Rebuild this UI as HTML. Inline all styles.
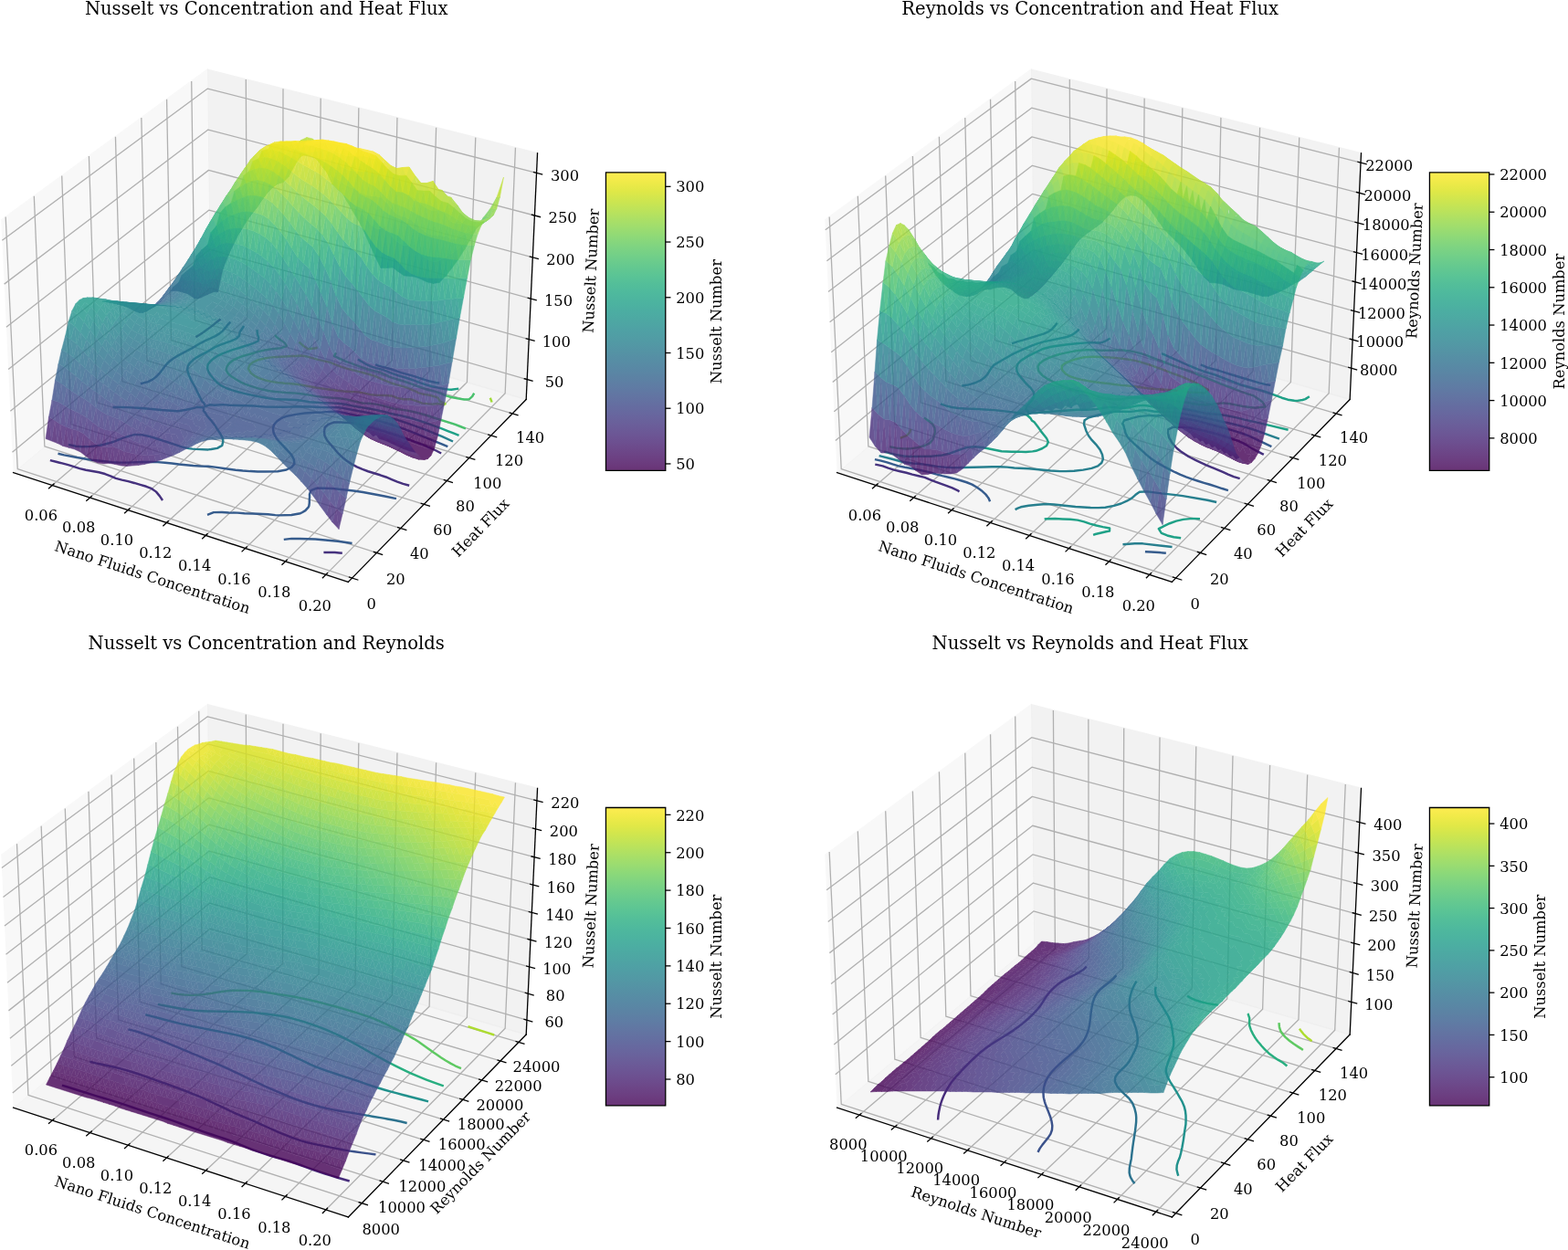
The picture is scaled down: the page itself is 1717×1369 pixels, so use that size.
<!DOCTYPE html><html><head><meta charset="utf-8"><title>Nusselt and Reynolds surfaces</title><style>html,body{margin:0;padding:0;background:#fff}svg{display:block}text{font-family:"DejaVu Serif","Liberation Serif",serif}.sf path{stroke-width:1;stroke-linejoin:round}.aa{fill:#440256;stroke:#440256}.ab{fill:#450559;stroke:#450559}.ac{fill:#46085c;stroke:#46085c}.ad{fill:#460b5e;stroke:#460b5e}.ae{fill:#470e61;stroke:#470e61}.af{fill:#471164;stroke:#471164}.ag{fill:#481467;stroke:#481467}.ah{fill:#481769;stroke:#481769}.ai{fill:#481a6c;stroke:#481a6c}.aj{fill:#481c6e;stroke:#481c6e}.ak{fill:#481f70;stroke:#481f70}.al{fill:#482173;stroke:#482173}.am{fill:#482475;stroke:#482475}.an{fill:#482677;stroke:#482677}.ao{fill:#482979;stroke:#482979}.ap{fill:#472c7a;stroke:#472c7a}.aq{fill:#472e7c;stroke:#472e7c}.ar{fill:#46307e;stroke:#46307e}.as{fill:#46337f;stroke:#46337f}.at{fill:#453581;stroke:#453581}.au{fill:#453882;stroke:#453882}.av{fill:#443a83;stroke:#443a83}.aw{fill:#433d84;stroke:#433d84}.ax{fill:#423f85;stroke:#423f85}.ay{fill:#424186;stroke:#424186}.az{fill:#414487;stroke:#414487}.aA{fill:#404688;stroke:#404688}.aB{fill:#3f4889;stroke:#3f4889}.aC{fill:#3e4a89;stroke:#3e4a89}.aD{fill:#3d4d8a;stroke:#3d4d8a}.aE{fill:#3c4f8a;stroke:#3c4f8a}.aF{fill:#3b518b;stroke:#3b518b}.aG{fill:#3a538b;stroke:#3a538b}.aH{fill:#39558c;stroke:#39558c}.aI{fill:#38588c;stroke:#38588c}.aJ{fill:#375a8c;stroke:#375a8c}.aK{fill:#365c8d;stroke:#365c8d}.aL{fill:#355e8d;stroke:#355e8d}.aM{fill:#34608d;stroke:#34608d}.aN{fill:#33628d;stroke:#33628d}.aO{fill:#32648e;stroke:#32648e}.aP{fill:#31668e;stroke:#31668e}.aQ{fill:#31688e;stroke:#31688e}.aR{fill:#306a8e;stroke:#306a8e}.aS{fill:#2f6c8e;stroke:#2f6c8e}.aT{fill:#2e6e8e;stroke:#2e6e8e}.aU{fill:#2d708e;stroke:#2d708e}.aV{fill:#2c718e;stroke:#2c718e}.aW{fill:#2c738e;stroke:#2c738e}.aX{fill:#2b758e;stroke:#2b758e}.aY{fill:#2a778e;stroke:#2a778e}.aZ{fill:#29798e;stroke:#29798e}.ba{fill:#297b8e;stroke:#297b8e}.bb{fill:#287d8e;stroke:#287d8e}.bc{fill:#277f8e;stroke:#277f8e}.bd{fill:#26818e;stroke:#26818e}.be{fill:#26828e;stroke:#26828e}.bf{fill:#25848e;stroke:#25848e}.bg{fill:#24868e;stroke:#24868e}.bh{fill:#23888e;stroke:#23888e}.bi{fill:#238a8d;stroke:#238a8d}.bj{fill:#228c8d;stroke:#228c8d}.bk{fill:#218e8d;stroke:#218e8d}.bl{fill:#21908d;stroke:#21908d}.bm{fill:#20928c;stroke:#20928c}.bn{fill:#20938c;stroke:#20938c}.bo{fill:#1f958b;stroke:#1f958b}.bp{fill:#1f978b;stroke:#1f978b}.bq{fill:#1f998a;stroke:#1f998a}.br{fill:#1e9b8a;stroke:#1e9b8a}.bs{fill:#1e9d89;stroke:#1e9d89}.bt{fill:#1f9f88;stroke:#1f9f88}.bu{fill:#1fa188;stroke:#1fa188}.bv{fill:#1fa287;stroke:#1fa287}.bw{fill:#20a486;stroke:#20a486}.bx{fill:#21a685;stroke:#21a685}.by{fill:#22a884;stroke:#22a884}.bz{fill:#24aa83;stroke:#24aa83}.bA{fill:#25ac82;stroke:#25ac82}.bB{fill:#27ad81;stroke:#27ad81}.bC{fill:#29af7f;stroke:#29af7f}.bD{fill:#2cb17e;stroke:#2cb17e}.bE{fill:#2eb37c;stroke:#2eb37c}.bF{fill:#31b57b;stroke:#31b57b}.bG{fill:#34b679;stroke:#34b679}.bH{fill:#37b878;stroke:#37b878}.bI{fill:#3aba76;stroke:#3aba76}.bJ{fill:#3dbc74;stroke:#3dbc74}.bK{fill:#40bd72;stroke:#40bd72}.bL{fill:#44bf70;stroke:#44bf70}.bM{fill:#48c16e;stroke:#48c16e}.bN{fill:#4cc26c;stroke:#4cc26c}.bO{fill:#50c46a;stroke:#50c46a}.bP{fill:#54c568;stroke:#54c568}.bQ{fill:#58c765;stroke:#58c765}.bR{fill:#5cc863;stroke:#5cc863}.bS{fill:#60ca60;stroke:#60ca60}.bT{fill:#65cb5e;stroke:#65cb5e}.bU{fill:#69cd5b;stroke:#69cd5b}.bV{fill:#6ece58;stroke:#6ece58}.bW{fill:#73d056;stroke:#73d056}.bX{fill:#77d153;stroke:#77d153}.bY{fill:#7cd250;stroke:#7cd250}.bZ{fill:#81d34d;stroke:#81d34d}.ca{fill:#86d549;stroke:#86d549}.cb{fill:#8bd646;stroke:#8bd646}.cc{fill:#90d743;stroke:#90d743}.cd{fill:#95d840;stroke:#95d840}.ce{fill:#9bd93c;stroke:#9bd93c}.cf{fill:#a0da39;stroke:#a0da39}.cg{fill:#a5db36;stroke:#a5db36}.ch{fill:#aadc32;stroke:#aadc32}.ci{fill:#b0dd2f;stroke:#b0dd2f}.cj{fill:#b5de2b;stroke:#b5de2b}.ck{fill:#bade28;stroke:#bade28}.cl{fill:#c0df25;stroke:#c0df25}.cm{fill:#c5e021;stroke:#c5e021}.cn{fill:#cae11f;stroke:#cae11f}.co{fill:#d0e11c;stroke:#d0e11c}.cp{fill:#d5e21a;stroke:#d5e21a}.cq{fill:#dae319;stroke:#dae319}.cr{fill:#dfe318;stroke:#dfe318}.cs{fill:#e5e419;stroke:#e5e419}.ct{fill:#eae51a;stroke:#eae51a}.cu{fill:#efe51c;stroke:#efe51c}.cv{fill:#f4e61e;stroke:#f4e61e}.cw{fill:#f8e621;stroke:#f8e621}.cx{fill:#fde725;stroke:#fde725}</style></head><body><svg xmlns="http://www.w3.org/2000/svg" width="1717" height="1369" viewBox="0 0 1717 1369" stroke-linejoin="round"><defs><linearGradient id="vg" x1="0" y1="0" x2="0" y2="1"><stop offset="0" stop-color="#fde725"/><stop offset=".0312" stop-color="#ece51b"/><stop offset=".0625" stop-color="#d8e219"/><stop offset=".0938" stop-color="#c2df23"/><stop offset=".125" stop-color="#addc30"/><stop offset=".1562" stop-color="#98d83e"/><stop offset=".1875" stop-color="#84d44b"/><stop offset=".2188" stop-color="#70cf57"/><stop offset=".25" stop-color="#5ec962"/><stop offset=".2812" stop-color="#4ec36b"/><stop offset=".3125" stop-color="#3fbc73"/><stop offset=".3438" stop-color="#32b67a"/><stop offset=".375" stop-color="#28ae80"/><stop offset=".4062" stop-color="#22a785"/><stop offset=".4375" stop-color="#1fa088"/><stop offset=".4688" stop-color="#1f988b"/><stop offset=".5" stop-color="#21918c"/><stop offset=".5312" stop-color="#23898e"/><stop offset=".5625" stop-color="#26828e"/><stop offset=".5938" stop-color="#297a8e"/><stop offset=".625" stop-color="#2c728e"/><stop offset=".6562" stop-color="#2f6b8e"/><stop offset=".6875" stop-color="#33638d"/><stop offset=".7188" stop-color="#375b8d"/><stop offset=".75" stop-color="#3b528b"/><stop offset=".7812" stop-color="#3e4989"/><stop offset=".8125" stop-color="#424086"/><stop offset=".8438" stop-color="#453781"/><stop offset=".875" stop-color="#472d7b"/><stop offset=".9062" stop-color="#482374"/><stop offset=".9375" stop-color="#48186a"/><stop offset=".9688" stop-color="#470d60"/><stop offset="1" stop-color="#440154"/></linearGradient></defs><g transform="translate(-123.5 -17) scale(1.63056)"><path d="M0 864L1152 864L1152 0L0 0z" style="fill:#ffffff"/><path d="M54.44 426.6L454.88 426.6L454.88 26.16L54.44 26.16z" style="fill:#ffffff"/><path d="M84.68 327.86L216.91 217.02L215.08 57.16L76.51 158.28" style="fill:#f2f2f2;opacity:0.5;stroke:#f2f2f2;stroke-linejoin:miter"/><path d="M216.91 217.02L429.11 278.7L436.68 113.33L215.08 57.16" style="fill:#e6e6e6;opacity:0.5;stroke:#e6e6e6;stroke-linejoin:miter"/><path d="M84.68 327.86L309.61 401.33L429.11 278.7L216.91 217.02" style="fill:#ececec;opacity:0.5;stroke:#ececec;stroke-linejoin:miter"/><path d="M110.83 336.41L241.69 224.22L240.9 63.71" style="fill:none;stroke:#b0b0b0;stroke-width:0.8"/><path d="M136.13 344.67L265.62 231.18L265.86 70.03" style="fill:none;stroke:#b0b0b0;stroke-width:0.8"/><path d="M161.73 353.03L289.82 238.21L291.11 76.43" style="fill:none;stroke:#b0b0b0;stroke-width:0.8"/><path d="M187.65 361.5L314.29 245.32L316.65 82.91" style="fill:none;stroke:#b0b0b0;stroke-width:0.8"/><path d="M213.89 370.06L339.04 252.52L342.5 89.46" style="fill:none;stroke:#b0b0b0;stroke-width:0.8"/><path d="M240.45 378.74L364.06 259.79L368.65 96.09" style="fill:none;stroke:#b0b0b0;stroke-width:0.8"/><path d="M267.34 387.52L389.38 267.15L395.12 102.8" style="fill:none;stroke:#b0b0b0;stroke-width:0.8"/><path d="M294.58 396.42L414.98 274.59L421.9 109.59" style="fill:none;stroke:#b0b0b0;stroke-width:0.8"/><path d="M79.53 156.07L87.55 325.45L312.22 398.65" style="fill:none;stroke:#b0b0b0;stroke-width:0.8"/><path d="M98.62 142.14L105.71 310.23L328.69 381.75" style="fill:none;stroke:#b0b0b0;stroke-width:0.8"/><path d="M117.27 128.54L123.47 295.35L344.78 365.24" style="fill:none;stroke:#b0b0b0;stroke-width:0.8"/><path d="M135.48 115.24L140.84 280.79L360.49 349.12" style="fill:none;stroke:#b0b0b0;stroke-width:0.8"/><path d="M153.29 102.25L157.82 266.55L375.84 333.36" style="fill:none;stroke:#b0b0b0;stroke-width:0.8"/><path d="M170.69 89.55L174.45 252.62L390.85 317.96" style="fill:none;stroke:#b0b0b0;stroke-width:0.8"/><path d="M187.71 77.13L190.72 238.98L405.52 302.91" style="fill:none;stroke:#b0b0b0;stroke-width:0.8"/><path d="M204.35 64.99L206.64 225.63L419.87 288.18" style="fill:none;stroke:#b0b0b0;stroke-width:0.8"/><path d="M429.72 265.29L216.77 204.03L84.01 314.14" style="fill:none;stroke:#b0b0b0;stroke-width:0.8"/><path d="M430.96 238.36L216.47 177.96L82.69 286.55" style="fill:none;stroke:#b0b0b0;stroke-width:0.8"/><path d="M432.21 211.03L216.16 151.52L81.34 258.54" style="fill:none;stroke:#b0b0b0;stroke-width:0.8"/><path d="M433.48 183.3L215.85 124.72L79.97 230.1" style="fill:none;stroke:#b0b0b0;stroke-width:0.8"/><path d="M434.77 155.16L215.54 97.53L78.58 201.23" style="fill:none;stroke:#b0b0b0;stroke-width:0.8"/><path d="M436.07 126.59L215.22 69.96L77.17 171.9" style="fill:none;stroke:#b0b0b0;stroke-width:0.8"/><path d="M84.68 327.86L309.61 401.33" style="fill:none;stroke:#000000;stroke-width:0.8;stroke-linecap:square"/><path d="M111.97 335.43L108.55 338.37" style="fill:none;stroke:#000000;stroke-width:0.8;stroke-linecap:square"/><text style="font-size:10px;text-anchor:middle" x="103.32" y="359.75">0.06</text><path d="M137.26 343.68L133.87 346.65" style="fill:none;stroke:#000000;stroke-width:0.8;stroke-linecap:square"/><text style="font-size:10px;text-anchor:middle" x="128.64" y="368.13">0.08</text><path d="M162.85 352.03L159.49 355.04" style="fill:none;stroke:#000000;stroke-width:0.8;stroke-linecap:square"/><text style="font-size:10px;text-anchor:middle" x="154.26" y="376.61">0.10</text><path d="M188.76 360.48L185.44 363.53" style="fill:none;stroke:#000000;stroke-width:0.8;stroke-linecap:square"/><text style="font-size:10px;text-anchor:middle" x="180.19" y="385.2">0.12</text><path d="M214.98 369.04L211.7 372.12" style="fill:none;stroke:#000000;stroke-width:0.8;stroke-linecap:square"/><text style="font-size:10px;text-anchor:middle" x="206.45" y="393.89">0.14</text><path d="M241.53 377.7L238.29 380.82" style="fill:none;stroke:#000000;stroke-width:0.8;stroke-linecap:square"/><text style="font-size:10px;text-anchor:middle" x="233.04" y="402.68">0.16</text><path d="M268.41 386.47L265.21 389.63" style="fill:none;stroke:#000000;stroke-width:0.8;stroke-linecap:square"/><text style="font-size:10px;text-anchor:middle" x="259.95" y="411.59">0.18</text><path d="M295.63 395.35L292.47 398.55" style="fill:none;stroke:#000000;stroke-width:0.8;stroke-linecap:square"/><text style="font-size:10px;text-anchor:middle" x="287.21" y="420.61">0.20</text><text style="font-size:10px;text-anchor:middle" x="177.08" y="401.43" transform="rotate(-341.91 177.08 401.43)">Nano Fluids Concentration</text><path d="M429.11 278.7L309.61 401.33" style="fill:none;stroke:#000000;stroke-width:0.8;stroke-linecap:square"/><path d="M310.33 398.03L316.01 399.89" style="fill:none;stroke:#000000;stroke-width:0.8;stroke-linecap:square"/><text style="font-size:10px;text-anchor:middle" x="325.15" y="419.73">0</text><path d="M326.81 381.15L332.45 382.96" style="fill:none;stroke:#000000;stroke-width:0.8;stroke-linecap:square"/><text style="font-size:10px;text-anchor:middle" x="341.47" y="402.66">20</text><path d="M342.91 364.65L348.51 366.42" style="fill:none;stroke:#000000;stroke-width:0.8;stroke-linecap:square"/><text style="font-size:10px;text-anchor:middle" x="357.42" y="385.99">40</text><path d="M358.64 348.54L364.19 350.27" style="fill:none;stroke:#000000;stroke-width:0.8;stroke-linecap:square"/><text style="font-size:10px;text-anchor:middle" x="372.99" y="369.71">60</text><path d="M374.01 332.8L379.51 334.49" style="fill:none;stroke:#000000;stroke-width:0.8;stroke-linecap:square"/><text style="font-size:10px;text-anchor:middle" x="388.2" y="353.8">80</text><path d="M389.03 317.41L394.49 319.06" style="fill:none;stroke:#000000;stroke-width:0.8;stroke-linecap:square"/><text style="font-size:10px;text-anchor:middle" x="403.08" y="338.24">100</text><path d="M403.72 302.37L409.13 303.98" style="fill:none;stroke:#000000;stroke-width:0.8;stroke-linecap:square"/><text style="font-size:10px;text-anchor:middle" x="417.62" y="323.04">120</text><path d="M418.08 287.66L423.45 289.23" style="fill:none;stroke:#000000;stroke-width:0.8;stroke-linecap:square"/><text style="font-size:10px;text-anchor:middle" x="431.83" y="308.17">140</text><text style="font-size:10px;text-anchor:middle" x="400.97" y="367.19" transform="rotate(-45.74 400.97 367.19)">Heat Flux</text><path d="M429.11 278.7L436.68 113.33" style="fill:none;stroke:#000000;stroke-width:0.8;stroke-linecap:square"/><path d="M427.94 264.77L433.3 266.32" style="fill:none;stroke:#000000;stroke-width:0.8;stroke-linecap:square"/><text style="font-size:10px;text-anchor:middle" x="448.06" y="270.3">50</text><path d="M429.16 237.85L434.56 239.37" style="fill:none;stroke:#000000;stroke-width:0.8;stroke-linecap:square"/><text style="font-size:10px;text-anchor:middle" x="449.42" y="243.4">100</text><path d="M430.39 210.53L435.84 212.03" style="fill:none;stroke:#000000;stroke-width:0.8;stroke-linecap:square"/><text style="font-size:10px;text-anchor:middle" x="450.8" y="216.11">150</text><path d="M431.65 182.81L437.14 184.29" style="fill:none;stroke:#000000;stroke-width:0.8;stroke-linecap:square"/><text style="font-size:10px;text-anchor:middle" x="452.21" y="188.42">200</text><path d="M432.92 154.67L438.46 156.13" style="fill:none;stroke:#000000;stroke-width:0.8;stroke-linecap:square"/><text style="font-size:10px;text-anchor:middle" x="453.63" y="160.32">250</text><path d="M434.22 126.12L439.79 127.55" style="fill:none;stroke:#000000;stroke-width:0.8;stroke-linecap:square"/><text style="font-size:10px;text-anchor:middle" x="455.08" y="131.79">300</text><text style="font-size:10px;text-anchor:middle" x="476.04" y="192.53" transform="rotate(-87.38 476.04 192.53)">Nusselt Number</text><path d="M109.39 319.56L113.43 320.6L115.74 321.19L117.5 321.62L121.52 322.7L125.42 323.88L129.25 325.13L133.37 326.13L137.82 326.86L142.17 327.68L146.24 328.75L149.94 330.15L153.52 331.68L157.6 332.76L161.81 333.73L165.91 334.82L169.92 335.99L173.94 337.17L177.65 338.62L180.61 340.76L182.13 342.6L182.91 343.52L184.92 346.5M293.1 381.47L295.15 381.41L300.57 381.49L303.48 381.75L305.6 381.97M350.59 336.57L346.43 335.38L342.52 333.97L338.75 332.42L335 330.86L331.05 329.51L326.99 328.28L322.97 327.03L319.11 325.62L315.47 324.01L313.76 323.11L312.05 322.2L308.87 320.17L306.06 317.93L305.99 317.87L303.33 315.37L301.94 313.86L300.93 312.65L298.78 310.11L298.6 309.88L296.22 307.17L295.5 306.34L294.27 304.08L293.74 303.04L293.48 300.22L293.57 299.84L293.9 297.61L296.12 295.56L299.44 294.3L300.14 294.07L304.9 294.02L309.69 294.38L310.23 294.41L314.24 294.97L318.65 295.7L322.77 296.71L326.74 297.87L330.68 299.08L334.62 300.29L338.52 301.54L342.4 302.83L346.24 304.17L350.02 305.57L353.78 307.01L357.58 308.42L361.38 309.84L361.59 309.93L365.04 311.41L368.61 313.08L372.05 314.9M223.89 224.77L221.5 226.55L219.3 228.4L216.95 230.21L214.51 231.99L212.04 233.78L209.41 235.53L207.21 236.8" style="fill:none;stroke:#46327e;stroke-width:1.5"/><path d="M266.33 372.82L271.53 372.18L276.98 372.21L287.54 372.58L297.53 373.54L302.56 373.98L312.19 375.32M114.68 315.09L118.78 316.06L127.38 317.69L137.34 319.33L151.24 320.86L155.09 321.04L161.23 321.13L171.28 320.71L178.08 320.68L181.69 320.83L186.57 321.17L191.23 321.72L195.86 322.3L205.47 323.15L210.4 323.47L215.51 323.63L220.18 324.18L230.46 325.68L233.94 326.11L238.71 326.59L243.64 326.94L248.71 327.14L253.94 327.2L262.23 327.02L268.09 325.98L271.58 324.21L273.46 321.95L273.1 319.01L271.28 315.62L263.76 307.69L261.75 305.27L260.99 304.05L259.93 302.15L259.41 300.8L259.07 297.94L259.91 295.45L261.76 293.28L264.57 291.41L268.5 289.89L274.43 288.77L280.42 287.99L287.3 287.49L291.32 287.42L294.86 287.08L296.91 287L302.15 286.9L306.48 287.67L310.64 288.59L314.94 289.4L319.35 290.1L323.51 291.05L339.28 295.76L346.85 298.48L354.33 301.32L372.81 308.86L376.44 310.47M341.89 345.34L334.12 343.71L328.48 342.66L319.43 341.02L313.1 340.04L299.17 338.58L288.81 338.23L284.56 339.8L283.61 342.42L283.69 344.54L283.54 345.33L283.5 348.25L283.25 350.18L282.91 351.02L280.82 353.32L278.65 354.64L277.44 355.22L271.48 356.35L262.86 356.55L260.62 356.39L255.75 355.87L245.44 355.39L239.87 355.19L235.18 354.87L229.38 354.82L224.73 354.53L219.23 354.57L214.96 356.21M230.43 226.68L228.63 228.64L227.1 230.68L225.3 232.66L223.07 234.51L220.3 236.21L217.05 237.78L213.56 239.29L210.38 240.89L204.65 244.3L195.33 249.25L192.46 250.98L189.93 252.83L187.85 254.81L186.1 256.91L182.81 261.19L180.88 263.25L178.43 265.17L175.16 266.84L170.11 268.19L170.11 268.19" style="fill:none;stroke:#365c8d;stroke-width:1.5"/><path d="M121.74 309.11L126.75 310.13L130.61 310.45L136.49 310.34L143.09 309.56L149.15 308.01L152.79 306.9L158.34 304.58L165.63 302.42L166.17 302.31L171.14 302.51L175.34 303.38L179.26 304.51L198.35 310.69L202.53 311.62L204.95 311.93L207.25 312.09L215.56 312.41L217.59 312.21L221.68 311.49L224.89 309.66L225.56 307.05L225.37 305.19L224.99 304.07L223.79 301.92L221.84 299.01L220 296.02L217.93 293.26L214.86 289.85L213.73 287.84L212.38 286.35L212.6 284.31L208.02 283.82L206.23 284.46L200.8 285.66L195.27 286.56L194.64 286.56L184.02 285.84L171.1 284.59L161.63 284.04L156.69 283.88L151.49 283.94M239.54 229.34L236.76 233.51L236.43 235.93L234.51 237.88L231.01 239.37L223.34 242.18L219.91 243.72L214.11 247.12L210.89 248.73L207.91 250.42L205.31 252.24L203.23 254.22L201.86 256.42L201.53 258.94L202.49 262.12L203.88 265.27L207.15 271.24L208.59 274.39L211.75 280.55L212.6 280.98L213.65 283.38L216.8 282.26L219.75 282.52L225.44 282.19L229.95 282.56L239.81 282.9L246.01 283.05L254.29 283.71L266.15 283.78L269.67 283.71L275.02 283.5L285.1 283.66L289.93 283.94L302.93 284.16L304.89 284.33L324.37 287.92L326.34 288.34L334.44 290.45L338.61 291.4L342.65 292.48L350.39 295.02L361.89 299.16L372.75 303.69L379.93 306.95M370.88 267.69L368.45 267.43L364.35 266.5L356.73 264.1L352.96 262.88L345.15 260.71L337.76 258.18L329.94 256.09L327.9 255.14L327.9 255.14" style="fill:none;stroke:#277f8e;stroke-width:1.5"/><path d="M248.37 231.92L248.57 234.47L248.7 235.11L249.47 237.24L249.13 239.04L248.97 239.61L248.01 240.01L245.48 241.11L241.41 242.44L239.63 242.99L237.29 243.77L233 245.04L231.89 245.4L229 246.41L225.29 247.87L222.71 249.02L221.88 249.43L219.21 251.21L216.97 253.14L215.4 255.26L215.38 255.35L215.02 257.76L215.53 259.57L216.03 260.68L217.24 262.45L218.58 264.08L219.33 265.03L221.62 267.44L222.06 267.77L224.36 269.48L227.63 271.06L231.24 272.36L235.03 273.51L238.96 274.54L243.04 275.44L247.19 276.29L251.34 277.14L255.33 277.83L255.62 277.88L260.1 278.44L264.87 278.75L267.38 278.79L269.85 278.87L274.76 279.04L279.13 279.67L279.18 279.68L283.5 280.41L288.26 280.74L292.31 280.97L293.09 281L298.07 281.13L302.5 281.37L302.9 281.39L307.41 281.96L311.63 282.81L315.86 283.66L320.27 284.34L322.48 284.69L324.7 285L328.96 285.84L333.02 286.87L337.05 287.94L341.27 288.83L345.54 289.68L349.68 290.67L353.67 291.8L357.57 293.04L361.39 294.37L365.17 295.73L368.97 297.1L372.74 298.5L376.48 299.95L380.21 301.42L383.95 302.89M383.76 271.45L378.82 272.16L377.1 272.08L374.25 271.66L369.99 270.87L365.82 269.98L361.88 268.89L358.14 267.61L354.48 266.26L350.81 264.94L347.04 263.71L343.12 262.64L339.44 261.35L337.09 260.37L335.93 259.91L332.31 258.58L328.31 257.62L324.59 256.4L321.25 254.84L318.17 253.05L316.1 251.7" style="fill:none;stroke:#1fa187;stroke-width:1.5"/><path d="M260.46 235.45L261.56 236.82L264.22 238.83L264.93 239.26L266.93 240.81L268.32 242.77L264.54 244.18L262.91 244.37L258.29 244.88L257.25 244.97L252.64 245.75L250.96 246.13L248 246.93L243.77 248.23L243.48 248.32L239.2 249.44L235.75 250.71L235.33 250.86L232.11 252.48L229.74 254.36L228.24 256.5L227.9 257.56L227.63 258.93L228.79 261.17L229.86 262.21L231.33 263.36L234.22 265.27L237.32 266.99L237.89 267.26L240.68 268.49L244.27 269.81L248.04 270.98L251.94 272.03L256.04 272.91L257.26 273.09L260.49 273.49L265.09 273.92L269.79 274.28L270.1 274.3L274.6 274.53L279.14 275.04L283.45 275.76L284.33 275.92L287.72 276.52L292.21 277.08L296.86 277.5L298.95 277.65L301.61 277.83L306.19 278.32L310.44 279.12L314.45 280.16L318.6 281.06L319.6 281.18L323.37 281.39L327.96 281.89L332.23 282.71L336.23 283.79L340.21 284.89L342.02 285.22L344.64 285.57L349.13 286.19L353.41 287.03L357.51 288.04L361.5 289.18L365.4 290.41L369.28 291.67L373.22 292.88L377.16 294.1L381.02 295.41L384.77 296.83L388.48 298.32M394.15 274.49L392.93 276.71L390.72 278.65L387.46 278.72L383.03 278.05L378.79 277.2L374.83 276.08L371.37 274.48L367.46 273.33L363.43 272.31L359.54 271.15L355.86 269.81L352.24 268.41L348.56 267.08L344.77 265.87L340.91 264.74L337.24 263.43L334.5 262.17L333.84 261.88L330.29 260.47L326.4 259.41L322.52 258.33L318.79 257.13L315.17 255.83L311.6 254.5L308.04 253.16L304.67 251.66L301.33 250.15L300.15 249.56L301.48 247.42" style="fill:none;stroke:#4ac16d;stroke-width:1.5"/><path d="M276.56 240.15L277.1 240.59L279.54 242.84L281.88 244.22L282.35 244.77L283.65 244.73L287.93 244.22L288.93 243.76M404.95 277.64L406.03 280.54L406.04 280.59M246.9 262.98L250.11 264.61L253.8 265.83L257.86 266.72L262.22 267.36L265.84 267.75L266.75 267.84L271.42 268.19L275.97 268.66L280.01 269.36L280.23 269.4L284.44 270.18L288.72 270.91L293.08 271.58L297.51 272.17L298.78 272.34L301.98 272.74L306.6 273.17L311.36 273.48L311.44 273.49L316.16 273.75L320.42 274.53L324.53 275.45L328.05 275.8L329.16 275.9L334.19 275.96L338.32 276.23L338.92 276.31L339.98 276.72L342.49 277.77L345.59 278.38L346.74 278.6L351.81 278.63L355.62 279.89L359.3 281.28L363.98 281.71L366.28 281.88L369.37 281.45L373.75 282.17L374.78 281.77L374.47 281.46L371.03 279.81L370.09 277.78L368.65 277.15L364.72 276L362.25 275.47L360.39 275.25L356.4 274.19L355.26 273.42L353.07 272.49L349.57 270.97L345.78 269.75L341.82 268.69L337.98 267.52L334.4 266.11L331 264.55L327.53 263.07L323.78 261.86L319.88 260.8L315.89 259.82L311.93 258.83L308.05 257.77L304.3 256.59L300.78 255.23L297.84 253.96L297.35 253.77L296.49 253.57L293.3 252.91L289.29 252.01L285.47 250.94L281.73 249.81L277.28 249.31L274.49 249.64L271.93 249.64L266.66 249.89L266.65 249.89L261.33 250.18L259.45 250.31L255.68 250.76L253.61 251.15L249.08 252.17L248.74 252.27L245.39 253.85L243.24 255.79L242.49 257.97L242.49 258.16L244.18 260.93L244.71 261.43L246.9 262.98z" style="fill:none;stroke:#a0da39;stroke-width:1.5"/>
   </g><g class=sf transform="scale(.5)"><g opacity=".8"><path class=ap d="M469 639l8 1 4-42zM462 642l7-3 5-32z"/><path class=aq d="M455 645l7-3 5-28zM448 648l7-3 4-26z"/><path class=ar d="M440 652l8-4 4-26z"/><path class=as d="M433 654l7-2 5-30z"/><path class=at d="M477 640l4-42 7-8zM469 639l5-32 7-9zM462 642l5-28 7-7zM455 645l4-26 8-5z"/><path class=au d="M448 648l4-26 7-3zM426 654l7 0 4-35z"/><path class=av d="M440 652l5-30 7 0z"/><path class=ax d="M433 654l4-35 8 3zM418 648l8 6 4-38z"/><path class=az d="M467 614l7-7 4-20zM459 619l8-5 4-21zM426 654l4-38 7 3zM411 644l7 4 4-33z"/><path class=aA d="M474 607l7-9 4-19zM452 622l7-3 5-24z"/><path class=aB d="M481 598l7-8 5-22zM403 641l8 3 4-29z"/><path class=aC d="M474 607l4-20 7-8zM467 614l4-21 7-6zM445 622l7 0 4-29zM418 648l4-33 8 1z"/><path class=aD d="M481 598l4-19 8-11zM459 619l5-24 7-2z"/><path class=aE d="M488 590l5-22 7-8zM452 622l4-29 8 2zM437 619l8 3 4-33zM411 644l4-29 7 0zM396 639l7 2 4-27z"/><path class=aG d="M445 622l4-33 7 4zM430 616l7 3 5-33zM403 641l4-27 8 1zM388 637l8 2 4-25z"/><path class=aH d="M478 587l7-8 5-15zM471 593l7-6 5-17zM381 637l7 0 4-23z"/><path class=aI d="M485 579l8-11 4-13zM464 595l7-2 5-22zM422 615l8 1 4-27zM396 639l4-25 7 0zM343 664l8-8 4-4zM335 671l8-7 4-3zM328 677l7-6 5-2zM320 682l8-5 4-3z"/><path class=aJ d="M493 568l7-8 4-16zM437 619l5-33 7 3zM388 637l4-23 8 0zM373 638l8-1 4-20zM358 648l8-6 4-11zM351 656l7-8 4-6zM343 664l4-3 8-9zM335 671l5-2 7-8zM328 677l4-3 8-5z"/><path class=aK d="M485 579l5-15 7-9zM478 587l5-17 7-6zM471 593l5-22 7-1zM456 593l8 2 4-26zM415 615l7 0 5-25zM366 642l7-4 4-15zM351 656l4-4 7-10z"/><path class=aL d="M493 568l4-13 7-11zM430 616l4-27 8-3zM407 614l8 1 4-25zM381 637l4-20 7-3zM358 648l4-6 8-11zM340 669l7-8 5-1z"/><path class=aM d="M500 560l4-16 8-10zM464 595l4-26 8 2zM449 589l7 4 5-28zM422 615l5-25 7-1zM373 638l4-15 8-6zM366 642l4-11 7-8zM347 661l8-9 4-1zM347 661l5-1 7-9z"/><path class=aN d="M415 615l4-25 8 0zM400 614l7 0 5-24zM355 652l7-10 5-2zM355 652l4-1 8-11z"/><path class=aO d="M483 570l7-6 5-15zM456 593l5-28 7 4zM362 642l8-11 4-3z"/><path class=aP d="M490 564l7-9 5-13zM476 571l7-1 5-20zM442 586l7 3 4-25zM407 614l5-24 7 0zM392 614l8 0 4-22zM370 631l7-8 5-8zM362 642l5-2 7-12zM359 651l8-11 4 2z"/><path class=aQ d="M497 555l7-11 5-13zM449 589l4-25 8 1zM434 589l8-3 4-20zM385 617l7-3 5-18zM377 623l8-6 4-13zM370 631l4-3 8-13z"/><path class=aR d="M504 544l8-10 4-14zM497 555l5-13 7-11zM490 564l5-15 7-7zM483 570l5-20 7-1zM468 569l8 2 4-23zM427 590l7-1 5-22zM400 614l4-22 8-2zM377 623l5-8 7-11zM367 640l7-12 5 1zM367 640l4 2 8-13z"/><path class=aS d="M442 586l4-20 7-2zM392 614l5-18 7-4zM385 617l4-13 8-8z"/><path class=aT d="M504 544l5-13 7-11zM476 571l4-23 8 2zM434 589l5-22 7-1zM419 590l8 0 4-23zM374 628l8-13 4-1zM374 628l5 1 7-15z"/><path class=aU d="M512 534l4-14 8-10zM461 565l7 4 5-25z"/><path class=aV d="M495 549l7-7 5-11zM468 569l5-25 7 4zM427 590l4-23 8 0zM412 590l7 0 5-24zM382 615l7-11 5-5zM382 615l4-1 8-15zM379 629l7-15 5 5z"/><path class=aW d="M502 542l7-11 5-8zM488 550l7-1 5-18zM453 564l8 1 4-24zM419 590l5-24 7 1zM404 592l8-2 4-21zM397 596l7-4 5-16zM389 604l8-8 4-10z"/><path class=aX d="M509 531l7-11 5-12zM502 542l5-11 7-8zM495 549l5-18 7 0zM446 566l7-2 5-22zM389 604l5-5 7-13zM386 614l8-15 4 4zM386 614l5 5 7-16z"/><path class=aY d="M516 520l8-10 4-13zM509 531l5-8 7-15zM480 548l8 2 4-23zM461 565l4-24 8 3zM412 590l4-21 8-3zM404 592l5-16 7-7zM397 596l4-10 8-10z"/><path class=aZ d="M488 550l4-23 8 4zM453 564l5-22 7-1zM439 567l7-1 4-23z"/><path class=ba d="M516 520l5-12 7-11zM473 544l7 4 5-27zM431 567l8 0 4-26zM394 599l7-13 5-1zM394 599l4 4 8-18z"/><path class=bb d="M524 510l4-13 8-11zM507 531l7-8 5-9zM446 566l4-23 8-1z"/><path class=bc d="M514 523l7-15 5-1zM514 523l5-9 7-7zM500 531l7 0 5-20zM480 548l5-27 7 6zM439 567l4-26 7 2zM424 566l7 1 4-26zM401 586l8-10 4-8zM401 586l5-1 7-17zM398 603l8-18 5 7z"/><path class=bd d="M507 531l5-20 7 3zM465 541l8 3 4-28zM416 569l8-3 4-20zM409 576l7-7 5-14z"/><path class=be d="M923 612l8-47 5 53 8-46 5 49 8-48 5 46-13 2-13-3zM521 508l7-11 5-7zM521 508l5-1 7-17zM492 527l8 4 4-27zM431 567l4-26 8 0zM409 576l4-8 8-13zM406 585l5 7 7-20z"/><path class=bf d="M911 607l7-53 5 58zM500 531l4-27 8 7zM473 544l4-28 8 5zM458 542l7-1 5-28zM424 566l4-20 7-5zM416 569l5-14 7-9zM406 585l7-17 5 4z"/><path class=bg d="M872 595l8-59 5 68 8-66 5 67 7-61 6 63-13-2-13-1zM528 497l8-11 4-12zM519 514l7-7 5-15zM411 592l7-20 5 10z"/><path class=bh d="M860 586l7-59 5 68zM962 619l8-53 6 39zM528 497l5-7 7-16zM526 507l7-17 5-3zM465 541l5-28 7 3zM450 543l8-1 4-31z"/><path class=bi d="M847 587l7-75 6 74zM512 511l7 3 5-26zM485 521l7 6 5-31zM443 541l7 2 5-32zM413 568l8-13 4-2zM413 568l5 4 7-19zM418 572l5 10 7-22z"/><path class=bj d="M536 486l4-12 8-15zM822 563l7-61 5 85 8-90 5 90-13 0zM931 565l5 53 8-46 5 49 8-48-13-1zM526 507l5-15 7-5zM519 514l5-26 7 4zM492 527l5-31 7 8zM458 542l4-31 8 2zM421 555l7-9 5-10zM418 572l7-19 5 7z"/><path class=bk d="M918 554l5 58 8-47zM957 573l5 46 8-53zM533 490l7-16 5-2zM533 490l5-3 7-15zM435 541l8 0 4-26zM428 546l7-5 5-18zM421 555l4-2 8-17z"/><path class=bl d="M905 544l6 63 7-53zM504 504l8 7 4-30zM477 516l8 5 4-31zM450 543l5-32 7 0z"/><path class=bm d="M976 605l8-47 5 30zM880 536l5 68 8-66 5 67 7-61-12-6zM512 511l4-30 8 7zM485 521l4-31 8 6zM443 541l4-26 8-4zM428 546l5-10 7-13zM425 553l5 7 7-23z"/><path class=bn d="M540 474l8-15 5-7zM867 527l5 68 8-59zM540 474l5-2 8-20zM538 487l7-15 6-3zM531 492l7-5 5-16zM470 513l7 3 5-32zM435 541l5-18 7-8zM425 553l8-17 4 1z"/><path class=bo d="M809 534l7-38 6 67zM970 566l6 39 8-47zM430 560l7-23 5 10z"/><path class=bp d="M854 512l6 74 7-59zM538 487l5-16 8-2zM524 488l7 4 5-26zM497 496l7 8 5-32zM477 516l5-32 7 6z"/><path class=bq d="M989 588l8-38 6 19zM829 502l5 85 8-90 5 90 7-75-12-15zM545 472l8-20 5 3zM545 472l6-3 7-14zM531 492l5-26 7 5zM504 504l5-32 7 9zM462 511l8 2 4-32zM433 536l7-13 5-6zM433 536l4 1 8-20z"/><path class=br d="M548 459l5-7 7-20zM455 511l7 0 5-28zM437 537l5 10 8-24z"/><path class=bs d="M816 496l6 67 7-61zM984 558l5 30 8-38zM516 481l8 7 5-29zM489 490l8 6 5-31zM470 513l4-32 8 3zM447 515l8-4 4-22zM440 523l7-8 5-14zM437 537l8-20 5 6zM442 547l8-24 5 13z"/><path class=bt d="M797 507l6-27 6 54zM553 452l5 3 7-22zM931 565l8-52 5 59 8-56 5 57-13-1zM551 469l7-14 5-1zM543 471l8-2 5-17zM524 488l5-29 7 7zM440 523l5-6 7-16z"/><path class=bu d="M553 452l7-20 5 1zM551 469l5-17 7 2zM497 496l5-31 7 7zM462 511l5-28 7-2zM447 515l5-14 7-12z"/><path class=bv d="M803 480l6 54 7-38zM918 554l8-50 5 61zM957 573l8-57 5 50zM558 455l5-1 7-14zM482 484l7 6 5-31zM455 511l4-22 8-6zM445 517l5 6 7-23zM450 523l5 13 7-27z"/><path class=bw d="M1003 569l8-32 6 10zM997 550l6 19 8-32zM558 455l7-22 5 7zM536 466l7 5 5-26zM509 472l7 9 5-31zM445 517l7-16 5-1z"/><path class=bx d="M905 544l8-52 5 62zM970 566l8-48 6 40zM543 471l5-26 8 7zM516 481l5-31 8 9zM489 490l5-31 8 6zM450 523l7-23 5 9z"/><path class=by d="M560 432l5 1 7-22zM785 483l6-19 6 43zM893 538l7-56 5 62zM563 454l7-14 5-4zM474 481l8 3 5-28zM452 501l7-12 5-8z"/><path class=bz d="M791 464l6 43 6-27zM565 433l5 7 7-24zM867 527l7-55 6 64 7-61 6 63-13-2zM984 558l7-34 6 26zM939 513l5 59 8-56 5 57 8-57-13 0zM556 452l7 2 5-20zM529 459l7 7 5-28zM452 501l5-1 7-19z"/><path class=bA d="M565 433l7-22 5 5zM926 504l5 61 8-52zM570 440l5-4 7-12zM563 454l5-20 7 2zM536 466l5-28 7 7zM502 465l7 7 5-30zM482 484l5-28 7 3zM467 483l7-2 5-22zM459 489l8-6 5-16z"/><path class=bB d="M854 512l8-49 5 64zM570 440l7-24 5 8zM913 492l5 62 8-50zM965 516l5 50 8-48zM509 472l5-30 7 8zM459 489l5-8 8-14zM457 500l5 9 7-26z"/><path class=bC d="M772 462l6-12 7 33zM1011 537l6 10 8-26zM997 550l8-29 6 16zM978 518l6 40 7-34zM556 452l5-26 7 8zM548 445l8 7 5-26zM521 450l8 9 4-30zM474 481l5-22 8-3zM467 483l5-16 7-8zM457 500l7-19 5 2zM462 509l7-26 5 12z"/><path class=bD d="M1017 547l8-26 6 2zM778 450l7 33 6-19zM900 482l5 62 8-52zM991 524l6 26 8-29zM575 436l7-12 6-5zM529 459l4-30 8 9zM494 459l8 6 4-29z"/><path class=bE d="M572 411l5 5 7-24zM577 416l5 8 8-24zM842 497l7-51 5 66zM568 434l7 2 5-21zM502 465l4-29 8 6z"/><path class=bF d="M816 496l7-66 6 72 7-69 6 64-13 5zM874 472l6 64 7-61 6 63 7-56-13-7zM582 424l6-5 7-9zM575 436l5-21 8 4zM541 438l7 7 5-28zM487 456l7 3 5-24zM464 481l8-14 5-5zM464 481l5 2 8-21z"/><path class=bG d="M760 441l6-2 6 23zM577 416l7-24 6 8zM766 439l6 23 6-12zM803 480l7-51 6 67zM1011 537l7-25 7 9zM582 424l8-24 5 10zM862 463l5 64 7-55zM1005 521l6 16 7-25zM548 445l5-28 8 9zM514 442l7 8 5-30zM479 459l8-3 4-18zM472 467l7-8 5-11zM469 483l5 12 8-29z"/><path class=bH d="M521 450l5-30 7 9zM494 459l5-24 7 1zM472 467l5-5 7-14zM469 483l8-21 5 4z"/><path class=bI d="M1025 521l6 2 7-19zM791 464l6-39 6 55zM849 446l5 66 8-49zM588 419l7-9 5-2zM568 434l5-30 7 11zM561 426l7 8 5-30zM487 456l4-18 8-3z"/><path class=bJ d="M584 392l6 8 7-26zM1031 523l7-19 7-7zM590 400l5 10 7-22zM595 410l5-2 7-5zM978 518l8-33 5 39zM533 429l8 9 5-30zM479 459l5-11 7-10z"/><path class=bK d="M747 417l6 9 7 15zM753 426l7 15 6-2zM778 450l7-32 6 46zM1025 521l7-16 6-1zM595 410l7-22 5 15zM1018 512l7 9 7-16zM926 504l8-48 5 57 8-52 5 55-13-3zM991 524l8-35 6 32zM588 419l5-20 7 9zM580 415l8 4 5-20zM541 438l5-30 7 9zM506 436l8 6 5-28zM477 462l5 4 7-23z"/><path class=bL d="M590 400l7-26 5 14zM810 429l6 67 7-66 6 72 7-69 6 64 7-51-13-13-13-3zM952 516l8-56 5 56 8-51 5 53-13-2zM600 408l7-5 6-5zM514 442l5-28 7 6zM477 462l7-14 5-5z"/><path class=bM d="M602 388l5 15 7-22zM766 439l6-27 6 38zM607 403l7-22 6 18zM797 425l6 55 7-51zM607 403l6-5 7 1zM913 492l8-46 5 58zM1005 521l7-31 6 22zM553 417l8 9 5-33zM499 435l7 1 5-23zM484 448l7-10 5-9zM482 466l7-23 5 10z"/><path class=bN d="M740 415l7 2 6 9zM1038 504l7-7 7-8zM986 485l5 39 8-35zM561 426l5-33 7 11zM526 420l7 9 5-33zM491 438l8-3 5-17zM484 448l5-5 7-14z"/><path class=bO d="M597 374l5 14 7-28zM735 395l5 20 7 2zM602 388l7-28 5 21zM614 381l6 18 7-24zM753 426l6-20 7 33zM785 418l6 46 6-39zM1032 505l6-1 8-7zM900 482l8-48 5 58zM1018 512l8-19 6 12zM999 489l6 32 7-31zM600 408l5-23 8 13zM593 399l7 9 5-23zM580 415l6-31 7 15zM573 404l7 11 6-31zM533 429l5-33 8 12zM506 436l5-23 8 1z"/><path class=bP d="M1045 497l7-8 7-13zM1038 504l8-7 6-8zM620 399l7-24 5 12zM772 412l6 38 7-32zM620 399l5-15 7 3zM613 398l7 1 5-15zM934 456l5 57 8-52zM973 465l5 53 8-33zM1012 490l6 22 8-19zM499 435l5-17 7-5zM491 438l5-9 8-11zM489 443l5 10 7-25z"/><path class=bQ d="M728 403l7-8 5 20zM740 415l6-18 7 29zM759 406l7 33 6-27zM862 463l7-45 5 54 8-50 5 53 8-49 5 56-13-7-13-3zM1032 505l7-11 7 3zM921 446l5 58 8-48zM947 461l5 55 8-56 5 56 8-51-13-5zM1026 493l6 12 7-11zM546 408l7 9 5-36zM489 443l7-14 5-1zM494 453l7-25 5 17z"/><path class=bR d="M614 381l8-31 5 25zM1046 497l6-8 7-1zM553 417l5-36 8 12zM519 414l7 6 5-30z"/><path class=bS d="M609 360l5 21 8-31zM1052 489l7-13 7 0zM627 375l5 12 8-26zM728 403l6-14 6 26zM746 397l7 29 6-20zM849 446l7-37 6 54zM1046 497l7-7 6-2zM908 434l5 58 8-46zM1039 494l7 3 7-7zM613 398l5-28 7 14zM526 420l5-30 7 6zM496 429l8-11 5-7z"/><path class=bT d="M722 369l6 34 7-8zM1052 489l7-1 7-12zM734 389l6 26 6-18zM625 384l7 3 6-22zM1026 493l7-9 6 10zM605 385l8 13 5-28zM593 399l5-32 7 18zM586 384l7 15 5-32zM573 404l5-35 8 15zM566 393l7 11 5-35zM511 413l8 1 5-24zM504 418l7-5 5-15zM496 429l5-1 8-17zM501 428l5 17 8-27z"/><path class=bU d="M632 387l8-26 5 1zM895 426l5 56 8-48zM999 489l8-26 5 27 8-14 6 17-14-3zM1039 494l7-7 7 3zM538 396l8 12 5-39zM519 414l5-24 7 0z"/><path class=bV d="M622 350l5 25 7-38zM1059 476l7 0 7-18zM627 375l7-38 6 24zM715 375l7-6 6 34zM715 375l6 8 7 20zM721 383l7 20 6-14zM1059 488l7-12 7-1zM632 387l6-22 7-3zM836 433l7-38 6 51zM869 418l5 54 8-50 5 53 8-49zM1053 490l6-2 8-5zM986 485l8-39 5 43zM1020 476l6 17 7-9 6 10 7-7-13-3zM546 408l5-39 7 12zM511 413l5-15 8-8zM504 418l5-7 7-13zM501 428l8-17 5 7z"/><path class=bW d="M797 425l7-49 6 53zM1059 488l8-5 6-8zM856 409l6 54 7-45zM1053 490l7-5 7-2zM1007 463l5 27 8-14zM1046 487l7 3 7-5z"/><path class=bX d="M1066 476l7-1 7-17zM759 406l6-33 7 39 6-37 7 43 6-42 6 49-12-7zM810 429l7-50 6 51 7-46 6 49-13-3zM618 370l7 14 6-30zM1033 484l7-1 6 4zM558 381l8 12 5-38zM509 411l5 7 7-22z"/><path class=bY d="M1066 476l7-18 7 0zM640 361l5 1 7-23zM708 368l7 7 6 8zM746 397l7-29 6 38zM1067 483l6-8 8-4zM625 384l6-30 7 11zM973 465l8-34 5 54zM994 446l5 43 8-26zM605 385l6-33 7 18zM1020 476l7 1 6 7zM1046 487l7-3 7 1zM598 367l7 18 6-33zM1027 477l6 7 7-1zM566 393l5-38 7 14zM531 390l7 6 5-31zM509 411l7-13 5-2z"/><path class=bZ d="M710 339l5 36 7-6zM734 389l6-30 6 38zM843 395l6 51 7-37zM934 456l7-38 6 43zM1060 485l7-2 7-6zM1040 483l6 4 7-3zM586 384l5-35 7 18zM578 369l8 15 5-35zM538 396l5-31 8 4zM524 390l7 0 5-21zM516 398l8-8 5-11zM514 418l7-22 5 13z"/><path class=ca d="M634 337l6 24 7-43zM703 348l5 20 7 7zM1073 475l7-17 8-2zM638 365l7-3 5-14zM921 446l7-31 6 41zM947 461l8-47 5 46 8-43 5 48-13-5zM1067 483l7-6 7-6zM981 431l5 54 8-39zM1007 463l6 3 7 10zM1060 485l7-6 7-2zM1013 466l7 10 7 1zM1053 484l7 1 7-6zM1027 477l6 8 7-2 7 4 6-3-13-1zM1020 478l7-1 6 8 7-2 7 4-14-2zM516 398l5-2 8-17z"/><path class=cb d="M1073 458l7 0 8-26zM640 361l7-43 5 21zM703 348l7-9 5 36zM645 362l7-23 6 4zM645 362l5-14 8-5zM721 383l6-33 7 39zM1073 475l8-4 7-15zM753 368l6 38 6-33 7 39 6-37 7 43 6-42 6 49 7-49-13 0-13-1-13-2zM830 384l6 49 7-38zM1013 466l7 12 7-1zM1053 484l7 1 7-6zM1047 487l6-3 7 1zM531 390l5-21 7-4zM521 396l5 13 8-25z"/><path class=cc d="M696 351l7-3 5 20zM708 368l6-18 7 33zM740 359l6 38 7-29zM804 376l6 53 7-50 6 51 7-46-13-5zM908 434l7-32 6 44zM631 354l7 11 5-24zM1001 449l6 14 6 3zM1007 467l6-1 7 12zM551 369l7 12 5-36zM524 390l5-11 7-10z"/><path class=cd d="M638 365l5-24 7 7zM895 426l7-37 6 45zM928 415l6 41 7-38zM618 370l5-31 8 15zM994 446l7 3 6 14zM611 352l7 18 5-31zM1001 449l6 18 6-1zM558 381l5-36 8 10zM521 396l8-17 5 5z"/><path class=ce d="M652 339l6 4 7-19zM1080 458l8-2 7-25zM696 351l5-2 7 19zM650 348l8-5 5-3zM714 350l7 33 6-33 7 39 6-30-13-9zM856 409l7-29 6 38 7-34 6 38 7-37 6 41-26-8zM915 402l6 44 7-31zM941 418l6 43 8-47zM968 417l5 48 8-34zM598 367l5-32 8 17zM591 349l7 18 5-32zM994 455l7-6 6 18zM571 355l7 14 5-33z"/><path class=cf d="M647 318l5 21 7-32zM697 318l6 30 7-9zM1080 458l8-26 7-1zM690 330l6 21 7-3zM658 343l7-19 5 11zM658 343l5-3 7-5zM701 349l7 19 6-18zM955 414l5 46 8-43zM578 369l5-33 8 13zM543 365l8 4 5-26zM529 379l7-10 5-5zM529 379l5 5 7-20z"/><path class=cg d="M652 339l7-32 6 17zM690 330l7-12 6 30zM683 339l7-9 6 21zM670 335l6 5 7-1 6 6 7 6-13-12zM689 345l7 6 5-2zM650 348l6-13 7 5zM843 395l7-25 6 39zM643 341l7 7 6-13zM981 431l7 2 6 13zM988 433l6 13 7 3zM988 433l6 22 7-6zM536 369l7-4 6-15zM534 384l7-20 5 11z"/><path class=ch d="M665 324l5 11 8-14 5 18 7-9-12-9zM670 335l8-14 5 18zM663 340l7-5 6 5 7-1 6 6-13-5zM902 389l6 45 7-32zM631 354l5-24 7 11zM623 339l8 15 5-24zM981 445l7-12 6 22zM551 369l5-26 7 2zM536 369l5-5 8-14z"/><path class=ci d="M663 340l6-7 7 7 6-7 7 12-13-5zM753 368l6-27 6 32 7-31 6 33-13-2zM863 380l6 38 7-34 6 38 7-37 6 41 7-37-13-4-13-1zM968 417l6 11 7 3zM974 428l7 3 7 2zM611 352l5-27 7 14zM974 428l7 17 7-12zM967 441l7-13 7 17zM543 365l6-15 7-7z"/><path class=cj d="M659 307l6 17 7-23zM685 304l5 26 7-12zM665 324l7-23 6 20 7-17 5 26-12-9zM689 345l5-14 7 18 6-22 7 23-13-1zM740 359l6-22 7 31zM778 375l7-33 6 34zM830 384l7-26 6 37zM656 335l7 5 6-7zM850 370l6 39 7-29zM928 415l7-14 6 17zM961 416l6 25 7-13zM603 335l8 17 5-27zM954 431l7-15 6 25zM591 349l5-26 7 12zM571 355l5-26 7 7zM563 345l8 10 5-26zM541 364l5 11 8-22z"/><path class=ck d="M672 301l6 20 7-17zM1088 432l7-1 8-43zM714 350l6-24 7 24 6-19 7 28-13-9zM791 376l7-34 6 34 7-31 6 34 7-30 6 35-13-5-13-3zM669 333l7 7 6-7 7 12 5-14-12 2zM643 341l6-16 7 10zM915 402l7-1 6 14zM941 418l7-21 7 17 6 2 7 1-13-3zM636 330l7 11 6-16zM961 416l7 1 6 11zM583 336l8 13 5-26zM541 364l8-14 5 3z"/><path class=cl d="M694 331l7 18 6-22zM837 358l6 37 7-25zM922 401l6 14 7-14zM948 397l6 34 7-15zM914 417l8-16 6 17 7-17 6 17-13 0zM556 343l7 2 6-16zM549 350l7-7 5-5z"/><path class=cm d="M733 331l7 28 6-22 7 31 6-27 6 32 7-31 6 33 7-33-13 0-13-1-13-4zM656 335l6-13 7 11zM902 389l7-4 6 17zM649 325l7 10 6-13zM909 385l6 17 7-1zM935 401l6 17 7-21 7 17 6 2-13-19zM623 339l6-20 7 11zM909 385l5 32 8-16 6 17 7-17-13 0zM616 325l7 14 6-20zM941 418l7-21 6 34zM563 345l6-16 7 0zM549 350l5 3 7-15z"/><path class=cn d="M707 327l7 23 6-24 7 24 6-19-13-5zM785 342l6 34 7-34 6 34 7-31-13-3zM824 349l6 35 7-26zM669 333l5-13 8 13zM863 380l6-11 7 15zM935 401l6 17 7-21zM901 399l8-14 5 32zM603 335l6-19 7 9zM596 323l7 12 6-19zM576 329l7 7 6-18zM556 343l5-5 8-9zM554 353l7-15 6 9z"/><path class=co d="M811 345l6 34 7-30zM682 333l5-16 7 14zM850 370l6-7 7 17zM876 384l6-17 7 18 7-19 6 23-13-4zM662 322l7 11 5-13zM636 330l6-15 7 10zM583 336l6-18 7 5z"/><path class=cp d="M674 320l8 13 5-16zM856 363l7 17 6-11 7 15 6-17-13 2zM896 366l6 23 7-4zM629 319l7 11 6-15zM569 329l7 0 5-8zM561 338l8-9 5 1zM561 338l6 9 7-17z"/><path class=cq d="M694 331l6-18 7 14zM837 358l6-7 7 19zM882 367l7 18 7-19zM649 325l5-12 8 9zM856 363l6 18 7-12zM896 366l5 33 8-14zM642 315l7 10 5-12zM849 370l7-7 6 18 7-12 6 16 7-18 7 17 7-18 5 33-12-15-14 1-13-4zM616 325l6-14 7 8zM609 316l7 9 6-14zM576 329l5-8 8-3zM569 329l5 1 7-9z"/><path class=cr d="M707 327l6-15 7 14zM733 331l6-14 7 20 6-17 7 21 6-19 7 20-13-1-13-4zM687 317l7 14 6-18zM843 351l7 19 6-7zM662 322l5-11 7 9zM869 369l6 16 7-18zM596 323l5-11 8 4zM589 318l7 5 5-11z"/><path class=cs d="M720 326l6-12 7 17zM772 342l6-18 7 18 6-16 7 16zM824 349l6-10 7 19zM700 313l7 14 6-15zM843 351l6 19 7-7zM882 367l7 17 7-18zM654 313l8 9 5-11zM629 319l5-9 8 5zM622 311l7 8 5-9zM581 321l8-3 5-2zM574 330l7-9 6 6z"/><path class=ct d="M798 342l6-13 7 16 6-13 7 17-13-4zM713 312l7 14 6-12 7 17 6-14 7 20 6-17 7 21 6-19-13-2-26-6zM830 339l7 19 6-7zM674 320l6-11 7 8zM667 311l7 9 6-11zM836 355l7-4 6 19zM642 315l5-6 7 4zM634 310l8 5 5-6zM609 316l5-6 8 1zM601 312l8 4 5-6zM589 318l5-2 7-4zM581 321l6 6 7-11z"/><path class=cu d="M765 322l7 20 6-18 7 18 6-16zM817 332l7 17 6-10zM687 317l6-10 7 6zM830 339l6 16 7-4zM622 311l5-1 7 0zM614 310l8 1 5-1zM601 312l6 3 7-5zM594 316l7-4 6 3z"/><path class=cv d="M791 326l7 16 6-13 7 16 6-13zM700 313l6-7 7 6zM680 309l7 8 6-10zM823 341l7-2 6 16z"/><path class=cw d="M713 312l6-4 7 6 6-4 7 7 6-4 7 7-26-6zM817 332l6 9 7-2zM693 307l7 6 6-7z"/><path class=cx d="M752 320l6-5 7 7 6-2 7 4 6 2 7 0 6 6 7-3 6 7 7-4-26-6zM706 306l7 6 6-4 7 6 6-4 7 7 6-4 7 7 6-5 7 7 6-2 7 4 6 2 7 0 6 6 7-3 6 7 7-4 6 9-13-5-13-4-26-12-13-5-13-2-13-3z"/></g><g opacity=".8"><path class=aa d="M833 945l6 16 7-11 6 16 7-11 6 15 7-11 6 16 7-11 6 18 7-13 6 17 7-12 6 16 7-11 7 15 7-11 6 15 7-15-13 0-14-4-52-20-13-4zM826 955l7-10 6 16 7-11 6 16 7-11 6 15 7-11 6 16 7-11 6 18 7-13 6 17 7-12 6 16 7-11 7 15 7-11 6 15-53-16-13-7-13-5-13-4-13-5zM813 948l6 13 7-6 6 11 7-5 6 10 7-5 6 10 7-6 6 11 7-6 6 13 7-6 6 11 7-7 6 11 7-7 7 11 7-7 6 11 7-7-53-16-13-7-13-5-13-4-13-5-13-6zM819 961l7-6 6 11 7-5 6 10 7-5 6 10 7-6 6 11 7-6 6 13 7-6 6 11 7-7 6 11 7-7 7 11 7-7 6 11-40-12-13-5-13-7zM832 966l6 6 7-1 6 6 7-1 6 7 7-2 6 8 7-1 6 8 7-3 7 9 6-5 7 9 7-5 6 6 7-2-40-12-13-5-13-7zM851 977l7-1 6 7 7-2 6 8 7-1 6 8 7-3 7 9 6-5 7 9 7-5 6 6-13-1-13-4-14-6-13-7zM877 989l7 4 6 3 7 3 7 3 6 1 7 3 6-2 7 3-13-1-13-4-14-6zM897 999l7 3 6 1z"/><path class=ab d="M846 950l7-16 6 21 7-17 6 21 7-17 6 22 7-19 6 24 7-20 6 25 8-21 5 26 8-23 6 27 7-26 6 26-13 0-14-4-52-20-13-4zM820 938l6 17 7-10zM813 948l7-10 6 17zM800 939l6 14 7-5zM806 953l7-5 6 13zM806 953l6 8 7 0 6 6 7-1-13-5zM812 961l7 0 6 6 7-1 6 6 7-1 6 6-26-10zM864 983l6 3 7 3zM870 986l7 3 7 4 6 3 7 3zM910 1003l7 3 6-2z"/><path class=ac d="M840 929l6 21 7-16 6 21 7-17 6 21 7-17 6 22 7-19 6 24 7-20 6 25 8-21 5 26 8-23 6 27 7-26-13-1-13-3-27-8-13-3-26-8zM820 938l7-15 6 22 7-16 6 21-13-5zM807 930l6 18 7-10zM800 939l7-9 6 18zM793 943l7-4 6 14zM799 952l7 1 6 8zM825 967l6 2 7 3 6 2 7 3 6 3 7 3-13-6zM857 980l7 3 6 3z"/><path class=ad d="M814 916l6 22 7-15 6 22 7-16-13-6zM807 930l7-14 6 22zM794 921l6 18 7-9zM787 928l7-7 6 18zM787 928l6 15 7-4zM793 943l6 9 7 1zM812 961l6 2 7 4zM818 963l7 4 6 2 7 3 6 2 7 3 6 3-13-6-13-5zM870 986l7 0 7 7 6-1 7 7 6-3 7 7 7-5 6 6-13-1-13-4z"/><path class=ae d="M853 934l7-22 6 26zM801 909l6 21 7-14zM945 957l6 26 8-29zM794 921l7-12 6 21zM780 931l7-3 6 15zM780 931l6 11 7 1zM786 942l7 1 6 9zM799 952l6 5 7 4zM805 957l7 4 6 2zM844 974l7 0 6 6 7 0 6 6zM877 986l7 7 6-1 7 7 6-3 7 7 7-5-14-2-13-4z"/><path class=af d="M827 923l7-21 6 27 7-22 6 27-13-5zM866 938l8-23 5 27 8-24 5 27 8-25 5 29 8-26 6 30 7-28 6 31-13-3-27-8-13-3zM781 911l6 17 7-7zM774 917l7-6 6 17zM774 917l6 14 7-3zM786 942l6 6 7 4zM792 948l7 4 6 5zM818 963l6 0 7 6 6 0 7 5-13-5zM851 974l6 6 7 0 6 6 7 0z"/><path class=ag d="M834 902l6 27 7-22 6 27 7-22 6 26 8-23 5 27 8-24 5 27 8-25-13-2-27-6zM801 909l8-18 5 25 8-19 5 26zM932 956l7-31 6 32zM788 900l6 21 7-12zM781 911l7-11 6 21zM767 919l7-2 6 14zM773 930l7 1 6 11zM779 938l7 4 6 6zM805 957l6 1 7 5zM811 958l7 5 6 0 7 6 6 0 7 5 7 0-14-5-13-6zM890 992l7-4 6 8z"/><path class=ah d="M809 891l5 25 8-19 5 26 7-21zM900 920l5 29 8-26 6 30 7-28-13-2zM788 900l8-16 5 25zM945 957l8-34 6 31zM776 890l5 21 7-11zM768 900l8-10 5 21zM768 900l6 17 7-6zM761 905l7-5 6 17zM761 905l6 14 7-2zM767 919l6 11 7 1zM773 930l6 8 7 4zM792 948l6 3 7 6zM798 951l7 6 6 1zM864 980l6-3 7 9 6-3 7 9zM903 996l7-5 7 7z"/><path class=ai d="M796 884l5 25 8-18zM926 925l6 31 7-31zM754 906l7-1 6 14zM760 918l7 1 6 11zM766 926l7 4 6 8zM779 938l6 4 7 6zM785 942l7 6 6 3zM824 963l6-2 7 8 7-4 7 9 6-3 7 9-13-6-14-5zM870 977l7 9 6-3 7 9 7-4 6 8 7-5-13-3-14-5z"/><path class=aj d="M834 902l8-26 5 31 8-27 5 32 8-29 6 32-14-3zM783 876l5 24 8-16zM939 925l6 32 8-34zM776 890l7-14 5 24zM763 880l5 20 8-10zM756 889l7-9 5 20zM756 889l5 16 7-5zM749 893l7-4 5 16zM749 893l5 13 7-1zM754 906l6 12 7 1zM760 918l6 8 7 4zM798 951l6-1 7 8 6-2 7 7-13-5zM844 965l7 9 6-3 7 9 6-3z"/><path class=ak d="M809 891l7-24 6 30 7-25 5 30zM874 915l7-29 6 32 7-31 6 33-13-2zM770 867l6 23 7-14zM953 923l6 31 7-36zM763 880l7-13 6 23zM747 905l7 1 6 12zM766 926l6 6 7 6zM772 932l7 6 6 4zM785 942l6 1 7 8zM804 950l7 8 6-2 7 7 6-2 7 8 7-4-14-4-13-5z"/><path class=al d="M816 867l6 30 7-25 5 30 8-26 5 31 8-27 5 32 8-29 6 32 7-29-26-6-26-8zM783 876l7-20 6 28 7-22 6 29-13-7zM900 920l7-32 6 35 8-34 5 36-13-2zM750 869l6 20 7-9zM743 877l7-8 6 20zM743 877l6 16 7-4zM741 894l8-1 5 13zM741 894l6 11 7 1zM747 905l6 9 7 4zM753 914l7 4 6 8zM791 943l7 8 6-1z"/><path class=am d="M790 856l6 28 7-22 6 29 7-24-13-5zM881 886l6 32 7-31 6 33 7-32zM926 925l8-36 5 36zM757 857l6 23 7-13zM750 869l7-12 6 23zM736 881l7-4 6 16zM736 881l5 13 8-1zM753 914l6 7 7 5zM759 921l7 5 6 6zM772 932l6 3 7 7zM778 935l7 7 6 1zM817 956l7-4 6 9z"/><path class=an d="M777 847l6 29 7-20zM907 888l6 35 8-34zM770 867l7-20 6 29zM939 925l8-37 6 35zM737 859l6 18 7-8zM730 865l7-6 6 18zM730 865l6 16 7-4zM729 882l7-1 5 13zM729 882l5 10 7 2zM734 892l7 2 6 11zM740 901l7 4 6 9zM759 921l6 4 7 7zM765 925l7 7 6 3zM791 943l6-1 7 8 6-2 7 8-13-6z"/><path class=ao d="M921 889l5 36 8-36zM757 857l7-19 6 29zM744 848l6 21 7-12zM737 859l7-11 6 21zM723 869l7-4 6 16zM723 869l6 13 7-1zM734 892l6 9 7 4zM740 901l6 8 7 5zM746 909l7 5 6 7zM778 935l6 1 7 7zM797 942l7 8 6-2z"/><path class=ap d="M803 862l7-28 6 33 7-30 6 35 7-31 6 35 7-32 6 36 7-34 6 37-13-3-26-8zM764 838l6 29 7-20zM934 889l5 36 8-37zM953 923l8-38 5 33zM732 837l5 22 7-11zM724 847l6 18 7-6zM717 854l7-7 6 18zM717 854l6 15 7-4zM716 871l7-2 6 13zM716 871l5 10 8 1zM721 881l8 1 5 10zM727 889l7 3 6 9zM746 909l6 6 7 6zM752 915l7 6 6 4zM765 925l6 3 7 7zM784 936l7 7 6-1z"/><path class=aq d="M790 856l7-27 6 33zM868 883l8-35 5 38 8-36 5 37-13-1zM752 830l5 27 7-19zM947 888l6 35 8-38zM744 848l8-18 5 27zM724 847l8-10 5 22zM710 857l7-3 6 15zM710 857l6 14 7-2zM721 881l6 8 7 3zM727 889l6 8 7 4zM733 897l7 4 6 8zM771 928l7 7 6 1z"/><path class=ar d="M797 829l6 33 7-28 6 33 7-30 6 35 7-31 6 35 7-32-13-3-13-4-13-3zM777 847l8-25 5 34zM894 887l8-37 5 38zM732 837l7-16 5 27zM719 825l5 22 8-10zM712 836l5 18 7-7zM704 843l8-7 5 18zM704 843l6 14 7-3zM703 859l7-2 6 14zM703 859l6 11 7 1zM709 870l7 1 5 10zM714 878l7 3 6 8zM733 897l6 7 7 5zM739 904l7 5 6 6zM752 915l6 4 7 6zM758 919l7 6 6 3z"/><path class=as d="M785 822l5 34 7-27zM849 844l6 36 7-34 6 37 8-35 5 38 8-36zM764 838l8-26 5 35zM907 888l8-39 6 40zM739 821l5 27 8-18zM712 836l7-11 5 22zM697 847l7-4 6 14zM697 847l6 12 7-2zM709 870l5 8 7 3zM714 878l6 7 7 4zM720 885l7 4 6 8zM739 904l6 5 7 6zM745 909l7 6 6 4zM771 928l6 0 7 8z"/><path class=at d="M772 812l5 35 8-25zM889 850l5 37 8-37zM752 830l7-27 5 35zM921 889l7-40 6 40zM726 808l6 29 7-16zM961 885l5 33 8-38zM719 825l7-17 6 29zM699 823l5 20 8-7zM692 832l7-9 5 20zM692 832l5 15 7-4zM684 837l8-5 5 15zM684 837l6 12 7-2zM690 849l7-2 6 12zM690 849l6 10 7 0zM696 859l7 0 6 11zM696 859l5 9 8 2zM701 868l8 2 5 8zM720 885l6 7 7 5zM726 892l7 5 6 7zM758 919l6 2 7 7z"/><path class=au d="M902 850l5 38 8-39zM934 889l8-41 5 40zM706 810l6 26 7-11zM699 823l7-13 6 26zM677 839l7-2 6 12zM683 849l7 0 6 10zM701 868l6 6 7 4zM707 874l7 4 6 7zM726 892l6 7 7 5zM732 899l7 5 6 5zM745 909l6 4 7 6z"/><path class=av d="M759 803l5 35 8-26zM915 849l6 40 7-40zM739 821l7-26 6 35zM686 809l6 23 7-9zM679 819l5 18 8-5zM672 826l5 13 7-2zM677 839l6 10 7 0zM683 849l5 8 8 2zM688 857l8 2 5 9zM707 874l6 7 7 4zM713 881l7 4 6 7z"/><path class=aw d="M797 829l8-36 5 41 8-37 5 40 8-37 5 41 8-38 5 41-13-3-13-4-13-3zM746 795l6 35 7-27zM928 849l6 40 8-41zM947 888l8-42 6 39zM713 788l6 37 7-17zM706 810l7-22 6 37zM679 819l7-10 6 23zM672 826l7-7 5 18zM664 828l8-2 5 13zM670 839l7 0 6 10zM676 847l7 2 5 8zM688 857l6 7 7 4zM694 864l7 4 6 6zM713 881l6 7 7 4zM719 888l7 4 6 7zM732 899l6 5 7 5z"/><path class=ax d="M785 822l7-36 5 43zM849 844l8-39 5 41 8-39 6 41zM726 808l7-26 6 39zM693 791l6 32 7-13zM686 809l7-18 6 32zM666 805l6 21 7-7zM659 813l5 15 8-2zM664 828l6 11 7 0zM670 839l6 8 7 2zM681 854l7 3 6 7zM694 864l6 7 7 3zM700 871l7 3 6 7zM719 888l6 7 7 4z"/><path class=ay d="M876 848l7-41 6 43zM733 782l6 39 7-26zM942 848l5 40 8-42zM961 885l8-41 5 36zM673 791l6 28 7-10zM659 813l7-8 6 21zM652 817l7-4 5 15zM657 829l7-1 6 11zM657 829l6 9 7 1zM663 838l7 1 6 8zM676 847l5 7 7 3zM687 861l7 3 6 7zM700 871l6 7 7 3zM706 878l7 3 6 7z"/><path class=az d="M792 786l5 43 8-36 5 41 8-37 5 40 8-37 5 41 8-38 5 41 8-39-13-2-26-6-13-4zM772 812l7-39 6 49zM889 850l7-43 6 43zM955 846l6 39 8-41zM666 805l7-14 6 28zM652 817l5 12 7-1zM663 838l5 7 8 2zM668 845l8 2 5 7zM681 854l6 7 7 3zM693 867l7 4 6 7zM706 878l5 7 8 3z"/><path class=aA d="M857 805l5 41 8-39 6 41 7-41-13 0zM759 803l8-42 5 51zM902 850l8-43 5 42zM653 789l6 24 7-8zM646 798l6 19 7-4zM644 818l8-1 5 12zM644 818l6 10 7 1zM650 828l7 1 6 9zM655 835l8 3 5 7zM668 845l6 6 7 3zM674 851l7 3 6 7zM687 861l6 6 7 4z"/><path class=aB d="M779 773l6 49 7-36zM883 807l6 43 7-43zM915 849l8-44 5 44zM721 757l5 51 7-26zM969 844l5 36 8-40zM713 788l8-31 5 51zM701 764l5 46 7-22zM693 791l8-27 5 46zM681 771l5 38 7-18zM673 791l8-20 5 38zM646 798l7-9 6 24zM639 803l7-5 6 19zM639 803l5 15 8-1zM650 828l5 7 8 3zM674 851l6 6 7 4zM680 857l7 4 6 6zM693 867l5 8 8 3z"/><path class=aC d="M896 807l6 43 8-43zM746 795l8-43 5 51zM928 849l8-45 6 44zM661 773l5 32 7-14zM653 789l8-16 5 32zM631 805l8-2 5 15zM631 805l6 12 7 1zM637 817l7 1 6 10zM637 817l5 8 8 3zM642 825l8 3 5 7zM655 835l6 6 7 4zM661 841l7 4 6 6zM680 857l5 8 8 2z"/><path class=aD d="M767 761l5 51 7-39zM641 771l5 27 7-9zM633 783l6 20 7-5zM626 789l5 16 8-2zM642 825l6 7 7 3zM648 832l7 3 6 6zM661 841l6 7 7 3zM667 848l7 3 6 6z"/><path class=aE d="M754 752l5 51 8-42zM910 807l5 42 8-44zM733 782l8-43 5 56zM942 848l8-46 5 44zM633 783l8-12 5 27zM626 789l7-6 6 20zM624 805l7 0 6 12zM624 805l6 10 7 2zM630 815l7 2 5 8zM648 832l6 6 7 3zM654 838l7 3 6 7zM667 848l5 7 8 2z"/><path class=aF d="M805 793l8-49 5 53 8-49 5 52 8-47 5 50 8-45 5 47-13-2-26-6zM923 805l5 44 8-45zM955 846l8-46 6 44zM681 771l7-31 5 51zM668 749l5 42 8-20zM661 773l7-24 5 42zM648 752l5 37 8-16zM619 792l7-3 5 16zM619 792l5 13 7 0zM630 815l5 8 7 2zM635 823l7 2 6 7zM654 838l5 7 8 3z"/><path class=aG d="M792 786l8-51 5 58zM857 805l8-44 5 46zM741 739l5 56 8-43zM936 804l6 44 8-46zM688 740l5 51 8-27zM641 771l7-19 5 37zM621 765l5 24 7-6zM613 773l6 19 7-3zM611 793l8-1 5 13zM611 793l6 11 7 1zM617 804l7 1 6 10zM617 804l5 9 8 2zM622 813l8 2 5 8zM635 823l6 6 7 3zM641 829l7 3 6 6z"/><path class=aH d="M870 807l8-45 5 45 8-45 5 45zM969 844l8-48 5 44zM708 725l5 63 8-31zM701 764l7-39 5 63zM628 752l5 31 8-12zM613 773l8-8 5 24zM606 777l7-4 6 19zM606 777l5 16 8-1zM622 813l6 7 7 3zM628 820l7 3 6 6zM641 829l5 7 8 2z"/><path class=aI d="M779 773l8-54 5 67zM950 802l5 44 8-46zM621 765l7-13 5 31zM312 685l8-3 4-4zM598 780l8-3 5 16zM604 793l7 0 6 11zM604 793l5 10 8 1zM609 803l8 1 5 9zM615 811l7 2 6 7zM628 820l5 8 8 1z"/><path class=aJ d="M800 735l5 58 8-49 5 53 8-49 5 52 8-47 5 50 8-45 5 47 8-44 5 46 8-45-13-1-13-3-26-10-13-4zM896 807l8-46 6 46zM721 757l7-48 5 73zM320 682l4-4 8-4zM600 756l6 21 7-4zM598 780l6 13 7 0zM609 803l6 8 7 2zM615 811l5 8 8 1z"/><path class=aK d="M878 762l5 45 8-45zM910 807l8-47 5 45zM728 709l5 73 8-43zM963 800l6 44 8-48zM668 749l7-33 6 55zM655 725l6 48 7-24zM648 752l7-27 6 48zM635 730l6 41 7-19zM628 752l7-22 6 41zM608 746l5 27 8-8zM312 685l5-6 7-1zM305 685l7 0 5-6zM593 763l7-7 6 21zM593 763l5 17 8-3zM591 781l7-1 6 13zM591 781l5 11 8 1zM596 792l8 1 5 10zM596 792l6 10 7 1zM602 802l7 1 6 8z"/><path class=aL d="M787 719l5 67 8-51zM891 762l5 45 8-46zM767 761l7-58 5 70zM923 805l8-46 5 45zM977 796l5 44 8-47zM675 716l6 55 7-31zM615 731l6 34 7-13zM332 674l8-5 4-2zM324 678l8-4 5-2zM600 756l8-10 5 27zM586 767l7-4 5 17zM586 767l5 14 7-1zM602 802l5 9 8 0z"/><path class=aM d="M688 740l8-43 5 67zM340 669l4-2 8-7zM608 746l7-15 6 34zM332 674l5-2 7-5zM588 741l5 22 7-7zM317 679l7-1 5-4zM305 685l4-7 8 1zM297 682l8 3 4-7zM578 769l8-2 5 14zM578 769l6 12 7 0zM584 781l7 0 5 11zM584 781l5 10 7 1zM589 791l7 1 6 10zM589 791l5 10 8 1z"/><path class=aN d="M904 761l6 46 8-47zM754 752l8-61 5 70zM936 804l8-47 6 45zM595 729l5 27 8-10zM324 678l5-4 8-2zM580 749l8-8 5 22zM580 749l6 18 7-4zM573 754l5 15 8-2zM576 781l8 0 5 10z"/><path class=aO d="M774 703l5 70 8-54zM918 760l5 45 8-46zM950 802l8-48 5 46zM696 697l5 67 7-39zM352 660l7-9 5 1zM344 667l8-7 4 0zM337 672l7-5 5-1zM588 741l7-12 5 27zM317 679l4-5 8 0zM309 678l8 1 4-5zM573 754l7-5 6 18zM297 682l4-7 8 3zM289 678l8 4 4-7zM565 756l8-2 5 15zM571 769l7 0 6 12zM571 769l5 12 8 0zM576 781l5 10 8 0z"/><path class=aP d="M931 759l5 45 8-47zM741 739l8-64 5 77zM655 725l8-35 5 59zM643 701l5 51 7-27zM635 730l8-29 5 51zM623 707l5 45 7-22zM615 731l8-24 5 45zM352 660l4 0 8-8zM602 711l6 35 7-15zM344 667l5-1 7-6zM337 672l4-3 8-3zM575 727l5 22 8-8zM329 674l8-2 4-3zM567 736l6 18 7-5zM565 756l6 13 7 0zM563 770l8-1 5 12z"/><path class=aQ d="M852 758l8-53 5 56 8-51 5 52-13-1zM963 800l8-49 6 45zM708 725l8-53 5 85zM663 690l5 59 7-33zM359 651l5 1 7-10zM595 729l7-18 6 35zM582 713l6 28 7-12zM349 666l7-6 5 1zM567 736l8-9 5 22zM329 674l4-4 8-1zM321 674l8 0 4-4zM560 741l7-5 6 18zM309 678l4-6 8 2zM560 741l5 15 8-2zM301 675l8 3 4-6zM558 758l7-2 6 13zM558 758l5 12 8-1zM563 770l5 11 8 0z"/><path class=aR d="M826 748l8-60 5 65 8-58 5 63zM878 762l8-51 5 51zM762 691l5 70 7-58zM944 757l6 45 8-48zM716 672l5 85 7-48zM364 652l7-10 5 3zM356 660l8-8 5 2zM356 660l5 1 8-7zM575 727l7-14 6 28zM341 669l8-3 4-1zM555 724l5 17 7-5zM552 745l8-4 5 15zM289 678l4-7 8 4zM552 745l6 13 7-2zM281 674l8 4 4-7zM550 758l8 0 5 12z"/><path class=aS d="M813 744l8-63 5 67zM891 762l8-51 5 50zM977 796l8-50 5 47zM675 716l8-44 5 68zM364 652l5 2 7-9zM349 666l4-1 8-4zM562 714l5 22 8-9zM555 724l7-10 5 22zM341 669l4-2 8-2zM333 670l8-1 4-2zM547 730l8-6 5 17zM321 674l4-4 8 0zM547 730l5 15 8-4zM313 672l8 2 4-4zM301 675l4-5 8 2zM545 746l7-1 6 13zM545 746l5 12 8 0zM550 758l6 12 7 0z"/><path class=aT d="M800 735l8-66 5 75zM904 761l8-50 6 49zM749 675l5 77 8-61zM958 754l5 46 8-49zM683 672l5 68 8-43zM371 642l8-13 5 4zM371 642l5 3 8-12zM610 686l5 45 8-24zM602 711l8-25 5 45zM590 694l5 35 7-18zM369 654l7-9 5 4zM582 713l8-19 5 35zM569 700l6 27 7-14zM361 661l8-7 4 3zM562 714l7-14 6 27zM353 665l8-4 4 1zM542 712l5 18 8-6zM540 734l7-4 5 15zM540 734l5 12 7-1zM293 671l8 4 4-5zM281 674l4-6 8 3zM537 747l8-1 5 12z"/><path class=aU d="M860 705l5 56 8-51zM728 709l8-61 5 91zM630 676l5 54 8-29zM623 707l7-31 5 54zM376 645l8-12 4 6zM376 645l5 4 7-10zM369 654l4 3 8-8zM361 661l4 1 8-5zM549 702l6 22 7-10zM542 712l7-10 6 22zM353 665l5 0 7-3zM345 667l8-2 5 0zM534 719l8-7 5 18zM333 670l5-2 7-1zM534 719l6 15 7-4zM325 670l8 0 5-2zM313 672l4-3 8 1zM305 670l8 2 4-3zM532 736l8-2 5 12zM532 736l5 11 8-1zM273 671l8 3 4-6zM537 747l6 12 7-1z"/><path class=aV d="M847 695l5 63 8-53zM873 710l5 52 8-51 5 51 8-51-13 0zM918 760l8-49 5 48zM971 751l6 45 8-50zM643 701l7-36 5 60zM379 629l5 4 7-14zM373 657l8-8 4 4zM365 662l8-5 5 2zM529 702l5 17 8-7zM345 667l5 0 8-2zM338 668l7-1 5 0zM527 723l7-4 6 15zM325 670l5-2 8 0zM527 723l5 13 8-2zM293 671l4-4 8 3zM285 668l8 3 4-4zM524 736l8 0 5 11z"/><path class=aW d="M821 681l5 67 8-60 5 65 8-58zM899 711l5 50 8-50zM787 719l8-67 5 83zM931 759l8-48 5 46zM650 665l5 60 8-35zM384 633l7-14 5 7zM384 633l4 6 8-13zM577 680l5 33 8-19zM381 649l7-10 5 6zM569 700l8-20 5 33zM381 649l4 4 8-8zM557 688l5 26 7-14zM549 702l8-14 5 26zM373 657l5 2 7-6zM536 691l6 21 7-10zM529 702l7-11 6 21zM365 662l5 1 8-4zM358 665l7-3 5 1zM521 709l8-7 5 17zM521 709l6 14 7-4zM514 713l7-4 6 14zM514 713l5 12 8-2zM317 669l8 1 5-2zM519 725l8-2 5 13zM305 670l4-3 8 2zM519 725l5 11 8 0zM297 667l8 3 4-3zM273 671l4-5 8 2zM524 736l6 12 7-1zM264 668l9 3 4-5z"/><path class=aX d="M736 648l5 91 8-64zM985 746l5 47 9-52zM696 697l7-55 5 83zM597 668l5 43 8-25zM388 639l8-13 5 7zM590 694l7-26 5 43zM388 639l5 6 8-12zM385 653l8-8 5 5zM385 653l5 3 8-6zM378 659l7-6 5 3zM378 659l4 2 8-5zM516 692l5 17 8-7zM370 663l8-4 4 2zM358 665l4 1 8-3zM509 699l5 14 7-4zM350 667l8-2 4 1zM338 668l4-1 8 0zM330 668l8 0 4-1zM506 715l8-2 5 12zM317 669l5-2 8 1zM506 715l6 11 7-1zM512 726l7-1 5 11zM285 668l4-2 8 1zM512 726l5 11 7-1zM277 666l8 2 4-2z"/><path class=aY d="M808 669l5 75 8-63zM912 711l6 49 8-49zM944 757l9-49 5 46zM663 690l7-45 5 71zM391 619l5 7 7-16zM610 686l7-31 6 52zM393 645l8-12 4 7zM557 688l7-20 5 32zM393 645l5 5 7-10zM544 677l5 25 8-14zM536 691l8-14 5 25zM524 681l5 21 7-11zM390 656l8-6 5 4zM516 692l8-11 5 21zM509 699l7-7 5 17zM370 663l5 2 7-4zM362 666l8-3 5 2zM501 703l8-4 5 14zM350 667l5 0 7-1zM501 703l5 12 8-2zM342 667l8 0 5 0zM330 668l4-1 8 0zM309 667l8 2 5-2zM499 717l7-2 6 11zM297 667l4-1 8 1zM264 668l5-3 8 1zM256 666l8 2 5-3z"/><path class=aZ d="M926 711l5 48 8-48zM774 703l8-68 5 84zM958 754l8-49 5 46zM703 642l5 83 8-53zM670 645l5 71 8-44zM391 619l7-16 5 7zM617 655l6 52 7-31zM396 626l7-16 5 9zM396 626l5 7 7-14zM401 633l4 7 8-12zM564 668l5 32 8-20zM398 650l7-10 5 7zM524 681l7-14 5 24zM398 650l5 4 7-7zM511 672l5 20 8-11zM503 683l8-11 5 20zM390 656l5 4 8-6zM503 683l6 16 7-7zM382 661l8-5 5 4zM496 690l7-7 6 16zM382 661l5 3 8-4zM496 690l5 13 8-4zM375 665l7-4 5 3zM488 695l8-5 5 13zM362 666l5 1 8-2zM488 695l6 11 7-3zM355 667l7-1 5 1zM494 706l7-3 5 12zM342 667l5 1 8-1zM494 706l5 11 7-2zM322 667l8 1 4-1 8 0 5 1-13-1zM309 667l5-1 8 1zM499 717l5 10 8-1zM289 666l8 1 4-1zM277 666l4-2 8 2z"/><path class=ba d="M795 652l5 83 8-66zM939 711l5 46 9-49zM630 676l7-34 6 59zM401 633l7-14 5 9zM577 680l7-26 6 40zM405 640l8-12 5 8zM544 677l7-20 6 31zM405 640l5 7 8-11zM531 667l5 24 8-14zM403 654l7-7 5 6zM403 654l4 5 8-6zM491 675l5 15 7-7zM395 660l8-6 4 5zM483 682l8-7 5 15zM483 682l5 13 8-5zM387 664l8-4 5 3zM476 687l7-5 5 13zM375 665l4 2 8-3zM367 667l8-2 4 2zM481 697l7-2 6 11zM355 667l4 2 8-2zM481 697l5 11 8-2zM347 668l8-1 4 2zM486 708l8-2 5 11zM322 667l4 0 8 0zM486 708l5 10 8-1zM301 666l8 1 5-1 8 1 4 0-12-1zM289 666l4-2 8 2zM269 665l8 1 4-2zM256 666l5-3 8 2zM248 664l8 2 5-3z"/><path class=bb d="M971 751l9-49 5 44zM398 603l5 7 8-18zM637 642l6 59 7-36zM403 610l5 9 7-17zM408 619l5 9 7-16zM584 654l6 40 7-26zM413 628l5 8 7-13zM551 657l6 31 7-20zM518 657l6 24 7-14zM410 647l8-11 5 8zM511 672l7-15 6 24zM410 647l5 6 8-9zM498 664l5 19 8-11zM415 653l8-9 5 8zM491 675l7-11 5 19zM478 667l5 15 8-7zM407 659l8-6 5 5zM470 675l8-8 5 15zM395 660l5 3 7-4zM470 675l6 12 7-5zM400 663l7-4 5 4zM463 680l7-5 6 12zM387 664l5 4 8-5zM476 687l5 10 7-2zM379 667l8-3 5 4zM468 690l8-3 5 10zM367 667l5 3 7-3zM359 669l8-2 5 3zM473 699l8-2 5 11zM334 667l5 1 8 0zM326 667l8 0 5 1zM301 666l5-1 8 1zM281 664l8 2 4-2zM269 665l4-2 8 1z"/><path class=bc d="M953 708l5 46 8-49zM762 691l8-71 4 83zM716 672l8-58 4 95zM403 610l8-18 4 10zM408 619l7-17 5 10zM597 668l7-31 6 49zM413 628l7-16 5 11zM564 668l7-26 6 38zM418 636l7-13 5 9zM531 667l8-20 5 30zM418 636l5 8 7-12zM423 644l7-12 5 11zM498 664l8-15 5 23zM423 644l5 8 7-9zM486 657l5 18 7-11zM428 652l7-9 5 10zM478 667l8-10 5 18zM415 653l5 5 8-6 4 7 8-6-12-1zM465 661l5 14 8-8zM420 658l8-6 4 7zM458 668l7-7 5 14zM407 659l5 4 8-5 5 7 7-6-12-1zM458 668l5 12 7-5zM412 663l8-5 5 7zM450 673l8-5 5 12zM400 663l5 5 7-5zM450 673l5 10 8-3 5 10 8-3zM392 668l8-5 5 5zM455 683l8-3 5 10zM379 667l5 4 8-3zM455 683l5 9 8-2 5 9 8-2zM372 670l7-3 5 4zM460 692l8-2 5 9zM347 668l4 1 8 0 5 1 8 0zM473 699l5 10 8-1zM314 666l4 0 8 1zM293 664l8 2 5-1 8 1 4 0zM281 664l4-1 8 1zM261 663l8 2 4-2zM248 664l4-3 9 2z"/><path class=bd d="M860 705l8-65 5 70 8-60 5 61 8-55 5 55-13 0-13-1zM782 635l5 84 8-67zM683 672l8-58 5 83zM650 665l7-41 6 66zM604 637l6 49 7-31zM571 642l6 38 7-26zM539 647l5 30 7-20zM430 632l5 11 8-13zM506 649l5 23 7-15zM486 657l7-16 5 23zM435 643l5 10 8-10 5 12 7-10 5 16 8-11 5 17 8-10-13-7-13-5-12-2zM440 653l8-10 5 12 7-10 5 16 8-11 5 17-25-12zM440 653l5 10 8-8 5 13 7-7-12-6zM432 659l8-6 5 10 8-8 5 13-13-5zM432 659l5 9 8-5 5 10 8-5-13-5zM425 665l7-6 5 9 8-5 5 10-13-5zM412 663l5 6 8-4 5 8 7-5 5 9 8-4-13-5-12-3zM405 668l7-5 5 6 8-4 5 8 7-5 5 9 8-4 5 10-13-6-25-8zM392 668l5 4 8-4 4 5 8-4-12-1zM430 673l5 8 7-4 5 9 8-3-13-6zM384 671l8-3 5 4 8-4 4 5zM447 686l8-3 5 9zM372 670l4 2 8-1zM447 686l6 9 7-3 5 9 8-2-13-7zM293 664l5 0 8 1zM273 663l8 1 4-1zM261 663l4-2 8 2zM240 663l8 1 4-3z"/><path class=be d="M899 711l8-53 5 53zM966 705l5 46 9-49zM985 746l8-48 6 43zM724 614l4 95 8-61zM411 592l4 10 8-20zM415 602l5 10 8-19zM420 612l5 11 8-18zM551 657l8-26 5 37zM425 623l5 9 8-15zM526 637l5 30 8-20zM430 632l8-15 5 13zM518 657l8-20 5 30zM493 641l5 23 8-15zM435 643l8-13 5 13 7-14 5 16-12-2zM473 650l7-15 6 22zM417 669l5 8 8-4zM409 673l8-4 5 8 8-4 5 8 7-4 5 9-12-5zM384 671l5 3 8-2 5 5 7-4 5 7 8-3 5 7 8-3 5 8 7-3-12-5-26-8zM285 663l8 1 5 0zM273 663l4-1 8 1zM252 661l9 2 4-2zM240 663l4-3 8 1z"/><path class=bf d="M847 695l8-66 5 76zM912 711l9-52 5 52zM749 675l8-70 5 86zM691 614l5 83 7-55zM657 624l6 66 7-45zM415 602l8-20 5 11zM617 655l8-34 5 55zM420 612l8-19 5 12zM559 631l5 37 7-26zM425 623l8-18 5 12zM506 649l7-21 5 29zM443 630l5 13 7-14 5 16 8-14 5 19 7-15 6 22 7-16-13-6-12-4-13-2zM460 645l8-14 5 19zM265 661l8 2 4-1zM252 661l5-1 8 1zM232 661l8 2 4-3z"/><path class=bg d="M834 688l8-66 5 73zM926 711l8-52 5 52zM770 620l4 83 8-68zM980 702l5 44 8-48zM625 621l5 55 7-34zM584 654l8-32 5 46zM539 647l7-26 5 36zM438 617l5 13 7-17zM513 628l5 29 8-20zM443 630l7-17 5 16zM493 641l7-20 6 28zM244 660l8 1 5-1zM232 661l4-2 8 1z"/><path class=bh d="M881 650l5 61 8-55zM821 681l8-67 5 74zM939 711l8-52 6 49zM428 593l5 12 7-21zM592 622l5 46 7-31zM433 605l5 12 7-19zM546 621l5 36 8-26zM438 617l7-19 5 15zM450 613l5 16 8-18zM500 621l6 28 7-21zM455 629l8-18 5 20 7-19 5 23 8-19 5 25-13-6-12-4zM224 660l8 1 4-2z"/><path class=bi d="M868 640l5 70 8-60zM894 656l5 55 8-53 5 53 9-52-14-1zM993 698l6 43 8-46zM637 642l8-37 5 60zM423 582l5 11 7-22zM433 605l7-21 5 14zM571 642l8-33 5 45zM526 637l7-25 6 35zM463 611l5 20 7-19 5 23 8-19 5 25 7-20-12-5-13-4z"/><path class=bj d="M855 629l5 76 8-65zM921 659l5 52 8-52zM808 669l8-68 5 80zM953 708l8-50 5 47zM757 605l5 86 8-71zM736 648l8-64 5 91zM670 645l8-56 5 83zM645 605l5 60 7-41zM428 593l7-22 5 13zM604 637l8-35 5 53zM445 598l5 15 7-21zM533 612l6 35 7-26zM450 613l7-21 6 19zM513 628l7-25 6 34z"/><path class=bk d="M934 659l5 52 8-52zM966 705l8-49 6 46zM703 642l8-57 5 87zM423 582l7-22 5 11zM440 584l5 14 7-23zM579 609l5 45 8-32zM559 631l7-32 5 43zM520 603l6 34 7-25zM463 611l7-22 5 23zM500 621l8-24 5 31z"/><path class=bl d="M842 622l5 73 8-66zM678 589l5 83 8-58zM612 602l5 53 8-34zM445 598l7-23 5 17zM457 592l6 19 7-22zM475 612l7-23 6 27 7-24 5 29-12-5z"/><path class=bm d="M829 614l5 74 8-66zM947 659l6 49 8-50zM795 652l8-69 5 86zM980 702l8-47 5 43zM711 585l5 87 8-58zM430 560l5 11 7-24zM435 571l5 13 7-23zM440 584l7-23 5 14zM566 599l5 43 8-33zM546 621l7-31 6 41zM470 589l5 23 7-23 6 27 7-24 5 29 8-24 5 31 7-25-12-6-13-5-13-3z"/><path class=bn d="M816 601l5 80 8-67zM961 658l5 47 8-49zM744 584l5 91 8-70zM657 624l8-47 5 68zM435 571l7-24 5 14zM625 621l7-37 5 58zM592 622l7-37 5 52zM452 575l5 17 8-25zM553 590l6 41 7-32zM457 592l8-25 5 22zM533 612l8-31 5 40z"/><path class=bo d="M993 698l8-45 6 42zM632 584l5 58 8-37zM599 585l5 52 8-35z"/><path class=bp d="M974 656l6 46 8-47zM782 635l9-71 4 88zM447 561l5 14 8-25zM579 609l7-37 6 50zM541 581l5 40 7-31zM470 589l7-27 5 27zM508 597l7-29 5 35 8-29 5 38-13-9z"/><path class=bq d="M881 650l8-59 5 65 8-56 5 58 8-53 6 54-14-1-13-2zM803 583l5 86 8-68zM988 655l5 43 8-45zM724 614l7-56 5 90zM691 614l7-54 5 82zM665 577l5 68 8-56zM442 547l5 14 8-25zM452 575l8-25 5 17zM465 567l5 22 7-27zM528 574l5 38 8-31zM482 589l8-27 5 30 7-28 6 33-13-5z"/><path class=br d="M921 659l8-51 5 51zM645 605l7-41 5 60zM447 561l8-25 5 14zM612 602l7-38 6 57zM586 572l6 50 7-37zM566 599l7-38 6 48zM477 562l5 27 8-27zM515 568l5 35 8-29z"/><path class=bs d="M868 640l8-63 5 73zM934 659l8-50 5 50zM1001 653l6 42 8-43zM770 620l8-70 4 85zM731 558l5 90 8-64zM698 560l5 82 8-57zM619 564l6 57 7-37zM460 550l5 17 7-26zM490 562l5 30 7-28 6 33 7-29-13-4z"/><path class=bt d="M947 659l8-50 6 49zM652 564l5 60 8-47zM465 567l7-26 5 21zM553 590l8-37 5 46z"/><path class=bu d="M902 600l5 58 8-53 6 54 8-51-14-3zM855 629l8-64 5 75zM961 658l8-49 5 47zM791 564l4 88 8-69zM455 536l5 14 7-26zM573 561l6 48 7-37zM541 581l7-35 5 44z"/><path class=bv d="M889 591l5 65 8-56zM929 608l5 51 8-50zM842 622l8-62 5 69zM974 656l8-46 6 45zM757 605l8-65 5 80zM678 589l7-48 6 73zM632 584l7-40 6 61zM460 550l7-26 5 17zM599 585l7-39 6 56zM472 541l5 21 8-28zM561 553l5 46 7-38zM477 562l8-28 5 28zM528 574l7-35 6 42z"/><path class=bw d="M876 577l5 73 8-59zM942 609l5 50 8-50zM829 614l8-61 5 69zM988 655l8-45 5 43zM455 536l7-27 5 15zM548 546l5 44 8-37zM490 562l7-30 5 32 8-31 5 35 7-33 6 39-13-6-13-4z"/><path class=bx d="M955 609l6 49 8-49zM778 550l4 85 9-71zM711 585l8-52 5 81zM639 544l6 61 7-41zM606 546l6 56 7-38zM485 534l5 28 7-30zM535 539l6 42 7-35z"/><path class=by d="M863 565l5 75 8-63zM969 609l5 47 8-46zM816 601l8-60 5 73zM1001 653l8-44 6 43zM744 584l8-58 5 79zM685 541l6 73 7-54zM665 577l8-46 5 58zM467 524l5 17 7-28zM472 541l7-28 6 21zM586 572l8-41 5 54zM497 532l5 32 8-31 5 35 7-33 6 39 7-35-13-4-12-2z"/><path class=bz d="M982 610l6 45 8-45zM765 540l5 80 8-70zM719 533l5 81 7-56zM619 564l8-40 5 60z"/><path class=bA d="M837 553l5 69 8-62 5 69 8-64-13-5zM996 610l5 43 8-44zM462 509l5 15 7-29zM594 531l5 54 7-39zM573 561l8-41 5 52z"/><path class=bB d="M1009 609l6 43 8-43zM803 583l8-60 5 78zM673 531l5 58 7-48zM652 564l8-44 5 57zM627 524l5 60 7-40zM467 524l7-29 5 18zM479 513l6 21 7-29zM485 534l7-29 5 27zM561 553l7-41 5 49z"/><path class=bC d="M902 600l8-50 5 55 9-48 5 51 8-47 5 48-13-1-14-3zM824 541l5 73 8-61zM752 526l5 79 8-65zM698 560l8-46 5 71zM581 520l5 52 8-41zM497 532l7-31 6 32zM548 546l7-40 6 47z"/><path class=bD d="M889 591l8-51 5 60zM942 609l8-46 5 46 9-45 5 45zM731 558l8-50 5 76zM660 520l5 57 8-46zM606 546l8-39 5 57zM492 505l5 27 7-31zM510 533l7-34 5 36 8-35 5 39 7-37 6 44-13-7-13-4z"/><path class=bE d="M969 609l8-43 5 44zM811 523l5 78 8-60zM706 514l5 71 8-52zM639 544l8-40 5 60zM474 495l5 18 8-30zM479 513l8-30 5 22zM568 512l5 49 8-41z"/><path class=bF d="M910 550l5 55 9-48 5 51 8-47-13-4zM876 577l8-50 5 64zM982 610l8-42 6 42zM791 564l7-61 5 80zM614 507l5 57 8-40zM504 501l6 32 7-34 5 36 8-35-13-1zM555 506l6 47 7-41z"/><path class=bG d="M897 540l5 60 8-50zM937 561l5 48 8-46 5 46 9-45-14-1zM996 610l8-41 5 40zM739 508l5 76 8-58zM685 541l8-41 5 60zM647 504l5 60 8-44zM594 531l7-39 5 54zM530 500l5 39 7-37 6 44 7-40-13-4z"/><path class=bH d="M964 564l5 45 8-43 5 44 8-42zM1009 609l8-40 6 40zM474 495l8-29 5 17zM487 483l5 22 7-30zM492 505l7-30 5 26z"/><path class=bI d="M884 527l5 64 8-51zM990 568l6 42 8-41zM863 565l8-50 5 62zM798 503l5 80 8-60zM778 550l8-56 5 70zM719 533l7-44 5 69zM693 500l5 60 8-46zM627 524l7-38 5 58zM601 492l5 54 8-39z"/><path class=bJ d="M1004 569l5 40 8-40zM837 553l8-48 5 55 8-50 5 55-13-5zM765 540l7-52 6 62zM673 531l7-41 5 51zM504 501l8-31 5 29zM581 520l7-41 6 52z"/><path class=bK d="M1017 569l6 40 8-40zM726 489l5 69 8-50zM482 466l5 17 7-30zM634 486l5 58 8-40zM487 483l7-30 5 22zM499 475l5 26 8-31zM517 499l7-34 6 35zM568 512l7-41 6 49z"/><path class=bL d="M871 515l5 62 8-50zM824 541l8-46 5 58zM752 526l8-48 5 62zM680 490l5 51 8-41zM660 520l7-42 6 53zM588 479l6 52 7-39zM530 500l7-37 5 39 8-38 5 42 8-39 5 45-13-6-13-4z"/><path class=bM d="M910 550l8-41 6 48 7-42 6 46 8-41 5 43 8-40 6 41-14-1-13-2-13-4zM858 510l5 55 8-50zM786 494l5 70 7-61zM706 514l7-41 6 60zM614 507l7-37 6 54zM512 470l5 29 7-34z"/><path class=bN d="M897 540l8-39 5 49zM964 564l7-38 6 40 8-36 5 38 8-35 6 36-14-1zM845 505l5 55 8-50zM772 488l6 62 8-56zM667 478l6 53 7-41zM647 504l7-39 6 55zM494 453l5 22 7-30zM621 470l6 54 7-38zM499 475l7-30 6 25zM524 465l6 35 7-37zM575 471l6 49 7-41z"/><path class=bO d="M1004 569l8-33 5 33zM832 495l5 58 8-48zM811 523l8-43 5 61zM760 478l5 62 7-52zM713 473l6 60 7-44zM537 463l5 39 8-38 5 42 8-39 5 45 7-41-12-4-13-3z"/><path class=bP d="M918 509l6 48 7-42 6 46 8-41 5 43 8-40 6 41 7-38 6 40 8-36 5 38 8-35-13-3-14-4-26-6-14-5zM884 527l8-37 5 50zM1017 569l8-32 6 32zM739 508l8-44 5 62zM693 500l7-39 6 53zM654 465l6 55 7-42zM601 492l7-36 6 51z"/><path class=bQ d="M905 501l5 49 8-41zM998 533l6 36 8-33 5 33 8-32-13-1zM819 480l5 61 8-46zM634 486l7-35 6 53zM506 445l6 25 7-32zM512 470l7-32 5 27z"/><path class=bR d="M892 490l5 50 8-39zM1025 537l6 32 8-32zM871 515l8-34 5 46zM798 503l8-37 5 57zM747 464l5 62 8-48zM700 461l6 53 7-41zM680 490l8-39 5 49zM608 456l6 51 7-37zM524 465l8-33 5 31zM588 479l8-35 5 48z"/><path class=bS d="M858 510l8-34 5 39zM726 489l8-39 5 58zM641 451l6 53 7-39z"/><path class=bT d="M879 481l5 46 8-37zM845 505l8-35 5 40zM806 466l5 57 8-43zM786 494l7-37 5 46zM667 478l8-37 5 49zM506 445l8-27 5 20zM519 438l5 27 8-33zM596 444l5 48 7-36zM537 463l7-35 6 36zM575 471l8-36 5 44z"/><path class=bU d="M931 515l8-34 6 39 7-34 6 37 8-33 5 36 8-31 6 35 7-29 6 32 8-27 6 30 7-26 6 27-13-1-27-6-14-4-26-6zM832 495l8-34 5 44zM772 488l8-37 6 43zM734 450l5 58 8-44zM688 451l5 49 7-39zM621 470l8-33 5 49zM532 432l5 31 7-35zM550 464l7-36 6 39 7-37 5 41-12-4z"/><path class=bV d="M1006 506l6 30 7-26zM905 501l8-32 5 40 8-34 5 40-13-6zM1025 537l8-24 6 24zM853 470l5 40 8-34 5 39 8-34-13-5zM713 473l8-36 5 52zM675 441l5 49 8-39zM654 465l8-34 5 47zM629 437l5 49 7-35zM583 435l5 44 8-35z"/><path class=bW d="M939 481l6 39 7-34 6 37 8-33 5 36 8-31 6 35 7-29 6 32 8-27-14-5-13-6-13-5-14-4zM1019 510l6 27 8-24 6 24 7-24-13 0zM840 461l5 44 8-35zM819 480l8-32 5 47zM793 457l5 46 8-37zM760 478l7-37 5 47zM514 418l5 20 7-29zM519 438l7-29 6 23zM608 456l8-32 5 46zM544 428l6 36 7-36 6 39 7-37 5 41 8-36-13-5-13-2z"/><path class=bX d="M913 469l5 40 8-34 5 40 8-34zM892 490l8-28 5 39zM780 451l6 43 7-37zM721 437l5 52 8-39zM662 431l5 47 8-37z"/><path class=bY d="M1006 506l7-18 6 22 7-17 7 20 7-17 6 17-13 0-14-3zM900 462l5 39 8-32zM879 481l7-27 6 36zM827 448l5 47 8-34zM767 441l5 47 8-37zM747 464l7-36 6 50zM700 461l8-36 5 48zM641 451l8-32 5 46zM616 424l5 46 8-33zM532 432l7-31 5 27z"/><path class=bZ d="M1013 488l6 22 7-17 7 20 7-17-14-3zM992 501l8-21 6 26zM853 470l7-25 6 31 7-27 6 32-13-5zM806 466l8-29 5 43zM649 419l5 46 8-34zM526 409l6 23 7-31zM596 444l7-32 5 44z"/><path class=ca d="M1020 478l6 15 7-8 7 11 7-9-14-2zM1013 488l7-10 6 15 7-8 7 11-14-3zM1000 480l6 26 7-18zM1040 496l6 17 7-17zM952 486l8-27 6 31 7-26 6 31 8-24 5 30-13-6-13-5zM886 454l6 36 8-28zM814 437l5 43 8-32zM793 457l8-26 5 35zM754 428l6 50 7-37zM708 425l5 48 8-36zM688 451l7-36 5 46zM629 437l7-30 5 44zM603 412l5 44 8-32zM544 428l8-32 5 32zM583 435l7-32 6 41z"/><path class=cb d="M1007 467l6 21 7-10zM1047 487l6 9 7-11zM1040 496l7-9 6 9zM973 464l6 31 8-24 5 30 8-21-13-9zM926 475l7-29 6 35 8-29 5 34-13-5zM860 445l6 31 7-27 6 32 7-27-13-5zM840 461l7-27 6 36zM780 451l8-27 5 33zM734 450l7-35 6 49zM675 441l7-35 6 45zM539 401l5 27 8-32zM557 428l7-34 6 36 7-33 6 38-13-5z"/><path class=cc d="M1000 480l7-13 6 21zM947 452l5 34 8-27 6 31 7-26-13-5zM900 462l7-23 6 30 7-26 6 32-13-6zM847 434l6 36 7-25zM801 431l5 35 8-29zM741 415l6 49 7-36zM695 415l5 46 8-36zM636 407l5 44 8-32zM526 409l8-25 5 17zM590 403l6 41 7-32z"/><path class=cd d="M994 455l6 25 7-13zM987 471l7-16 6 25zM920 443l6 32 7-29 6 35 8-29-14-6zM827 448l7-28 6 41zM788 424l5 33 8-26zM767 441l8-31 5 41zM721 437l7-34 6 47zM682 406l6 45 7-36zM662 431l7-33 6 43zM616 424l7-29 6 42zM552 396l5 32 7-34zM577 397l6 38 7-32z"/><path class=ce d="M973 464l8-19 6 26zM907 439l6 30 7-26zM860 445l8-25 5 29zM886 454l8-27 6 35zM834 420l6 41 7-27zM775 410l5 41 8-27zM649 419l7-29 6 41zM623 395l6 42 7-30zM564 394l6 36 7-33z"/><path class=cf d="M981 445l6 26 7-16zM960 459l7-18 6 23zM894 427l6 35 7-23zM873 449l8-29 5 34zM814 437l7-29 6 40zM728 403l6 47 7-35zM708 425l7-32 6 44zM669 398l6 43 7-35zM534 384l5 17 7-26zM539 401l7-26 6 21zM603 412l7-28 6 40z"/><path class=cg d="M967 441l6 23 8-19zM947 452l7-21 6 28zM868 420l5 29 8-29 5 34 8-27-13-7zM847 434l8-26 5 37zM821 408l6 40 7-28zM801 431l7-29 6 35zM754 428l8-33 5 46zM656 390l6 41 7-33zM636 407l7-28 6 40zM610 384l6 40 7-29z"/><path class=ch d="M954 431l6 28 7-18zM907 439l7-22 6 26 8-25 5 28 8-28 6 34-14-6-13-3zM855 408l5 37 8-25zM788 424l7-30 6 37zM762 395l5 46 8-31zM715 393l6 44 7-34zM695 415l8-32 5 42zM546 375l6 21 7-27zM552 396l7-27 5 25zM590 403l7-28 6 37z"/><path class=ci d="M914 417l6 26 8-25zM941 418l6 34 7-21zM834 420l8-28 5 42zM808 402l6 35 7-29zM741 415l8-33 5 46zM682 406l8-31 5 40zM643 379l6 40 7-29zM597 375l6 37 7-28zM564 394l8-27 5 30 8-28 5 34-13-6z"/><path class=cj d="M901 399l6 40 7-22zM928 418l5 28 8-28zM894 427l7-28 6 40zM842 392l5 42 8-26zM795 394l6 37 7-29zM775 410l7-30 6 44zM749 382l5 46 8-33zM703 383l5 42 7-32zM623 395l8-26 5 38zM559 369l5 25 8-27zM585 369l5 34 7-28z"/><path class=ck d="M868 420l7-35 6 35zM782 380l6 44 7-30zM728 403l8-32 5 44zM690 375l5 40 8-32zM669 398l8-30 5 38zM631 369l5 38 7-28zM546 375l8-22 5 16zM610 384l8-25 5 36zM572 367l5 30 8-28z"/><path class=cl d="M855 408l7-27 6 39zM881 420l8-36 5 43zM821 408l8-30 5 42zM677 368l5 38 8-31zM656 390l8-29 5 37z"/><path class=cm d="M889 384l5 43 7-28zM829 378l5 42 8-28zM808 402l8-34 5 40zM762 395l7-29 6 44zM736 371l5 44 8-33zM715 393l8-31 5 41zM664 361l5 37 8-30zM643 379l8-26 5 37zM554 353l5 16 8-22zM618 359l5 36 8-26zM559 369l8-22 5 20zM597 375l8-24 5 33z"/><path class=cn d="M862 381l6 39 7-35 6 35 8-36-14 1zM842 392l7-22 6 38zM795 394l8-34 5 42zM769 366l6 44 7-30zM723 362l5 41 8-32zM703 383l7-29 5 39zM651 353l5 37 8-29zM605 351l5 33 8-25zM572 367l7-23 6 25 7-23 5 29-12-6z"/><path class=co d="M849 370l6 38 7-27zM816 368l5 40 8-30zM749 382l7-28 6 41zM631 369l7-24 5 34zM567 347l5 20 7-23 6 25 7-23 5 29 8-24-13-5-13-2z"/><path class=cp d="M803 360l5 42 8-34zM782 380l8-29 5 43zM710 354l5 39 8-31zM690 375l7-28 6 36zM638 345l5 34 8-26zM567 347l7-17 5 14zM618 359l7-21 6 31z"/><path class=cq d="M829 378l7-23 6 37zM790 351l5 43 8-34zM756 354l6 41 7-29zM736 371l7-27 6 38zM697 347l6 36 7-29zM664 361l7-24 6 31 7-26 6 33zM625 338l6 31 7-24zM605 351l7-20 6 28z"/><path class=cr d="M836 355l6 37 7-22zM769 366l8-25 5 39zM684 342l6 33 7-28zM651 353l7-21 6 29zM574 330l5 14 8-17zM612 331l6 28 7-21zM579 344l8-17 5 19 7-18 6 23-13-5z"/><path class=cs d="M743 344l6 38 7-28zM723 362l7-26 6 35zM658 332l6 29 7-24 6 31 7-26zM638 345l7-18 6 26zM587 327l5 19 7-18 6 23 7-20-13-3z"/><path class=ct d="M823 341l6 37 7-23zM816 368l7-27 6 37zM777 341l5 39 8-29zM730 336l6 35 7-27zM710 354l7-24 6 32zM645 327l6 26 7-21zM587 327l7-11 5 12zM612 331l8-14 5 21 8-16 5 23z"/><path class=cu d="M654 313l6-4 7 2zM803 360l7-24 6 32zM756 354l8-23 5 35zM717 330l6 32 7-26zM684 342l7-21 6 26 7-22 6 29-13-7zM594 316l5 12 8-13 5 16 8-14 5 21 8-16 5 23 7-18-25-10-13-2zM599 328l8-13 5 16z"/><path class=cv d="M667 311l6-3 7 1zM810 336l6 32 7-27zM647 309l7 4 6-4zM790 351l7-19 6 28zM634 310l6 2 7-3zM764 331l5 35 8-25zM627 310l7 0 6 2zM743 344l8-21 5 31zM614 310l6 7 7-7 6 12 7-10-13-2zM691 321l6 26 7-22 6 29 7-24-13-5zM607 315l7-5 6 7 7-7 6 12 7-10 5 15 8-13 5 18 8-16 5 21 8-19 5 24-64-25z"/><path class=cw d="M784 326l6 25 7-19 6 28 7-24-13-4zM660 309l7 2 6-3zM777 341l7-15 6 25zM647 309l6 5 7-5 6 7 7-8-13 1zM751 323l5 31 8-23zM640 312l7-3 6 5 7-5 6 7zM730 336l8-17 5 25zM640 312l5 15 8-13 5 18 8-16 5 21 8-19 5 24 7-21-12-3z"/><path class=cx d="M680 309l6-1 7-1 6 2 7-3 6 6 7-4 6 7 7-5 6 9 7-6 6 10 7-8 6 16 7-11 6 21 7-15-13-6-13-5-13-2-13-3-26-4-13 1zM673 308l7 1 6-1 7-1 6 2 7-3 6 6 7-4 6 7 7-5 6 9 7-6 6 10 7-8 6 16 7-11 6 21-13-10-13-8-26-8-26-6-13-1zM673 308l6 10 7-10 5 13 8-12 5 16 8-13 5 18 8-15 5 21 8-17 5 25 8-21-26-8-26-6-13-1zM666 316l7-8 6 10 7-10 5 13 8-12 5 16 8-13 5 18 8-15 5 21-13-6-13-5-25-7z"/></g><g opacity=".8"><path class=ag d="M202 1009l7-37 5 42 8-36 5 38-13-2z"/><path class=ah d="M189 1000l7-38 6 47zM227 1016l7-36 6 35z"/><path class=ai d="M209 972l5 42 8-36zM176 990l7-40 6 50zM240 1015l7-37 5 39 8-34 5 37 7-31 6 32-13-1-13-3z"/><path class=aj d="M196 962l6 47 7-37zM222 978l5 38 7-36zM138 977l7-42 6 46 7-41 5 44 7-41 6 47-13-6zM278 1021l7-29 5 28z"/><path class=ak d="M234 980l6 35 7-37 5 39 8-34 5 37 7-31 6 32 7-29-13-3-12-6-13-5zM113 966l7-45 6 50 6-42 6 48-12-6zM290 1020l8-25 5 24z"/><path class=al d="M857 971l6-4 7 10 7-3 6 9 7-4 7 9 6-6 7 9-13-3-14-5zM183 950l6 50 7-38zM285 992l5 28 8-25zM100 961l7-48 6 53zM303 1019l8-22 5 20z"/><path class=am d="M830 961l7-5 7 9 6-4 7 10-13-6zM877 974l6 9 7-4 7 9 6-6-13-3zM145 935l6 46 7-41zM170 943l6 47 7-40zM298 995l5 24 8-22z"/><path class=an d="M850 961l7 10 6-4 7 10 7-3zM222 978l7-37 5 39zM120 921l6 50 6-42 6 48 7-42-13-6zM158 940l5 44 7-41zM311 997l5 20 8-19zM316 1017l8-19 5 16z"/><path class=ao d="M810 948l7 8 7-4 6 9 7-5 7 9 6-4-13-5zM209 972l7-37 6 43zM234 980l8-37 5 35zM272 989l8-30 5 33 8-26 5 29 8-24 5 26-13-2zM107 913l6 53 7-45zM324 998l5 16 8-18zM329 1014l8-18 5 15z"/><path class=ap d="M863 967l7-3 7 10 6-5 7 10 7-6 6 9-13-3-13-5zM196 962l7-37 6 47zM247 978l7-33 6 38 7-31 5 37-12-6zM311 997l8-21 5 22z"/><path class=aq d="M810 948l7-5 7 9zM837 956l6-5 7 10 7-4 6 10-13-6zM870 964l7 10 6-5 7 10 7-6-14-4zM216 935l6 43 7-37 5 39 8-37-13-2zM267 952l5 37 8-30 5 33 8-26 5 29 8-24 5 26 8-21 5 22 7-19-12-3-26-10zM324 998l7-19 6 17zM337 996l5 15 7-17zM342 1011l7-17 5 13z"/><path class=ar d="M784 936l6-2 7 8 6-3 7 9zM824 952l6-5 7 9zM857 957l6 10 7-3zM203 925l6 47 7-37zM242 943l5 35 7-33 6 38 7-31-13-7zM331 979l6 17 7-17zM183 950l7-35 6 47zM337 996l7-17 5 15z"/><path class=as d="M790 934l7 8 6-3 7 9 7-5 7 9 6-5 7 9 6-5 7 10 7-4-14-6-40-12zM306 971l7-21 6 26 7-20 5 23 8-18 5 18-13 0-12-3zM344 979l5 15 8-15zM158 940l7-39 5 42 7-36 6 43-13-7zM349 994l5 13 8-16zM354 1007l8-16 5 11z"/><path class=at d="M764 921l7 7 6 0 7 8 6-2-13-6zM870 964l7-5 6 10 7-6 7 10-14-4zM313 950l6 26 7-20 5 23 8-18-13-5zM280 959l8-24 5 31 8-23 5 28-13-5zM344 979l8-16 5 16zM190 915l6 47 7-37zM132 929l7-42 6 48 7-40 6 45-13-5zM349 994l8-15 5 12z"/><path class=au d="M751 913l7 6 6 2zM843 951l7-3 7 9 6-3 7 10-13-7zM301 943l5 28 7-21zM339 961l5 18 8-16 5 16 8-15-13-1zM267 952l8-25 5 32zM357 979l8-15 5 13zM177 907l6 43 7-35zM357 979l5 12 8-14zM120 921l7-41 5 49zM362 991l8-14 5 11zM362 991l5 11 8-14zM367 1002l8-14 5 9z"/><path class=av d="M764 921l6 1 7 6 6-1 7 7 6-3 7 8 7-4 7 8 6-4 7 8 6-4 7 8-40-12-13-5-13-6zM850 948l7 9 6-3 7 10 7-5 6 10 7-6-27-9zM326 956l8-18 5 23 8-17 5 19 8-15 5 16-13-1-13-2zM275 927l5 32 8-24 5 31 8-23zM365 964l5 13 8-13zM216 935l7-33 6 39 7-32 6 34 7-29 5 31 8-26 5 33-13-7-25-4zM152 895l6 45 7-39 5 42 7-36zM370 977l5 11 8-13zM107 913l7-37 6 45z"/><path class=aw d="M738 904l7 5 6 4zM751 913l6 2 7 6zM770 922l7 6 6-1 7 7 6-3 7 8 7-4 7 8 6-4 7 8 6-4 7 8 7-3-27-9-40-12zM321 931l5 25 8-18 5 23 8-17 5 19 8-15 5 16 8-14-13-2-13-4-13-6zM301 943l7-20 5 27 8-19 5 25-13-6zM365 964l8-14 5 14zM262 919l5 33 8-25zM203 925l7-32 6 42zM370 977l8-13 5 11zM139 887l6 48 7-40zM375 988l8-13 5 9zM375 988l5 9 8-13z"/><path class=ax d="M725 895l7 4 6 5zM738 904l6 4 7 5zM757 915l7 6 6 1zM347 944l8-15 5 19 8-14 5 16-13-2zM308 923l5 27 8-19zM373 950l5 14 8-12zM288 935l7-20 6 28zM378 964l8-12 5 11zM223 902l6 39 7-32 6 34 7-29 5 31 8-26-26-10zM378 964l5 11 8-12zM383 975l8-12 5 10zM114 876l6 45 7-41 5 49 7-42-12-7zM383 975l5 9 8-11zM380 997l8-13 5 7z"/><path class=ay d="M744 908l7 5 6 2zM770 922l6-1 7 6 6-2 7 6 7-3 7 7 6-4 7 8 7-4 6 8 7-4 7 9 6-4 7 10 7-6 7 11 6-7 7 11-27-9-13-6-27-9-40-12zM342 922l5 22 8-15 5 19 8-14 5 16 8-13 5 15 8-12-26-6-13-5zM321 931l8-16 5 23 8-16 5 22-13-6zM373 950l8-13 5 15 8-12 5 12-13 0zM295 915l6 28 7-20zM386 952l5 11 8-11zM391 963l8-11 5 10zM210 893l6 42 7-33zM391 963l5 10 8-11zM190 915l8-32 5 42zM388 984l8-11 5 6zM388 984l5 7 8-12z"/><path class=az d="M711 885l8 3 6 7zM725 895l5 5 8 4zM730 900l8 4 6 4zM744 908l6 3 7 4 6 1 7 6zM776 921l7 6 6-2zM856 944l7 10 7-6 7 11 6-7zM355 929l8-15 5 20 8-15 5 18 8-13 5 16-26-6zM329 915l5 23 8-16zM394 940l5 12 8-10zM308 923l8-17 5 25zM399 952l8-10 5 10zM282 906l6 29 7-20zM399 952l5 10 8-10zM275 927l7-21 6 29zM177 907l8-33 5 41zM396 973l8-11 5 7zM396 973l5 6 8-10zM393 991l8-12 5 5z"/><path class=aA d="M698 875l8 3 5 7zM711 885l6 7 8 3zM717 892l8 3 5 5zM730 900l6 4 8 4zM750 911l7 4 6 1 7 6 6-1zM789 925l7 6 7-3 7 7 6-4 7 8 7-4 6 8 7-4 7 9 6-4-13-5-27-8zM350 907l5 22 8-15 5 20 8-15 5 18 8-13 5 16 8-12 5 14 7-11-25-7-26-10zM342 922l8-15 5 22zM394 940l8-12 5 14 7-11 6 12-13-1zM316 906l5 25 8-16zM407 942l5 10 8-9zM412 952l8-9 5 9zM412 952l5 8 8-8zM249 914l8-25 5 30 7-22 6 30-13-8zM404 962l8-10 5 8zM198 883l5 42 7-32zM404 962l5 7 8-9zM165 901l7-35 5 41zM401 979l8-10 5 5z"/><path class=aB d="M698 875l6 8 7 2zM704 883l7 2 6 7zM717 892l6 6 7 2zM723 898l7 2 6 4 8 4 6 3zM396 911l6 17 7-12 5 15 8-11-13-4zM363 914l7-15 6 20 7-14 6 19 7-13 6 17 7-12 5 15 8-11 5 13-13-2-25-7zM337 899l5 23 8-15zM414 931l6 12 7-10 6 10 7-8zM329 915l8-16 5 23zM420 943l7-10 6 10zM303 897l5 26 8-17zM420 943l5 9 8-9zM295 915l8-18 5 26zM269 897l6 30 7-21zM236 909l8-27 5 32zM417 960l8-8 5 6zM185 874l5 41 8-32zM152 895l7-37 6 43zM409 969l8-9 5 6zM409 969l5 5 8-8zM401 979l5 5 8-10z"/><path class=aC d="M685 865l8 2 5 8zM704 883l6 7 7 2zM710 890l7 2 6 6zM736 904l6 3 8 4 6 1 7 4 6 0 7 5 6-2 7 6 7-3 7 6 6-3 7 6 7-3 7 7 6-4 7 8 6-5 7 10 7-8 7 12-14-4-13-5-27-8-27-6-13-4-26-10zM409 916l8-14 5 18 8-12 5 15 8-11 5 13-13-2-13-3zM370 899l6 20 7-14 6 19 7-13zM422 920l5 13 8-10 5 12 8-10-13-2zM350 907l8-16 5 23zM427 933l8-10 5 12 8-10 5 11-13-1zM324 890l5 25 8-16zM440 935l6 8 7-7zM316 906l8-16 5 25zM433 943l7-8 6 8zM290 888l5 27 8-18zM433 943l5 8 8-8zM282 906l8-18 5 27zM425 952l8-9 5 8zM244 882l5 32 8-25 5 30 7-22-12-8zM425 952l5 6 8-7zM223 902l8-28 5 35zM172 866l5 41 8-33zM417 960l5 6 8-8zM139 887l7-38 6 46zM406 984l8-10 5 4z"/><path class=aD d="M685 865l6 8 7 2zM691 873l7 2 6 8zM723 898l6 4 7 2zM870 948l7-9 6 13zM729 902l7 2 6 3 8 4 6 1 7 4 6 0 7 5 6-2 7 6 7-3 7 6 6-3 7 6 7-3-54-12-27-9zM404 896l5 20 8-14 5 18 8-12 5 15 8-11 5 13 8-10 5 12 8-9-26-6-13-4zM383 905l8-15 5 21 8-15 5 20-13-5zM448 925l8-10 5 12 8-9 5 11zM358 891l5 23 7-15zM448 925l5 11 8-9 6 10 7-8zM337 899l8-16 5 24zM453 936l8-9 6 10zM453 936l6 8 8-7zM303 897l8-16 5 25zM446 943l7-7 6 8zM446 943l5 7 8-6zM269 897l8-19 5 28zM438 951l8-8 5 7zM231 874l5 35 8-27zM438 951l5 5 8-6zM210 893l8-29 5 38zM430 958l8-7 5 5zM159 858l6 43 7-35zM430 958l5 4 8-6zM127 880l7-40 5 47zM422 966l8-8 5 4zM422 966l5 3 8-7zM414 974l8-8 5 3zM414 974l5 4 8-9z"/><path class=aE d="M672 855l8 2 5 8zM678 864l7 1 6 8zM691 873l6 9 7 1zM697 882l7 1 6 7zM697 882l6 7 7 1 6 6 7 2zM716 896l7 2 6 4zM823 928l7 7 6-4 7 8 6-5 7 10 7-8 7 12 7-9-14-3-14-2zM425 888l5 20 8-14 5 18 8-12 5 15 8-11 5 14 8-11 5 14 8-11-26-6-13-4zM417 902l8-14 5 20 8-14 5 18 8-12 5 15 8-11 5 14 8-11 5 14 8-11 5 13-13-2-39-9-13-4zM378 882l5 23 8-15 5 21 8-15-13-6zM469 918l5 11 8-8 5 10 8-8 6 11 7-8-13-3-13-2zM358 891l7-16 5 24 8-17 5 23-13-6zM474 929l8-8 5 10 8-8 6 11-14-3zM345 883l5 24 8-16zM474 929l6 10 7-8 6 10 8-7-14-3zM324 890l8-15 5 24zM467 937l7-8 6 10 7-8 6 10zM311 881l5 25 8-16zM467 937l5 8 8-6 5 7 8-5zM459 944l8-7 5 8 8-6 5 7zM277 878l5 28 8-18zM459 944l5 6 8-5zM257 889l7-20 5 28zM451 950l8-6 5 6zM218 864l5 38 8-28zM451 950l5 5 8-5zM198 883l7-28 5 38zM443 956l8-6 5 5zM146 849l6 46 7-37zM114 876l7-44 6 48z"/><path class=aF d="M659 845l8 3 5 7zM672 855l6 9 7 1zM678 864l6 9 7 0zM684 873l7 0 6 9zM690 882l7 0 6 7 7 1 6 6zM716 896l6 5 7 1 6 4 7 1 6 2 8 3 6 0 7 4 6-1 7 4 7-2 7 5-27-6-27-9-13-5zM735 906l7 1 6 2 8 3 6 0zM459 886l5 18 8-13 5 16 8-12 5 15 8-11-26-8zM438 894l8-15 5 21 8-14 5 18 8-13 5 16 8-12 5 15 8-11 5 15 8-11 5 14 8-10 5 13-26-6-13-4-26-6-13-4zM412 880l5 22 8-14zM490 910l5 13 8-9 5 12 8-9 5 12 8-9 6 12 7-8 6 11 7-8-13-3-13-4-26-6zM391 890l8-17 5 23 8-16 5 22zM495 923l8-9 5 12 8-9 5 12 8-9 6 12 7-8 6 11 7-8 6 12-13-4zM365 875l5 24 8-17zM508 926l6 11 7-8 6 10 8-7 5 11 8-8 5 11 8-7-13-4zM345 883l7-16 6 24zM501 934l7-8 6 11 7-8 6 10 8-7 5 11 8-8 5 11-13-3-13-4-13-2zM332 875l5 24 8-16zM501 934l5 9 8-6 5 9 8-7 5 10 8-6-13-4-13-2zM493 941l8-7 5 9 8-6 5 9 8-7 5 10-26-6zM298 871l5 26 8-16zM493 941l5 7 8-5 5 8 8-5-13-3zM290 888l8-17 5 26zM485 946l8-5 5 7 8-5 5 8-13-3zM264 869l5 28 8-19zM472 945l5 6 8-5 5 6 8-4-13-2zM464 950l8-5 5 6 8-5 5 6zM464 950l5 4 8-3zM456 955l8-5 5 4zM134 840l5 47 7-38zM443 956l5 3 8-4zM435 962l8-6 5 3zM435 962l5 2 8-5zM427 969l8-7 5 2zM419 978l8-9 5 2z"/><path class=aG d="M659 845l6 9 7 1zM665 854l7 1 6 9zM671 864l7 0 6 9zM684 873l6 9 7 0zM676 875l8-2 6 9zM690 882l5 9 8-2 6 7 7 0zM796 922l6-3 7 6 6-4 8 7 6-5 7 8zM695 891l8-2 6 7 7 0 6 5 7 1 6 4zM762 912l7 4 6-1 7 4 7-2 7 5 6-3-27-4zM485 895l7-14 6 18 7-13 6 17 7-12 6 16 7-11 6 15 8-11 5 15 8-10 5 13 8-9 5 13 8-9 6 12-14-3-13-4-13-3zM433 871l5 23 8-15 5 21 8-14-13-7zM498 899l5 15 8-11 5 14 8-10 5 13 8-9 5 13 8-9 5 12 8-9 6 13 7-9 6 12 8-9 5 12 8-8-13-4-14-3-13-4-13-3zM425 888l8-17 5 23zM529 920l8-9 5 13 8-9 5 12 8-9 6 13 7-9 6 12 8-9 5 12 8-8 5 11-39-9-14-4-13-3zM399 873l5 23 8-16zM555 927l6 12 8-8 5 11 8-8 5 11 8-8 6 11 7-8-39-9zM378 882l8-17 5 25zM561 939l8-8 5 11 8-8 5 11 8-8 6 11zM352 867l6 24 7-16zM561 939l5 10 8-7 6 9 7-6 6 9 8-6zM553 946l8-7 5 10 8-7 6 9 7-6 6 9-13-3-14-2zM319 865l5 25 8-15zM540 943l5 8 8-5 6 8 7-5 6 8 8-6-14-2zM311 881l8-16 5 25zM532 949l8-6 5 8 8-5 6 8 7-5 6 8-27-6zM519 946l5 7 8-4 6 7 7-5 6 7 8-4-14-3-13-2zM277 878l8-17 5 27zM511 951l8-5 5 7 8-4 6 7 7-5 6 7-13-2-14-3zM251 859l6 30 7-20zM498 948l5 6 8-3 6 6 7-4-13-2zM244 882l7-23 6 30zM490 952l8-4 5 6 8-3 6 6-14-3zM205 855l5 38 8-29zM477 951l5 4 8-3zM185 874l7-29 6 38zM469 954l8-3 5 4zM121 832l6 48 7-40zM456 955l5 2 8-3zM448 959l8-4 5 2zM427 969l5 2 8-7z"/><path class=aH d="M646 836l8 2 5 7zM652 845l7 0 6 9zM665 854l6 10 7 0zM671 864l5 11 8-2zM676 875l6 10 8-3zM836 931l7-6 6 9 7-8 7 10-14-2zM682 885l8-3 5 9zM802 919l7 6 6-4 8 7 6-5zM682 885l6 8 7-2 6 7 8-2 5 6 8-1 6 4 7 1 6 2 7 1 6 2 8 1-27-6-40-15zM701 898l8-2 5 6 8-1 6 4 7 1 6 2-27-6zM552 889l6 16 7-11 6 15 8-10 5 14 8-10 5 13 8-9 5 13 8-10-13-3-26-8zM531 896l8-12 6 16 7-11 6 16 7-11 6 15 8-10 5 14 8-10 5 13 8-9 5 13 8-10 6 13-14-3-13-4-13-3-26-8-13-5zM466 870l6 21 7-15 6 19 7-14 6 18 7-13 6 17 7-12 6 16 7-11 6 15 8-11 5 15 8-10 5 13 8-9 5 13 8-9 6 12 7-9 6 13 7-9 6 12 8-9 5 11 8-9-13-2-14-3-13-4-13-3-26-8-13-5-14-4-52-20zM446 879l7-16 6 23 7-16 6 21 7-15 6 19-13-4-13-5zM590 925l7-9 6 13 7-9 6 12 8-9 5 11-13-2-13-3zM603 929l5 11 8-8 6 11 7-9 6 11 8-9-27-4zM412 880l8-18 5 26zM608 940l8-8 6 11 7-9 6 11-13-2zM386 865l5 25 8-17zM608 940l6 10 8-7zM365 875l8-18 5 25zM601 948l7-8 6 10zM339 858l6 25 7-16zM332 875l7-17 6 25zM306 856l5 25 8-16zM298 871l8-15 5 25zM285 861l5 27 8-17zM524 953l6 6 8-3zM231 874l7-24 6 32zM517 957l7-4 6 6zM192 845l6 38 7-28zM490 952l5 5 8-3 6 5 8-2-14-3zM172 866l7-31 6 39zM482 955l8-3 5 5zM469 954l5 3 8-2zM461 957l8-3 5 3zM448 959l5 2 8-4zM440 964l8-5 5 2zM432 971l8-7 5 2z"/><path class=aI d="M633 828l8 1 5 7zM646 836l6 9 7 0zM652 845l6 10 7-1zM658 855l7-1 6 10zM658 855l5 12 8-3zM663 867l8-3 5 11zM663 867l6 11 7-3zM863 936l7-9 7 12zM656 871l7-4 6 11 7-3 6 10zM829 923l7 8 7-6 6 9 7-8-13-1zM656 871l5 12 8-5 6 10 7-3zM762 912l6 0 7 3 6-1 8 3-14-2zM661 883l8-5 6 10 7-3 6 8 7-2 6 7zM741 908l7 1 6 2 8 1 6 0-14-1zM661 883l6 11 8-6 5 9 8-4 6 8 7-3 6 6 7-2 6 5 8-2-14-3-13-4zM620 889l6 12 7-8zM599 893l8-9 5 14 8-9 6 12 7-8 6 12-13-4-14-3zM573 883l6 16 7-10 6 14 7-10 6 14 7-9 6 12 8-9 5 12 8-8 6 11 7-8-13-3-13-4-14-3-13-5-13-4zM552 889l8-11 5 16 8-11 6 16 7-10 6 14 7-10 6 14 7-9 6 12 8-9 5 12 8-8 6 11-40-9-26-8zM513 872l5 19 8-13 5 18 8-12 6 16 7-11-13-5zM618 910l6 13 7-10 6 12 8-9 5 11 8-9-13-2zM492 881l8-15 5 20 8-14 5 19 8-13 5 18zM624 923l7-10 6 12 8-9 5 11zM453 863l6 23 7-16zM637 925l6 11 7-9 6 11 8-9zM629 934l8-9 6 11 7-9 6 11zM420 862l5 26 8-17zM399 873l8-20 5 27zM373 857l5 25 8-17zM352 867l8-18 5 26zM326 849l6 26 7-17zM319 865l7-16 6 26zM272 851l5 27 8-17zM264 869l8-18 5 27zM238 850l6 32 7-23zM218 864l8-24 5 34zM159 858l7-34 6 42zM495 957l8-3 6 5zM482 955l5 4 8-2zM474 957l8-2 5 4zM440 964l5 2 8-5z"/><path class=aJ d="M620 819l8 1 5 8zM633 828l6 8 7 0zM639 836l7 0 6 9zM639 836l6 10 7-1zM645 846l7-1 6 10zM645 846l5 12 8-3zM650 858l8-3 5 12zM650 858l6 13 7-4zM643 865l7-7 6 13zM856 926l7 10 7-9zM643 865l5 13 8-7zM789 917l6-2 7 4 6-3 7 5zM635 872l8-7 5 13 8-7 5 12-13-5zM768 912l7 3 6-1 8 3 6-2-14-1zM635 872l6 13 7-7 6 11 7-6-13-5zM728 905l6 4 7-1 6 3 7 0zM628 880l7-8 6 13 7-7 6 11 7-6 6 11 8-6 5 9 8-4 6 8 7-3 6 6 7-2 6 5 8-2 6 4-14-2-26-6-14-4-13-3-13-5-13-4zM601 869l6 15 7-9 6 14 8-9 5 13 8-8 5 12 8-8 6 11 7-6 6 9 7-6 6 9 8-5 6 7 7-4-13-3-14-4-13-3-13-5-13-4-27-10zM594 878l7-9 6 15 7-9 6 14 8-9 5 13 8-8 5 12 8-8 6 11 7-6 6 9 7-6 6 9 8-5 6 7-14-2-40-9-26-8-13-5zM581 873l5 16 8-11 5 15 8-9 5 14 8-9-13-5-13-6zM633 893l6 12 7-8 6 11 8-8 5 10 8-7 6 9 7-6-40-9zM560 878l8-12 5 17 8-10 5 16 8-11 5 15-13-4-13-6zM639 905l7-8 6 11 8-8 5 10 8-7 6 9-27-4zM534 865l5 19 8-13 5 18 8-11 5 16 8-11-13-5-13-7zM652 908l6 10 7-8 6 10 8-8zM526 878l8-13 5 19 8-13 5 18-13-5zM645 916l7-8 6 10 7-8 6 10zM487 859l5 22 8-15 5 20 8-14-13-6zM658 918l6 11 7-9zM466 870l8-19 5 25 8-17 5 22-13-5zM650 927l8-9 6 11 7-9 6 10-13-1zM440 852l6 27 7-16zM433 871l7-19 6 27zM407 853l5 27 8-18zM386 865l8-21 5 29zM360 849l5 26 8-18zM339 858l8-18 5 27zM306 856l8-17 5 26zM293 846l5 25 8-15zM285 861l8-15 5 25zM251 859l8-18 5 28zM226 840l5 34 7-24zM179 835l6 39 7-29zM461 957l5 2 8-2zM453 961l8-4 5 2z"/><path class=aK d="M607 811l8 0 5 8zM620 819l6 9 7 0zM626 828l7 0 6 8zM626 828l5 10 8-2zM631 838l8-2 6 10zM631 838l6 13 8-5zM637 851l8-5 5 12zM637 851l6 14 7-7zM630 858l7-7 6 14zM616 851l6 15 8-8 5 14 8-7zM815 921l7-4 7 6zM622 866l8-8 5 14zM795 915l7 4 6-3zM609 859l5 16 8-9 6 14 7-8-13-6zM754 911l7 1 7 0 6 1 7 1-13-2zM601 869l8-10 5 16 8-9 6 14-14-5zM734 909l7-1 6 3 7 0 7 1-14-1zM588 862l6 16 7-9zM707 904l6 6 7-3 6 5 8-3-14-2zM581 873l7-11 6 16zM700 908l7-4 6 6 7-3 6 5zM554 859l6 19 8-12 5 17 8-10zM686 906l6 8 8-6 5 8 8-6zM547 871l7-12 6 19zM679 912l7-6 6 8 8-6 5 8zM521 858l5 20 8-13zM679 912l6 9 7-7zM500 866l8-16 5 22 8-14 5 20zM671 920l8-8 6 9 7-7 6 8zM474 851l5 25 8-17zM671 920l6 10 8-9zM453 863l8-21 5 28zM420 862l7-20 6 29zM394 844l5 29 8-20zM373 857l8-21 5 29zM347 840l5 27 8-18zM314 839l5 26 7-16zM272 851l8-16 5 26zM259 841l5 28 8-18zM205 855l8-25 5 34zM166 824l6 42 7-31zM146 849l8-35 5 44z"/><path class=aL d="M607 811l6 9 7-1zM613 820l7-1 6 9zM613 820l5 11 8-3zM618 831l8-3 5 10zM618 831l6 12 7-5zM624 843l7-5 6 13zM624 843l6 15 7-7zM616 851l8-8 6 15zM603 843l6 16 7-8zM829 923l7-6 7 8 6-7 7 8-13-1zM596 852l7-9 6 16 7-8 6 15zM808 916l7 5 7-4 7 6 7-6-14 0zM596 852l5 17 8-10zM781 914l7-1 7 2zM588 862l8-10 5 17zM761 912l7 0 6 1zM562 847l6 19 7-11 6 18 7-11-13-7zM734 909l6 4 7-2 6 2 8-1-14-1zM554 859l8-12 6 19 7-11 6 18zM726 912l8-3 6 4zM541 852l6 19 7-12zM713 910l6 6 7-4zM534 865l7-13 6 19zM705 916l8-6 6 6zM508 850l5 22 8-14zM692 914l6 8 7-6zM487 859l8-18 5 25zM461 842l5 28 8-19zM427 842l6 29 7-19zM407 853l7-22 6 31zM381 836l5 29 8-21zM360 849l8-21 5 29zM334 831l5 27 8-18zM326 849l8-18 5 27zM301 830l5 26 8-17zM293 846l8-16 5 26zM280 835l5 26 8-15zM246 830l5 29 8-18zM238 850l8-20 5 29zM213 830l5 34 8-24zM192 845l8-26 5 36zM134 840l7-36 5 45z"/><path class=aM d="M594 801l8 1 5 9zM594 801l6 11 7-1zM600 812l7-1 6 9zM605 823l8-3 5 11zM605 823l6 13 7-5zM611 836l7-5 6 12zM598 828l5 15 8-7 5 15 8-8-13-7zM603 843l8-7 5 15zM590 836l6 16 7-9zM856 926l7-7 7 8zM583 845l7-9 6 16zM836 917l7 8 6-7zM570 837l5 18 8-10 5 17 8-10-13-7zM795 915l6-2 7 3zM562 847l8-10 5 18 8-10 5 17-13-7zM774 913l7 1 7-1zM549 839l5 20 8-12zM761 912l6 1 7 0zM541 852l8-13 5 20zM528 843l6 22 7-13zM521 858l7-15 6 22zM495 841l5 25 8-16zM474 851l8-20 5 28zM448 831l5 32 8-21zM440 852l8-21 5 32zM414 831l6 31 7-20zM368 828l5 29 8-21zM347 840l8-20 5 29zM314 839l7-17 5 27zM267 824l5 27 8-16zM259 841l8-17 5 27zM226 840l7-20 5 30zM200 819l5 36 8-25zM154 814l5 44 7-34zM121 832l7-35 6 43z"/><path class=aN d="M581 791l8 0 5 10zM587 803l7-2 6 11zM600 812l5 11 8-3zM592 815l8-3 5 11zM592 815l6 13 7-5zM598 828l7-5 6 13zM590 836l8-8 5 15zM577 827l6 18 7-9zM570 837l7-10 6 18zM849 918l7 8 7-7zM808 916l7-3 7 4zM788 913l7 2 6-2zM774 913l6 0 8 0zM528 843l8-13 5 22zM515 834l6 24 7-15zM508 850l7-16 6 24zM482 831l5 28 8-18zM394 844l7-22 6 31zM355 820l5 29 8-21zM321 822l5 27 8-18zM301 830l7-17 6 26zM288 820l5 26 8-16zM280 835l8-15 5 26zM233 820l5 30 8-20zM179 835l8-28 5 38zM141 804l5 45 8-35z"/><path class=aO d="M581 791l6 12 7-2zM587 803l5 12 8-3zM585 820l7-5 6 13zM585 820l5 16 8-8zM577 827l8-7 5 16zM564 818l6 19 7-10zM557 828l5 19 8-10zM822 917l6-4 8 4zM549 839l8-11 5 19zM801 913l7 3 7-3zM536 830l5 22 8-13zM788 913l6-1 7 1zM502 823l6 27 7-16zM495 841l7-18 6 27zM461 842l7-22 6 31zM435 819l5 33 8-21zM427 842l8-23 5 33zM401 822l6 31 7-22zM381 836l7-23 6 31zM342 812l5 28 8-20zM334 831l8-19 5 28zM308 813l6 26 7-17zM267 824l8-15 5 26zM254 814l5 27 8-17zM246 830l8-16 5 27zM213 830l7-22 6 32zM187 807l5 38 8-26zM128 797l6 43 7-36z"/><path class=aP d="M568 781l8 0 5 10zM574 793l7-2 6 12zM574 793l5 13 8-3zM579 806l8-3 5 12zM579 806l6 14 7-5zM572 811l7-5 6 14zM572 811l5 16 8-7zM564 818l8-7 5 16zM557 828l7-10 6 19zM544 818l5 21 8-11zM836 917l6-5 7 6zM536 830l8-12 5 21zM815 913l7 4 6-4zM523 819l5 24 8-13zM515 834l8-15 5 24zM468 820l6 31 8-20zM414 831l8-23 5 34zM388 813l6 31 7-22zM368 828l7-23 6 31zM321 822l8-18 5 27zM295 804l6 26 7-17zM288 820l7-16 6 26zM275 809l5 26 8-15zM220 808l6 32 7-20zM166 824l8-29 5 40z"/><path class=aQ d="M568 781l6 12 7-2zM566 796l8-3 5 13zM566 796l6 15 7-5zM559 801l5 17 8-7zM551 808l6 20 7-10zM544 818l7-10 6 20zM849 918l7-4 7 5zM828 913l8 4 6-5zM801 913l7-2 7 2zM489 812l6 29 7-18zM482 831l7-19 6 29zM455 808l6 34 7-22zM448 831l7-23 6 34zM422 808l5 34 8-23zM375 805l6 31 7-23zM355 820l7-22 6 30zM329 804l5 27 8-19zM308 813l8-17 5 26zM275 809l8-14 5 25zM262 799l5 25 8-15zM254 814l8-15 5 25zM241 802l5 28 8-16zM233 820l8-18 5 28zM200 819l7-23 6 34zM174 795l5 40 8-28z"/><path class=aR d="M556 770l7 0 5 11zM556 770l5 12 7-1zM561 782l7-1 6 12zM561 782l5 14 8-3zM559 801l7-5 6 15zM551 808l8-7 5 17zM530 807l6 23 8-12zM523 819l7-12 6 23zM842 912l7 6 7-4zM510 808l5 26 8-15zM815 913l6-3 7 3zM502 823l8-15 5 26zM401 822l8-24 5 33zM362 798l6 30 7-23zM342 812l8-21 5 29zM316 796l5 26 8-18zM295 804l8-15 5 24zM283 795l5 25 7-16zM207 796l6 34 7-22zM154 814l7-31 5 41z"/><path class=aS d="M553 785l8-3 5 14zM553 785l6 16 7-5zM546 790l7-5 6 16zM546 790l5 18 8-7zM538 797l8-7 5 18zM538 797l6 21 7-10zM530 807l8-10 6 21zM517 794l6 25 7-12zM828 913l7-4 7 3zM476 799l6 32 7-19zM468 820l8-21 6 32zM442 796l6 35 7-23zM435 819l7-23 6 35zM409 798l5 33 8-23zM388 813l8-24 5 33zM350 791l5 29 7-22zM329 804l8-19 5 27zM303 789l5 24 8-17zM270 785l5 24 8-14zM262 799l8-14 5 24zM249 787l5 27 8-15zM241 802l8-15 5 27zM228 789l5 31 8-18zM220 808l8-19 5 31zM187 807l7-25 6 37zM161 783l5 41 8-29zM141 804l7-31 6 41z"/><path class=aT d="M543 759l7-1 6 12zM543 759l5 12 8-1zM548 771l8-1 5 12zM548 771l5 14 8-3zM510 808l7-14 6 25zM497 795l5 28 8-15zM842 912l7-2 7 4zM489 812l8-17 5 28zM396 789l5 33 8-24zM375 805l8-23 5 31zM337 785l5 27 8-21zM316 796l8-17 5 25zM290 781l5 23 8-15zM283 795l7-14 5 23zM194 782l6 37 7-23zM128 797l7-31 6 38z"/><path class=aU d="M535 759l8 0 5 12zM540 773l8-2 5 14zM540 773l6 17 7-5zM533 778l7-5 6 17zM533 778l5 19 8-7zM525 784l5 23 8-10zM517 794l8-10 5 23zM463 786l5 34 8-21zM455 808l8-22 5 34zM429 785l6 34 7-23zM422 808l7-23 6 34zM362 798l8-22 5 29zM311 773l5 23 8-17 5 25 8-19zM303 789l8-16 5 23zM278 771l5 24 7-14zM270 785l8-14 5 24zM257 773l5 26 8-14zM249 787l8-14 5 26zM236 773l5 29 8-15zM228 789l8-16 5 29zM215 775l5 33 8-19zM207 796l8-21 5 33zM174 795l7-27 6 39zM148 773l6 41 7-31z"/><path class=aV d="M530 748l7-1 6 12zM530 748l5 11 8 0zM535 759l5 14 8-2zM525 784l8-6 5 19zM504 781l6 27 7-14zM497 795l7-14 6 27zM484 781l5 31 8-17zM476 799l8-18 5 31zM409 798l7-23 6 33zM370 776l5 29 8-23 5 31 8-24-13-7zM337 785l7-19 6 25 7-20 5 27-12-7zM298 766l5 23 8-16zM290 781l8-15 5 23zM181 768l6 39 7-25zM135 766l6 38 7-31z"/><path class=aW d="M522 748l8 0 5 11zM527 761l8-2 5 14zM527 761l6 17 7-5zM520 765l5 19 8-6zM512 771l5 23 8-10zM504 781l8-10 5 23zM450 774l5 34 8-22zM442 796l8-22 5 34zM416 775l6 33 7-23zM344 766l6 25 7-20 5 27 8-22zM311 773l8-17 5 23 8-18 5 24zM285 758l5 23 8-15zM278 771l7-13 5 23zM265 760l5 25 8-14zM257 773l8-13 5 25zM244 759l5 28 8-14zM194 782l8-22 5 36z"/><path class=aX d="M517 737l7-1 6 12zM517 737l5 11 8 0zM522 748l5 13 8-2zM520 765l7-4 6 17zM512 771l8-6 5 19zM491 767l6 28 7-14zM484 781l7-14 6 28zM471 768l5 31 8-18zM463 786l8-18 5 31zM396 789l7-23 6 32zM319 756l5 23 8-18 5 24 7-19zM298 766l8-15 5 22zM236 773l8-14 5 28zM223 757l5 32 8-16zM215 775l8-18 5 32zM202 760l5 36 8-21zM161 783l7-29 6 41z"/><path class=aY d="M504 727l8-1 5 11zM509 738l8-1 5 11zM514 750l8-2 5 13zM514 750l6 15 7-4zM507 753l5 18 8-6zM499 758l5 23 8-10zM437 764l5 32 8-22zM429 785l8-21 5 32zM403 766l6 32 7-23zM357 771l8-20 5 25 8-21 5 27 7-22 6 29-13-7-13-6zM293 744l5 22 8-15 5 22 8-17-13-5zM285 758l8-14 5 22zM273 748l5 23 7-13zM265 760l8-12 5 23zM252 745l5 28 8-13zM168 754l6 41 7-27z"/><path class=aZ d="M504 727l5 11 8-1zM509 738l5 12 8-2zM507 753l7-3 6 15zM499 758l8-5 5 18zM491 767l8-9 5 23zM450 774l8-19 5 31zM416 775l8-21 5 31zM378 755l5 27 7-22 6 29 7-23zM306 751l8-16 5 21 7-16 6 21 7-17 5 22 8-19 5 24zM280 735l5 23 8-14zM273 748l7-13 5 23zM244 759l8-14 5 28zM231 742l5 31 8-14zM181 768l8-24 5 38zM148 773l7-30 6 40z"/><path class=ba d="M491 718l8-1 5 10zM491 718l5 10 8-1zM496 728l8-1 5 11zM496 728l5 11 8-1zM501 739l8-1 5 12zM501 739l6 14 7-3zM478 753l6 28 7-14zM471 768l7-15 6 28zM458 755l5 31 8-18zM424 754l5 31 8-21zM301 730l5 21 8-16 5 21 7-16 6 21 7-17 5 22 8-19 5 24 8-20 5 25 8-21-26-8-13-3-13-4zM293 744l8-14 5 21zM260 733l5 27 8-12zM252 745l8-12 5 27zM223 757l8-15 5 31zM210 740l5 35 8-18zM202 760l8-20 5 35zM189 744l5 38 8-22zM155 743l6 40 7-29zM135 766l8-30 5 37z"/><path class=bb d="M478 709l8-1 5 10zM483 719l8-1 5 10zM489 729l7-1 5 11zM494 741l7-2 6 14zM494 741l5 17 8-5zM486 745l5 22 8-9zM478 753l8-8 5 22zM437 764l8-18 5 28zM411 747l5 28 8-21zM390 760l8-19 5 25 8-19 5 28-13-9zM288 722l5 22 8-14zM280 735l8-13 5 22zM267 720l6 28 7-13zM239 726l5 33 8-14zM143 736l5 37 7-30z"/><path class=bc d="M339 668l8 0 4 1zM465 701l8-2 5 10zM478 709l5 10 8-1zM483 719l6 10 7-1zM489 729l5 12 7-2zM486 745l8-4 5 17zM465 742l6 26 7-15zM458 755l7-13 6 26zM445 746l5 28 8-19zM398 741l5 25 8-19zM301 730l8-15 5 20 7-15 5 20 8-16 5 20 8-17 5 20 8-16 5 20 8-17 5 21 7-17 5 22-12-5-26-8-13-3-13-4zM260 733l7-13 6 28zM231 742l8-16 5 33zM168 754l8-26 5 40z"/><path class=bd d="M351 669l8 0 5 1 8 0 4 2-12-2zM453 695l7-3 5 9zM326 667l5 0 8 1 4 0 8 1zM465 701l5 10 8-2zM318 666l8 1 5 0zM470 711l8-2 5 10zM470 711l6 9 7-1zM476 720l7-1 6 10zM476 720l5 11 8-2zM481 731l8-2 5 12zM481 731l5 14 8-4zM473 735l8-4 5 14zM473 735l5 18 8-8zM465 742l8-7 5 18zM432 738l5 26 8-18zM424 754l8-16 5 26zM296 707l5 23 8-15 5 20 7-15 5 20 8-16 5 20 8-17 5 20 8-16 5 20 8-17 5 21 7-17 5 22 8-19-13-3-12-4-13-3-13-4-13-3-13-4-12-5zM288 722l8-15 5 23zM275 708l5 27 8-13zM267 720l8-12 5 27zM246 713l6 32 8-12zM218 722l5 35 8-15zM210 740l8-18 5 35zM189 744l8-22 5 38zM176 728l5 40 8-24z"/><path class=be d="M376 672l8-1 5 3 8-2 5 5-13-3zM427 684l8-3 5 8 7-3 6 9-13-6zM351 669l5 1 8 0 4 3 8-1-12-2zM440 689l5 8 8-2 5 8 7-2zM331 667l8 1 4 0 8 1 5 1-13-2zM445 697l8-2 5 8 7-2 5 10-12-8zM306 665l4 0 8 1zM458 703l5 9 7-1zM298 664l8 1 4 0zM463 712l7-1 6 9zM463 712l5 10 8-2zM468 722l8-2 5 11zM468 722l5 13 8-4zM452 734l6 21 7-13zM445 746l7-12 6 21zM419 732l5 22 8-16zM309 715l7-15 5 20 8-15 5 19 8-15 5 18 8-14 5 18 7-14 6 17 7-14 5 18 8-15 5 18 8-14 5 20 8-15 5 22-13-7-13-6-13-3-12-4-13-3-13-4-13-3-13-4zM239 726l7-13 6 32zM197 722l5 38 8-20zM155 743l8-29 5 40z"/><path class=bf d="M402 677l7-4 5 7 8-3 5 7zM376 672l5 4 8-2 5 5 8-2 4 6 8-3 5 7 8-3 5 8 8-3-13-5-25-7-13-3zM356 670l8 0 4 3 8-1 5 4 8-2 5 5 8-2 4 6 8-3 5 7 8-3 5 8 8-3 5 8-26-10-25-8zM318 666l5 1 8 0 4 1 8 0zM432 692l5 8 8-3 5 9 8-3-13-6zM310 665l8 1 5 1zM437 700l8-3 5 9 8-3 5 9zM285 663l5 1 8 0zM450 706l5 9 8-3zM277 662l8 1 5 1zM455 715l8-3 5 10zM455 715l5 11 8-4zM460 726l8-4 5 13zM460 726l5 16 8-7zM452 734l8-8 5 16zM439 727l6 19 7-12zM432 738l7-11 6 19zM304 694l5 21 7-15 5 20 8-15 5 19 8-15 5 18 8-14 5 18 7-14 6 17 7-14 5 18 8-15 5 18 8-14 5 20 8-15-13-5-13-4-26-6-38-12-13-5zM296 707l8-13 5 21zM283 696l5 26 8-15zM275 708l8-12 5 26zM254 701l6 32 7-13zM246 713l8-12 6 32zM225 706l6 36 8-16zM163 714l5 40 8-26z"/><path class=bg d="M343 668l5 3 8-1 5 4 7-1 5 5 8-2 5 6 8-3 5 8 7-4 5 8 8-4 5 9 8-4-13-5-25-8-38-9zM323 667l8 0 4 1 8 0 5 3 8-1 5 4 7-1 5 5 8-2 5 6 8-3 5 8 7-4 5 8 8-4 5 9 8-4 5 8-13-4-38-14-25-8-26-6zM298 664l4 2 8-1 5 3 8-1-13-2zM411 691l5 9 8-4 5 8 8-4 5 9 8-3-13-6-13-4zM290 664l8 0 4 2zM416 700l8-4 5 8 8-4 5 9 8-3 5 9-13-6-13-5zM265 661l4 1 8 0zM442 709l5 10 8-4zM434 714l8-5 5 10 8-4 5 11-13-7zM434 714l5 13 8-8 5 15 8-8-13-7zM426 721l8-7 5 13 8-8 5 15-13-7zM350 697l5 16 7-12 5 16 8-11 5 14 8-11 5 14 8-10 5 14 8-10 5 15 7-11 6 17 7-11-13-6-38-12-13-3zM316 700l8-13 5 18 8-13 5 17 8-12 5 16 7-12 5 16 8-11 5 14 8-11 5 14 8-10 5 14 8-10 5 15 7-11 6 17-13-6-13-5-13-4-26-6-38-12zM291 686l5 21 8-13zM283 696l8-10 5 21zM262 691l5 29 8-12zM218 722l7-16 6 36zM143 736l7-31 5 38z"/><path class=bh d="M323 667l4 3 8-2 5 4 8-1 5 5 8-2 4 7 8-3 5 8 8-4 5 9 8-4 5 9 7-5-25-9-25-8-26-6zM302 666l8-1 5 3 8-1 4 3 8-2 5 4zM365 681l8-3 5 8 8-4 5 9 8-4 5 9 7-5 5 9-25-9zM277 662l5 2 8 0 4 3 8-1 5 5 8-3zM365 681l5 12 8-7 5 11 8-6 5 10 8-5 5 9 7-5 5 9 8-5 5 10 8-5-13-5-25-8zM257 660l8 1 4 1 8 0 5 2zM370 693l8-7 5 11 8-6 5 10 8-5 5 9 7-5 5 9 8-5 5 10-25-9zM244 660l4-1 9 1zM358 687l4 14 8-8 5 13 8-9 5 12 8-8 5 12 8-8 5 12 7-8 5 12 8-7-25-9-39-12zM337 692l8-10 5 15 8-10 4 14 8-8 5 13 8-9 5 12 8-8 5 12 8-8 5 12 7-8 5 12-38-12-13-3zM299 677l5 17 8-12 4 18 8-13 5 18 8-13 5 17 8-12zM291 686l8-9 5 17 8-12 4 18-12-6zM270 683l5 25 8-12zM254 701l8-10 5 29zM233 691l6 35 7-13zM204 703l6 37 8-18zM197 722l7-19 6 37zM184 705l5 39 8-22zM176 728l8-23 5 39zM150 705l5 38 8-29z"/><path class=bi d="M340 672l8-1 5 5 8-2 4 7-12-5zM315 668l4 6 8-4 5 7 8-5 5 10 8-6 5 11 7-6-12-5-13-4zM282 664l8 0 4 3 8-1 5 5 8-3 4 6 8-4 5 7 8-5 5 10 8-6 5 11 7-6 5 12-12-6-26-10-25-6zM257 660l4 1 8 1 5 4 8-2 4 7 8-4 5 10 8-6 5 11 7-8 5 13 8-10 5 15 8-10 5 15 8-10-26-10-25-6-25-7zM236 659l8 1 4-1zM286 671l8-4 5 10 8-6 5 11 7-8 5 13 8-10 5 15-38-15zM224 660l4-2 8 1zM286 671l5 15 8-9zM278 677l8-6 5 15zM278 677l5 19 8-10zM270 683l8-6 5 19zM262 691l8-8 5 25zM225 706l8-15 6 35z"/><path class=bj d="M248 659l9 1 4 1 8 1 5 4 8-2 4 7-25-10zM236 659l4-1 8 1zM274 666l4 11 8-6zM215 659l9 1 4-2zM265 668l5 15 8-6zM241 680l5 33 8-12zM212 686l6 36 7-16z"/><path class=bk d="M248 659l5 2 8 0 4 7 9-2-13-5zM228 658l8 1 4-1 8 1 5 2 8 0 4 7 9-2 4 11-13-9-12-7-13-3zM215 659l4-4 9 3zM257 670l8-2 5 15zM257 670l5 21 8-8zM249 674l5 27 8-10zM233 691l8-11 5 33zM204 703l8-17 6 36zM191 686l6 36 7-19zM170 690l6 38 8-23zM163 714l7-24 6 38z"/><path class=bl d="M228 658l4-2 8 2zM253 661l4 9 8-2zM207 657l8 2 4-4zM249 674l8-4 5 21zM241 680l8-6 5 27zM184 705l7-19 6 36zM150 705l8-25 5 34z"/><path class=bm d="M240 658l5 3 8 0zM219 655l9 3 4-2 8 2 5 3 8 0 4 9-12-9-13-5zM245 661l4 13 8-4zM220 673l5 33 8-15zM212 686l8-13 5 33z"/><path class=bn d="M207 657l4-4 8 2zM199 654l8 3 4-4zM236 661l9 0 4 13zM236 661l5 19 8-6zM228 663l5 28 8-11zM199 672l5 31 8-17zM191 686l8-14 5 31zM158 680l5 34 7-24z"/><path class=bo d="M219 655l5 0 8 1 4 5 9 0-13-5zM211 653l8 2 5 0 8 1 4 5-12-6zM228 663l8-2 5 19zM220 673l8-10 5 28zM178 673l6 32 7-19zM170 690l8-17 6 32z"/><path class=bp d="M199 654l4-2 8 1zM224 655l4 8 8-2zM190 652l9 2 4-2zM207 661l5 25 8-13zM199 672l8-11 5 25zM158 680l8-15 4 25z"/><path class=bq d="M211 653l4 2 9 0zM203 652l8 1 4 2 9 0 4 8-13-8zM190 652l5 3 8-3zM215 655l5 18 8-10zM207 661l8-6 5 18zM186 662l5 24 8-14zM178 673l8-11 5 24zM166 665l4 25 8-17z"/><path class=br d="M203 652l4 9 8-6zM182 653l8-1 5 3 8-3 4 9-12-6zM182 653l4 9 9-7 4 17 8-11-12-6zM174 657l8-4 4 9 9-7 4 17-13-10zM174 657l4 16 8-11zM166 665l8-8 4 16z"/></g><g opacity=".8"><path class=an d="M728 1144l8-31 6 46z"/><path class=ao d="M736 1113l6 46 8-33z"/><path class=aq d="M715 1127l7-30 6 47z"/><path class=ar d="M722 1097l6 47 8-31z"/><path class=at d="M736 1113l8-34 6 47z"/><path class=au d="M709 1079l6 48 7-30zM701 1108l8-29 6 48z"/><path class=av d="M744 1079l6 47 8-34z"/><path class=aw d="M722 1097l8-32 6 48z"/><path class=ax d="M730 1065l6 48 8-34zM687 1088l8-26 6 46z"/><path class=ay d="M695 1062l6 46 8-29z"/><path class=az d="M709 1079l8-29 5 47z"/><path class=aA d="M744 1079l8-32 6 45zM717 1050l5 47 8-32z"/><path class=aB d="M682 1047l5 41 8-26zM674 1071l8-24 5 41z"/><path class=aC d="M752 1047l6 45 7-33zM695 1062l8-26 6 43z"/><path class=aD d="M730 1065l8-31 6 45zM703 1036l6 43 8-29z"/><path class=aE d="M738 1034l6 45 8-32zM668 1033l6 38 8-24zM660 1055l8-22 6 38z"/><path class=aF d="M717 1050l8-29 5 44zM682 1047l8-24 5 39z"/><path class=aG d="M725 1021l5 44 8-31zM690 1023l5 39 8-26zM655 1021l5 34 8-22zM647 1041l8-20 5 34z"/><path class=aH d="M622 943l5 9 8-7zM614 950l8-7 5 9 8-7 6 9zM601 948l5 8 8-6 6 9 7-7zM593 954l8-6 5 8 8-6 6 9-14-3zM580 951l5 8 8-5 6 7 7-5-13-2zM572 957l8-6 5 8 8-5 6 7zM559 954l5 6 8-3 6 5 7-3-13-2zM551 958l8-4 5 6 8-3 6 5zM538 956l5 5 8-3zM530 959l8-3 5 5zM752 1047l8-32 5 44zM703 1036l8-25 6 39zM668 1033l8-20 6 34z"/><path class=aI d="M643 936l5 11 8-9zM635 945l8-9 5 11 8-9 6 10-14-1zM635 945l6 9 7-7 6 9 8-8-14-1zM641 954l7-7 6 9zM627 952l6 8 8-6 6 7 7-5zM620 959l7-7 6 8 8-6 6 7zM606 956l6 7 8-4 5 5 8-4-13-1zM599 961l7-5 6 7 8-4 5 5-13-1zM585 959l6 5 8-3 5 4 8-2zM578 962l7-3 6 5zM551 958l5 4 8-2 6 3 8-1zM543 961l8-3 5 4zM517 957l5 3 8-1 5 3 8-1zM760 1015l5 44 8-33zM509 959l8-2 5 3zM738 1034l8-28 6 41zM711 1011l6 39 8-29zM676 1013l6 34 8-24zM641 1012l6 29 8-20zM633 1028l8-16 6 29z"/><path class=aJ d="M664 929l5 10 8-9zM656 938l8-9 5 10zM656 938l6 10 7-9zM662 948l7-9 6 9zM662 948l6 8 7-8zM654 956l8-8 6 8zM654 956l6 6 8-6zM647 961l7-5 6 6zM633 960l6 5 8-4zM625 964l8-4 6 5zM612 963l6 3 7-2zM591 964l8-3 5 4 8-2 6 3zM578 962l5 2 8 0zM556 962l8-2 6 3 8-1 5 2zM543 961l6 1 7 0zM522 960l8-1 5 3zM495 957l6 3 8-1 5 1 8 0-13-1zM487 959l8-2 6 3zM690 1023l7-20 6 33zM474 957l5 3 8-1zM655 1021l7-17 6 29zM445 966l8-5 5 2z"/><path class=aK d="M685 921l5 10 8-9zM677 930l8-9 5 10zM677 930l6 9 7-8zM669 939l8-9 6 9zM669 939l6 9 8-9zM675 948l8-9 6 8zM668 956l7-8 6 6zM660 962l8-6 6 4zM647 961l5 4 8-3zM639 965l8-4 5 4zM625 964l6 3 8-2zM618 966l7-2 6 3zM591 964l6 1 7 0 6 2 8-1zM583 964l8 0 6 1zM556 962l6 0 8 1zM746 1006l6 41 8-32zM535 962l8-1 6 1 7 0 6 0zM725 1021l7-24 6 37zM522 960l5 1 8 1zM697 1003l6 33 8-25zM501 960l8-1 5 1zM487 959l6 1 8 0zM662 1004l6 29 8-20zM466 959l8-2 5 3 8-1 6 1-14 0zM641 1012l8-15 6 24zM453 961l5 2 8-4zM627 1001l6 27 8-16zM620 1015l7-14 6 27z"/><path class=aL d="M705 916l6 7 8-7zM698 922l7-6 6 7zM698 922l6 8 7-7zM690 931l8-9 6 8zM690 931l6 7 8-8zM683 939l7-8 6 7zM683 939l6 8 7-9zM675 948l6 6 8-7zM668 956l6 4 7-6zM660 962l6 2 8-4zM652 965l8-3 6 2zM639 965l6 3 7-3zM631 967l8-2 6 3zM618 966l6 3 7-2zM597 965l7 0 6 2zM570 963l5-1 8 2zM732 997l6 37 8-28zM562 962l8 1 5-1zM535 962l6-1 8 1zM684 996l6 27 7-20zM514 960l8 0 5 1zM676 1013l8-17 6 27zM501 960l5 0 8 0zM649 997l6 24 7-17zM493 960l8 0 5 0zM466 959l5 4 8-3zM458 963l8-4 5 4z"/><path class=aM d="M740 913l7-2 6 2zM726 912l6 5 8-4zM719 916l7-4 6 5zM719 916l6 6 7-5zM711 923l8-7 6 6zM704 930l7-7 6 6zM696 938l8-8 6 6zM689 947l7-9 6 5zM689 947l6 3 7-7zM681 954l8-7 6 3zM681 954l6 3 8-7zM674 960l7-6 6 3zM666 964l8-4 6 3zM652 965l6 4 8-5zM645 968l7-3 6 4zM631 967l6 4 8-3zM610 967l8-1 6 3 7-2 6 4zM583 964l6 0 8 1 5 1 8 1-13-2zM575 962l8 2 6 0zM711 1011l8-21 6 31zM549 962l5-2 8 2zM670 990l6 23 8-17zM527 961l8 1 6-1zM649 997l7-12 6 19 8-14 6 23-14-9zM514 960l5 0 8 1zM635 989l6 23 8-15zM627 1001l8-12 6 23zM479 960l6 2 8-2zM614 989l6 26 7-14zM471 963l8-3 6 2zM606 1000l8-11 6 26z"/><path class=aN d="M753 913l8-1 6 1zM740 913l6 3 7-3zM732 917l8-4 6 3zM725 922l7-5 6 4zM711 923l6 6 8-7zM704 930l6 6 7-7zM696 938l6 5 8-7zM674 960l6 3 7-6zM666 964l6 5 8-6zM658 969l8-5 6 5zM645 968l6 6 7-5 6 7 8-7-14 0zM637 971l8-3 6 6 7-5 6 7-13-2zM760 1015l8-28 5 39zM610 967l6 3 8-1 5 6 8-4 6 9 8-6 5 11 8-9-13-2-14-3zM705 985l6 26 8-21 6 31 7-24-13-7zM589 964l8 1 5 1 8 1 6 3 8-1 5 6 8-4 6 9 8-6 5 11 8-9 6 14 8-12 6 18 7-15 6 22 8-18 6 26-27-15-14-6-54-20-14-4zM562 962l6-1 7 1zM629 975l6 14 8-9 6 17 7-12 6 19 8-14zM541 961l8 1 5-2zM635 989l8-9 6 17zM527 961l6-1 8 1zM622 981l5 20 8-12zM506 960l8 0 5 0zM614 989l8-8 5 20zM493 960l5 1 8-1zM485 962l8-2 5 1z"/><path class=aO d="M767 913l7 0 6 0zM753 913l6 2 8-2zM746 916l7-3 6 2zM732 917l6 4 8-5zM725 922l6 4 7-5zM717 929l8-7 6 4zM717 929l6 4 8-7zM710 936l7-7 6 4zM710 936l6 4 7-7zM702 943l8-7 6 4zM702 943l6 4 8-7zM695 950l7-7 6 4zM695 950l6 3 7-6zM687 957l8-7 6 3zM687 957l6 4 8-8zM680 963l7-6 6 4zM680 963l5 6 8-8zM672 969l8-6 5 6zM672 969l6 9 7-9zM768 987l5 39 8-31zM664 976l8-7 6 9zM746 1006l8-26 6 35zM664 976l6 14 8-12 6 18 7-15 6 22 8-18-14-4-13-3zM575 962l6 0 8 2 5 3 8-1 6 7 8-3 6 11 7-6-13-5-14-4zM554 960l8 2 6-1zM608 973l8-3 6 11 7-6 6 14zM541 961l5-1 8 0zM608 973l6 16 8-8zM519 960l8 1 6-1zM506 960l5 2 8-2zM600 978l6 22 8-11zM498 961l8-1 5 2z"/><path class=aP d="M780 913l8 0 6-1zM767 913l6 1 7-1zM759 915l8-2 6 1zM746 916l6 3 7-4zM738 921l8-5 6 3zM731 926l7-5 7 3zM685 969l8-8 6 8zM685 969l6 12 8-12zM754 980l6 35 8-28zM678 978l7-9 6 12 8-12 6 16 8-15 6 20 7-18 6 25 8-21 6 30-14-9-13-7-14-5-14-4zM568 961l7 1 6 0 8 2 5 3 8-1 6 7-27-11zM554 960l6 1 8 0zM594 967l6 11 8-5zM533 960l8 1 5-1zM600 978l8-5 6 16zM519 960l6 3 8-3zM511 962l8-2 6 3zM592 986l8-8 6 22z"/><path class=aQ d="M794 912l7 1 7-2zM780 913l7 0 7-1zM773 914l7-1 7 0zM759 915l7 2 7-3zM752 919l7-4 7 2zM738 921l7 3 7-5zM731 926l6 3 8-5zM723 933l8-7 6 3zM723 933l7 3 7-7zM716 940l7-7 7 3zM716 940l6 3 8-7zM708 947l8-7 6 3zM708 947l6 3 8-7zM701 953l7-6 6 3zM701 953l6 6 7-9zM693 961l8-8 6 6zM693 961l6 8 8-10zM699 969l8-10 6 11zM699 969l6 16 8-15 6 20 7-18 6 25 8-21 6 30 8-26-28-8-13-2zM568 961l5 3 8-2 6 7 7-2-13-5zM546 960l8 0 6 1 8 0 5 3-13-3zM587 969l7-2 6 11zM533 960l5 4 8-4zM587 969l5 17 8-8zM525 963l8-3 5 4zM579 976l8-7 5 17z"/><path class=aR d="M808 911l7 2 6-3zM752 919l6 2 8-4zM745 924l7-5 6 2zM737 929l8-5 6 2zM707 959l7-9 6 8zM707 959l6 11 7-12zM713 970l7-12 6 14zM573 964l8-2 6 7zM546 960l6 6 8-5 5 8 8-5 6 12 8-7-14-5-13-3zM538 964l8-4 6 6 8-5 5 8 8-5 6 12-14-7-13-3z"/><path class=aS d="M821 910l7 3 7-4zM794 912l6-1 8 0zM787 913l7-1 6-1zM773 914l6 1 8-2zM766 917l7-3 6 1zM745 924l6 2 7-5zM737 929l6 3 8-6zM730 936l7-7 6 3zM730 936l6 3 7-7zM722 943l8-7 6 3zM722 943l6 5 8-9zM714 950l8-7 6 5zM714 950l6 8 8-10zM720 958l6 14 8-15zM726 972l8-15 6 19 8-18 6 22 8-21 6 28 7-25 6 33-13-8-14-7z"/><path class=aT d="M835 909l7 3 7-2zM808 911l6-1 7 0zM800 911l8 0 6-1zM787 913l6 0 7-2zM779 915l8-2 6 0zM766 917l6 1 7-3zM758 921l8-4 6 1zM751 926l7-5 6 2zM728 948l8-9 6 6zM728 948l6 9 8-12zM720 958l8-10 6 9zM734 957l6 19 8-18 6 22 8-21zM775 962l6 33 8-28z"/><path class=aU d="M821 910l7-1 7 0zM814 910l7 0 7-1zM779 915l7 1 7-3zM772 918l7-3 7 1zM758 921l6 2 8-5zM751 926l6 3 7-6zM743 932l8-6 6 3zM743 932l6 4 8-7zM736 939l7-7 6 4zM736 939l6 6 7-9zM734 957l8-12 6 13zM762 959l6 28 7-25z"/><path class=aV d="M835 909l6 1 8 0zM800 911l7 0 7-1zM793 913l7-2 7 0zM772 918l6 2 8-4zM764 923l8-5 6 2zM757 929l7-6 7 3zM742 945l7-9 7 8zM742 945l6 13 8-14zM748 958l8-14 6 15z"/><path class=aW d="M828 909l7 0 6 1zM814 910l6 1 8-2zM807 911l7-1 6 1zM793 913l6 1 8-3zM786 916l7-3 6 1zM764 923l7 3 7-6zM757 929l6 4 8-7zM749 936l8-7 6 4zM749 936l7 8 7-11zM756 944l7-11 6 10zM756 944l6 15 7-16zM762 959l7-16 6 19 8-17 6 22-14-5z"/><path class=aX d="M828 909l6 3 7-2zM820 911l8-2 6 3zM807 911l6 3 7-3zM799 914l8-3 6 3zM786 916l6 2 7-4zM778 920l8-4 6 2zM778 920l6 4 8-6zM771 926l7-6 6 4zM763 933l8-7 6 6zM763 933l6 10 8-11zM769 943l6 19 8-17 6 22 8-18-14-4z"/><path class=aY d="M820 911l7 5 7-4zM813 914l7-3 7 5zM799 914l7 5 7-5zM792 918l7-4 7 5zM784 924l8-6 6 7zM771 926l6 6 7-8zM777 932l7-8 7 9zM777 932l6 13 8-12zM769 943l8-11 6 13 8-12 6 16-14-4z"/><path class=aZ d="M813 914l6 7 8-5zM806 919l7-5 6 7zM792 918l6 7 8-6 6 9 7-7-13-2zM798 925l8-6 6 9zM784 924l7 9 7-8 6 11 8-8-14-3zM791 933l7-8 6 11zM791 933l6 16 7-13z"/></g></g><g transform="translate(-123.5 -17) scale(1.63056)">
   <text style="font-size:12px;text-anchor:middle" x="254.66" y="20.16">Nusselt vs Concentration and Heat Flux</text><path d="M482.63 326.49L522.68 326.49L522.68 126.27L482.63 126.27z" style="fill:#ffffff"/><rect x="482.63" y="126.27" width="40.04" height="200.22" fill="url(#vg)" fill-opacity=".8"/><path d="M0 0L3.5 0" transform="translate(522.68 321.95)" style="stroke:#000000;stroke-width:0.8"/><text style="font-size:10px;text-anchor:start" x="529.68" y="325.75">50</text><path d="M0 0L3.5 0" transform="translate(522.68 284.7)" style="stroke:#000000;stroke-width:0.8"/><text style="font-size:10px;text-anchor:start" x="529.68" y="288.5">100</text><path d="M0 0L3.5 0" transform="translate(522.68 247.46)" style="stroke:#000000;stroke-width:0.8"/><text style="font-size:10px;text-anchor:start" x="529.68" y="251.26">150</text><path d="M0 0L3.5 0" transform="translate(522.68 210.22)" style="stroke:#000000;stroke-width:0.8"/><text style="font-size:10px;text-anchor:start" x="529.68" y="214.02">200</text><path d="M0 0L3.5 0" transform="translate(522.68 172.97)" style="stroke:#000000;stroke-width:0.8"/><text style="font-size:10px;text-anchor:start" x="529.68" y="176.77">250</text><path d="M0 0L3.5 0" transform="translate(522.68 135.73)" style="stroke:#000000;stroke-width:0.8"/><text style="font-size:10px;text-anchor:start" x="529.68" y="139.53">300</text><text style="font-size:10px;text-anchor:middle" x="560.36" y="226.38" transform="rotate(-90 560.36 226.38)">Nusselt Number</text><path d="M482.63 326.49L502.66 326.49L522.68 326.49L522.68 126.27L502.66 126.27L482.63 126.27L482.63 326.49z" style="fill:none;stroke:#000000;stroke-width:0.8;stroke-linejoin:miter;stroke-linecap:square"/><path d="M607.61 426.6L1008.05 426.6L1008.05 26.16L607.61 26.16z" style="fill:#ffffff"/><path d="M637.85 327.86L770.09 217.02L768.25 57.16L629.68 158.28" style="fill:#f2f2f2;opacity:0.5;stroke:#f2f2f2;stroke-linejoin:miter"/><path d="M770.09 217.02L982.28 278.7L989.85 113.33L768.25 57.16" style="fill:#e6e6e6;opacity:0.5;stroke:#e6e6e6;stroke-linejoin:miter"/><path d="M637.85 327.86L862.79 401.33L982.28 278.7L770.09 217.02" style="fill:#ececec;opacity:0.5;stroke:#ececec;stroke-linejoin:miter"/><path d="M664.01 336.41L794.86 224.22L794.07 63.71" style="fill:none;stroke:#b0b0b0;stroke-width:0.8"/><path d="M689.3 344.67L818.79 231.18L819.03 70.03" style="fill:none;stroke:#b0b0b0;stroke-width:0.8"/><path d="M714.91 353.03L842.99 238.21L844.28 76.43" style="fill:none;stroke:#b0b0b0;stroke-width:0.8"/><path d="M740.82 361.5L867.46 245.32L869.83 82.91" style="fill:none;stroke:#b0b0b0;stroke-width:0.8"/><path d="M767.06 370.06L892.21 252.52L895.67 89.46" style="fill:none;stroke:#b0b0b0;stroke-width:0.8"/><path d="M793.62 378.74L917.24 259.79L921.82 96.09" style="fill:none;stroke:#b0b0b0;stroke-width:0.8"/><path d="M820.52 387.52L942.55 267.15L948.29 102.8" style="fill:none;stroke:#b0b0b0;stroke-width:0.8"/><path d="M847.75 396.42L968.16 274.59L975.07 109.59" style="fill:none;stroke:#b0b0b0;stroke-width:0.8"/><path d="M632.71 156.07L640.72 325.45L865.4 398.65" style="fill:none;stroke:#b0b0b0;stroke-width:0.8"/><path d="M651.8 142.14L658.88 310.23L881.87 381.75" style="fill:none;stroke:#b0b0b0;stroke-width:0.8"/><path d="M670.44 128.54L676.64 295.35L897.95 365.24" style="fill:none;stroke:#b0b0b0;stroke-width:0.8"/><path d="M688.66 115.24L694.01 280.79L913.66 349.12" style="fill:none;stroke:#b0b0b0;stroke-width:0.8"/><path d="M706.46 102.25L711 266.55L929.02 333.36" style="fill:none;stroke:#b0b0b0;stroke-width:0.8"/><path d="M723.86 89.55L727.62 252.62L944.02 317.96" style="fill:none;stroke:#b0b0b0;stroke-width:0.8"/><path d="M740.88 77.13L743.89 238.98L958.69 302.91" style="fill:none;stroke:#b0b0b0;stroke-width:0.8"/><path d="M757.52 64.99L759.82 225.63L973.04 288.18" style="fill:none;stroke:#b0b0b0;stroke-width:0.8"/><path d="M983.24 257.74L769.85 196.72L636.82 306.4" style="fill:none;stroke:#b0b0b0;stroke-width:0.8"/><path d="M984.12 238.62L769.64 178.21L635.87 286.82" style="fill:none;stroke:#b0b0b0;stroke-width:0.8"/><path d="M985 219.3L769.43 159.53L634.92 267.02" style="fill:none;stroke:#b0b0b0;stroke-width:0.8"/><path d="M985.9 199.79L769.21 140.65L633.96 247.01" style="fill:none;stroke:#b0b0b0;stroke-width:0.8"/><path d="M986.8 180.07L768.99 121.59L632.98 226.79" style="fill:none;stroke:#b0b0b0;stroke-width:0.8"/><path d="M987.71 160.14L768.77 102.34L632 206.34" style="fill:none;stroke:#b0b0b0;stroke-width:0.8"/><path d="M988.63 140L768.54 82.9L631 185.67" style="fill:none;stroke:#b0b0b0;stroke-width:0.8"/><path d="M989.57 119.65L768.32 63.26L629.99 164.77" style="fill:none;stroke:#b0b0b0;stroke-width:0.8"/><path d="M637.85 327.86L862.79 401.33" style="fill:none;stroke:#000000;stroke-width:0.8;stroke-linecap:square"/><path d="M665.15 335.43L661.72 338.37" style="fill:none;stroke:#000000;stroke-width:0.8;stroke-linecap:square"/><text style="font-size:10px;text-anchor:middle" x="656.49" y="359.75">0.06</text><path d="M690.43 343.68L687.04 346.65" style="fill:none;stroke:#000000;stroke-width:0.8;stroke-linecap:square"/><text style="font-size:10px;text-anchor:middle" x="681.81" y="368.13">0.08</text><path d="M716.02 352.03L712.67 355.04" style="fill:none;stroke:#000000;stroke-width:0.8;stroke-linecap:square"/><text style="font-size:10px;text-anchor:middle" x="707.43" y="376.61">0.10</text><path d="M741.93 360.48L738.61 363.53" style="fill:none;stroke:#000000;stroke-width:0.8;stroke-linecap:square"/><text style="font-size:10px;text-anchor:middle" x="733.37" y="385.2">0.12</text><path d="M768.15 369.04L764.87 372.12" style="fill:none;stroke:#000000;stroke-width:0.8;stroke-linecap:square"/><text style="font-size:10px;text-anchor:middle" x="759.62" y="393.89">0.14</text><path d="M794.7 377.7L791.46 380.82" style="fill:none;stroke:#000000;stroke-width:0.8;stroke-linecap:square"/><text style="font-size:10px;text-anchor:middle" x="786.21" y="402.68">0.16</text><path d="M821.58 386.47L818.38 389.63" style="fill:none;stroke:#000000;stroke-width:0.8;stroke-linecap:square"/><text style="font-size:10px;text-anchor:middle" x="813.13" y="411.59">0.18</text><path d="M848.8 395.35L845.64 398.55" style="fill:none;stroke:#000000;stroke-width:0.8;stroke-linecap:square"/><text style="font-size:10px;text-anchor:middle" x="840.38" y="420.61">0.20</text><text style="font-size:10px;text-anchor:middle" x="730.25" y="401.43" transform="rotate(-341.91 730.25 401.43)">Nano Fluids Concentration</text><path d="M982.28 278.7L862.79 401.33" style="fill:none;stroke:#000000;stroke-width:0.8;stroke-linecap:square"/><path d="M863.5 398.03L869.19 399.89" style="fill:none;stroke:#000000;stroke-width:0.8;stroke-linecap:square"/><text style="font-size:10px;text-anchor:middle" x="878.32" y="419.73">0</text><path d="M879.99 381.15L885.63 382.96" style="fill:none;stroke:#000000;stroke-width:0.8;stroke-linecap:square"/><text style="font-size:10px;text-anchor:middle" x="894.65" y="402.66">20</text><path d="M896.09 364.65L901.68 366.42" style="fill:none;stroke:#000000;stroke-width:0.8;stroke-linecap:square"/><text style="font-size:10px;text-anchor:middle" x="910.59" y="385.99">40</text><path d="M911.81 348.54L917.36 350.27" style="fill:none;stroke:#000000;stroke-width:0.8;stroke-linecap:square"/><text style="font-size:10px;text-anchor:middle" x="926.16" y="369.71">60</text><path d="M927.18 332.8L932.69 334.49" style="fill:none;stroke:#000000;stroke-width:0.8;stroke-linecap:square"/><text style="font-size:10px;text-anchor:middle" x="941.38" y="353.8">80</text><path d="M942.2 317.41L947.66 319.06" style="fill:none;stroke:#000000;stroke-width:0.8;stroke-linecap:square"/><text style="font-size:10px;text-anchor:middle" x="956.25" y="338.24">100</text><path d="M956.89 302.37L962.31 303.98" style="fill:none;stroke:#000000;stroke-width:0.8;stroke-linecap:square"/><text style="font-size:10px;text-anchor:middle" x="970.79" y="323.04">120</text><path d="M971.25 287.66L976.62 289.23" style="fill:none;stroke:#000000;stroke-width:0.8;stroke-linecap:square"/><text style="font-size:10px;text-anchor:middle" x="985.01" y="308.17">140</text><text style="font-size:10px;text-anchor:middle" x="954.15" y="367.19" transform="rotate(-45.74 954.15 367.19)">Heat Flux</text><path d="M982.28 278.7L989.85 113.33" style="fill:none;stroke:#000000;stroke-width:0.8;stroke-linecap:square"/><path d="M981.45 257.22L986.83 258.76" style="fill:none;stroke:#000000;stroke-width:0.8;stroke-linecap:square"/><text style="font-size:10px;text-anchor:middle" x="1001.61" y="262.75">8000</text><path d="M982.32 238.11L987.72 239.63" style="fill:none;stroke:#000000;stroke-width:0.8;stroke-linecap:square"/><text style="font-size:10px;text-anchor:middle" x="1002.58" y="243.66">10000</text><path d="M983.19 218.8L988.63 220.31" style="fill:none;stroke:#000000;stroke-width:0.8;stroke-linecap:square"/><text style="font-size:10px;text-anchor:middle" x="1003.56" y="224.37">12000</text><path d="M984.08 199.29L989.54 200.78" style="fill:none;stroke:#000000;stroke-width:0.8;stroke-linecap:square"/><text style="font-size:10px;text-anchor:middle" x="1004.55" y="204.88">14000</text><path d="M984.97 179.58L990.46 181.05" style="fill:none;stroke:#000000;stroke-width:0.8;stroke-linecap:square"/><text style="font-size:10px;text-anchor:middle" x="1005.54" y="185.19">16000</text><path d="M985.87 159.66L991.4 161.11" style="fill:none;stroke:#000000;stroke-width:0.8;stroke-linecap:square"/><text style="font-size:10px;text-anchor:middle" x="1006.55" y="165.29">18000</text><path d="M986.78 139.52L992.34 140.96" style="fill:none;stroke:#000000;stroke-width:0.8;stroke-linecap:square"/><text style="font-size:10px;text-anchor:middle" x="1007.57" y="145.18">20000</text><path d="M987.71 119.18L993.29 120.6" style="fill:none;stroke:#000000;stroke-width:0.8;stroke-linecap:square"/><text style="font-size:10px;text-anchor:middle" x="1008.6" y="124.86">22000</text><text style="font-size:10px;text-anchor:middle" x="1029.14" y="192.53" transform="rotate(-87.38 1029.14 192.53)">Reynolds Number</text><path d="M663.42 322.36L664.35 322.51L668.54 323.43L672.25 324.78L676.09 326.02L680.21 327.02L684.4 327.98L688.39 329.11L692.59 330.08L696.72 331.1L700.35 332.57L703.99 334.04L707.77 335.4L711.58 336.74L715.28 338.2L718.79 339.82L719.98 340.64M908.37 331.91L904.29 330.67L900.55 329.1L896.92 327.43L893.23 325.84L890.32 324.67L889.47 324.32L885.76 322.77L882.14 321.13L878.59 319.45L875.13 317.69L873.3 316.65L871.86 315.76L868.79 313.65L866.32 311.73L865.92 311.36L863.51 308.65L862.89 307.92L861.55 305.53L860.91 304.56L860.23 301.81L860.1 301.57L860.25 298.89L863.75 297.23L864.91 297.35L869.95 297.49L873.82 297.56L874.9 297.72L879.23 298.53L883.42 299.49L887.58 300.49L891.68 301.55L895.64 302.76L899.57 304.01L903.5 305.27L907.35 306.61L910.91 308.26L912.94 309.38L914.18 310.21L917.45 312.17L920.91 313.96L923.84 315.42L924.38 315.75" style="fill:none;stroke:#46327e;stroke-width:1.5"/><path d="M844.75 380.98L848.59 381.14L853.77 381.46L856.63 381.74L858.79 381.97M663.23 319L667.4 319.92L671.44 320.97L675.25 322.22L679.14 323.4L683.38 324.3L687.78 325.06L692.11 325.89L693.77 326.25L696.38 326.78L700.5 327.8L704.46 328.97L708.57 330.03L712.77 331L716.93 332.02L720.96 333.16L724.9 334.39L728.56 335.87L731.81 337.73L733.81 339.13L734.81 339.84L737.48 342.25L738.61 343.67L739.68 345.11L740.59 347.31M900.55 339.8L896.45 338.56L892.43 337.23L888.37 335.95L884.27 334.73L880.19 333.5L876.18 332.21L872.28 330.82L868.54 329.29L868.45 329.25L864.92 327.64L861.42 325.9L857.99 324.09L854.65 322.22L854.38 322.06L851.43 320.25L848.4 318.1L847.01 316.97L845.56 315.79L842.87 313.36L842.14 312.66L840.22 310.92L837.51 308.53L837.39 308.42L834.9 306.08L833.37 304.41L832.63 303.32L831.55 301.1L831.31 299.71L830.78 298.12L830.19 295.93L829.58 295.02L830.82 292.67L834.79 291.66L835.43 291.36L840.46 290.18L841.72 290L847.23 289.53L847.37 289.53L852.27 289.77L856.12 289.52L857.7 289.51L862.41 289.92L866.64 290.79L870.97 291.58L872.67 291.81L875.4 292.28L879.72 293.08L883.76 294.17L887.76 295.29L891.82 296.37L895.91 297.44L899.97 298.53L903.99 299.67L907.95 300.88L911.82 302.2L915.5 303.7L919.05 305.36L921.5 306.51L922.59 307.03L926.1 308.74L929.67 310.41M785.71 227.29L784.58 228.8L784.16 229.33L782.4 231.31L780.01 233.11L779.02 233.54L776.57 234.61L772.46 235.92L770.63 236.5L768.26 237.2L763.96 238.47L763.01 238.77L759.59 239.71L755.5 241.05L755.24 241.15" style="fill:none;stroke:#365c8d;stroke-width:1.5"/><path d="M829.75 376.13L837.82 375.45L843.21 375.54L862.91 377.8M666.11 316.56L674.22 318.6L682.21 320.77L688.72 321.68L691.51 321.84L696.21 322.34L705.14 323.76L709.93 324.19L715.91 324.53L736.39 324.15L741.92 323.94L747.22 323.92L752.18 324.21L756.95 324.68L766.93 325.21L776.52 326.12L781.3 326.59L787.66 326.95L791.48 326.96L797.06 326.7L803.13 326.05L808.84 324.96L813.03 323.41L815.51 321.33L816.51 318.81L816.02 315.82L814.49 312.53L811.67 308.86L808.95 305.98L806.79 303.16L805.19 299.87L803.69 295.32L804.08 292.69L807.03 290.87L816.38 288.28L821.56 287.15L824.51 286.88L829.71 286.83L834.74 286.93L837.6 286.62L840.71 286.16L844.32 285.96L846 286.02L850.35 286.74L855.11 287.1L860.38 286.98L865.07 287.4L878.11 289.69L903.46 295.11L911.63 297.25L915.67 298.38L919.58 299.65L934.89 305.15M892.73 347.7L886.53 346.37L870.06 343.53L865.35 342.89L855.7 341.85L846.29 340.59L841.04 340.84L839.91 341.58L838.21 342.87L835.78 345.03L832.48 346.93L828.6 348.65L823.88 350.11L818.04 351.22L813.51 351.48L808.18 351.43L798 350.85L783.52 349.28L778.42 349.01L772.66 349.37L766.52 350.07L761.28 350.98L759.23 351.82L757.46 352.76M800.5 231.61L798.35 233.48L795.91 235.27L792.33 236.73L776.36 240.05L772.75 241.07L768.16 242.83L761.85 245.5L758.03 247.22L755.14 248.65L749.23 252.06L743.33 255.51L741.5 257.58L738.7 262.01L736.81 264.09L734.17 265.95L730.65 267.55L726.14 268.85L721.71 269.52M929.01 269.14L925.5 268.58L921.45 267.6L909.81 264.19L902.12 261.89L894.62 259.45L886.79 257.35L882.04 255.42L882.04 255.42" style="fill:none;stroke:#277f8e;stroke-width:1.5"/><path d="M809.89 369.71L811.37 369.2L818.57 367.51L820.86 367.15L820.96 365.19L816.39 364.34L811.98 363.35L807.73 362.21L803.71 360.86L799.44 359.76L794.52 359.27L789.36 359.03L784.25 358.73L778.66 358.9L777.14 359.13M669.51 313.68L673.41 314.82L677.48 315.82L682.56 316.78L686.52 317.08L701.09 316.88L708.62 316.15L713.5 315.04L721.88 311.94L725.05 310.96L727.06 310.71L730.77 310.53L735.49 310.98L748.32 313.54L755.07 313.82L758.55 313.77L764.64 313.97L769.19 313.63L771.45 313.26L775.54 311.7L778.53 309.81L779.71 307.36L778.72 305.03L777.99 304.02L774.95 300.29L774.47 299.5L772.44 296.68L770.3 293.97L768.64 292.79L767.94 291.48L765.41 289.16L761.48 288.09L757.12 287.4L747.69 286.33L743.44 285.88L729 285.05L724.1 284.86L719.32 284.56L714.92 283.94L710.98 282.93L707.29 281.72M881.58 358.96L876.41 358.7L870.4 359.3L865.65 360.39L861.25 361.98L857.43 363.76L853.89 365.64L855.71 368.54L859.62 370.09L864.02 371.16L868.82 371.84M821.2 237.66L818.44 239.36L815.53 240.47L814.47 240.71L810.46 240.58L805.44 240.63L798.7 241.12L792.41 241.8L782.63 243.2L780.96 243.5L776.35 244.68L775.55 245.01L769.74 247.85L766.52 249.46L762.84 251.65L760.94 252.98L759.11 255.03L758.43 257.44L758.66 259.55L758.88 260.2L760.21 262.55L764.48 267.6L766.79 270.01L767.8 270.84L769 272.51L770.1 274.21L770.01 276.09L770.09 276.89L768.92 279.23L766.9 281.32L765.25 283.53L764.62 285.32L766.2 286.55L766.11 288.54L768.92 287.39L772.22 287.69L777.02 287.14L777.92 287.19L798.77 285.63L805.4 285.58L810.74 285.39L816.93 284.42L820.16 284.03L822.55 283.98L830.7 284.53L832.4 284.35L838.92 283.06L842.6 282.76L844.39 282.74L848.86 283.35L852.97 284.29L857.8 284.58L863.24 284.28L867.96 284.67L872.42 285.31L876.7 286.12L885.01 288L888.07 288.41L889.66 288.48L894.45 288.82L898.95 289.45L903.61 290.38L907.4 291.26L911.47 292.32L919.91 294.18L928.28 296.14L940.84 299.13M955.1 276.75L952.31 278.52L950.52 279.05L947.07 279.58L944.97 279.49L940.5 278.86L936.61 277.65L929.25 274.86L925.51 273.53L921.65 272.34L909.75 269.11L891.74 262.17L884.12 259.86L880.52 258.52L872.45 255.16L859.98 249.7L855.93 247.8L855.93 247.8" style="fill:none;stroke:#1fa187;stroke-width:1.5"/><path d="M673.25 310.52L677.52 311.33L682.23 311.78L685.26 311.83L687.66 311.61L691.89 311.05L694.31 310.4L696.8 309.73L700.23 307.95L702.16 305.7L703 303.12L703.04 302.92L703.65 300.48L703.43 298.13L703.3 297.55L701.8 295.12L700.24 293.77L699.19 292.94L696.28 291.03M787.99 269.2L791.44 270.64L795.16 271.84L799.16 272.81L803.04 273.51L803.38 273.58L807.33 274.61L809.61 275.49L810.86 276.02L814.55 277.28L817.77 277.95L818.7 278.15L823.29 278.63L828.27 278.74L828.98 278.67L834.27 277.6L834.65 277.57L839.85 277.48L843.63 277.76L844.54 277.86L849.05 278.41L853.57 278.95L856.91 279.08L858.49 279.13L863.29 279.42L867.75 280.03L870.45 280.49L872.1 280.75L876.48 281.46L880.93 282.09L885.69 282.44L885.86 282.44L891.58 281.7L892.04 281.64L897.32 281.1L900.39 281.49L901.83 281.68L906.11 282.49L910.41 283.3L914.82 284L919 284.37L919.63 284.31L925.42 283.66L925.45 283.65L925.43 283.64L923.73 280.53L923.57 280.43L920.64 278.3L917.65 276.23L913.77 275.06L912.82 274.71L909.99 273.78L906.41 272.33L902.8 270.92L899.13 269.57L895.51 268.19L891.94 266.77L888.47 265.27L885.75 264.17L884.92 263.85L881.31 262.5L877.77 261.09L874.2 259.73L870.52 258.47L866.89 257.18L863.32 255.84L859.78 254.48L856.25 253.12L854.21 252.36L852.69 251.8L849.17 250.45L845.69 249.08L842.07 247.84L838.13 246.9L834.07 246.07L832.18 245.9L829.69 245.54L824.55 245.68L823.31 245.83L819.41 245.83L814.53 245.74L814.38 245.74L809.8 245.52L804.93 245.49L804.85 245.5L799.33 245.97L798.33 246.09L793.09 247.08L793.06 247.08L788.04 248.15L786.24 248.69L783.7 249.43L779.89 250.87L777.27 252.14L776.59 252.47L774.11 254.32L773.27 255.61L772.76 256.52L773.06 259.22L773.41 259.84L775.57 262.35L776.04 262.74L778.3 264.37L781.39 266.1L784.68 267.65L786.84 268.63L787.99 269.2z" style="fill:none;stroke:#4ac16d;stroke-width:1.5"/><path d="M680.3 304.55L680.44 304.54L684.56 302.98L686.73 300.82L687.33 298.61M794.65 263.32L798.33 264.52L802.29 265.5L803.51 265.73L806.48 266.27L810.82 266.92L815.23 267.5L819.73 268.01L820 268.05L824.12 268.62L828.58 269.17L833.24 269.54L834.01 269.61L837.8 270.01L842.21 270.62L846.63 271.22L849.14 271.5L851.21 271.69L855.99 271.96L860.38 272.23L860.78 272.24L865.4 272.66L869.89 273.23L874.35 273.81L874.63 273.84L879.2 274.04L883.95 274.36L885 274.31L887.17 272.34L886.55 271.89L883.32 270.14L880.08 268.41L877.38 266.86L876.89 266.65L873.45 265.14L869.95 263.68L866.36 262.33L862.75 261L859.17 259.66L855.6 258.32L852.03 256.99L849.32 256.02L848.41 255.71L844.71 254.5L840.93 253.39L837.72 252.61L836.98 252.43L832.71 251.78L828.33 251.22L823.88 250.73L822.28 250.61L819.23 250.42L814.51 250.18L811.63 250.02L809.7 250.01L804.4 250.28L804.01 250.32L799.05 251.42L797.61 251.85L794.83 252.74L791.22 254.25L788.79 256.11L788.96 258.76L789.24 259.21L791.51 261.63L793.33 262.68L794.65 263.32z" style="fill:none;stroke:#a0da39;stroke-width:1.5"/>
   </g><g class=sf transform="scale(.5)"><g opacity=".8"><path class=as d="M2266 641l7-9 5-1zM2259 648l7-7 5-3zM2252 653l7-5 5-7z"/><path class=at d="M2273 632l7-9 5-1zM2266 641l5-3 7-7zM2259 648l5-7 7-3zM2244 654l8-1 4-13z"/><path class=au d="M2280 623l5-1 7-10zM2273 632l5-1 7-9zM2252 653l4-13 8 1z"/><path class=av d="M2271 638l7-7 5-5zM2237 651l7 3 5-18z"/><path class=aw d="M2278 631l7-9 5-3zM2264 641l7-3 4-11zM2244 654l5-18 7 4z"/><path class=ax d="M2285 622l7-10 5-2zM2285 622l5-3 7-9zM2278 631l5-5 7-7zM2271 638l4-11 8-1z"/><path class=ay d="M2292 612l5-2 7-9zM2256 640l8 1 4-18zM2230 647l7 4 4-23z"/><path class=az d="M2264 641l4-18 7 4zM2237 651l4-23 8 8z"/><path class=aA d="M2290 619l7-9 5-5zM2283 626l7-7 5-9zM2249 636l7 4 5-25z"/><path class=aB d="M2297 610l7-9 5-4zM2290 619l5-9 7-5zM2275 627l8-1 4-17zM2256 640l5-25 7 8zM2222 640l8 7 4-27z"/><path class=aC d="M2304 601l5-4 7-9zM2297 610l5-5 7-8zM2283 626l4-17 8 1zM2230 647l4-27 7 8z"/><path class=aD d="M2268 623l7 4 5-27z"/><path class=aE d="M2275 627l5-27 7 9zM2241 628l8 8 4-31z"/><path class=aF d="M2309 597l7-9 5-6zM2302 605l7-8 5-8zM2295 610l7-5 4-14zM2249 636l4-31 8 10zM2215 634l7 6 4-27z"/><path class=aG d="M2222 640l4-27 8 7z"/><path class=aH d="M2316 588l5-6 7-8zM2309 597l5-8 7-7zM2302 605l4-14 8-2zM2287 609l8 1 4-24zM2261 615l7 8 4-36zM2207 631l8 3 4-26z"/><path class=aI d="M2295 610l4-24 7 5zM2268 623l4-36 8 13zM2234 620l7 8 5-33z"/><path class=aJ d="M2241 628l5-33 7 10zM2215 634l4-26 7 5z"/><path class=aK d="M2321 582l7-8 5-9zM2314 589l7-7 5-11zM2280 600l7 9 5-36zM2200 629l7 2 4-26z"/><path class=aL d="M2306 591l8-2 4-18zM2287 609l5-36 7 13zM2253 605l8 10 4-41zM2226 613l8 7 4-32zM2207 631l4-26 8 3z"/><path class=aM d="M2328 574l5-9 7-7zM2321 582l5-11 7-6zM2314 589l4-18 8 0zM2192 629l8 0 4-26z"/><path class=aN d="M2299 586l7 5 5-29zM2261 615l4-41 7 13zM2234 620l4-32 8 7zM2184 630l8-1 4-27z"/><path class=aO d="M2306 591l5-29 7 9zM2219 608l7 5 5-31zM2200 629l4-26 7 2z"/><path class=aP d="M2326 571l7-6 5-12zM2272 587l8 13 4-44zM2192 629l4-27 8 1zM2177 631l7-1 5-28z"/><path class=aQ d="M2333 565l7-7 5-10zM2280 600l4-44 8 17zM2246 595l7 10 4-41zM2226 613l5-31 7 6zM2169 634l8-3 4-29z"/><path class=aR d="M2340 558l5-10 7-7zM2333 565l5-12 7-5zM2318 571l8 0 4-19zM2253 605l4-41 8 10zM2211 605l8 3 4-32zM2184 630l5-28 7 0zM2162 634l7 0 4-32z"/><path class=aS d="M2326 571l4-19 8 1zM2292 573l7 13 5-40zM2177 631l4-29 8 0zM2154 635l8-1 4-23zM2146 639l8-4 4-14zM2139 644l7-5 5-9z"/><path class=aT d="M2299 586l5-40 7 16zM2238 588l8 7 4-38zM2219 608l4-32 8 6zM2131 647l8-3 4-7zM2123 649l8-2 4-7z"/><path class=aU d="M2311 562l7 9 5-32zM2265 574l7 13 5-48zM2204 603l7 2 4-32zM2169 634l4-32 8 0zM2162 634l4-23 7-9zM2154 635l4-14 8-10zM2146 639l5-9 7-9zM2139 644l4-7 8-7zM2131 647l4-7 8-3z"/><path class=aV d="M2345 548l7-7 5-10zM2338 553l7-5 5-13zM2318 571l5-32 7 13zM2246 595l4-38 7 7zM2196 602l8 1 4-31zM2123 649l5-7 7-2zM2116 649l7 0 5-7z"/><path class=aW d="M2330 552l8 1 4-22zM2272 587l5-48 7 17zM2211 605l4-32 8 3zM2143 637l8-7 4-4z"/><path class=aX d="M2352 541l5-10 7-6zM2345 548l5-13 7-4zM2231 582l7 6 4-38zM2189 602l7 0 4-29zM2151 630l7-9 5-3zM2135 640l8-3 4-5z"/><path class=aY d="M2727 638l7-28 5 31 8-28 5 32zM2338 553l4-22 8 4zM2292 573l4-48 8 21zM2284 556l8 17 4-48zM2238 588l4-38 8 7zM2204 603l4-31 7 1zM2181 602l8 0 4-27zM2158 621l8-10 4-5zM2151 630l4-4 8-8zM2143 637l4-5 8-6z"/><path class=aZ d="M2688 627l7-38 6 44 7-36 6 39 7-32 6 34-13-2-13-3zM2752 645l8-29 5 33 8-31 5 31-13 0zM2257 564l8 10 4-47zM2196 602l4-29 8-1zM2173 602l8 0 4-21zM2166 611l7-9 5-10zM2158 621l5-3 7-12z"/><path class=ba d="M2638 608l6-42 6 53 7-51 6 52 7-49 6 51 7-43 5 48-12-5-13-2-13-1zM2778 649l8-32 5 27zM2357 531l7-6 5-8zM2350 535l7-4 5-14zM2311 562l5-43 7 20zM2304 546l7 16 5-43zM2223 576l8 6 4-38zM2166 611l4-5 8-14zM2155 626l8-8 4-1z"/><path class=bb d="M2364 525l5-8 7-2zM2330 552l5-36 7 15zM2323 539l7 13 5-36zM2265 574l4-47 8 12zM2189 602l4-27 7-2zM2181 602l4-21 8-6zM2163 618l7-12 5 1z"/><path class=bc d="M2791 644l8-28 6 22zM2708 597l6 39 7-32 6 34 7-28 5 31 8-28 5 32 8-29 5 33 8-31-13-2-26-6-13-6zM2357 531l5-14 7 0zM2231 582l4-38 7 6zM2215 573l8 3 4-35zM2173 602l5-10 7-11zM2163 618l4-1 8-10z"/><path class=bd d="M2625 591l7-36 6 53zM2695 589l6 44 7-36zM2773 618l5 31 8-32zM2342 531l8 4 5-26zM2250 557l7 7 5-44zM2170 606l8-14 4 1zM2170 606l5 1 7-14z"/><path class=be d="M2369 517l7-2 5-9zM2683 579l5 48 7-38zM2786 617l5 27 8-28zM2350 535l5-26 7 8zM2277 539l7 17 5-51zM2223 576l4-35 8 3zM2208 572l7 1 5-31z"/><path class=bf d="M2376 515l5-9 7 0zM2805 638l7-23 6 16zM2644 566l6 53 7-51 6 52 7-49 6 51 7-43-13-8-13-3zM2362 517l7 0 5-15zM2284 556l5-51 7 20zM2257 564l5-44 7 7zM2200 573l8-1 4-26zM2178 592l7-11 5-2zM2178 592l4 1 8-14zM2175 607l7-14 5 5z"/><path class=bg d="M2613 573l6-32 6 50zM2632 555l6 53 6-42zM2799 616l6 22 7-23zM2369 517l5-15 7 4zM2304 546l4-48 8 21zM2296 525l8 21 4-48zM2242 550l8 7 4-42zM2215 573l5-31 7-1zM2193 575l7-2 5-19zM2185 581l8-6 4-10z"/><path class=bh d="M2818 631l7-17 6 9zM2381 506l7 0 6-9zM2335 516l7 15 5-38zM2323 539l5-44 7 21zM2316 519l7 20 5-44zM2185 581l5-2 7-14zM2182 593l8-14 4 5zM2182 593l5 5 7-14z"/><path class=bi d="M2388 506l6-9 7 0zM2812 615l6 16 7-17zM2342 531l5-38 8 16zM2250 557l4-42 8 5zM2208 572l4-26 8-4zM2200 573l5-19 7-8zM2193 575l4-10 8-11z"/><path class=bj d="M2600 556l7-30 6 47zM2831 623l8-12 6 5zM2619 541l6 50 7-36zM2721 604l7-30 6 36 7-34 6 37 7-36 6 39 7-37 6 39-13-2-26-6zM2374 502l7 4 5-14zM2362 517l5-26 7 11zM2355 509l7 8 5-26zM2269 527l8 12 4-47zM2235 544l7 6 5-39zM2190 579l7-14 5 3zM2190 579l4 5 8-16z"/><path class=bk d="M2394 497l7 0 5-8zM2825 614l6 9 8-12zM2381 506l5-14 8 5zM2708 597l7-33 6 40zM2773 618l7-35 6 34 7-28 6 27zM2194 584l8-16 5 9z"/><path class=bl d="M2401 497l5-8 7-1zM2695 589l8-36 5 44zM2799 616l7-21 6 20zM2277 539l4-47 8 13zM2242 550l5-39 7 4zM2227 541l8 3 4-34zM2197 565l8-11 4-2zM2197 565l5 3 7-16z"/><path class=bm d="M2588 541l6-28 6 43zM2845 616l7-10 6 1zM2607 526l6 47 6-32zM2839 611l6 5 7-10zM2683 579l7-36 5 46zM2812 615l7-14 6 13zM2728 574l6 36 7-34zM2205 554l7-8 5-9zM2202 568l5 9 7-18z"/><path class=bn d="M2394 497l5-13 7 5zM2825 614l7-11 7 8zM2386 492l8 5 5-13zM2715 564l6 40 7-30zM2741 576l6 37 7-36 6 39 7-37 6 39 7-35 6 34 7-28 6 27 7-21 6 20 7-14-39-18-13-4-13-2zM2374 502l5-25 7 15zM2367 491l7 11 5-25zM2296 525l5-46 7 19zM2289 505l7 20 5-46zM2262 520l7 7 5-41zM2220 542l7-1 4-28zM2212 546l8-4 4-20zM2205 554l4-2 8-15zM2202 568l7-16 5 7z"/><path class=bo d="M2406 489l7-1 5-10zM2670 571l7-39 6 47zM2839 611l7-10 6 5zM2703 553l5 44 7-33zM2819 601l6 13 7-11zM2355 509l5-36 7 18zM2347 493l8 16 5-36zM2335 516l5-44 7 21zM2328 495l7 21 5-44zM2316 519l4-44 8 20zM2308 498l8 21 4-44zM2235 544l4-34 8 1z"/><path class=bp d="M2413 488l5-10 7-3zM2575 528l7-28 6 41zM2858 607l8-9 6-3zM2594 513l6 43 7-30zM2852 606l6 1 8-9zM2644 566l7-52 6 54 7-48 6 51-13-3zM2832 603l7 8 7-10zM2269 527l5-41 7 6zM2227 541l4-28 8-3zM2212 546l5-9 7-15zM2209 552l8-15 4 3zM2209 552l5 7 7-19z"/><path class=bq d="M2406 489l5-13 7 2zM2632 555l7-47 5 58zM2399 484l7 5 5-13zM2690 543l5 46 8-36zM2254 515l8 5 4-37zM2220 542l4-20 7-9zM2214 559l7-19 5 11z"/><path class=br d="M2563 516l6-27 6 39zM2582 500l6 41 6-28zM2852 606l7-11 7 3zM2846 601l6 5 7-11zM2386 492l6-26 7 18zM2819 601l8-14 5 16zM2379 477l7 15 6-26z"/><path class=bs d="M2418 478l7-3 6-14zM2866 598l6-3 8-9zM2619 541l7-45 6 59zM2677 532l6 47 7-36zM2793 589l7-18 6 24 7-14 6 20zM2832 603l8-16 6 14zM2281 492l8 13 4-40zM2262 520l4-37 8 3zM2247 511l7 4 4-34zM2217 537l7-15 5-1zM2217 537l4 3 8-19zM2221 540l5 11 8-23z"/><path class=bt d="M2425 475l6-14 7-1zM2550 503l6-25 7 38zM2872 595l8-9 6-3zM2664 520l6 51 7-39zM2813 581l6 20 8-14zM2367 491l5-35 7 21zM2360 473l7 18 5-35zM2289 505l4-40 8 14z"/><path class=bu d="M2569 489l6 39 7-28zM2866 598l7-13 7 1zM2411 476l7 2 6-20zM2639 508l5 58 7-52 6 54 7-48zM2859 595l7 3 7-13zM2399 484l5-29 7 21zM2728 574l8-41 5 43 8-40 5 41-13-1zM2767 579l8-32 5 36 8-24 5 30-13-6zM2846 601l7-17 6 11zM2800 571l6 24 7-14zM2827 587l5 16 8-16zM2347 493l5-41 8 21zM2340 472l7 21 5-41zM2328 495l5-41 7 18zM2320 475l8 20 5-41zM2308 498l5-40 7 17zM2301 479l7 19 5-40zM2254 515l4-34 8 2zM2239 510l8 1 4-28zM2224 522l7-9 5-11zM2221 540l8-19 5 7z"/><path class=bv d="M2418 478l6-20 7 3zM2607 526l6-41 6 56zM2715 564l8-37 5 47zM2754 577l8-38 5 40zM2392 466l7 18 5-29zM2840 587l6 14 7-17zM2231 513l8-3 4-21zM2224 522l5-1 7-19z"/><path class=bw d="M2538 486l6-18 6 35zM2556 478l7 38 6-27zM2880 586l6-3 7-8zM2626 496l6 59 7-47zM2703 553l7-36 5 47zM2788 559l5 30 7-18zM2274 486l7 6 5-32zM2247 511l4-28 7-2zM2229 521l5 7 7-23z"/><path class=bx d="M2886 583l7-8 7-3zM2431 461l7-1 5-17zM2594 513l7-37 6 50zM2873 585l7 1 7-10zM2859 595l8-16 6 6zM2775 547l5 36 8-24zM2853 584l6 11 8-16zM2379 477l5-36 8 25zM2281 492l5-32 7 5zM2239 510l4-21 8-6zM2231 513l5-11 7-13zM2229 521l7-19 5 3z"/><path class=by d="M2438 460l5-17 7 1zM2544 468l6 35 6-25zM2880 586l7-10 6-1zM2613 485l6 56 7-45zM2411 476l5-35 8 17zM2690 543l7-35 6 45zM2404 455l7 21 5-35zM2723 527l5 47 8-41 5 43 8-40-13-3zM2762 539l5 40 8-32zM2813 581l8-17 6 23 7-19 6 19-13 0zM2372 456l7 21 5-36zM2266 483l8 3 4-30zM2234 528l7-23 5 12z"/><path class=bz d="M2525 467l6-12 7 31zM2582 500l6-33 6 46zM2424 458l7 3 5-21zM2873 585l7-10 7 1zM2749 536l5 41 8-38zM2867 579l6 6 7-10zM2800 571l8-13 5 23zM2840 587l7-16 6 13zM2293 465l8 14 4-33z"/><path class=bA d="M2531 455l7 31 6-18zM2431 461l5-21 7 3zM2601 476l6 50 6-41zM2677 532l7-33 6 44zM2710 517l5 47 8-37zM2853 584l8-12 6 7zM2808 558l5 23 8-17 6 23 7-19 6 19 7-16-13-3-13-4zM2360 473l5-41 7 24zM2352 452l8 21 5-41zM2320 475l5-37 8 16zM2313 458l7 17 5-37zM2301 479l4-33 8 12zM2274 486l4-30 8 4zM2258 481l8 2 5-28zM2236 502l7-13 5-5zM2236 502l5 3 7-21z"/><path class=bB d="M2569 489l6-32 7 43zM2664 520l7-31 6 43zM2697 508l6 45 7-36zM2392 466l5-39 7 28zM2788 559l7-12 5 24zM2847 571l6 13 8-12zM2340 472l5-39 7 19zM2333 454l7 18 5-39zM2241 505l5 12 7-27z"/><path class=bC d="M2513 451l6-8 6 24zM2443 443l7 1 6-15zM2588 467l6 46 7-37zM2867 579l7-6 6 2zM2384 441l8 25 5-39zM2795 547l5 24 8-13zM2861 572l6 7 7-6zM2266 483l5-28 7 1zM2251 483l7-2 5-22zM2243 489l8-6 5-15zM2241 505l7-21 5 6zM2246 517l7-27 5 16z"/><path class=bD d="M2450 444l6-15 7 3zM2519 443l6 24 6-12zM2556 478l7-31 6 42zM2424 458l5-33 7 15zM2651 514l7-37 6 43zM2416 441l8 17 5-33zM2684 499l6 44 7-35zM2775 547l7-14 6 26zM2286 460l7 5 5-26zM2243 489l5-5 8-16z"/><path class=bE d="M2544 468l6-30 6 40zM2436 440l7 3 6-19zM2575 457l7 43 6-33zM2639 508l7-41 5 47zM2671 489l6 43 7-33zM2782 533l6 26 7-12zM2808 558l7-10 6 16 7-11 6 15 7-7 6 10 7-3 7 4 7 1 6 0-27-2-13-3-13-4zM2293 465l5-26 7 7zM2258 481l5-22 8-4zM2251 483l5-15 7-9z"/><path class=bF d="M2500 437l6-4 7 18zM2506 433l7 18 6-8zM2443 443l6-19 7 5zM2404 455l5-42 7 28zM2762 539l7-20 6 28zM2372 456l5-43 7 28zM2828 553l6 15 7-7 6 10 7-3 7 4 7 1-14-5-13-7zM2854 568l7 11 7-6zM2848 571l6 20 7-12zM2841 581l7-10 6 20zM2828 571l6 27 7-17zM2305 446l8 12 5-32zM2820 589l8-18 6 27zM2248 484l5 6 7-24zM2253 490l5 16 7-29z"/><path class=bG d="M2463 432l5-9 7 5zM2488 429l6-2 6 10zM2456 429l7 3 5-9zM2531 455l6-25 7 38zM2563 447l6 42 6-32zM2626 496l7-39 6 51zM2658 477l6 43 7-31zM2723 527l7-29 6 35 7-30 6 33 7-29 6 32-26-6zM2769 519l6 28 7-14zM2795 547l7-6 6 17zM2365 432l7 24 5-43zM2815 548l6 16 7-11zM2841 561l7 10 6-3zM2848 571l6-3 7 11zM2325 438l8 16 4-37zM2313 458l5-32 7 12zM2807 580l7-18 6 27zM2278 456l8 4 4-26zM2248 484l8-16 4-2z"/><path class=bH d="M2475 428l6-6 7 7zM2468 423l7 5 6-6zM2494 427l6 10 6-4zM2550 438l6 40 7-31zM2710 517l7-30 6 40zM2397 427l7 28 5-42zM2802 541l6 17 7-10zM2352 452l5-42 8 22zM2828 553l7 9 6-1zM2345 433l7 19 5-42zM2835 562l6-1 7 10zM2333 454l4-37 8 16zM2835 562l6 19 7-10zM2828 571l7-9 6 19zM2814 562l6 27 8-18zM2794 571l7-17 6 26zM2286 460l4-26 8 5zM2253 490l7-24 5 11z"/><path class=bI d="M2481 422l7 7 6-2zM2456 429l5-14 7 8zM2519 443l6-21 6 33zM2449 424l7 5 5-14zM2436 440l6-30 7 14zM2613 485l7-39 6 50zM2429 425l7 15 6-30zM2646 467l5 47 7-37zM2756 507l6 32 7-20zM2782 533l7-2 6 16zM2789 531l6 16 7-6zM2815 548l6 4 7 1zM2821 552l7 1 7 9zM2821 552l7 19 7-9zM2814 562l7-10 7 19zM2801 554l6 26 7-18zM2781 564l7-17 6 24zM2271 455l7 1 5-24zM2256 468l7-9 5-11z"/><path class=bJ d="M2537 430l7 38 6-30zM2601 476l6-40 6 49zM2633 457l6 51 7-41zM2697 508l7-31 6 40zM2730 498l6 35 7-30 6 33 7-29-13-4zM2802 541l6 4 7 3zM2808 545l7 3 6 4zM2808 545l6 17 7-10zM2801 554l7-9 6 17zM2788 547l6 24 7-17zM2768 557l7-17 6 24zM2298 439l7 7 5-29zM2278 456l5-24 7 2zM2263 459l8-4 4-18zM2256 468l4-2 8-18z"/><path class=bK d="M2468 423l6-10 7 9 6-10 7 15-13-5zM2506 433l6-18 7 28zM2525 422l6 33 6-25zM2588 467l6-37 7 46zM2416 441l6-42 7 26zM2684 499l7-29 6 38zM2717 487l6 40 7-29zM2384 441l5-46 8 32zM2769 519l7 0 6 14zM2776 519l6 14 7-2zM2789 531l6 7 7 3zM2795 538l7 3 6 4zM2795 538l6 16 7-9zM2788 547l7-9 6 16zM2775 540l6 24 7-17zM2755 550l7-17 6 24zM2305 446l5-29 8 9zM2260 466l5 11 8-26z"/><path class=bL d="M2494 427l5-16 7 22zM2461 415l7 8 6-10zM2620 446l6 50 7-39zM2409 413l7 28 6-42zM2377 413l7 28 5-46zM2782 529l7 2 6 7zM2782 529l6 18 7-9zM2775 540l7-11 6 18zM2762 533l6 24 7-17zM2318 426l7 12 5-35zM2741 544l8-20 6 26zM2271 455l4-18 8-5zM2263 459l5-11 7-11zM2260 466l8-18 5 3zM2265 477l8-26 5 16z"/><path class=bM d="M2474 413l7 9 6-10 7 15 5-16zM2512 415l7 28 6-21zM2449 424l5-26 7 17zM2575 457l7-33 6 43zM2671 489l7-28 6 38zM2704 477l6 40 7-30zM2756 507l7 0 6 12zM2763 507l6 12 7 0zM2776 519l6 10 7 2zM2769 521l6 19 7-11zM2762 533l7-12 6 19zM2325 438l5-35 7 14zM2749 524l6 26 7-17zM2715 532l7-23 6 29 8-21 5 27zM2290 434l8 5 5-28z"/><path class=bN d="M2499 411l7 22 6-18zM2563 447l6-31 6 41zM2442 410l7 14 5-26zM2607 436l6 49 7-39zM2658 477l7-26 6 38zM2691 470l6 38 7-31zM2365 432l5-45 7 26zM2763 507l6 14 7-2zM2357 410l8 22 5-45zM2769 521l7-2 6 10zM2345 433l5-41 7 18zM2337 417l8 16 5-41zM2722 509l6 29 8-21 5 27 8-20zM2702 526l7-24 6 30zM2298 439l5-28 7 6z"/><path class=bO d="M2550 438l6-30 7 39zM2594 430l7 46 6-40zM2429 425l5-41 8 26zM2678 461l6 38 7-29zM2397 427l5-47 7 33zM2730 498l7-8 6 13 7-7 6 11-13-4zM2750 496l6 11 7 0zM2756 511l7-4 6 14zM2756 511l6 22 7-12zM2749 524l7-13 6 22zM2709 502l6 30 7-23zM2689 517l7-26 6 35zM2283 432l7 2 5-24zM2268 448l7-11 5-7zM2268 448l5 3 7-21zM2273 451l5 16 7-28z"/><path class=bP d="M2461 415l6-24 7 22zM2582 424l6 43 6-37zM2646 467l6-27 6 37zM2717 487l6-5 7 16zM2737 490l6 13 7-7zM2750 496l6 15 7-4zM2743 501l6 23 7-13zM2736 517l7-16 6 23zM2696 491l6 35 7-24zM2275 437l8-5 5-16zM2278 467l7-28 5 20z"/><path class=bQ d="M2474 413l6-26 7 25zM2537 430l6-29 7 37zM2454 398l7 17 6-24zM2569 416l6 41 7-33zM2422 399l7 26 5-41zM2665 451l6 38 7-28zM2389 395l8 32 5-47zM2723 482l7 16 7-8zM2743 501l7-5 6 15zM2730 493l6 24 7-16zM2722 509l8-16 6 24zM2310 417l8 9 4-34zM2290 434l5-24 8 1zM2275 437l5-7 8-14zM2273 451l7-21 5 9z"/><path class=bR d="M2487 412l5-29 7 28zM2525 422l6-28 6 36zM2556 408l7 39 6-31zM2633 457l6-27 7 37zM2704 477l7-7 6 17zM2737 490l6 11 7-5zM2730 493l7-3 6 11zM2717 485l5 24 8-16zM2709 502l8-17 5 24zM2676 499l8-26 5 44zM2318 426l4-34 8 11zM2283 432l5-16 7-6zM2285 439l5 20 8-30z"/><path class=bS d="M2499 411l6-27 7 31 6-27 7 34-13-7zM2467 391l7 22 6-26zM2543 401l7 37 6-30zM2652 440l6 37 7-26zM2409 413l6-46 7 32zM2691 470l7-12 6 19zM2711 470l6 17 6-5zM2723 482l7 11 7-3zM2717 485l6-3 7 11zM2696 491l8-18 5 29zM2684 473l5 44 7-26zM2330 403l7 14 5-39z"/><path class=bT d="M2442 410l5-38 7 26zM2620 446l7-27 6 38zM2639 430l7 37 6-27zM2377 413l5-47 7 29zM2711 470l6 15 6-3zM2704 473l5 29 8-17zM2337 417l5-39 8 14zM2303 411l7 6 5-31zM2280 430l8-14 5-1zM2280 430l5 9 8-24z"/><path class=bU d="M2480 387l7 25 5-29zM2518 388l7 34 6-28 6 36 6-29-12-7zM2607 436l7-27 6 37zM2434 384l8 26 5-38zM2678 461l7-15 6 24zM2402 380l7 33 6-46zM2698 458l6 19 7-7zM2370 387l7 26 5-47zM2704 473l7-3 6 15zM2357 410l5-43 8 20zM2350 392l7 18 5-43zM2310 417l5-31 7 6zM2285 439l8-24 5 14z"/><path class=bV d="M2492 383l7 28 6-27 7 31 6-27-13-4zM2627 419l6 38 6-27zM2685 446l6 24 7-12zM2698 458l6 15 7-3zM2691 457l5 34 8-18zM2684 473l7-16 5 34zM2295 410l8 1 4-24zM2288 416l7-6 5-12z"/><path class=bW d="M2454 398l6-34 7 27zM2582 424l6-29 6 35 7-29 6 35zM2665 451l7-17 6 27zM2671 451l5 48 8-26zM2663 474l8-23 5 48zM2322 392l8 11 5-35zM2303 411l4-24 8-1zM2288 416l5-1 7-17z"/><path class=bX d="M2569 416l6-27 7 35zM2447 372l7 26 6-34zM2614 409l6 37 7-27zM2422 399l5-45 7 30zM2652 440l7-17 6 28zM2672 434l6 27 7-15zM2691 457l7 1 6 15zM2330 403l5-35 7 10zM2295 410l5-12 7-11zM2293 415l5 14 7-26zM2298 429l7-26 5 19z"/><path class=bY d="M2467 391l6-34 7 30zM2556 408l6-26 7 34zM2601 401l6 35 7-27zM2415 367l7 32 5-45zM2389 395l6-45 7 30zM2685 446l6 11 7 1zM2678 440l6 33 7-16zM2293 415l7-17 5 5z"/><path class=bZ d="M2543 401l6-26 7 33zM2588 395l6 35 7-29zM2639 430l7-17 6 27zM2659 423l6 28 7-17zM2382 366l7 29 6-45zM2678 440l7 6 6 11zM2671 451l7-11 6 33zM2342 378l8 14 5-39z"/><path class=ca d="M2480 387l5-34 7 30zM2531 394l6-26 6 33zM2460 364l7 27 6-34zM2575 389l7 35 6-29zM2672 434l6 6 7 6zM2370 387l5-42 7 21zM2350 392l5-39 7 14zM2658 430l5 44 8-23zM2651 452l7-22 5 44zM2638 437l5 42 8-27zM2315 386l7 6 5-29zM2300 398l7-11 5-5zM2300 398l5 5 7-21zM2305 403l5 19 8-29zM2310 422l8-29 5 24z"/><path class=cb d="M2492 383l6-29 7 30 6-27 7 31 6-26 7 32-13-6-13-4zM2562 382l7 34 6-27zM2434 384l6-40 7 28zM2627 419l6-15 6 26zM2646 413l6 27 7-17zM2362 367l8 20 5-42zM2322 392l5-29 8 5zM2307 387l8-1 5-19z"/><path class=cc d="M2473 357l7 30 5-34zM2549 375l7 33 6-26zM2614 409l6-14 7 24zM2427 354l7 30 6-40zM2633 404l6 26 7-17zM2402 380l5-42 8 29zM2665 423l7 11 6 6zM2665 423l6 28 7-11zM2625 426l5 38 8-27zM2305 403l7-21 6 11z"/><path class=cd d="M2524 362l7 32 6-26 6 33 6-26-12-7zM2659 423l6 0 7 11zM2395 350l7 30 5-42zM2658 430l7-7 6 28zM2335 368l7 10 5-32zM2315 386l5-19 7-4zM2307 387l5-5 8-15zM2318 393l5 24 7-32z"/><path class=ce d="M2485 353l7 30 6-29 7 30 6-27 7 31 6-26-13-5-13-3zM2447 372l6-36 7 28zM2601 401l6-15 7 23zM2620 395l7 24 6-15zM2646 413l6-3 7 13zM2645 416l6 36 7-22zM2638 437l7-21 6 36zM2342 378l5-32 8 7zM2612 417l5 36 8-27zM2312 382l6 11 7-23z"/><path class=cf d="M2575 389l6-18 7 24 6-17 7 23zM2607 386l7 23 6-14zM2652 410l7 13 6 0zM2652 410l6 20 7-7zM2599 407l5 37 8-27zM2312 382l8-15 5 3zM2318 393l7-23 5 15z"/><path class=cg d="M2460 364l6-33 7 26zM2562 382l6-18 7 25zM2440 344l7 28 6-36zM2594 378l7 23 6-15zM2415 367l5-39 7 26zM2633 404l6-2 7 11zM2639 402l7 11 6-3zM2382 366l5-37 8 21zM2375 345l7 21 5-37zM2645 416l7-6 6 20zM2362 367l5-34 8 12zM2632 408l6 29 7-21zM2355 353l7 14 5-34zM2625 426l7-18 6 29zM2327 363l8 5 5-23z"/><path class=ch d="M2549 375l6-19 7 26zM2581 371l7 24 6-17zM2620 395l6-1 7 10zM2407 338l8 29 5-39zM2639 402l6 14 7-6zM2612 417l7-18 6 27zM2586 398l5 36 8-27zM2565 414l8-26 5 37zM2335 368l5-23 7 1zM2320 367l7-4 5-10z"/><path class=ci d="M2473 357l5-29 7 25zM2537 368l6-19 6 26zM2453 336l7 28 6-33zM2568 364l7 25 6-18zM2607 386l6-1 7 10zM2626 394l7 10 6-2zM2632 408l7-6 6 14zM2619 399l6 27 7-18zM2573 388l5 37 8-27zM2327 363l5-10 8-8zM2320 367l5 3 7-17zM2325 370l5 15 8-24zM2330 385l8-24 5 22z"/><path class=cj d="M2485 353l6-25 7 26zM2511 357l6-20 7 25 6-19 7 25-13-6zM2555 356l7 26 6-18zM2427 354l6-34 7 24zM2613 385l7 10 6-1zM2626 394l6 14 7-6zM2619 399l7-5 6 14zM2606 390l6 27 7-18zM2599 407l7-17 6 27zM2347 346l8 7 5-25zM2553 400l7-25 5 39zM2325 370l7-17 6 8zM2343 383l7-27 6 29z"/><path class=ck d="M2498 354l6-22 7 25zM2466 331l7 26 5-29zM2543 349l6 26 6-19zM2594 378l6-2 7 10zM2420 328l7 26 6-34zM2600 376l7 10 6-1zM2395 350l5-32 7 20zM2613 385l6 14 7-5zM2606 390l7-5 6 14zM2593 380l6 27 7-17zM2586 398l7-18 6 27zM2355 353l5-25 7 5zM2560 375l5 39 8-26zM2338 361l5 22 7-27z"/><path class=cl d="M2530 343l7 25 6-19zM2581 371l6-3 7 10zM2587 368l7 10 6-2zM2600 376l6 14 7-5zM2387 329l8 21 5-32zM2367 333l8 12 5-27zM2340 345l7 1 5-15zM2332 353l8-8 5-3zM2332 353l6 8 7-19zM2350 356l6 29 7-28z"/><path class=cm d="M2478 328l7 25 6-25 7 26 6-22 7 25 6-20 7 25 6-19-13-6-13-5-13-4zM2440 344l6-29 7 21zM2568 364l6-5 7 12zM2593 380l7-4 6 14zM2375 345l5-27 7 11zM2580 371l6 27 7-18zM2573 388l7-17 6 27zM2540 386l7-24 6 38zM2347 346l5-15 8-3zM2338 361l7-19 5 14z"/><path class=cn d="M2555 356l6-6 7 14zM2433 320l7 24 6-29zM2574 359l7 12 6-3zM2407 338l6-28 7 18zM2587 368l6 12 7-4zM2580 371l7-3 6 12zM2560 375l7-15 6 28zM2547 362l6 38 7-25zM2340 345l5-3 7-11z"/><path class=co d="M2453 336l5-25 8 20zM2543 349l6-8 6 15zM2561 350l7 14 6-5zM2574 359l6 12 7-3zM2400 318l7 20 6-28zM2567 360l6 28 7-17zM2360 328l7 5 6-17zM2527 374l7-23 6 35zM2345 342l5 14 8-20zM2350 356l8-20 5 21 7-23 6 27 7-26 6 33-13-7-13-4z"/><path class=cp d="M2466 331l5-21 7 18zM2530 343l6-9 7 15zM2446 315l7 21 5-25zM2549 341l6 15 6-6zM2561 350l6 10 7-1zM2567 360l7-1 6 12zM2387 329l6-21 7 10zM2367 333l6-17 7 2zM2534 351l6 35 7-24zM2352 331l8-3 5-6zM2345 342l7-11 6 5zM2358 336l5 21 7-23zM2383 335l6 33 7-27z"/><path class=cq d="M2478 328l6-17 7 17zM2504 332l6-12 7 17 6-10 7 16-13-6zM2536 334l7 15 6-8zM2420 328l6-23 7 15zM2554 349l7 1 6 10zM2554 349l6 26 7-15zM2380 318l7 11 6-21zM2547 362l7-13 6 26zM2514 363l7-22 6 33zM2360 328l5-6 8-6zM2352 331l6 5 7-14zM2370 334l6 27 7-26z"/><path class=cr d="M2491 328l6-14 7 18zM2458 311l8 20 5-21zM2523 327l7 16 6-9zM2549 341l5 8 7 1zM2413 310l7 18 6-23zM2521 341l6 33 7-23zM2358 336l7-14 5 12zM2409 348l7-25 6 35z"/><path class=cs d="M2471 310l7 18 6-17zM2497 314l7 18 6-12 7 17 6-10-13-7zM2433 320l5-19 8 14zM2536 334l5 5 8 2zM2541 339l8 2 5 8zM2400 318l5-16 8 8zM2541 339l6 23 7-13zM2534 351l7-12 6 23zM2380 318l5-10 8 0zM2508 331l6 32 7-22zM2373 316l7 2 5-10zM2501 353l7-22 6 32zM2365 322l8-6 5 1zM2455 348l7-26 6 37zM2365 322l5 12 8-17zM2416 323l6 35 7-28zM2370 334l8-17 5 18 8-19 5 25 7-23 6 30-13-7-13-6z"/><path class=ct d="M2484 311l7 17 6-14zM2523 327l6 4 7 3zM2426 305l7 15 5-19zM2529 331l7 3 5 5zM2529 331l5 20 7-12zM2393 308l7 10 5-16zM2521 341l8-10 5 20zM2373 316l5 1 7-9zM2462 322l6 37 7-28zM2442 339l7-24 6 33zM2378 317l5 18 8-19zM2403 318l6 30 7-25z"/><path class=cu d="M2446 315l5-15 7 11zM2510 320l6 3 7 4zM2516 323l7 4 6 4zM2413 310l5-11 8 6zM2516 323l5 18 8-10zM2495 321l6 32 7-22zM2488 341l7-20 6 32zM2378 317l7-9 6 8zM2391 316l5 25 7-23z"/><path class=cv d="M2458 311l6-11 7 10zM2497 314l6 0 7 6zM2438 301l8 14 5-15zM2503 314l7 6 6 3zM2405 302l8 8 5-11zM2508 331l8-8 5 18zM2393 308l5-4 7-2zM2385 308l8 0 5-4zM2475 331l8-19 5 29zM2385 308l6 8 7-12zM2449 315l6 33 7-26zM2391 316l7-12 5 14zM2416 323l8-17 5 24 8-21 5 30-13-9z"/><path class=cw d="M2471 310l6-8 7 9 6-4 7 7-13-3zM2451 300l7 11 6-11zM2490 307l7 7 6 0zM2426 305l5-7 7 3zM2503 314l5 17 8-8zM2418 299l8 6 5-7zM2495 321l8-7 5 17zM2405 302l6 2 7-5zM2483 312l5 29 7-20zM2398 304l7-2 6 2zM2462 322l8-16 5 25zM2398 304l5 14 8-14 5 19 8-17 5 24 8-21 5 30 7-24-12-6-13-3-13-2zM2403 318l8-14 5 19z"/><path class=cx d="M2464 300l7 10 6-8 7 9 6-4-13-5zM2438 301l6-3 7 2 6 2 7-2 6 6 7-4 6 10 7-5 5 14 8-7-13-7-13-5-13-2-13 0zM2431 298l7 3 6-3 7 2 6 2 7-2 6 6 7-4 6 10 7-5 5 14-12-9-13-6-26-8zM2418 299l6 7 7-8 6 11 7-11 5 17 8-13 5 20 8-16 5 25 8-19-13-6-26-8-13 0zM2411 304l7-5 6 7 7-8 6 11 7-11 5 17 8-13 5 20-25-13-13-3z"/></g><g opacity=".8"><path class=aa d="M2643 961l8-14 5 19 8-14 5 18 8-14 5 17 8-14 6 17-27-6-13-4zM2631 954l5 14 7-7 6 13 7-8 6 12 7-8 7 11 6-8 7 11 7-8 6 11 7-9-13-2-27-6-13-4-13-5zM2624 961l7-7 5 14 7-7 6 13 7-8 6 12 7-8 7 11 6-8 7 11 7-8 6 11 7-9 6 13 7-13 6 16-13-3-13-4-40-9-13-4-13-6zM2624 961l6 9 6-2 6 8 7-2 7 7 6-3 7 6 7-3 6 6 7-3 6 9 7-6 6 11 7-7 6 12 7-9 6 11 7-10-13-1-13-3-13-4-40-9-13-4-13-6zM2630 970l6-2 6 8 7-2 7 7 6-3 7 6 7-3 6 6 7-3 6 9 7-6 6 11 7-7 6 12 7-9 6 11-13-2-26-10-13-6-26-6-14-5zM2695 993l6 9 7-4 6 10 7-5 6 9 7-7-13-2zM2701 1002l7-4 6 10 7-5 6 9 7-7 7 8-14-1-13-4z"/><path class=ab d="M2638 941l5 20 8-14 5 19 8-14 5 18 8-14 5 17 8-14 6 17 7-15-13-2-13-3-13-4-13-5zM2631 954l7-13 5 20zM2696 976l7-15 6 17zM2618 946l6 15 7-7zM2709 978l6 13 7-13 6 16 7-15-13-1zM2611 952l7-6 6 15zM2728 994l7-15 6 16zM2611 952l6 10 7-1zM2741 995l7 10 7-12zM2617 962l7-1 6 9zM2734 1005l7-10 7 10zM2630 970l6 6 6 0 7 5 7 0 6 4 7-1 6 5 7-2 6 8 7-2-13-6-26-6-14-5zM2734 1005l7 8 7-8zM2636 976l6 0 7 5 7 0 6 4 7-1 6 5 7-2 6 8 7-2 6 9-13-7-13-6-26-8zM2688 995l6 7 7 0 6 7 7-1 7 6 6-2 7 5 7-4-14-1-13-4-13-6zM2694 1002l7 0 6 7 7-1 7 6 6-2 7 5-13-3-14-5z"/><path class=ac d="M2625 933l6 21 7-13zM2703 961l6 17 7-17zM2618 946l7-13 6 21zM2709 978l7-17 6 17zM2605 936l6 16 7-6zM2735 979l6 16 7-17zM2741 995l7-17 7 15zM2604 953l7-1 6 10zM2617 962l6 7 7 1zM2623 969l7 1 6 6zM2662 985l6 4 7 0 6 6 7 0-13-6zM2681 995l7 0 6 7zM2707 1009l7 3 7 2 6 1 7 2-13-3z"/><path class=ad d="M2638 941l7-23 6 29 7-23 6 28 7-24 6 28 7-25 6 28 7-24 6 26-13-2-13-3-13-4-13-5zM2612 924l6 22 7-13zM2716 961l6 17 7-20zM2605 936l7-12 6 22zM2722 978l7-20 6 21zM2598 942l7-6 6 16zM2598 942l6 11 7-1zM2604 953l6 8 7 1zM2610 961l7 1 6 7zM2623 969l6 4 7 3 6 3 7 2 6 3 7 1-13-4-13-5zM2642 979l7 2 6 3 7 1 6 4 7 0 6 6-13-6zM2681 995l6 4 7 3 7 4 6 3zM2701 1006l6 3 7 3 7 2 6 1-13-3z"/><path class=ae d="M2645 918l6 29 7-23 6 28 7-24 6 28 7-25 6 28 7-24-13-4-13-3-13-4zM2625 933l7-21 6 29zM2703 961l7-24 6 24zM2599 915l6 21 7-12zM2729 958l6 21 8-23zM2735 979l8-23 5 22zM2592 925l6 17 7-6zM2748 978l7 15 7-17zM2585 930l6 13 7-1zM2591 943l7-1 6 11zM2591 943l6 9 7 1zM2597 952l7 1 6 8zM2610 961l6 5 7 3zM2616 966l7 3 6 4 7 3 6 3-13-6zM2668 989l6 3 7 3zM2674 992l7 3 6 4 7 3 7 4z"/><path class=af d="M2632 912l6 29 7-23zM2697 935l6 26 7-24zM2612 924l7-20 6 29zM2716 961l7-26 6 23zM2592 925l7-10 6 21zM2748 978l8-24 6 22zM2585 930l7-5 6 17zM2597 952l6 6 7 3zM2603 958l7 3 6 5zM2629 973l6 1 7 5 6 1 7 4 6 2 7 3-26-10zM2661 986l7 3 6 3zM2701 1006l6 0 7 6 6-3 7 6-13-3z"/><path class=ag d="M2619 904l6 29 7-21zM2710 937l6 24 7-26zM2599 915l7-19 6 28zM2586 904l6 21 7-10zM2743 956l5 22 8-24zM2579 914l7-10 6 21zM2579 914l6 16 7-5zM2572 918l6 14 7-2zM2578 932l7-2 6 13zM2578 932l6 10 7 1zM2584 942l7 1 6 9zM2616 966l6 1 7 6zM2635 974l7 5 6 1 7 4 6 2zM2674 992l7 1 6 6 7 1 7 6zM2694 1000l7 6 6 0 7 6 6-3-13-3z"/><path class=ah d="M2606 896l6 28 7-20zM2729 958l8-28 6 26zM2756 954l6 22 7-25zM2572 918l7-4 6 16zM2571 930l7 2 6 10zM2584 942l6 6 7 4zM2590 948l7 4 6 6zM2603 958l6 2 7 6zM2609 960l7 6 6 1 7 6 6 1zM2648 980l6 0 7 6 7 0 6 6zM2681 993l6 6 7 1z"/><path class=ai d="M2645 918l8-34 5 40 7-35 6 39 7-35 6 38 8-35 5 39-13-4-13-3-13-4zM2594 886l5 29 7-19zM2723 935l6 23 8-28zM2586 904l8-18 5 29zM2574 894l5 20 7-10zM2566 902l8-8 5 20zM2566 902l6 16 7-4zM2559 907l7-5 6 16zM2559 907l6 13 7-2zM2565 920l7-2 6 14zM2565 920l6 10 7 2zM2571 930l6 8 7 4zM2577 938l7 4 6 6zM2590 948l6 3 7 7zM2596 951l7 7 6 2zM2635 974l6 0 7 6zM2654 980l7 6 7 0 6 6 7 1-13-7zM2694 1000l6-3 7 9 7-4 6 7-13-3z"/><path class=aj d="M2632 912l8-34 5 40zM2697 935l8-36 5 38 8-36 5 34-13 2zM2743 956l7-32 6 30zM2561 887l5 15 8-8zM2554 894l5 13 7-5zM2558 918l7 2 6 10zM2609 960l6 0 7 7 6 0 7 7zM2628 967l7 7 6 0 7 6 6 0-13-6zM2681 993l6-2 7 9z"/><path class=ak d="M2665 889l6 39 7-35zM2619 904l8-31 5 39zM2581 876l5 28 8-18zM2737 930l6 26 7-32zM2574 894l7-18 5 28zM2548 878l6 16 7-7zM2554 894l7-7 5 15zM2541 886l6 12 7-4zM2547 898l7-4 5 13zM2547 898l5 10 7-1zM2552 908l7-1 6 13zM2552 908l6 10 7 2zM2558 918l6 8 7 4zM2564 926l7 4 6 8zM2577 938l6 4 7 6zM2583 942l7 6 6 3zM2596 951l6 1 7 8zM2615 960l7 7 6 0zM2668 986l6-3 7 10z"/><path class=al d="M2640 878l5 40 8-34 5 40 7-35zM2678 893l6 38 8-35 5 39 8-36 5 38 8-36-13-2zM2606 896l8-30 5 38zM2723 935l8-37 6 32zM2568 868l6 26 7-18zM2561 887l7-19 6 26zM2756 954l8-34 5 31zM2541 886l7-8 6 16zM2534 889l7-3 6 12zM2539 898l8 0 5 10zM2545 906l7 2 6 10zM2564 926l6 5 7 7zM2570 931l7 7 6 4zM2602 952l7 8 6 0zM2641 974l7-3 6 9 7-3 7 9z"/><path class=am d="M2614 866l5 38 8-31 5 39 8-34-13-5zM2594 886l7-32 5 42zM2750 924l6 30 8-34zM2548 878l7-19 6 28zM2535 864l6 22 7-8zM2528 875l6 14 7-3zM2534 889l5 9 8 0zM2539 898l6 8 7 2zM2551 914l7 4 6 8zM2583 942l6 1 7 8zM2589 943l7 8 6 1zM2615 960l6-2 7 9 6-3 7 10z"/><path class=an d="M2718 901l5 34 8-37zM2555 859l6 28 7-19zM2528 875l7-11 6 22zM2521 878l7-3 6 14zM2521 878l6 10 7 1zM2527 888l7 1 5 9zM2532 895l7 3 6 8zM2545 906l6 8 7 4zM2551 914l6 6 7 6zM2557 920l7 6 6 5zM2570 931l6 2 7 9zM2576 933l7 9 6 1zM2602 952l6-2 7 10z"/><path class=ao d="M2601 854l5 42 8-30zM2581 876l7-34 6 44zM2737 930l7-39 6 33zM2764 920l5 31 8-36zM2535 864l8-23 5 37zM2515 859l6 19 7-3zM2527 888l5 7 7 3zM2538 902l7 4 6 8zM2589 943l6-1 7 10z"/><path class=ap d="M2731 898l6 32 7-39zM2568 868l7-35 6 43zM2543 841l5 37 7-19zM2523 845l5 30 7-11zM2514 875l7 3 6 10zM2520 884l7 4 5 7zM2532 895l6 7 7 4zM2544 907l7 7 6 6zM2557 920l6 3 7 8zM2563 923l7 8 6 2zM2595 942l7 10 6-2z"/><path class=aq d="M2665 889l8-47 5 51 8-46 6 49 7-45 6 48-27-6zM2588 842l6 44 7-32zM2555 859l8-35 5 44zM2750 924l8-39 6 35zM2515 859l8-14 5 30zM2508 863l7-4 6 19zM2508 863l6 12 7 3zM2514 875l6 9 7 4zM2520 884l5 6 7 5zM2525 890l7 5 6 7zM2538 902l6 5 7 7zM2576 933l6 0 7 10zM2582 933l7 10 6-1z"/><path class=ar d="M2627 873l7-46 6 51 7-47 6 53 7-48 5 53-25-11zM2705 899l7-45 6 47zM2575 833l6 43 7-34zM2744 891l6 33 8-39zM2501 861l7 2 6 12zM2507 871l7 4 6 9zM2531 895l7 7 6 5zM2544 907l6 4 7 9zM2550 911l7 9 6 3zM2563 923l6 0 7 10z"/><path class=as d="M2614 866l7-45 6 52zM2718 901l8-46 5 43zM2563 824l5 44 7-35zM2764 920l7-40 6 35zM2503 840l5 23 7-4zM2501 861l6 10 7 4zM2512 878l8 6 5 6zM2525 890l6 5 7 7zM2569 923l7 10 6 0z"/><path class=at d="M2530 815l5 49 8-23zM2523 845l7-30 5 49zM2510 824l5 35 8-14zM2503 840l7-16 5 35zM2496 844l7-4 5 23zM2496 844l5 17 7 2zM2507 871l5 7 8 6zM2531 895l6 4 7 8zM2537 899l7 8 6 4zM2550 911l6 2 7 10zM2556 913l7 10 6 0z"/><path class=au d="M2647 831l6 53 7-48 5 53 8-47 5 51 8-46 6 49 7-45 6 48 7-45 6 47 8-46-14-1-13-3-13-4-13-5-13-6zM2601 854l8-47 5 59zM2731 898l8-46 5 39zM2758 885l6 35 7-40zM2543 841l7-40 5 58zM2494 856l7 5 6 10zM2500 865l7 6 5 7zM2512 878l6 5 7 7zM2518 883l7 7 6 5z"/><path class=av d="M2621 821l6 52 7-46 6 51 7-47-13-4zM2550 801l5 58 8-35zM2488 843l8 1 5 17zM2488 843l6 13 7 5zM2494 856l6 9 7 6zM2518 883l6 4 7 8zM2524 887l7 8 6 4zM2537 899l6 3 7 9zM2543 902l7 9 6 2z"/><path class=aw d="M2609 807l5 59 7-45zM2726 855l5 43 8-46zM2588 842l8-52 5 64zM2744 891l8-44 6 38zM2771 880l6 35 8-40zM2490 817l6 27 7-4zM2500 865l5 5 7 8zM2505 870l7 8 6 5z"/><path class=ax d="M2510 824l7-34 6 55zM2497 798l6 42 7-16zM2483 825l7-8 6 27zM2483 825l5 18 8 1zM2481 840l7 3 6 13zM2487 851l7 5 6 9zM2505 870l6 5 7 8zM2511 875l7 8 6 4zM2524 887l6 4 7 8zM2530 891l7 8 6 3z"/><path class=ay d="M2739 852l5 39 8-44zM2575 833l8-57 5 66zM2517 790l6 55 7-30zM2490 817l7-19 6 42zM2476 825l7 0 5 18zM2481 840l6 11 7 5zM2487 851l5 7 8 7zM2492 858l8 7 5 5z"/><path class=az d="M2596 790l5 64 8-47zM2758 885l8-43 5 38zM2476 825l5 15 7 3zM2498 862l7 8 6 5zM2511 875l6 4 7 8zM2517 879l7 8 6 4z"/><path class=aA d="M2752 847l6 38 8-43zM2563 824l8-61 4 70zM2530 815l8-53 5 79zM2477 793l6 32 7-8zM2470 807l6 18 7 0zM2474 836l7 4 6 11zM2480 845l7 6 5 7zM2492 858l6 4 7 8z"/><path class=aB d="M2673 842l8-55 5 60 8-53 5 57 8-51 5 54 9-50 5 51-14-1-13-3-13-4zM2771 880l8-43 6 38zM2538 762l5 79 7-40zM2468 822l8 3 5 15zM2468 822l6 14 7 4zM2474 836l6 9 7 6zM2498 862l6 5 7 8zM2504 867l7 8 6 4z"/><path class=aC d="M2660 836l8-57 5 63zM2726 855l8-49 5 46zM2583 776l5 66 8-52zM2470 807l7-14 6 32zM2463 810l7-3 6 18zM2463 810l5 12 8 3zM2480 845l5 5 7 8zM2485 850l7 8 6 4z"/><path class=aD d="M2634 827l9-63 4 67 8-59 5 64-13-5zM2766 842l5 38 8-43zM2505 763l5 61 7-34zM2497 798l8-35 5 61zM2485 766l5 51 7-19zM2457 793l6 17 7-3zM2461 821l7 1 6 14zM2467 832l7 4 6 9zM2485 850l6 4 7 8zM2491 854l7 8 6 5z"/><path class=aE d="M2621 821l9-66 4 72zM2739 852l8-48 5 43zM2571 763l4 70 8-57zM2550 801l8-67 5 90zM2477 793l8-27 5 51zM2450 799l7-6 6 17zM2450 799l6 10 7 1zM2456 809l7 1 5 12zM2456 809l5 12 7 1zM2461 821l6 11 7 4zM2467 832l5 6 8 7zM2472 838l8 7 5 5z"/><path class=aF d="M2681 787l5 60 8-53 5 57 8-51 5 54 9-50 5 51 8-49-13-2-14-4-13-6zM2779 837l6 38 8-41zM2465 774l5 33 7-14zM2457 793l8-19 5 33zM2443 800l7-1 6 10zM2448 808l8 1 5 12zM2454 818l7 3 6 11zM2472 838l6 4 7 8zM2478 842l7 8 6 4z"/><path class=aG d="M2668 779l5 63 8-55zM2734 806l5 46 8-48zM2609 807l8-67 4 81zM2752 847l8-46 6 41zM2517 790l8-59 5 84zM2445 778l5 21 7-6zM2437 787l8-9 5 21zM2437 787l6 13 7-1zM2443 800l5 8 8 1zM2448 808l6 10 7 3zM2454 818l5 7 8 7zM2459 825l8 7 5 6z"/><path class=aH d="M2655 772l5 64 8-57zM2558 734l5 90 8-61zM2430 789l7-2 6 13zM2435 798l8 2 5 8zM2465 830l7 8 6 4z"/><path class=aI d="M2630 755l4 72 9-63 4 67 8-59zM2747 804l5 43 8-46zM2766 842l8-44 5 39zM2525 731l5 84 8-53zM2452 756l5 37 8-19zM2445 778l7-22 5 37zM2430 789l5 9 8 2zM2435 798l6 7 7 3zM2441 805l7 3 6 10zM2446 812l8 6 5 7zM2459 825l6 5 7 8z"/><path class=aJ d="M2596 790l8-67 5 84zM2432 754l5 33 8-9zM2425 769l5 20 7-2zM2423 787l7 2 5 9zM2441 805l5 7 8 6zM2452 818l7 7 6 5z"/><path class=aK d="M2617 740l4 81 9-66zM2760 801l6 41 8-44zM2779 837l8-41 6 38zM2492 725l5 73 8-35zM2485 766l7-41 5 73zM2472 733l5 60 8-27zM2465 774l7-41 5 60zM2425 769l7-15 5 33zM2417 774l8-5 5 20zM2417 774l6 13 7 2zM2423 787l5 7 7 4zM2428 794l7 4 6 7zM2446 812l6 6 7 7z"/><path class=aL d="M2505 763l7-53 5 80zM2410 773l7 1 6 13zM2428 794l6 6 7 5zM2434 800l7 5 5 7z"/><path class=aM d="M2707 800l9-55 5 59 8-53 5 55-13-2zM2774 798l5 39 8-41zM2583 776l8-70 5 84zM2439 726l6 52 7-22zM2410 773l5 9 8 5zM2415 782l8 5 5 7zM2434 800l5 6 7 6zM2439 806l7 6 6 6z"/><path class=aN d="M2694 794l8-55 5 61zM2734 806l8-51 5 49zM2604 723l5 84 8-67zM2787 796l6 38 8-41zM2538 762l8-76 4 115zM2432 754l7-28 6 52zM2412 742l5 32 8-5zM2404 754l6 19 7 1zM2415 782l6 6 7 6zM2421 788l7 6 6 6z"/><path class=aO d="M2681 787l8-57 5 64zM2747 804l8-47 5 44zM2512 710l5 80 8-59zM2452 756l7-52 6 70zM2404 754l8-12 5 32zM2402 768l8 5 5 9zM2421 788l5 5 8 7zM2426 793l8 7 5 6z"/><path class=aP d="M2668 779l9-59 4 67zM2571 763l8-76 4 89zM2546 686l4 115 8-67zM2419 718l6 51 7-15zM2397 756l7-2 6 19zM2397 756l5 12 8 5zM2402 768l6 7 7 7zM2408 775l7 7 6 6z"/><path class=aQ d="M2716 745l5 59 8-53 5 55 8-51-13-4zM2655 772l9-64 4 71zM2760 801l8-45 6 42zM2591 706l5 84 8-67zM2459 704l6 70 7-41zM2412 742l7-24 6 51zM2408 775l5 7 8 6zM2413 782l8 6 5 5z"/><path class=aR d="M2702 739l5 61 9-55zM2742 755l5 49 8-47zM2774 798l8-42 5 40zM2392 729l5 27 7-2zM2390 751l7 5 5 12zM2395 761l7 7 6 7z"/><path class=aS d="M2689 730l5 64 8-55zM2755 757l5 44 8-45zM2643 764l8-71 4 79zM2472 733l8-56 5 89zM2390 751l5 10 7 7zM2400 769l8 6 5 7z"/><path class=aT d="M2677 720l4 67 8-57zM2768 756l6 42 8-42zM2787 796l8-40 6 37zM2492 725l8-50 5 88zM2480 677l5 89 7-41zM2399 708l5 46 8-12zM2384 736l8-7 5 27zM2384 736l6 15 7 5zM2395 761l5 8 8 6z"/><path class=aU d="M2664 708l4 71 9-59zM2782 756l5 40 8-40zM2630 755l8-78 5 87zM2579 687l4 89 8-70zM2558 734l8-76 5 105zM2500 675l5 88 7-53zM2439 726l8-57 5 87zM2427 680l5 74 7-28zM2392 729l7-21 5 46zM2382 745l8 6 5 10zM2387 755l8 6 5 8z"/><path class=aV d="M2795 756l6 37 8-35zM2525 731l8-79 5 110zM2419 718l8-38 5 74zM2377 733l7 3 6 15zM2382 745l5 10 8 6z"/><path class=aW d="M2651 693l4 79 9-64zM2617 740l8-75 5 90zM2447 669l5 87 7-52zM2379 701l5 35 8-7zM2108 648l8 1 4-6zM2377 733l5 12 8 6z"/><path class=aX d="M2406 673l6 69 7-24zM2116 649l4-6 8-1zM2371 714l6 19 7 3zM2375 740l7 5 5 10z"/><path class=aY d="M2716 745l8-53 5 59 8-52 5 56 8-49 5 51 8-47 5 46-13 1-13-2-13-4zM2604 723l8-69 5 86zM2566 658l5 105 8-76zM2533 652l5 110 8-76zM2399 708l7-35 6 69zM2135 640l5-5 7-3zM2128 642l7-2 5-5zM2371 714l8-13 5 35zM2108 648l4-7 8 2zM2100 646l8 2 4-7zM2369 727l8 6 5 12z"/><path class=aZ d="M2702 739l9-54 5 60zM2768 756l8-43 6 43zM2638 677l5 87 8-71zM2512 710l8-70 5 91zM2128 642l4-5 8-2zM2120 643l8-1 4-5zM2364 714l7 0 6 19zM2364 714l5 13 8 6zM2369 727l6 13 7 5z"/><path class=ba d="M2689 730l9-53 4 62zM2782 756l8-41 5 41 8-39 6 41-14-2zM2147 632l8-6 5-2zM2386 672l6 57 7-21zM2140 635l7-3 5-3zM2379 701l7-29 6 57zM2362 724l7 3 6 13z"/><path class=bb d="M2737 699l5 56 8-49 5 51 8-47-13-4zM2625 665l5 90 8-78zM2459 704l8-80 5 109zM2155 626l5-2 7-7zM2147 632l5-3 8-5zM2132 637l8-2 4-4zM2120 643l4-7 8 1zM2112 641l8 2 4-7zM2100 646l4-8 8 3zM2092 641l8 5 4-8zM2356 711l8 3 5 13z"/><path class=bc d="M2724 692l5 59 8-52zM2763 710l5 46 8-43 6 43 8-41-14-2zM2677 720l8-54 4 64zM2591 706l8-67 5 84zM2140 635l4-4 8-2zM2366 671l5 43 8-13zM2358 687l6 27 7 0zM2356 711l6 13 7 3z"/><path class=bd d="M2711 685l5 60 8-53zM2790 715l5 41 8-39 6 41 7-38-13-3zM2612 654l5 86 8-75zM2546 686l8-71 4 119zM2487 629l5 96 8-50zM2480 677l7-48 5 96zM2467 624l5 109 8-56zM2427 680l7-52 5 98zM2167 617l8-10 4 2zM2160 624l7-7 5 1zM2152 629l8-5 4-1zM2132 637l4-5 8-1zM2124 636l8 1 4-5zM2351 693l7-6 6 27zM2112 641l4-7 8 2zM2351 693l5 18 8 3zM2104 638l8 3 4-7zM2092 641l4-8 8 5zM2349 709l7 2 6 13z"/><path class=be d="M2698 677l4 62 9-54zM2664 708l8-57 5 69zM2520 640l5 91 8-79zM2434 628l5 98 8-57zM2414 633l5 85 8-38zM2167 617l5 1 7-9zM2160 624l4-1 8-5zM2152 629l4-3 8-3zM2144 631l8-2 4-3zM2358 687l8-16 5 43zM2084 635l8 6 4-8z"/><path class=bf d="M2685 666l4 64 9-53zM2579 687l8-65 4 84zM2554 615l4 119 8-76zM2500 675l7-56 5 91zM2175 607l4 2 8-11zM2406 673l8-40 5 85zM2172 618l7-9 5 3zM2164 623l8-5 4 0zM2144 631l5-4 7-1zM2136 632l8-1 5-4zM2124 636l4-6 8 2zM2116 634l8 2 4-6zM2343 694l8-1 5 18zM2104 638l4-7 8 3zM2343 694l6 15 7 2zM2096 633l8 5 4-7z"/><path class=bg d="M2599 639l5 84 8-69zM2179 609l8-11 5 5zM2179 609l5 3 8-9zM2393 632l6 76 7-35zM2386 672l7-40 6 76zM2172 618l4 0 8-6zM2164 623l5-1 7-4zM2156 626l8-3 5-1zM2336 694l7 0 6 15zM2084 635l4-7 8 5z"/><path class=bh d="M2672 651l5 69 8-54zM2651 693l8-61 5 76zM2507 619l5 91 8-70zM2373 643l6 58 7-29zM2176 618l8-6 5 2zM2366 671l7-28 6 58zM2156 626l5-3 8-1zM2345 663l6 30 7-6zM2149 627l7-1 5-3zM2136 632l5-6 8 1zM2338 673l5 21 8-1zM2128 630l8 2 5-6zM2116 634l4-6 8 2zM2108 631l8 3 4-6zM2075 629l9 6 4-7z"/><path class=bi d="M2750 706l8-47 5 51 8-44 5 47 8-41 6 43 8-39 5 41 8-36 5 39-13-3-27-4-13-3zM2187 598l7-14 5 7zM2187 598l5 5 7-12zM2184 612l8-9 4 5zM2184 612l5 2 7-6zM2176 618l5 0 8-4zM2353 645l5 42 8-16zM2169 622l7-4 5 0zM2338 673l7-10 6 30zM2330 678l8-5 5 21zM2330 678l6 16 7 0zM2096 633l4-6 8 4zM2088 628l8 5 4-6z"/><path class=bj d="M2737 699l8-48 5 55zM2587 622l4 84 8-67zM2447 669l7-80 5 115zM2194 584l5 7 8-14zM2192 603l7-12 5 7zM2192 603l4 5 8-10zM2189 614l7-6 5 2zM2345 663l8-18 5 42zM2169 622l4-2 8-2zM2161 623l8-1 4-2zM2149 627l4-4 8 0zM2141 626l8 1 4-4zM2128 630l5-5 8 1zM2120 628l8 2 5-5zM2323 679l7-1 6 16zM2108 631l4-7 8 4zM2100 627l8 4 4-7zM2075 629l5-6 8 5z"/><path class=bk d="M2711 685l8-47 5 54 8-48 5 55zM2659 632l5 76 8-57zM2638 677l8-65 5 81zM2566 658l8-60 5 89zM2199 591l8-14 4 9zM2199 591l5 7 7-12zM2196 608l8-10 5 6zM2196 608l5 2 8-6zM2189 614l4 0 8-4zM2181 618l8-4 4 0zM2161 623l4-3 8 0zM2325 655l5 23 8-5zM2153 623l8 0 4-3zM2141 626l4-4 8 1zM2133 625l8 1 4-4zM2088 628l4-6 8 5zM2067 622l8 7 5-6z"/><path class=bl d="M2758 659l5 51 8-44 5 47 8-41 6 43 8-39 5 41 8-36 5 39 8-34-26-10-14-4-13-6zM2698 677l7-46 6 54zM2204 598l7-12 5 8zM2204 598l5 6 7-10zM2201 610l8-6 5 3zM2181 618l5-1 7-3zM2333 643l5 30 7-10zM2173 620l8-2 5-1zM2318 662l5 17 7-1zM2120 628l5-6 8 3zM2112 624l8 4 5-6zM2080 623l8 5 4-6z"/><path class=bm d="M2745 651l5 55 8-47zM2625 665l8-63 5 75zM2533 652l8-66 5 100zM2454 589l5 115 8-80zM2207 577l4 9 8-16zM2211 586l5 8 8-13zM2216 594l5 6 8-9zM2209 604l7-10 5 6zM2209 604l5 3 7-7zM2360 621l6 50 7-28zM2353 645l7-24 6 50zM2201 610l5 2 8-5zM2193 614l8-4 5 2zM2186 617l7-3 5 1zM2325 655l8-12 5 30zM2173 620l5-2 8-1zM2165 620l8 0 5-2zM2318 662l7-7 5 23zM2153 623l5-3 7 0zM2145 622l8 1 5-3zM2310 666l8-4 5 17zM2133 625l4-5 8 2zM2100 627l4-7 8 4zM2092 622l8 5 4-7zM2067 622l4-6 9 7z"/><path class=bn d="M2719 638l5 54 8-48 5 55 8-48-13-7zM2685 666l7-45 6 56zM2574 598l5 89 8-65zM2487 629l8-42 5 88zM2207 577l7-18 5 11zM2421 593l6 87 7-52zM2211 586l8-16 5 11zM2414 633l7-40 6 87zM2216 594l8-13 5 10zM2221 600l8-9 5 6zM2373 643l8-34 5 63zM2214 607l7-7 5 4zM2340 626l5 37 8-18zM2206 612l8-5 4 2zM2193 614l5 1 8-3zM2186 617l4 0 8-2zM2312 641l6 21 7-7zM2178 618l8-1 4 0zM2165 620l5-2 8 0zM2305 649l5 17 8-4zM2125 622l8 3 4-5zM2112 624l5-6 8 4zM2080 623l4-6 8 5zM2059 614l8 8 4-6z"/><path class=bo d="M2705 631l6 54 8-47zM2646 612l5 81 8-61zM2612 654l8-61 5 72zM2541 586l5 100 8-71zM2495 587l5 88 7-56zM2475 582l5 95 7-48zM2219 570l5 11 7-17zM2224 581l5 10 7-14zM2401 595l5 78 8-40zM2393 632l8-37 5 78zM2229 591l5 6 7-10zM2381 609l5 63 7-40zM2221 600l5 4 8-7zM2214 607l4 2 8-5zM2333 643l7-17 5 37zM2206 612l5 1 7-4zM2320 629l5 26 8-12zM2198 615l8-3 5 1zM2305 649l7-8 6 21zM2158 620l7 0 5-2zM2297 655l8-6 5 17zM2145 622l5-4 8 2zM2137 620l8 2 5-4zM2104 620l8 4 5-6zM2092 622l4-6 8 4zM2071 616l9 7 4-6z"/><path class=bp d="M2811 681l8-32 5 37zM2692 621l6 56 7-46zM2672 651l8-43 5 58zM2520 640l8-62 5 74zM2467 624l8-42 5 95zM2214 559l5 11 7-19zM2434 628l7-56 6 97zM2224 581l7-17 5 13zM2229 591l7-14 5 10zM2234 597l7-10 5 7zM2234 597l4 4 8-7zM2226 604l8-7 4 4zM2226 604l5 2 7-5zM2218 609l8-5 5 2zM2211 613l7-4 5 2zM2312 641l8-12 5 26zM2198 615l5 1 8-3zM2190 617l8-2 5 1zM2178 618l5 0 7-1zM2292 639l5 16 8-6zM2170 618l8 0 5 0zM2125 622l4-5 8 3zM2117 618l8 4 4-5zM2084 617l8 5 4-6z"/><path class=bq d="M2771 666l8-38 5 44 8-37 6 41 7-34 6 39-13-5-14-4zM2599 639l8-57 5 72zM2219 570l7-19 5 13zM2236 577l5 10 8-15zM2241 587l8-15 5 12zM2241 587l5 7 8-10zM2238 601l8-7 5 4zM2231 606l7-5 5 3zM2218 609l5 2 8-5zM2211 613l4 3 8-5zM2299 630l6 19 7-8zM2203 616l8-3 4 3zM2292 639l7-9 6 19zM2190 617l5 1 8-2zM2183 618l7-1 5 1zM2284 645l8-6 5 16zM2104 620l5-5 8 3zM2096 616l8 4 5-5zM2059 614l4-6 8 8 4-6 9 7-13-1z"/><path class=br d="M2819 649l5 37 8-30zM2758 659l8-39 5 46zM2680 608l5 58 7-45zM2633 602l5 75 8-65zM2231 564l5 13 8-19zM2236 577l8-19 5 14zM2246 594l8-10 5 6zM2360 621l8-27 5 49zM2246 594l5 4 8-8zM2348 606l5 39 7-24zM2340 626l8-20 5 39zM2238 601l5 3 8-6zM2327 614l6 29 7-17zM2320 629l7-15 6 29zM2231 606l5 4 7-6zM2307 619l5 22 8-12zM2223 611l8-5 5 4zM2299 630l8-11 5 22zM2223 611l5 5 8-6zM2287 623l5 16 7-9zM2215 616l8-5 5 5zM2279 631l8-8 5 16zM2203 616l5 3 7-3 5 5 8-5zM2279 631l5 14 8-6zM2195 618l8-2 5 3 7-3 5 5-12-2zM2271 638l8-7 5 14zM2084 617l4-6 8 5zM2050 603l9 11 4-6 8 8 4-6-12-2z"/><path class=bs d="M2792 635l6 41 7-34 6 39 8-32zM2745 651l8-39 5 47zM2659 632l8-42 5 61zM2620 593l5 72 8-63zM2554 615l7-45 5 88zM2507 619l8-52 5 73zM2226 551l5 13 8-21zM2231 564l8-21 5 15zM2249 572l5 12 7-16zM2254 584l7-16 5 12zM2254 584l5 6 7-10zM2368 594l5 49 8-34zM2251 598l8-8 5 6zM2251 598l5 5 8-7zM2243 604l8-6 5 5zM2307 619l7-14 6 24zM2243 604l5 7 8-8zM2294 612l5 18 8-11zM2236 610l7-6 5 7 8-8 5 10-13-2zM2287 623l7-11 5 18zM2236 610l5 8 7-7 5 10 8-8 5 13 8-9 5 14 8-8-13-6-13-4-13-2zM2228 616l8-6 5 8 7-7 5 10 8-8 5 13 8-9 5 14-26-10-12-3zM2228 616l5 8 8-6 5 10 7-7 6 11 7-6 5 12 8-7-26-10-12-3zM2220 621l8-5 5 8 8-6 5 10 7-7 6 11 7-6 5 12-12-6-26-8zM2075 610l9 7 4-6z"/><path class=bt d="M2779 628l5 44 8-37zM2732 644l8-39 5 46zM2587 622l7-54 5 71zM2561 570l5 88 8-60zM2528 578l5 74 8-66zM2226 551l8-23 5 15zM2441 572l6 97 7-80zM2244 558l5 14 7-20zM2249 572l7-20 5 16zM2259 590l7-10 5 7zM2259 590l5 6 7-9zM2264 596l7-9 5 9zM2327 614l8-18 5 30zM2264 596l5 9 7-9zM2314 605l6 24 7-15zM2256 603l8-7 5 9 7-9 5 12 8-11 5 15 8-12 5 19-13-7-25-7zM2256 603l5 10 8-8 5 12 7-9 6 15 7-11-25-7zM2261 613l8-8 5 12 7-9 6 15-13-6z"/><path class=bu d="M2766 620l5 46 8-38zM2705 631l8-37 6 44 7-38 6 44zM2667 590l5 61 8-43zM2607 582l5 72 8-61zM2261 568l5 12 8-16zM2266 580l8-16 5 11zM2381 609l7-32 5 55zM2266 580l5 7 8-12zM2271 587l8-12 5 10zM2348 606l7-22 5 37zM2271 587l5 9 8-11zM2335 596l5 30 8-20zM2276 596l8-11 5 12zM2314 605l8-15 5 24zM2276 596l5 12 8-11 5 15 8-12 5 19 7-14-12-5-13-3zM2050 603l4-6 9 11 4-6 8 8-12-2z"/><path class=bv d="M2819 649l7-28 6 35zM2753 612l5 47 8-39zM2515 567l5 73 8-62zM2239 543l5 15 7-24zM2244 558l7-24 5 18zM2256 552l5 16 7-21zM2408 566l6 67 7-40zM2261 568l7-21 6 17zM2401 595l7-29 6 67zM2388 577l5 55 8-37zM2279 575l5 10 7-13zM2355 584l5 37 8-27zM2284 585l5 12 7-12 6 15 7-13-13-2zM2322 590l5 24 8-18zM2289 597l7-12 6 15 7-13 5 18-12-5zM2054 597l9 11 4-6z"/><path class=bw d="M2826 621l6 35 7-27zM2805 642l8-29 6 36zM2726 600l6 44 8-39 5 46 8-39-13-7zM2692 621l8-35 5 45zM2646 612l8-41 5 61zM2594 568l5 71 8-57zM2482 555l5 74 8-42zM2234 528l5 15 7-26zM2421 593l8-39 5 74zM2274 564l5 11 7-16zM2279 575l7-16 5 13zM2284 585l7-13 5 13zM2335 596l7-18 6 28zM2309 587l5 18 8-15zM2042 590l8 13 4-6z"/><path class=bx d="M2813 613l6 36 7-28zM2792 635l8-31 5 38zM2713 594l6 44 7-38zM2680 608l7-33 5 46zM2574 598l8-45 5 69zM2495 587l7-38 5 70zM2475 582l7-27 5 74zM2239 543l7-26 5 17zM2251 534l5 18 7-26zM2256 552l7-26 5 21zM2268 547l6 17 7-22zM2274 564l7-22 5 17zM2368 594l7-26 6 41zM2291 572l5 13 8-14 5 16 8-16-13 0zM2342 578l6 28 7-22zM2296 585l8-14 5 16 8-16 5 19 7-16 6 22-13-6-13-3z"/><path class=by d="M2800 604l5 38 8-29zM2779 628l8-32 5 39zM2700 586l5 45 8-37zM2654 571l5 61 8-42zM2502 549l5 70 8-52zM2462 550l5 74 8-42zM2454 589l8-39 5 74zM2429 554l5 74 7-56zM2286 559l5 13 8-16zM2375 568l6 41 7-32zM2291 572l8-16 5 15zM2317 571l5 19 7-16 6 22 7-18zM2042 590l4-4 8 11z"/><path class=bz d="M2787 596l5 39 8-31zM2766 620l7-32 6 40zM2687 575l5 46 8-35zM2633 602l8-45 5 55zM2582 553l5 69 7-54zM2541 586l7-37 6 66zM2246 517l5 17 7-28zM2268 547l8-27 5 22zM2281 542l5 17 8-21zM2286 559l8-21 5 18zM2299 556l5 15 7-17zM2304 571l7-17 6 17zM2355 584l7-21 6 31z"/><path class=bA d="M2826 621l8-23 5 31zM2773 588l6 40 8-32zM2753 612l7-31 6 39zM2667 590l7-29 6 47zM2548 549l6 66 7-45zM2251 534l7-28 5 20zM2263 526l5 21 8-27zM2388 577l7-25 6 43zM2311 554l6 17 7-17zM2362 563l6 31 7-26zM2317 571l7-17 5 20 8-18 5 22 8-19 5 25-13-6zM2033 577l9 13 4-4z"/><path class=bB d="M2834 598l5 31 8-21zM2813 613l7-24 6 32zM2760 581l6 39 7-32zM2726 600l8-31 6 36 7-31 6 38-13-7zM2674 561l6 47 7-33zM2641 557l5 55 8-41zM2620 593l8-47 5 56zM2281 542l7-26 6 22zM2294 538l5 18 7-20zM2395 552l6 43 7-29zM2299 556l7-20 5 18zM2324 554l5 20 8-18 5 22 8-19 5 25 7-21-12-4-13-3z"/><path class=bC d="M2820 589l6 32 8-23zM2800 604l7-24 6 33zM2747 574l6 38 7-31zM2700 586l8-29 5 37 8-31 5 37-13-6zM2607 582l8-47 5 58zM2561 570l8-33 5 61zM2528 578l7-42 6 50zM2441 572l8-38 5 55zM2276 520l5 22 7-26zM2408 566l8-27 5 54zM2306 536l5 18 8-20zM2311 554l8-20 5 20 8-19 5 21-13-2zM2375 568l8-22 5 31z"/><path class=bD d="M2834 598l7-17 6 27zM2807 580l6 33 7-24zM2787 596l7-25 6 33zM2734 569l6 36 7-31zM2569 537l5 61 8-45zM2515 567l8-41 5 52zM2489 530l6 57 7-38zM2482 555l7-25 6 57zM2258 506l5 20 8-29zM2263 526l8-29 5 23zM2416 539l5 54 8-39zM2294 538l7-25 5 23zM2319 534l5 20 8-19zM2383 546l5 31 7-25zM2337 556l7-19 6 22 7-19 5 23 8-20 5 25-25-9z"/><path class=bE d="M2841 581l6 27 7-17zM2773 588l8-24 6 32zM2708 557l5 37 8-31 5 37 8-31zM2687 575l8-25 5 36zM2654 571l7-27 6 46zM2628 546l5 56 8-45zM2594 568l8-44 5 58zM2535 536l6 50 7-37zM2469 530l6 52 7-27zM2462 550l7-20 6 52zM2449 534l5 55 8-39zM2288 516l6 22 7-25zM2306 536l8-25 5 23zM2332 535l5 21 7-19 6 22 7-19 5 23 8-20 5 25 8-22-39-9z"/><path class=bF d="M2794 571l6 33 7-24zM2760 581l8-24 5 31zM2695 550l5 36 8-29zM2661 544l6 46 7-29zM2615 535l5 58 8-47zM2258 506l7-29 6 20zM2271 497l5 23 7-30zM2276 520l7-30 5 26zM2429 554l7-31 5 49zM2301 513l5 23 8-25zM2319 534l7-23 6 24zM2395 552l8-23 5 37z"/><path class=bG d="M2781 564l6 32 7-25zM2747 574l8-24 5 31zM2682 540l5 35 8-25zM2674 561l8-21 5 35zM2548 549l8-29 5 50zM2523 526l5 52 7-42zM2502 549l8-35 5 53zM2314 511l5 23 7-23zM2403 529l5 37 8-27zM2332 535l7-22 5 24 8-21 5 24 7-19 6 22 7-19 6 22 7-20 5 26-12-6-39-9z"/><path class=bH d="M2755 550l5 31 8-24 5 31 8-24zM2721 563l7-25 6 31 7-25 6 30-13-5zM2641 557l8-32 5 46zM2602 524l5 58 8-47zM2582 553l7-40 5 55zM2556 520l5 50 8-33zM2283 490l5 26 8-30zM2436 523l5 49 8-38zM2288 516l8-30 5 27zM2326 511l6 24 7-22 5 24 8-21 5 24 7-19 6 22 7-19-13-3-12-5-13-3zM2390 526l5 26 8-23z"/><path class=bI d="M2741 544l6 30 8-24zM2708 557l7-25 6 31zM2649 525l5 46 7-27zM2510 514l5 53 8-41zM2477 512l5 43 7-25zM2469 530l8-18 5 43zM2301 513l7-28 6 26zM2416 539l7-26 6 41zM2377 524l6 22 7-20z"/><path class=bJ d="M2715 532l6 31 7-25 6 31 7-25zM2695 550l7-24 6 31zM2669 522l5 39 8-21zM2661 544l8-22 5 39zM2589 513l5 55 8-44zM2569 537l7-34 6 50zM2535 536l8-31 5 44zM2489 530l8-29 5 48zM2265 477l6 20 7-30zM2456 512l6 38 7-20zM2271 497l7-30 5 23zM2449 534l7-22 6 38zM2296 486l5 27 7-28zM2423 513l6 41 7-31zM2314 511l7-28 5 28z"/><path class=bK d="M2702 526l6 31 7-25zM2682 540l7-23 6 33zM2628 546l8-37 5 48zM2497 501l5 48 8-35zM2308 485l6 26 7-28zM2326 511l8-28 5 30 7-27 6 30 7-24 5 29 8-22 5 25 8-20 5 22 7-21 6 24 7-22 6 32-13-10-13-3-13-2-13-3-12-5-13-3z"/><path class=bL d="M2689 517l6 33 7-24zM2636 509l5 48 8-32zM2576 503l6 50 7-40zM2543 505l5 44 8-29zM2523 526l7-34 5 44zM2283 490l7-31 6 27zM2436 523l7-23 6 34zM2321 483l5 28 8-28zM2359 492l5 29 8-22 5 25 8-20 5 22 7-21 6 24 7-22 6 32 7-26-13-6-13-2-12-1-13-5z"/><path class=bM d="M2615 535l8-39 5 50zM2556 520l7-30 6 47zM2477 512l7-24 5 42zM2464 494l5 36 8-18zM2278 467l5 23 7-31zM2443 500l6 34 7-22zM2334 483l5 30 7-27 6 30 7-24-13-6z"/><path class=bN d="M2676 499l6 41 7-23zM2669 522l7-23 6 41zM2656 499l5 45 8-22zM2649 525l7-26 5 45zM2530 492l5 44 8-31zM2510 514l7-34 6 46zM2484 488l5 42 8-29zM2456 512l8-18 5 36zM2296 486l7-32 5 31zM2423 513l8-22 5 32z"/><path class=bO d="M2623 496l5 50 8-37zM2602 524l8-38 5 49zM2563 490l6 47 7-34zM2290 459l6 27 7-32zM2431 491l5 32 7-23zM2308 485l8-34 5 32zM2372 499l7-28 6 33 7-26 5 27 8-24 5 26 8-22 5 28-13-6-13-2-12-1z"/><path class=bP d="M2589 513l8-37 5 48zM2543 505l7-30 6 45zM2517 480l6 46 7-34zM2497 501l7-32 6 45zM2443 500l8-20 5 32zM2303 454l5 31 8-34zM2379 471l6 33 7-26 5 27 8-24 5 26 8-22 5 28 8-22-13-6-13-4-13-3zM2321 483l7-33 6 33zM2346 486l8-30 5 36 7-29 6 36-13-7z"/><path class=bQ d="M2636 509l7-30 6 46zM2610 486l5 49 8-39zM2550 475l6 45 7-30zM2471 472l6 40 7-24zM2464 494l7-22 6 40zM2451 480l5 32 8-18zM2366 463l6 36 7-28zM2334 483l7-32 5 35z"/><path class=bR d="M2663 474l6 48 7-23zM2656 499l7-25 6 48zM2643 479l6 46 7-26zM2597 476l5 48 8-38zM2576 503l8-36 5 46zM2504 469l6 45 7-34zM2290 459l8-30 5 25zM2431 491l7-22 5 31zM2316 451l5 32 7-33zM2354 456l5 36 7-29z"/><path class=bS d="M2530 492l8-32 5 45zM2484 488l7-30 6 43zM2438 469l5 31 8-20zM2405 481l7-26 6 30 7-23 6 29-13-6zM2328 450l6 33 7-32 5 35 8-30-13-5z"/><path class=bT d="M2623 496l7-32 6 45zM2584 467l5 46 8-37zM2563 490l8-34 5 47zM2538 460l5 45 7-30zM2491 458l6 43 7-32zM2458 458l6 36 7-22zM2451 480l7-22 6 36zM2425 462l6 29 7-22zM2303 454l7-32 6 29zM2379 471l8-31 5 38 7-29 6 32-13-3z"/><path class=bU d="M2630 464l6 45 7-30zM2517 480l8-32 5 44zM2471 472l8-27 5 43zM2298 429l5 25 7-32zM2399 449l6 32 7-26 6 30 7-23-13-7zM2366 463l8-32 5 40z"/><path class=bV d="M2610 486l7-33 6 43zM2571 456l5 47 8-36zM2550 475l8-32 5 47zM2479 445l5 43 7-30zM2438 469l7-23 6 34zM2387 440l5 38 7-29zM2316 451l7-34 5 33z"/><path class=bW d="M2651 452l5 47 7-25zM2643 479l8-27 5 47zM2525 448l5 44 8-32zM2504 469l8-33 5 44zM2445 446l6 34 7-22zM2425 462l8-25 5 32zM2310 422l6 29 7-34zM2374 431l5 40 8-31zM2328 450l8-35 5 36 7-33 6 38 7-33 5 40-12-7-13-5z"/><path class=bX d="M2617 453l6 43 7-32zM2597 476l7-32 6 42zM2558 443l5 47 8-34zM2458 458l8-26 5 40zM2433 437l5 32 7-23zM2412 455l8-27 5 34zM2361 423l5 40 8-32z"/><path class=bY d="M2604 444l6 42 7-33zM2584 467l7-33 6 42zM2538 460l7-31 5 46zM2512 436l5 44 8-32zM2491 458l8-33 5 44zM2466 432l5 40 8-27zM2399 449l8-31 5 37zM2323 417l5 33 8-35 5 36 7-33 6 38 7-33-13-5-12-3z"/><path class=bZ d="M2630 464l8-27 5 42zM2545 429l5 46 8-32zM2445 446l8-26 5 38zM2420 428l5 34 8-25zM2387 440l7-32 5 41z"/><path class=ca d="M2591 434l6 42 7-32zM2571 456l7-31 6 42zM2499 425l5 44 8-33zM2479 445l7-30 5 43zM2453 420l5 38 8-26zM2407 418l5 37 8-27z"/><path class=cb d="M2617 453l8-27 5 38zM2578 425l6 42 7-33zM2525 448l7-32 6 44zM2486 415l5 43 8-33zM2433 437l7-28 5 37zM2394 408l5 41 8-31zM2374 431l7-32 6 41z"/><path class=cc d="M2558 443l7-29 6 42zM2532 416l6 44 7-31zM2466 432l7-29 6 42zM2440 409l5 37 8-26zM2420 428l7-29 6 38zM2323 417l7-32 6 30zM2361 423l7-32 6 40z"/><path class=cd d="M2604 444l8-27 5 36zM2565 414l6 42 7-31zM2512 436l7-32 6 44zM2473 403l6 42 7-30zM2381 399l6 41 7-32zM2336 415l7-32 5 35 8-33 5 38-13-5z"/><path class=ce d="M2591 434l8-27 5 37zM2545 429l8-29 5 43zM2519 404l6 44 7-32zM2427 399l6 38 7-28zM2407 418l7-30 6 40zM2330 385l6 30 7-32zM2368 391l6 40 7-32z"/><path class=cf d="M2553 400l5 43 7-29zM2499 425l7-32 6 43zM2453 420l7-30 6 42zM2414 388l6 40 7-29zM2343 383l5 35 8-33 5 38 7-32-12-6z"/><path class=cg d="M2578 425l8-27 5 36zM2506 393l6 43 7-32zM2486 415l7-33 6 43zM2460 390l6 42 7-29zM2440 409l7-30 6 41zM2394 408l7-31 6 41z"/><path class=ch d="M2532 416l8-30 5 43zM2401 377l6 41 7-30zM2381 399l8-31 5 40z"/><path class=ci d="M2540 386l5 43 8-29zM2493 382l6 43 7-32zM2473 403l8-32 5 44zM2447 379l6 41 7-30zM2427 399l8-31 5 41zM2368 391l8-30 5 38z"/><path class=cj d="M2519 404l8-30 5 42zM2389 368l5 40 7-31zM2356 385l7-28 5 34z"/><path class=ck d="M2527 374l5 42 8-30zM2481 371l5 44 7-33zM2460 390l8-31 5 44zM2435 368l5 41 7-30zM2414 388l8-30 5 41zM2376 361l5 38 8-31z"/><path class=cl d="M2506 393l8-30 5 41zM2422 358l5 41 8-31zM2363 357l5 34 8-30z"/><path class=cm d="M2514 363l5 41 8-30zM2468 359l5 44 8-32zM2447 379l8-31 5 42zM2401 377l8-29 5 40z"/><path class=cn d="M2493 382l8-29 5 40zM2409 348l5 40 8-30zM2389 368l7-27 5 36z"/><path class=co d="M2501 353l5 40 8-30zM2481 371l7-30 5 41zM2455 348l5 42 8-31zM2435 368l7-29 5 40zM2396 341l5 36 8-29z"/><path class=cq d="M2488 341l5 41 8-29zM2468 359l7-28 6 40zM2442 339l5 40 8-31zM2422 358l7-28 6 38z"/><path class=cr d="M2429 330l6 38 7-29z"/><path class=cs d="M2475 331l6 40 7-30z"/></g><g opacity=".8"><path class=ag d="M2006 1031l7-56 6 65 7-56 6 55-13 1z"/><path class=ah d="M1994 1021l6-57 6 67zM2032 1039l6-55 6 52z"/><path class=ai d="M2044 1036l7-51 6 52z"/><path class=aj d="M1981 1017l6-64 7 68zM2057 1037l7-48 6 49 7-45 5 45-12 0z"/><path class=ak d="M2687 991l7 9 6-3 7 9 7-4-14-5zM2013 975l6 65 7-56 6 55 6-55-12 0zM1968 1006l6-67 7 78zM2082 1038l7-42 6 40z"/><path class=al d="M2674 983l7 10 6-2zM2000 964l6 67 7-56zM2038 984l6 52 7-51z"/><path class=am d="M2648 971l6 9 7-3 7 9 6-3zM2700 997l7-4 7 9zM2051 985l6 52 7-48 6 49 7-45 5 45 7-42-25-7zM1930 992l6-74 7 74 6-72 6 76 6-71 7 81-13-10-12-4zM2095 1036l7-40 5 32z"/><path class=an d="M2621 958l7 9 6-3 7 10 7-3zM2674 983l7-4 6 12 7-4 6 10-13-6zM1987 953l7 68 6-57zM2089 996l6 40 7-40zM1917 978l6-71 7 85z"/><path class=ao d="M2608 950l7 10 6-2zM2661 977l6-6 7 12zM2681 979l6 12 7-4 6 10 7-4-13-6zM1974 939l7 78 6-64z"/><path class=ap d="M2634 964l7-5 7 12 6-6 7 12zM2667 971l7 12 7-4zM2107 1028l8-37 5 24z"/><path class=aq d="M2621 958l7-5 6 11zM2654 965l7 12 6-6zM1961 925l7 81 6-67zM2102 996l5 32 8-37zM1904 958l6-65 7 85z"/><path class=ar d="M2608 950l6-4 7 12zM2628 953l6 11 7-5 7 12 6-6zM2694 987l7-11 6 17z"/><path class=as d="M2595 942l6-3 7 11zM2614 946l7 12 7-5zM2681 979l6-9 7 17zM2026 984l6-61 6 61zM1923 907l7 85 6-74 7 74 6-72 6 76 6-71-12-5-13-2z"/><path class=at d="M2582 933l6-2 7 11zM2601 939l7 11 6-4zM2654 965l7-9 6 15 7-8 7 16-14-8zM2687 970l7 17 7-11zM2013 975l6-61 7 70zM2038 984l7-57 6 58 7-51 6 55 7-47 6 51 7-45 5 48 7-44 6 44-13 0-25-7-13-4zM2115 991l5 24 7-33zM2120 1015l7-33 5 21z"/><path class=au d="M2569 923l6-1 7 11zM2588 931l7 11 6-3zM2628 953l6-7 7 13 6-8 7 14zM2674 963l7 16 6-9zM2102 996l7-41 6 36zM1910 893l7 85 6-71z"/><path class=av d="M2575 922l7 11 6-2zM2601 939l6-4 7 11 7-5 7 12zM2647 951l7 14 7-9 6 15 7-8-13-7zM2000 964l6-62 7 73z"/><path class=aw d="M2556 913l6 0 7 10zM2562 913l7 10 6-1zM2588 931l6-3 7 11zM2607 935l7 11 7-5 7 12 6-7 7 13 6-8-26-10zM2058 934l6 55 7-47 6 51 7-45 5 48 7-44 6 44 7-41-13-3-12-4-13-6zM2115 991l7-37 5 28zM2127 982l5 21 8-29z"/><path class=ax d="M2543 902l6 1 7 10zM2549 903l7 10 6 0zM2575 922l6-2 7 11zM2594 928l7 11 6-4zM2019 914l7 70 6-61 6 61 7-57 6 58 7-51-13-7-13-4zM2109 955l6 36 7-37zM1987 953l6-67 7 78zM2132 1003l8-29 5 17z"/><path class=ay d="M2581 920l7 11 6-3zM2674 963l7-13 6 20 7-16 7 22-14-6zM2006 902l7 73 6-61z"/><path class=az d="M2530 891l6 2 7 9zM2536 893l7 9 6 1zM2562 913l6-2 7 11zM2568 911l7 11 6-2zM2621 941l6-8 7 13 7-9 6 14 7-11 7 16 6-11 7 18-13-7zM1974 939l6-73 7 87zM2127 982l8-32 5 24z"/><path class=aA d="M2549 903l6 0 7 10zM2555 903l7 10 6-2zM2594 928l7-5 6 12 7-7 7 13-14-6zM2667 945l7 18 7-13 6 20 7-16zM2122 954l5 28 8-32zM2140 974l5 17 8-25zM2145 991l8-25 5 15z"/><path class=aB d="M2517 879l6 3 7 9zM2523 882l7 9 6 2zM2536 893l6 1 7 9zM2581 920l6-4 7 12zM2601 923l6 12 7-7 7 13 6-8 7 13 7-9 6 14 7-11 7 16 6-11-13-5-13-3-14-4zM2096 952l8-38 5 41zM1993 886l7 78 6-62z"/><path class=aC d="M2542 894l7 9 6 0zM2568 911l6-2 7 11zM2587 916l7 12 7-5zM2071 942l7-43 6 49 7-41 5 45-12-4zM2109 955l8-35 5 34zM2135 950l5 24 8-27zM1961 925l6-76 7 90zM2140 974l8-27 5 19z"/><path class=aD d="M2504 867l6 4 7 8zM2510 871l7 8 6 3zM2523 882l6 3 7 8zM2529 885l7 8 6 1zM2555 903l6-2 7 10zM2574 909l7 11 6-4zM2058 934l7-46 6 54zM2122 954l8-31 5 27zM1936 918l5-81 8 83 5-78 7 83-12-5zM2153 966l5 15 7-22z"/><path class=aE d="M2542 894l6-1 7 10zM2561 901l7 10 6-2zM2601 923l6-7 7 12 6-8 7 13 7-10 7 14 6-11 7 14 7-11 6 16 7-12 7 17 7-13 6 17-27-9-13-5-13-3-14-4zM2091 907l5 45 8-38 5 41 8-35 5 34 8-31-13-3-13-6zM2045 927l7-50 6 57zM1980 866l7 87 6-67zM2148 947l5 19 7-23zM1923 907l6-80 7 91zM2153 966l7-23 5 16z"/><path class=aF d="M2491 854l6 5 7 8zM2497 859l7 8 6 4zM2510 871l6 4 7 7zM2516 875l7 7 6 3zM2529 885l6 1 7 8zM2548 893l7 10 6-2zM2574 909l6-3 7 10 7-5 7 12zM2078 899l6 49 7-41zM2130 923l5 27 7-27zM2032 923l7-55 6 59zM2135 950l7-27 6 24z"/><path class=aG d="M2497 859l5 5 8 7zM2502 864l8 7 6 4zM2535 886l7 8 6-1zM2561 901l6-1 7 9zM2580 906l7 10 7-5 7 12 6-7 7 12 6-8 7 13 7-10 7 14 6-11 7 14 7-11 6 16 7-12 7 17 7-13-27-8-41-9-13-4zM2065 888l6 54 7-43zM2019 914l7-57 6 66zM2148 947l7-23 5 19zM2160 943l5 16 8-19z"/><path class=aH d="M2478 842l6 5 7 7zM2484 847l7 7 6 5zM2516 875l5 2 8 8zM2521 877l8 8 6 1zM2548 893l6 0 7 8zM2567 900l7 9 6-3zM2052 877l6 57 7-46zM2142 923l6 24 7-23zM1967 849l7 90 6-73zM1910 893l6-79 7 93zM2165 959l8-19 5 12z"/><path class=aI d="M2484 847l5 6 8 6zM2489 853l8 6 5 5zM2502 864l6 4 8 7zM2508 868l8 7 5 2zM2535 886l6 0 7 7zM2554 893l7 8 6-1zM2104 914l7-31 6 37 7-29 6 32 7-26 5 26-12 0-13-3zM2155 924l5 19 8-19zM2006 902l7-59 6 71zM2160 943l8-19 5 16z"/><path class=aJ d="M2465 830l6 5 7 7zM2471 835l7 7 6 5zM2521 877l6 2 8 7zM2527 879l8 7 6 0 7 7 6 0zM2580 906l7-5 7 10 6-7 7 12 6-9 7 13 7-10 7 13-14-3-13-4zM2091 907l7-33 6 40zM2142 923l8-22 5 23zM2039 868l6 59 7-50zM2168 924l5 16 8-17zM2173 940l8-17 5 12zM1954 842l7 83 6-76zM2173 940l5 12 8-17z"/><path class=aK d="M2471 835l5 6 8 6zM2476 841l8 6 5 6zM2489 853l6 5 7 6zM2495 858l7 6 6 4zM2508 868l6 3 7 6zM2514 871l7 6 6 2zM2554 893l6-2 7 9 6-4 7 10-13-6zM2634 923l6-11 7 14 7-11 7 14 6-11 7 15 7-10 7 14-27-8zM2111 883l6 37 7-29 6 32 7-26 5 26 8-22 5 23 8-20-13-3-13-4-13-6zM2155 924l8-20 5 20 8-17 5 16-13 1zM2026 857l6 66 7-55zM1929 827l7 91 5-81 8 83 5-78-13-5z"/><path class=aL d="M2452 818l6 5 7 7zM2458 823l7 7 6 5zM2476 841l6 7 7 5zM2482 848l7 5 6 5zM2495 858l6 5 7 5zM2501 863l7 5 6 3zM2527 879l6 0 8 7 6-1 7 8zM2547 885l7 8 6-2 7 9 6-4 7 10 7-5 7 10 6-7 7 12 6-9 7 13 7-10 7 13 6-11-13-2-40-9-27-10zM2098 874l6 40 7-31zM2163 904l5 20 8-17 5 16 8-14-13-2zM2078 899l7-37 6 45zM2181 923l8-14 5 13zM2181 923l5 12 8-13zM1993 886l7-62 6 78zM2186 935l8-13 5 8z"/><path class=aM d="M2458 823l5 7 8 5zM2463 830l8 5 5 6zM2514 871l6 2 7 6zM2533 879l8 7 6-1zM2640 912l7 14 7-11 7 14 6-11 7 15 7-10-14-5zM2137 897l8-22 5 26 8-19 5 22 8-16 5 19 8-15 5 17-13-2-26-6zM2085 862l6 45 7-33zM2189 909l5 13 8-12zM2065 888l7-39 6 50zM2013 843l6 71 7-57zM1916 814l7 93 6-80z"/><path class=aN d="M2439 806l6 5 7 7zM2445 811l7 7 6 5zM2463 830l6 7 7 4zM2469 837l7 4 6 7zM2482 848l6 6 7 4zM2488 854l7 4 6 5zM2501 863l6 4 7 4zM2507 867l7 4 6 2 7 6 6 0zM2560 891l6-3 7 8 6-4 8 9 6-7 7 10-13-3zM2145 875l5 26 8-19 5 22 8-16 5 19 8-15 5 17 8-13-26-8-13-6zM2124 891l8-24 5 30zM2189 909l8-13 5 14zM2202 910l5 9 8-9zM2194 922l8-12 5 9zM2194 922l5 8 8-11z"/><path class=aO d="M2445 811l5 7 8 5zM2450 818l8 5 5 7zM2469 837l6 8 7 3zM2475 845l7 3 6 6zM2488 854l6 6 7 3zM2494 860l7 3 6 4zM2520 873l6 2 7 4 6 0 8 6 6-1 7 7zM2600 904l6-8 7 11 7-9 7 12zM2171 888l8-16 5 20 8-14 5 18 8-13 5 16-13-3zM2132 867l5 30 8-22zM2197 896l5 14 8-11 5 11 8-9-13-2zM2111 883l8-25 5 33zM2202 910l8-11 5 11zM2072 849l6 50 7-37zM2052 877l7-42 6 53zM2207 919l8-9 5 6zM2000 824l6 78 7-59z"/><path class=aP d="M2426 793l6 6 7 7zM2432 799l7 7 6 5zM2450 818l6 7 7 5zM2456 825l7 5 6 7zM2475 845l5 7 8 2zM2480 852l8 2 6 6zM2494 860l5 4 8 3 6 3 7 3-13-6zM2627 910l6-10 7 12 7-10 7 13 7-12 6 15-27-6zM2526 875l7 4 6 0 8 6 6-1 7 7 6-3 7 8 6-4 8 9 6-7 7 10 6-8 7 11 7-9-41-6-26-8zM2218 888l8-12 5 15zM2166 865l5 23 8-16 5 20 8-14 5 18 8-13 5 16 8-11 5 13 8-10 5 11 8-8-26-6-26-10-13-6zM2158 882l8-17 5 23zM2210 899l8-11 5 13 8-10 5 11 8-8 5 9-26-2zM2119 858l5 33 8-24zM2223 901l5 8 8-7zM2098 874l8-28 5 37zM2215 910l8-9 5 8zM2215 910l5 6 8-7zM1980 866l6-65 7 85z"/><path class=aQ d="M2437 805l8 6 5 7zM2456 825l6 9 7 3zM2462 834l7 3 6 8zM2467 844l8 1 5 7zM2480 852l6 7 8 1zM2667 918l7-12 7 17zM2486 859l8 1 5 4 8 3 6 3 7 3 6 2zM2620 898l7 12 6-10 7 12 7-10zM2286 883l5 13 8-8 5 12 8-7zM2239 880l7-12 6 17 8-12 5 16 8-11 5 14 8-9 5 13 8-8 5 12-26-8-13-3-13-4zM2200 864l5 19 8-13 5 18 8-12 5 15 8-11 5 14 8-9 5 12 8-8 5 11 8-8 5 10 8-6-13-4-13-3-13-4-13-5-13-4zM2179 872l8-15 5 21 8-14 5 19 8-13 5 18-26-10zM2231 891l8-11 5 14 8-9 5 12 8-8 5 11 8-8 5 10-13-2zM2153 856l5 26 8-17zM2244 894l5 9 8-6 5 7 8-4zM2145 875l8-19 5 26zM2249 903l8-6 5 7zM2106 846l5 37 8-25zM2236 902l5 6 8-5zM2228 909l8-7 5 6zM2059 835l6 53 7-39zM2039 868l7-47 6 56z"/><path class=aR d="M2413 782l6 5 7 6zM2419 787l7 6 6 6zM2432 799l5 6 8 6zM2437 805l6 9 7 4zM2443 814l7 4 6 7zM2449 823l7 2 6 9zM2462 834l5 10 8 1zM2467 844l6 8 7 0zM2473 852l7 0 6 7zM2647 902l7 13 7-12 6 15 7-12-13-3zM2354 883l8-12 5 18zM2341 877l5 17 8-11zM2320 883l7-12 6 17 8-11 5 17-13-6zM2293 871l6 17 8-11 5 16 8-10 5 14 8-9-13-5zM2273 878l7-12 6 17 7-12 6 17 8-11 5 16 8-10 5 14-13-4zM2233 862l6 18 7-12 6 17 8-12 5 16 8-11 5 14 8-9-40-15zM2213 870l7-14 6 20 7-14 6 18-13-4zM2187 857l5 21 8-14zM2166 865l7-16 6 23zM2140 846l5 29 8-19zM2132 867l8-21 5 29zM2085 862l8-30 5 42z"/><path class=aS d="M2424 793l8 6 5 6zM2443 814l6 9 7 2zM2449 823l5 11 8 0zM2454 834l8 0 5 10zM2454 834l6 11 7-1zM2460 845l7-1 6 8zM2473 852l6 8 7-1 6 5 7 0-13-5zM2479 860l7-1 6 5zM2382 866l6 17 8-11zM2375 878l7-12 6 17zM2348 864l6 19 8-12 5 18 8-11zM2341 877l7-13 6 19zM2314 864l6 19 7-12 6 17 8-11-14-6zM2293 871l8-14 6 20 7-13 6 19zM2254 854l6 19 7-13 6 18 7-12 6 17 7-12-13-5zM2233 862l8-15 5 21 8-14 6 19 7-13 6 18-27-10zM2207 849l6 21 7-14 6 20 7-14-13-6zM2187 857l7-16 6 23 7-15 6 21-13-6zM2173 849l6 23 8-15zM2153 856l7-18 6 27zM2119 858l8-23 5 32zM2093 832l5 42 8-28zM2026 857l7-49 6 60zM1986 801l7 85 7-62z"/><path class=aT d="M2400 769l6 6 7 7zM2406 775l7 7 6 5zM2419 787l5 6 8 6zM2424 793l6 8 7 4zM2430 801l7 4 6 9zM2435 812l8 2 6 9zM2441 824l8-1 5 11zM2447 836l7-2 6 11zM2447 836l5 12 8-3 6 9 7-2-13-7zM2452 848l8-3 6 9 7-2 6 8zM2452 848l6 11 8-5 5 8 8-2zM2458 859l8-5 5 8zM2403 860l6 17 7-11zM2382 866l8-12 6 18 7-12 6 17zM2369 859l6 19 7-12zM2348 864l8-13 6 20 7-12 6 19zM2335 857l6 20 7-13zM2314 864l8-15 5 22 8-14 6 20-14-6zM2288 851l5 20 8-14 6 20 7-13-13-7zM2267 860l8-15 5 21 8-15 5 20-13-5zM2241 847l5 21 8-14zM2220 856l8-17 5 23zM2194 841l6 23 7-15zM2160 838l6 27 7-16zM2127 835l5 32 8-21zM2072 849l8-32 5 45zM2046 821l6 56 7-42zM1967 849l6-68 7 85z"/><path class=aU d="M2411 781l8 6 5 6zM2430 801l5 11 8 2zM2435 812l6 12 8-1zM2441 824l6 12 7-2zM2434 827l7-3 6 12zM2439 841l8-5 5 12zM2439 841l6 13 7-6zM2432 848l7-7 6 13 7-6 6 11-13-5zM2432 848l5 13 8-7 6 11 7-6-13-5zM2424 856l8-8 5 13 8-7 6 11-14-4zM2411 850l5 16 8-10 6 14 7-9-13-5zM2403 860l8-10 5 16 8-10 6 14-14-4zM2377 846l5 20 8-12 6 18 7-12-13-6zM2369 859l8-13 5 20zM2356 851l6 20 7-12zM2335 857l8-14 5 21zM2322 849l5 22 8-14zM2301 857l8-15 5 22zM2262 838l5 22 8-15 5 21 8-15-13-6zM2254 854l8-16 5 22zM2228 839l5 23 8-15zM2207 849l8-19 5 26zM2181 831l6 26 7-16zM2173 849l8-18 6 26zM2147 827l6 29 7-18zM2140 846l7-19 6 29zM2106 846l7-24 6 36zM2013 843l7-50 6 64z"/><path class=aV d="M2393 763l7 6 6 6zM2406 775l5 6 8 6zM2417 789l7 4 6 8zM2422 800l8 1 5 11zM2428 813l7-1 6 12zM2428 813l6 14 7-3zM2434 827l5 14 8-5zM2426 832l8-5 5 14zM2426 832l6 16 7-7zM2418 840l8-8 6 16zM2405 832l6 18 7-10 6 16 8-8zM2411 850l7-10 6 16zM2385 834l5 20 8-12 5 18 8-10zM2377 846l8-12 5 20 8-12 5 18-13-6zM2364 838l5 21 8-13zM2356 851l8-13 5 21zM2343 843l5 21 8-13zM2322 849l8-15 5 23zM2296 834l5 23 8-15 5 22 8-15-13-7zM2288 851l8-17 5 23zM2249 829l5 25 8-16zM2241 847l8-18 5 25zM2215 830l5 26 8-17zM2194 841l8-20 5 28zM2168 819l5 30 8-18zM2160 838l8-19 5 30zM2113 822l6 36 8-23zM2080 817l5 45 8-30zM2033 808l6 60 7-47zM1941 837l6-76 7 81 6-72 7 79-13-7z"/><path class=aW d="M2387 755l6 8 7 6zM2398 769l8 6 5 6zM2411 781l6 8 7 4zM2417 789l5 11 8 1zM2422 800l6 13 7-1zM2420 816l8-3 6 14zM2420 816l6 16 8-5zM2413 823l7-7 6 16zM2413 823l5 17 8-8zM2405 832l8-9 5 17zM2398 842l7-10 6 18zM2364 838l7-13 6 21zM2351 829l5 22 8-13zM2343 843l8-14 5 22zM2330 834l5 23 8-14zM2309 842l8-16 5 23zM2283 827l5 24 8-17zM2262 838l8-20 5 27 8-18 5 24-13-6zM2236 819l5 28 8-18zM2228 839l8-20 5 28zM2202 821l5 28 8-19zM2181 831l8-20 5 30zM2134 814l6 32 7-19zM2127 835l7-21 6 32zM2093 832l7-25 6 39zM2059 835l7-34 6 48zM1973 781l7 85 6-65z"/><path class=aX d="M2393 763l5 6 8 6zM2404 777l7 4 6 8zM2409 788l8 1 5 11zM2415 801l7-1 6 13zM2415 801l5 15 8-3zM2407 806l6 17 7-7zM2400 813l5 19 8-9zM2392 823l8-10 5 19zM2392 823l6 19 7-10zM2385 834l7-11 6 19zM2371 825l6 21 8-12zM2337 819l6 24 8-14zM2330 834l7-15 6 24zM2317 826l5 23 8-15zM2296 834l7-17 6 25zM2270 818l5 27 8-18zM2249 829l8-20 5 29zM2215 830l8-22 5 31zM2189 811l5 30 8-20zM2155 806l5 32 8-19zM2147 827l8-21 5 32zM2100 807l6 39 7-24zM2066 801l6 48 8-32zM2020 793l6 64 7-49zM2000 824l6-50 7 69zM1929 827l5-75 7 85z"/><path class=aY d="M2375 740l5 10 7 5zM2380 750l7 5 6 8zM2385 758l8 5 5 6zM2398 769l6 8 7 4zM2404 777l5 11 8 1zM2409 788l6 13 7-1zM2407 806l8-5 5 15zM2400 813l7-7 6 17zM2379 813l6 21 7-11zM2371 825l8-12 6 21zM2358 815l6 23 7-13zM2351 829l7-14 6 23zM2303 817l6 25 8-16zM2283 827l7-20 6 27zM2257 809l5 29 8-20zM2223 808l5 31 8-20zM2202 821l8-24 5 33zM2168 819l8-21 5 33zM2121 800l6 35 7-21zM2113 822l8-22 6 35zM1916 814l5-70 8 83z"/><path class=aZ d="M2380 750l5 8 8 5zM2391 766l7 3 6 8zM2396 777l8 0 5 11zM2402 790l7-2 6 13zM2402 790l5 16 8-5zM2394 795l8-5 5 16zM2394 795l6 18 7-7zM2387 803l7-8 6 18zM2387 803l5 20 8-10zM2379 813l8-10 5 20zM2366 803l5 22 8-12zM2358 815l8-12 5 22zM2345 805l6 24 7-14zM2337 819l8-14 6 24zM2324 809l6 25 7-15zM2317 826l7-17 6 25zM2290 807l6 27 7-17zM2236 819l7-22 6 32zM2210 797l5 33 8-22zM2176 798l5 33 8-20zM2134 814l8-21 5 34zM2080 817l7-26 6 41zM2046 821l7-36 6 50zM1960 770l7 79 6-68z"/><path class=ba d="M2367 735l8 5 5 10zM2385 758l6 8 7 3zM2391 766l5 11 8 0zM2396 777l6 13 7-2zM2389 779l5 16 8-5zM2373 792l6 21 8-10zM2366 803l7-11 6 21zM2311 799l6 27 7-17zM2303 817l8-18 6 27zM2277 797l6 30 7-20zM2270 818l7-21 6 30zM2243 797l6 32 8-20zM2189 811l8-25 5 35zM2155 806l8-22 5 35zM2142 793l5 34 8-21zM2100 807l8-22 5 37zM2087 791l6 41 7-25zM2053 785l6 50 7-34zM2006 774l7 69 7-50z"/><path class=bb d="M2362 724l5 11 8 5zM2367 735l5 10 8 5zM2372 745l8 5 5 8zM2378 754l7 4 6 8zM2383 765l8 1 5 11zM2383 765l6 14 7-2zM2389 779l7-2 6 13zM2381 784l8-5 5 16zM2381 784l6 19 7-8zM2373 792l8-8 6 19zM2353 792l5 23 8-12zM2345 805l8-13 5 23zM2332 794l5 25 8-14zM2324 809l8-15 5 25zM2290 807l8-19 5 29zM2257 809l7-24 6 33zM2223 808l7-24 6 35zM2197 786l5 35 8-24zM2163 784l5 35 8-21zM2108 785l5 37 8-22zM2033 808l7-39 6 52zM1947 761l7 81 6-72z"/><path class=bc d="M2372 745l6 9 7 4zM2378 754l5 11 8 1zM2376 768l7-3 6 14zM2376 768l5 16 8-5zM2368 773l5 19 8-8zM2360 781l6 22 7-11zM2353 792l7-11 6 22zM2311 799l8-16 5 26zM2298 788l5 29 8-18zM2264 785l6 33 7-21zM2230 784l6 35 7-22zM2176 798l7-25 6 38zM2129 779l5 35 8-21zM2121 800l8-21 5 35zM2066 801l8-27 6 43zM1986 801l7-49 7 72zM1934 752l7 85 6-76z"/><path class=bd d="M2354 720l8 4 5 11zM2359 731l8 4 5 10zM2365 742l7 3 6 9zM2370 753l8 1 5 11zM2370 753l6 15 7-3zM2368 773l8-5 5 16zM2360 781l8-8 5 19zM2340 781l5 24 8-13zM2332 794l8-13 5 24zM2319 783l5 26 8-15zM2285 776l5 31 8-19zM2277 797l8-21 5 31zM2243 797l8-24 6 36zM2217 772l6 36 7-24zM2210 797l7-25 6 36zM2183 773l6 38 8-25zM2150 771l5 35 8-22zM2142 793l8-22 5 35zM2087 791l8-22 5 38zM2074 774l6 43 7-26zM2040 769l6 52 7-36zM1921 744l8 83 5-75z"/><path class=be d="M2349 709l5 11 8 4zM2354 720l5 11 8 4zM2359 731l6 11 7 3zM2365 742l5 11 8 1zM2363 756l7-3 6 15zM2363 756l5 17 8-5zM2355 761l5 20 8-8zM2347 769l6 23 7-11zM2340 781l7-12 6 23zM2326 768l6 26 8-13zM2319 783l7-15 6 26zM2306 770l5 29 8-16zM2298 788l8-18 5 29zM2251 773l6 36 7-24zM2163 784l7-24 6 38zM2116 765l5 35 8-21zM2108 785l8-20 5 35zM2095 769l5 38 8-22zM2020 793l7-40 6 55zM1993 752l7 72 6-50z"/><path class=bf d="M2357 741l8 1 5 11zM2355 761l8-5 5 17zM2347 769l8-8 5 20zM2272 763l5 34 8-21zM2264 785l8-22 5 34zM2230 784l8-25 5 38zM2197 786l7-27 6 38zM2170 760l6 38 7-25zM2137 759l5 34 8-22zM2129 779l8-20 5 34zM2053 785l8-29 5 45z"/><path class=bg d="M2341 706l8 3 5 11zM2346 717l8 3 5 11zM2346 717l6 11 7 3zM2352 728l7 3 6 11zM2352 728l5 13 8 1zM2357 741l6 15 7-3zM2349 743l6 18 8-5zM2342 748l5 21 8-8zM2334 757l6 24 7-12zM2326 768l8-11 6 24zM2313 755l6 28 7-15zM2293 757l5 31 8-18zM2285 776l8-19 5 31zM2238 759l5 38 8-24zM2204 759l6 38 7-25zM2061 756l5 45 8-27zM2027 753l6 55 7-39zM1973 781l7-52 6 72z"/><path class=bh d="M2336 694l5 12 8 3zM2341 706l5 11 8 3zM2349 743l8-2 6 15zM2342 748l7-5 6 18zM2334 757l8-9 5 21zM2306 770l7-15 6 28zM2251 773l8-24 5 36zM2217 772l8-25 5 37zM2183 773l8-27 6 40zM2157 748l6 36 7-24zM2150 771l7-23 6 36zM2116 765l7-19 6 33zM2103 750l5 35 8-20zM2095 769l8-19 5 35zM2082 751l5 40 8-22zM2074 774l8-23 5 40zM2006 774l8-40 6 59z"/><path class=bi d="M2328 692l8 2 5 12zM2333 703l8 3 5 11zM2339 714l7 3 6 11zM2344 727l8 1 5 13zM2344 727l5 16 8-2zM2321 743l5 25 8-11zM2313 755l8-12 5 25zM2272 763l7-20 6 33zM2259 749l5 36 8-22zM2225 747l5 37 8-25zM2191 746l6 40 7-27zM2123 746l6 33 8-20zM2040 769l7-31 6 47z"/><path class=bj d="M2328 692l5 11 8 3zM2333 703l6 11 7 3zM2339 714l5 13 8 1zM2336 729l8-2 5 16zM2336 729l6 19 7-5zM2329 734l5 23 8-9zM2321 743l8-9 5 23zM2300 741l6 29 7-15zM2293 757l7-16 6 29zM2279 743l6 33 8-19zM2238 759l8-24 5 38zM2204 759l8-25 5 38zM2170 760l8-25 5 38zM2144 738l6 33 7-23zM2137 759l7-21 6 33zM2047 738l6 47 8-29zM2014 734l6 59 7-40zM1980 729l6 72 7-49zM1960 770l6-59 7 70z"/><path class=bk d="M2323 679l5 13 8 2zM2326 701l7 2 6 11zM2331 713l8 1 5 13zM2331 713l5 16 8-2zM2329 734l7-5 6 19zM2308 729l5 26 8-12zM2246 735l5 38 8-24zM2212 734l5 38 8-25zM2178 735l5 38 8-27zM2123 746l8-18 6 31zM2110 733l6 32 7-19zM2103 750l7-17 6 32zM2089 733l6 36 8-19zM2082 751l7-18 6 36zM2068 733l6 41 8-23zM2061 756l7-23 6 41z"/><path class=bl d="M2315 680l8-1 5 13zM2315 680l5 11 8 1zM2320 691l8 1 5 11zM2320 691l6 10 7 2zM2326 701l5 12 8 1zM2323 715l8-2 5 16zM2323 715l6 19 7-5zM2316 720l5 23 8-9zM2300 741l8-12 5 26zM2287 727l6 30 7-16zM2279 743l8-16 6 30zM2266 728l6 35 7-20zM2259 749l7-21 6 35zM2157 748l8-22 5 34zM2131 728l6 31 7-21zM1947 761l6-65 7 74z"/><path class=bm d="M2310 666l5 14 8-1zM2318 700l8 1 5 12zM2316 720l7-5 6 19zM2308 729l8-9 5 23zM2232 723l6 36 8-24zM2225 747l7-24 6 36zM2199 722l5 37 8-25zM2191 746l8-24 5 37zM2165 726l5 34 8-25zM2144 738l8-20 5 30zM2027 753l7-33 6 49zM1993 752l7-40 6 62z"/><path class=bn d="M2302 668l8-2 5 14zM2302 668l5 11 8 1zM2307 679l8 1 5 11zM2307 679l6 10 7 2zM2313 689l7 2 6 10zM2313 689l5 11 8 1zM2318 700l5 15 8-2zM2295 714l5 27 8-12zM2287 727l8-13 5 27zM2246 735l7-21 6 35zM2178 735l8-24 5 35zM2152 718l5 30 8-22zM2131 728l8-18 5 28zM2118 718l5 28 8-18zM2110 733l8-15 5 28zM2097 718l6 32 7-17zM2089 733l8-15 6 32zM2076 715l6 36 7-18zM2034 720l6 49 7-31zM2000 712l6 62 8-40zM1966 711l7 70 7-52zM1934 752l6-66 7 75z"/><path class=bo d="M2297 655l5 13 8-2zM2310 701l8-1 5 15zM2310 701l6 19 7-5zM2303 706l5 23 8-9zM2295 714l8-8 5 23zM2274 712l5 31 8-16zM2266 728l8-16 5 31zM2253 714l6 35 7-21zM2219 712l6 35 7-24zM2212 734l7-22 6 35zM2186 711l5 35 8-24zM2139 710l5 28 8-20zM2068 733l8-18 6 36zM2055 714l6 42 7-23zM2047 738l8-24 6 42zM1921 744l6-63 7 71z"/><path class=bp d="M2158 620l4-3 8 1zM2150 618l8 2 4-3zM2289 658l8-3 5 13zM2289 658l6 11 7-1zM2295 669l7-1 5 11zM2295 669l5 9 7 1zM2300 678l7 1 6 10zM2300 678l5 9 8 2zM2305 687l8 2 5 11zM2305 687l5 14 8-1zM2303 706l7-5 6 19zM2165 726l8-22 5 31zM2126 702l5 26 8-18zM2118 718l8-16 5 26zM2105 705l5 28 8-15zM2097 718l8-13 5 28zM2014 734l7-34 6 53zM1953 696l7 74 6-59z"/><path class=bq d="M2170 618l5 0 8 0zM2284 645l5 13 8-3zM2162 617l8 1 5 0zM2276 649l8-4 5 13zM2137 620l5-4 8 2zM2129 617l8 3 5-4zM2282 659l7-1 6 11zM2287 669l8 0 5 9zM2297 688l8-1 5 14zM2297 688l6 18 7-5zM2289 693l6 21 8-8zM2282 701l5 26 8-13zM2274 712l8-11 5 26zM2240 703l6 32 7-21zM2232 723l8-20 6 32zM2206 701l6 33 7-22zM2199 722l7-21 6 33zM2173 704l5 31 8-24zM2139 710l8-17 5 25 8-19 5 27zM2084 701l5 32 8-15zM2076 715l8-14 5 32zM2021 700l6 53 7-33z"/><path class=br d="M2183 618l4 1 8-1zM2271 638l5 11 8-4zM2175 618l8 0 4 1zM2264 642l7-4 5 11zM2150 618l4-1 8 0zM2276 649l6 10 7-1zM2142 616l8 2 4-1zM2269 651l7-2 6 10zM2117 618l4-4 8 3zM2282 659l5 10 8 0zM2109 615l8 3 4-4zM2287 669l5 8 8 1zM2292 677l8 1 5 9zM2292 677l5 11 8-1zM2289 693l8-5 6 18zM2282 701l7-8 6 21zM2261 698l5 30 8-16zM2253 714l8-16 5 30zM2219 712l8-18 5 29zM2186 711l7-19 6 30zM2147 693l5 25 8-19 5 27 8-22-13-5zM2126 702l8-16 5 24zM2113 692l5 26 8-16zM2105 705l8-13 5 26zM2092 689l5 29 8-13zM2063 695l5 38 8-18zM2034 720l8-26 5 44zM1980 729l7-42 6 65zM1940 686l7 75 6-65z"/><path class=bs d="M2195 618l5 4 8-3 5 6 7-4 5 7 8-4 5 8 8-4 5 9 8-5 5 10 7-4-12-6-26-8-13-3-12-2zM2187 619l8-1 5 4 8-3 5 6 7-4 5 7 8-4 5 8 8-4 5 9 8-5 5 10-26-10-25-7zM2162 617l5 1 8 0 4 2 8-1zM2251 637l5 8 8-3 5 9 7-2-12-7zM2154 617l8 0 5 1zM2256 645l8-3 5 9zM2129 617l5-2 8 1zM2269 651l5 9 8-1zM2121 614l8 3 5-2zM2274 660l8-1 5 10zM2096 616l4-4 9 3zM2274 660l5 9 8 0zM2279 669l8 0 5 8zM2284 678l8-1 5 11zM2284 678l5 15 8-5zM2276 682l6 19 7-8zM2269 688l5 24 8-11zM2261 698l8-10 5 24zM2227 694l5 29 8-20zM2193 692l6 30 7-21zM2173 704l7-18 6 25zM2134 686l5 24 8-17zM2084 701l8-12 5 29zM2055 714l8-19 5 38zM2042 694l5 44 8-24zM1987 687l6 65 7-40zM1927 681l7 71 6-66z"/><path class=bt d="M2187 619l5 4 8-1 5 4 8-1 4 5 8-2 5 7 8-3 5 8 8-3-13-5-25-7zM2167 618l8 0 4 2 8-1 5 4 8-1 5 4 8-1 4 5 8-2 5 7 8-3 5 8 8-3 5 8-39-15-12-4-26-6zM2142 616l4 0 8 1 5 0 8 1zM2243 640l5 7 8-2 5 8 8-2-13-6zM2134 615l8 1 4 0zM2248 647l8-2 5 8 8-2 5 9-13-7zM2109 615l4-2 8 1zM2261 653l5 8 8-1zM2088 611l8 5 4-4zM2266 661l8-1 5 9zM2279 669l5 9 8-1zM2271 670l8-1 5 9zM2276 682l8-4 5 15zM2269 688l7-6 6 19zM2248 688l5 26 8-16zM2240 703l8-15 5 26zM2214 685l5 27 8-18zM2206 701l8-16 5 27zM2180 686l6 25 7-19zM2147 693l8-16 5 22 7-17 6 22-13-5zM2121 678l5 24 8-16zM2113 692l8-14 5 24zM2100 678l5 27 8-13zM2092 689l8-11 5 27zM2071 681l5 34 8-14zM2000 712l7-35 7 57z"/><path class=bu d="M2167 618l4 2 8 0 5 3 8 0 5 4 8-1 5 5 7-1 5 6 8-1 5 6 8-1-26-10-12-4-26-6zM2146 616l8 1 5 0 8 1 4 2-12-3zM2210 631l7-1 5 6 8-1 5 6 8-1 5 7-13-6zM2121 614l5 0 8 1zM2248 647l5 7 8-1zM2100 612l9 3 4-2 8 1 5 0zM2253 654l8-1 5 8zM2075 610l5-4 8 5zM2253 654l5 8 8-1 5 9 8-1-13-8zM2258 662l8-1 5 9zM2271 670l5 12 8-4zM2263 673l8-3 5 12zM2263 673l6 15 7-6zM2256 679l5 19 8-10zM2248 688l8-9 5 19zM2235 680l5 23 8-15zM2227 694l8-14 5 23zM2193 692l8-14 5 23zM2142 672l5 21 8-16 5 22 7-17 6 22 7-18-13-4zM2134 686l8-14 5 21zM2108 667l5 25 8-14zM2063 695l8-14 5 34zM2007 677l7 57 7-34z"/><path class=bv d="M2171 620l8 0 5 3 8 0 5 4 8-1 5 5-26-8zM2134 615l4 1 8 0 5 2 8-1 4 3 8 0-12-3zM2197 627l5 5 8-1 5 6 7-1 5 7 8-2 5 7 8-1-13-6-25-10zM2126 614l8 1 4 1zM2215 637l7-1 5 7 8-2 5 7 8-1 5 7-13-6-13-5zM2088 611l4-2 8 3 5-1 8 2zM2240 648l5 8 8-2zM2067 602l8 8 5-4 8 5 4-2zM2245 656l8-2 5 8zM2258 662l5 11 8-3zM2250 665l8-3 5 11zM2250 665l6 14 7-6zM2256 679l7-6 6 15zM2243 671l5 17 8-9zM2235 680l8-9 5 17zM2222 673l5 21 8-14zM2214 685l8-12 5 21zM2188 672l5 20 8-14 5 23 8-16-13-7zM2155 677l7-13 5 18 8-14 5 18 8-14 5 20-13-6-13-4zM2129 664l5 22 8-14zM2121 678l8-14 5 22zM2100 678l8-11 5 25zM2079 671l5 30 8-12zM2050 674l5 40 8-19zM2021 700l7-28 6 48zM1966 711l7-48 7 66z"/><path class=bw d="M2171 620l5 4 8-1 5 5 8-1-13-4zM2138 616l8 0 5 2 8-1 4 3 8 0 5 4 8-1 5 5 8-1 5 5 8-1 5 6-13-5-39-12zM2113 613l4 1 9 0 4 2 8 0-12-2zM2202 632l5 8 8-3 5 8 7-2 5 7 8-2-13-5-12-6zM2092 609l8 3 5-1 8 2 4 1-12-3zM2220 645l7-2 5 7 8-2 5 8zM2232 650l5 9 8-3 5 9 8-3zM2237 659l8-3 5 9zM2237 659l6 12 7-6zM2243 671l7-6 6 14zM2230 665l5 15 8-9zM2222 673l8-8 5 15zM2209 667l5 18 8-12zM2201 678l8-11 5 18zM2149 659l6 18 7-13 5 18 8-14 5 18 8-14-26-8zM2129 664l8-11 5 19 7-13 6 18-13-5zM2116 656l5 22 8-14zM2108 667l8-11 5 22zM2087 662l5 27 8-11zM2079 671l8-9 5 27zM2071 681l8-10 5 30zM2042 694l8-20 5 40zM2028 672l6 48 8-26z"/><path class=bx d="M2138 616l5 3 8-1 4 4 8-2 5 5 8-1 5 6 8-2 5 7 8-3-39-12zM2117 614l9 0 4 2 8 0 5 3 8-1 4 4 8-2 5 5 8-1 5 6 8-2 5 7 8-3 5 8 8-3 5 8-52-20-38-9zM2067 602l4-2 9 6 4 0 8 3 5 1 8 1 4 3 8 0-12-3-13-2zM2194 635l5 8 8-3 5 8 8-3 5 9 7-4zM2199 643l8-3 5 8 8-3 5 9 7-4 5 9-25-11zM2212 648l5 11 8-5 5 11 7-6zM2204 654l8-6 5 11 8-5 5 11 7-6 6 12-26-12zM2204 654l5 13 8-8 5 14 8-8-13-6zM2196 662l8-8 5 13 8-8 5 14-13-6zM2157 648l5 16 8-11 5 15 8-11 5 15 8-10 5 16 8-11-26-10-13-4zM2149 659l8-11 5 16 8-11 5 15 8-11 5 15 8-10 5 16-13-6-26-8zM2124 646l5 18 8-11 5 19 7-13zM2116 656l8-10 5 18zM2095 653l5 25 8-11zM2087 662l8-9 5 25zM2058 660l5 35 8-14zM1973 663l7 66 7-42z"/><path class=by d="M2054 597l5-3 8 8zM2117 614l5 4 8-2 5 5 8-2 5 6 7-3 5 6 8-3 5 8 8-3 5 8 8-3-26-10-38-9zM2071 600l9 6 4 0 8 3 5 1 8 1 4 3 8 0 5 4 8-2 5 5 8-2 5 6 7-3 5 6 8-3 5 8 8-3 5 8 8-3 5 8-39-15-25-7-13-3-38-12zM2160 628l5 11 8-6 5 11 8-6 5 11 8-6 5 11 8-6zM2165 639l8-6 5 11 8-6 5 11 8-6 5 11zM2152 635l5 13 8-9 5 14 8-9 5 13 8-8 5 13 8-8-39-15zM2144 643l8-8 5 13 8-9 5 14 8-9 5 13 8-8 5 13-13-5-13-4zM2132 637l5 16 7-10 5 16 8-11-13-5zM2124 646l8-9 5 16 7-10 5 16zM2111 638l5 18 8-10zM2103 645l5 22 8-11zM2095 653l8-8 5 22zM2066 651l5 30 8-10zM2050 674l8-14 5 35zM1953 696l7-52 6 67z"/><path class=bz d="M2046 586l8 11 5-3 8 8 4-2-12-6zM2084 606l5 3 8 1 4 5 8-1 5 7 8-3 5 7 8-4 5 9 8-5 4 10 8-7-25-7-13-3zM2101 615l8-1 5 7 8-3 5 7 8-4 5 9 8-5 4 10 8-7 5 11-13-4-25-10-13-4zM2114 621l5 10 8-6 5 12 8-7 4 13 8-8-25-10zM2119 631l8-6 5 12 8-7 4 13zM2119 631l5 15 8-9zM2111 638l8-7 5 15zM2103 645l8-7 5 18zM2082 639l5 23 8-9zM2074 645l5 26 8-9zM1994 651l6 61 7-35zM1987 687l7-36 6 61z"/><path class=bA d="M2059 594l4 1 8 5 5 2 8 4zM2076 602l8 4 5 3 8 1 4 5zM2089 609l4 8 8-2 5 9 8-3zM2093 617l8-2 5 9 8-3 5 10zM2106 624l5 14 8-7zM2098 629l8-5 5 14zM2098 629l5 16 8-7zM2090 634l8-5 5 16zM2090 634l5 19 8-8zM2082 639l8-5 5 19zM2074 645l8-6 5 23zM2066 651l8-6 5 26zM2058 660l8-9 5 30zM2036 651l6 43 8-20zM2028 672l8-21 6 43zM2015 648l6 52 7-28zM2007 677l8-29 6 52z"/><path class=bB d="M2046 586l4 0 9 8zM2063 595l8 5 5 2zM2076 602l4 7 9 0zM2080 609l9 0 4 8zM2093 617l5 12 8-5zM2085 619l8-2 5 12zM2085 619l5 15 8-5zM1960 644l6 67 7-48zM1940 686l7-57 6 67z"/><path class=bC d="M2050 586l9 8 4 1zM2063 595l5 4 8 3zM2068 599l8 3 4 7zM2080 609l5 10 8-2zM2077 621l8-2 5 15zM2077 621l5 18 8-5zM2069 624l5 21 8-6zM2044 638l6 36 8-14zM1927 681l7-63 6 68z"/><path class=bD d="M2033 577l5 0 8 9zM2038 577l8 9 4 0zM2068 599l4 9 8 1zM2072 608l8 1 5 10zM2072 608l5 13 8-2zM2069 624l8-3 5 18zM2061 627l8-3 5 21zM2061 627l5 24 8-6zM2052 631l6 29 8-9zM2036 651l8-13 6 36z"/><path class=bE d="M2025 568l8 9 5 0zM2050 586l5 3 8 6zM2055 589l8 6 5 4zM2059 596l9 3 4 9zM2064 608l8 0 5 13zM2064 608l5 16 8-3zM2052 631l9-4 5 24zM2044 638l8-7 6 29zM2023 626l5 46 8-21zM1973 663l7-38 7 62zM1947 629l6 67 7-52z"/><path class=bF d="M2038 577l4 1 8 8zM2042 578l8 8 5 3zM2055 589l4 7 9 3zM2059 596l5 12 8 0zM2056 608l5 19 8-3zM2015 648l8-22 5 46zM2001 622l6 55 8-29zM1994 651l7-29 6 55zM1980 625l7 62 7-36z"/><path class=bG d="M2025 568l4 1 9 8zM2056 608l8 0 5 16zM2047 608l5 23 9-4zM2031 614l5 37 8-13zM1934 618l6 68 7-57z"/><path class=bH d="M2029 569l9 8 4 1zM2042 578l4 4 9 7zM2046 582l9 7 4 7zM2051 592l8 4 5 12zM2051 592l5 16 8 0zM2047 608l9 0 5 19zM2039 609l5 29 8-7z"/><path class=bI d="M2016 559l9 9 4 1zM2046 582l5 10 8 4zM2039 609l8-1 5 23zM2031 614l8-5 5 29zM2023 626l8-12 5 37zM1960 644l7-41 6 60z"/><path class=bJ d="M2029 569l4-1 9 10zM2033 568l9 10 4 4zM2042 590l9 2 5 16zM2042 590l5 18 9 0zM2009 602l6 46 8-22zM1967 603l6 60 7-38z"/><path class=bK d="M2016 559l4-3 9 13zM2033 568l5 7 8 7zM2038 575l8 7 5 10zM2038 575l4 15 9 2zM2034 589l8 1 5 18zM2034 589l5 20 8-1zM2001 622l8-20 6 46zM1980 625l8-28 6 54z"/><path class=bL d="M2020 556l9 13 4-1zM2026 587l5 27 8-5zM2017 591l6 35 8-12zM1988 597l6 54 7-29zM1947 629l7-45 6 60z"/><path class=bM d="M2029 569l9 6 4 15zM2026 587l8 2 5 20z"/><path class=bN d="M2007 544l9 15 4-3zM2020 556l5 1 8 11zM2025 557l8 11 5 7zM2029 569l5 20 8 1zM2017 591l9-4 5 27zM2009 602l8-11 6 35zM1954 584l6 60 7-41z"/><path class=bO d="M2025 557l4 12 9 6zM1934 618l6-47 7 58z"/><path class=bP d="M2021 566l8 3 5 20zM2021 566l5 21 8 2zM1996 577l5 45 8-20zM1988 597l8-20 5 45zM1967 603l7-30 6 52z"/><path class=bQ d="M2007 544l4-5 9 17zM2011 539l9 17 5 1zM2016 547l9 10 4 12zM2012 564l5 27 9-4zM2004 567l5 35 8-11zM1974 573l6 52 8-28zM1940 571l7 58 7-45z"/><path class=bR d="M2016 547l5 19 8 3zM2012 564l9 2 5 21z"/><path class=bS d="M2011 539l5 8 9 10zM2004 567l8-3 5 27zM1996 577l8-10 5 35z"/><path class=bT d="M1998 522l9 22 4-5zM2007 541l5 23 9 2zM1954 584l7-32 6 51z"/><path class=bU d="M2007 541l9 6 5 19zM1982 554l6 43 8-20zM1974 573l8-19 6 43zM1961 552l6 51 7-30z"/><path class=bV d="M2003 524l8 15 5 8zM1999 540l5 27 8-3zM1990 544l6 33 8-10z"/><path class=bW d="M1998 522l5 2 8 15zM2003 524l4 17 9 6zM1999 540l8 1 5 23zM1982 554l8-10 6 33z"/><path class=bX d="M1990 544l9-4 5 27zM1940 571l8-35 6 48z"/><path class=bY d="M1969 531l5 42 8-19zM1948 536l6 48 7-32z"/><path class=bZ d="M1989 502l9 20 5 2zM1994 516l9 8 4 17zM1994 516l5 24 8 1zM1961 552l8-21 5 42z"/><path class=ca d="M1985 515l5 29 9-4zM1977 520l5 34 8-10z"/><path class=cb d="M1989 502l5 14 9 8zM1985 515l9 1 5 24zM1969 531l8-11 5 34z"/><path class=cc d="M1977 520l8-5 5 29zM1948 536l7-26 6 42z"/><path class=cd d="M1980 493l9 9 5 14zM1955 510l6 42 8-21z"/><path class=ce d="M1980 493l5 22 9 1z"/><path class=cf d="M1972 489l5 31 8-5zM1963 493l6 38 8-11z"/><path class=cg d="M1972 489l8 4 5 22zM1955 510l8-17 6 38z"/><path class=ch d="M1963 493l9-4 5 31z"/></g><g opacity=".8"><path class=aE d="M2158 981l7-22 5 11z"/><path class=aG d="M2165 959l5 11 8-18z"/><path class=aH d="M2170 970l8-18 5 5z"/><path class=aJ d="M2178 952l5 5 8-15z"/><path class=aK d="M2178 952l8-17 5 7z"/><path class=aL d="M2186 935l5 7 8-12zM2183 957l8-15 5 0z"/><path class=aN d="M2191 942l8-12 5 1zM2191 942l5 0 8-11z"/><path class=aO d="M2199 930l8-11 5 4zM2199 930l5 1 8-8z"/><path class=aP d="M2207 919l5 4 8-7z"/><path class=aQ d="M2359 898l8-9 6 13 7-8 6 11-13-3zM2333 888l5 14 8-8 6 12 7-8 6 11 8-7 5 9 8-6-13-3-27-8zM2325 897l8-9 5 14 8-8 6 12 7-8 6 11 8-7 5 9-13-2-13-3-14-4zM2312 893l5 11 8-7 6 10 7-5 6 8 8-4 5 6 8-3-13-3-14-4-13-5zM2304 900l8-7 5 11 8-7 6 10 7-5 6 8-27-6zM2291 896l5 8 8-4zM2283 902l8-6 5 8zM2228 909l5 3 8-4zM2220 916l8-7 5 3zM2212 923l8-7 5-1zM2196 942l8-11 5-7z"/><path class=aR d="M2499 864l6 3 8 3 6 1 7 4 6 0 7 4 6 0 8 5 6-2 7 6 6-4 7 8 7-6 7 8-14-2-26-8-27-9zM2375 878l5 16 8-11 6 14 7-10 6 12 7-9-13-3-13-4zM2367 889l8-11 5 16 8-11 6 14 7-10 6 12-13-2-14-3zM2354 883l5 15 8-9 6 13 7-8 6 11 8-8 5 10 8-8-13-2-14-3-13-5zM2346 894l8-11 5 15zM2386 905l8-8 5 10 8-8 5 8-13 0zM2386 905l5 7 8-5zM2378 911l8-6 5 7zM2365 909l5 4 8-2zM2344 910l8-4 5 6 8-3 5 4-13-1zM2304 900l6 7 7-3 6 5 8-2 5 4 8-1-27-6zM2296 904l8-4 6 7 7-3 6 5 8-2 5 4-26-4zM2270 900l5 5 8-3 5 4 8-2zM2262 904l8-4 5 5 8-3 5 4zM2249 903l5 4 8-3zM2241 908l8-5 5 4zM2220 916l5-1 8-3zM2204 931l8-8 5-5z"/><path class=aS d="M2593 894l6-7 7 9zM2492 864l7 0 6 3 8 3 6 1 7 4 6 0 7 4 6 0 8 5 6-2 7 6 6-4-13-2-14-3-40-12zM2396 872l5 15 8-10 5 13 8-10-13-3zM2388 883l8-11 5 15 8-10 5 13 8-10 6 12-14-2-13-3zM2414 890l6 10 8-8zM2407 899l7-9 6 10 8-8 5 8-13 0zM2407 899l5 8 8-7zM2412 907l8-7 6 6zM2399 907l6 5 7-5zM2391 912l8-5 6 5zM2378 911l6 2 7-1zM2370 913l8-2 6 2zM2344 910l5 2 8 0 6-1 7 2-13-1zM2336 911l8-1 5 2zM2296 904l6 2 8 1 5-1 8 3-13-2zM2288 906l8-2 6 2zM2262 904l5 2 8-1zM2254 907l8-3 5 2zM2241 908l5 1 8-2zM2233 912l8-4 5 1zM2212 923l5-5 8-3zM2204 931l5-7 8-6z"/><path class=aT d="M2606 896l7-8 7 10 6-9 7 11zM2572 884l7 8 7-6 7 8 6-7-13-1zM2479 860l6 5 7-1 6 3 7 0-13-3zM2471 862l8-2 6 5zM2430 870l7-9 6 12zM2416 866l6 14 8-10 5 12 8-9-13-3zM2409 877l7-11 6 14 8-10 5 12 8-9 6 10-14-1-13-2zM2422 880l6 12 7-10 6 10 8-9-14-1zM2428 892l7-10 6 10zM2428 892l5 8 8-8zM2420 900l6 6 7-6zM2412 907l6 2 8-3zM2405 912l7-5 6 2zM2391 912l6 0 8 0zM2384 913l7-1 6 0zM2370 913l6-3 8 3zM2349 912l8 0 6-1zM2323 909l5-2 8 4zM2302 906l8 1 5-1zM2275 905l5-1 8 2zM2267 906l8-1 5-1zM2254 907l5-2 8 1zM2246 909l8-2 5-2zM2233 912l5-4 8 1zM2225 915l8-3 5-4z"/><path class=aU d="M2633 900l7-11 7 13zM2599 887l7 9 7-8 7 10 6-9zM2505 867l6 2 8 2 6 1 7 3 6 0 7 4 7-2 7 5 6-4 7 6-13-2-14-3zM2485 865l7-1 6 3 7 0 6 2 8 2 6 1-14-3zM2458 859l6 9 7-6 6 7 8-4zM2451 865l7-6 6 9 7-6 6 7-13-1zM2437 861l6 12 8-8 5 10 8-7-13-3zM2443 873l8-8 5 10 8-7 6 7-14 0zM2443 873l6 10 7-8zM2449 883l7-8 6 7zM2449 883l5 8 8-9zM2441 892l8-9 5 8zM2441 892l6 6 7-7zM2433 900l8-8 6 6zM2433 900l6 3 8-5zM2426 906l7-6 6 3zM2405 912l5-3 8 0zM2397 912l8 0 5-3zM2363 911l7 2 6-3zM2336 911l5-5 8 6zM2315 906l8 3 5-2 8 4 5-5-13 1zM2288 906l6-4 8 4zM2280 904l8 2 6-4zM2217 918l8-3 5-9z"/><path class=aV d="M2647 902l7-13 7 14 6-13 7 16-13-3zM2626 889l7 11 7-11zM2572 884l7-5 7 7zM2525 872l7 3 6 0 7 4 7-2 7 5 6-4-13-1-14-2zM2485 865l5 4 8-2 6 2 7 0zM2477 869l8-4 5 4zM2464 868l6 7 7-6zM2470 875l7-6 6 4zM2456 875l6 7 8-7zM2462 882l8-7 5 5zM2454 891l8-9 6 6zM2447 898l7-7 6 3zM2426 906l6-1 7-2zM2418 909l8-3 6-1zM2384 913l5-6 8 5zM2376 910l8 3 5-6zM2349 912l6-8 8 7zM2302 906l5-7 8 7zM2267 906l5-6 8 4zM2259 905l8 1 5-6zM2246 909l5-7 8 3zM2238 908l8 1 5-7zM2225 915l5-9 8 2zM2209 924l8-6 5-11z"/><path class=aW d="M2640 889l7 13 7-13zM2586 886l6-7 7 8zM2565 878l7 6 7-5zM2511 869l6 2 8 1 6 1 7 2zM2490 869l8-2 6 2 7 0 6 2-13-2zM2477 869l6 4 7-4zM2470 875l5 5 8-7zM2462 882l6 6 7-8zM2454 891l6 3 8-6zM2447 898l6 0 7-4zM2439 903l8-5 6 0zM2418 909l6-5 8 1zM2410 909l8 0 6-5zM2397 912l6-9 7 6zM2363 911l5-11 8 10zM2341 906l8 6 6-8zM2315 906l5-9 8 10zM2294 902l8 4 5-7zM2217 918l5-11 8-1z"/><path class=aX d="M2654 889l7 14 6-13zM2599 887l7-8 7 9zM2579 879l7 7 6-7zM2538 875l6-1 8 3 6-3 7 4-13-1zM2517 871l8 1 6 1 7 2 6-1-13-1zM2490 869l6 3 8-3zM2483 873l7-4 6 3zM2483 873l6 5 7-6zM2475 880l8-7 6 5zM2475 880l6 5 8-7zM2468 888l7-8 6 5zM2460 894l8-6 6 1zM2439 903l6-4 8-1zM2432 905l7-2 6-4zM2389 907l8 5 6-9zM2355 904l8 7 5-11zM2328 907l5-13 8 12zM2307 899l8 7 5-9zM2280 904l6-10 8 8zM2272 900l8 4 6-10zM2259 905l5-11 8 6z"/><path class=aY d="M2613 888l6-10 7 11 7-11 7 11-14 0zM2592 879l7 8 7-8zM2565 878l6-4 8 5zM2544 874l8 3 6-3zM2504 869l6 3 7-1 6 2 8 0zM2496 872l8-3 6 3zM2489 878l7-6 6 4zM2468 888l6 1 7-4zM2460 894l6-2 8-3zM2453 898l7-4 6-2zM2376 910l5-14 8 11zM2320 897l8 10 5-13zM2251 902l8 3 5-11zM2238 908l5-11 8 5zM2230 906l8 2 5-11z"/><path class=aZ d="M2640 889l7-12 7 12zM2606 879l7 9 6-10zM2579 879l6-7 7 7zM2558 874l7 4 6-4zM2531 873l6 0 7 1zM2510 872l7-1 6 2 8 0 6 0-14 0zM2496 872l6 4 8-4zM2489 878l6 2 7-4zM2481 885l8-7 6 2zM2474 889l7-4 6-1zM2453 898l5-7 8 1zM2445 899l8-1 5-7zM2432 905l5-9 8 3zM2424 904l8 1 5-9zM2410 909l6-12 8 7zM2403 903l7 6 6-12zM2368 900l8 10 5-14zM2341 906l6-16 8 14zM2294 902l5-14 8 11zM2286 894l8 8 5-14zM2222 907l8-1 5-11z"/><path class=ba d="M2654 889l6-11 7 12zM2619 878l7 11 7-11zM2592 879l7-8 7 8zM2571 874l8 5 6-7zM2544 874l6-2 8 2zM2537 873l7 1 6-2zM2510 872l6 2 7-1zM2502 876l8-4 6 2zM2481 885l6-1 8-4zM2466 892l8-3 6-4zM2389 907l6-15 8 11zM2333 894l8 12 6-16zM2307 899l5-17 8 15zM2272 900l5-16 9 10zM2264 894l8 6 5-16zM2230 906l5-11 8 2z"/><path class=bb d="M2633 878l7 11 7-12zM2585 872l7 7 7-8zM2558 874l6-4 7 4zM2550 872l8 2 6-4zM2523 873l6-1 8 1zM2516 874l7-1 6-1zM2502 876l6 0 8-2zM2495 880l7-4 6 0zM2474 889l6-4 7-1zM2445 899l6-11 7 3zM2437 896l8 3 6-11zM2424 904l6-14 7 6zM2416 897l8 7 6-14zM2381 896l8 11 6-15zM2355 904l5-19 8 15zM2299 888l8 11 5-17zM2251 902l5-16 8 8zM2243 897l8 5 5-16z"/><path class=bc d="M2647 877l7 12 6-11zM2606 879l6-9 7 8zM2599 871l7 8 6-9zM2571 874l7-6 7 4zM2537 873l6-3 7 2zM2529 872l8 1 6-3zM2516 874l6-1 7-1zM2508 876l8-2 6-1zM2495 880l6-2 7-2zM2487 884l8-4 6-2zM2466 892l6-8 8 1zM2458 891l8 1 6-8zM2403 903l5-16 8 10zM2347 890l8 14 5-19zM2320 897l5-19 8 16z"/><path class=bd d="M2619 878l7-10 7 10zM2564 870l7 4 7-6zM2487 884l6-6 8 0zM2480 885l7-1 6-6zM2395 892l8 11 5-16zM2312 882l8 15 5-19zM2286 894l5-20 8 14zM2235 895l8 2 5-14z"/><path class=be d="M2633 878l7-11 7 10zM2612 870l7 8 7-10zM2585 872l6-7 8 6zM2578 868l7 4 6-7zM2550 872l7-5 7 3zM2543 870l7 2 7-5zM2529 872l7-3 7 1zM2522 873l7-1 7-3zM2508 876l6-3 8 0zM2501 878l7-2 6-3zM2333 894l6-21 8 17zM2277 884l9 10 5-20zM2264 894l5-20 8 10zM2256 886l8 8 5-20zM2243 897l5-14 8 3z"/><path class=bf d="M2647 877l7-10 6 11zM2626 868l7 10 7-11zM2599 871l6-8 7 7zM2564 870l6-6 8 4zM2557 867l7 3 6-6zM2325 878l8 16 6-21z"/><path class=bg d="M2640 867l7 10 7-10zM2591 865l8 6 6-8zM2543 870l6-4 8 1zM2536 869l7 1 6-4zM2522 873l6-4 8 0zM2299 888l5-22 8 16zM2291 874l8 14 5-22z"/><path class=bh d="M2612 870l7-10 7 8zM2605 863l7 7 7-10zM2578 868l6-7 7 4zM2570 864l8 4 6-7zM2557 867l6-5 7 2zM2248 883l8 3 5-17z"/><path class=bi d="M2626 868l7-10 7 9zM2591 865l7-7 7 5zM2549 866l8 1 6-5zM2536 869l6-4 7 1zM2312 882l5-22 8 18zM2277 884l5-22 9 12zM2269 874l8 10 5-22zM2256 886l5-17 8 5z"/><path class=bj d="M2640 867l6-9 8 9zM2619 860l7 8 7-10zM2584 861l7 4 7-7zM2570 864l7-5 7 2zM2563 862l7 2 7-5zM2549 866l6-4 8 0zM2304 866l8 16 5-22z"/><path class=bk d="M2633 858l7 9 6-9zM2605 863l7-9 7 6z"/><path class=bl d="M2598 858l7 5 7-9zM2584 861l6-7 8 4zM2577 859l7 2 6-7zM2563 862l6-4 8 1zM2291 874l5-22 8 14zM2282 862l9 12 5-22zM2261 869l8 5 5-19z"/><path class=bm d="M2619 860l6-9 8 7zM2612 854l7 6 6-9zM2269 874l5-19 8 7z"/><path class=bn d="M2633 858l6-7 7 7zM2598 858l6-8 8 4zM2590 854l8 4 6-8zM2577 859l6-6 7 1z"/><path class=bo d="M2625 851l8 7 6-7z"/><path class=bp d="M2612 854l6-8 7 5zM2604 850l8 4 6-8z"/><path class=bq d="M2625 851l7-6 7 6zM2590 854l7-7 7 3z"/><path class=br d="M2618 846l7 5 7-6z"/><path class=bs d="M2604 850l7-8 7 4z"/><path class=bt d="M2618 846l7-5 7 4z"/></g><g opacity=".8"><path class=ax d="M2532 1125l8-53 6 77z"/><path class=az d="M2540 1072l6 77 8-55z"/><path class=aC d="M2519 1100l8-50 5 75z"/><path class=aE d="M2527 1050l5 75 8-53z"/><path class=aG d="M2505 1075l8-47 6 72z"/><path class=aI d="M2540 1072l9-55 5 77zM2513 1028l6 72 8-50z"/><path class=aL d="M2549 1017l5 77 8-56zM2492 1050l8-42 5 67z"/><path class=aN d="M2527 1050l8-53 5 75zM2500 1008l5 67 8-47z"/><path class=aP d="M2535 997l5 75 9-55z"/><path class=aQ d="M2513 1028l8-47 6 69z"/><path class=aR d="M2486 984l6 66 8-42zM2478 1022l8-38 6 66z"/><path class=aT d="M2521 981l6 69 8-53z"/><path class=aU d="M2549 1017l8-50 5 71zM2500 1008l8-43 5 63z"/><path class=aW d="M2557 967l5 71 8-52zM2508 965l5 63 8-47zM2465 992l7-33 6 63z"/><path class=aX d="M2535 997l8-47 6 67zM2472 959l6 63 8-38z"/><path class=aY d="M2486 984l8-36 6 60z"/><path class=aZ d="M2494 948l6 60 8-43z"/><path class=ba d="M2543 950l6 67 8-50zM2521 981l8-43 6 59z"/><path class=bb d="M2451 968l8-30 6 54z"/><path class=bc d="M2472 959l8-30 6 55zM2459 938l6 54 7-33z"/><path class=bd d="M2368 900l6-19 7 15zM2529 938l6 59 8-47zM2508 965l8-38 5 54zM2480 929l6 55 8-36z"/><path class=be d="M2458 891l6-10 8 3zM2451 888l7 3 6-10zM2437 896l6-14 8 6zM2430 890l7 6 6-14zM2360 885l8 15 6-19zM2557 967l8-42 5 61z"/><path class=bf d="M2501 878l6-5 7 0zM2493 878l8 0 6-5zM2480 885l6-8 7 1zM2472 884l8 1 6-8zM2416 897l6-16 8 9zM2408 887l8 10 6-16zM2381 896l6-18 8 14zM2516 927l5 54 8-43zM2494 948l8-33 6 50zM2437 948l8-29 6 49z"/><path class=bg d="M2514 873l8 0 6-4zM2374 881l7 15 6-18zM2347 890l5-23 8 18zM2565 925l5 61 9-46zM2543 950l8-38 6 55zM2445 919l6 49 8-30z"/><path class=bh d="M2507 873l7 0 7-5zM2493 878l6-7 8 2zM2486 877l7 1 6-7zM2472 884l6-10 8 3zM2464 881l8 3 6-10zM2451 888l6-12 7 5zM2443 882l8 6 6-12zM2430 890l5-15 8 7zM2395 892l6-17 7 12zM2502 915l6 50 8-38zM2467 912l5 47 8-30zM2459 938l8-26 5 47z"/><path class=bi d="M2528 869l8 0 6-4zM2514 873l7-5 7 1zM2422 881l8 9 5-15zM2387 878l8 14 6-17zM2360 885l6-22 8 18zM2551 912l6 55 8-42zM2339 873l8 17 5-23zM2480 929l8-26 6 45z"/><path class=bj d="M2542 865l7 1 6-4zM2528 869l6-4 8 0zM2521 868l7 1 6-4zM2507 873l6-6 8 1zM2499 871l8 2 6-6zM2486 877l6-7 7 1zM2478 874l8 3 6-7zM2464 881l6-10 8 3zM2408 887l6-15 8 9zM2529 938l8-35 6 47zM2488 903l6 45 8-33zM2424 925l8-26 5 49z"/><path class=bk d="M2457 876l7 5 6-10zM2443 882l6-11 8 5zM2435 875l8 7 6-11zM2401 875l7 12 6-15zM2374 881l5-18 8 15zM2537 903l6 47 8-38zM2352 867l8 18 6-22zM2516 927l8-31 5 42zM2325 878l6-23 8 18zM2445 919l8-24 6 43zM2432 899l5 49 8-29z"/><path class=bl d="M2555 862l8 0 6-4zM2542 865l6-3 7 0zM2534 865l8 0 6-3zM2521 868l6-3 7 0zM2513 867l8 1 6-3zM2499 871l6-5 8 1zM2492 870l7 1 6-5zM2422 881l6-13 7 7zM2387 878l6-14 8 11zM2366 863l8 18 5-18zM2502 915l8-25 6 37zM2475 891l5 38 8-26zM2317 860l8 18 6-23zM2467 912l8-21 5 38zM2453 895l6 43 8-26z"/><path class=bm d="M2478 874l6-6 8 2zM2470 871l8 3 6-6zM2457 876l6-8 7 3zM2449 871l8 5 6-8zM2414 872l8 9 6-13zM2565 925l8-35 6 50zM2524 896l5 42 8-35zM2339 873l5-23 8 17z"/><path class=bn d="M2569 858l8 1 6-6zM2555 862l7-4 7 0zM2548 862l7 0 7-4zM2534 865l6-3 8 0zM2527 865l7 0 6-3zM2513 867l6-2 8 0zM2505 866l8 1 6-2zM2492 870l6-4 7 0zM2484 868l8 2 6-4zM2435 875l6-9 8 5zM2573 890l6 50 8-38zM2428 868l7 7 6-9zM2401 875l5-12 8 9zM2510 890l6 37 8-31zM2379 863l8 15 6-14zM2488 903l8-19 6 31zM2304 866l5-20 8 14zM2418 882l6 43 8-26zM2410 902l8-20 6 43z"/><path class=bo d="M2470 871l6-3 8 0zM2463 868l7 3 6-3zM2551 912l8-29 6 42zM2414 872l6-9 8 5zM2496 884l6 31 8-25zM2393 864l8 11 5-12zM2475 891l7-14 6 26zM2352 867l6-21 8 17zM2461 879l6 33 8-21zM2331 855l8 18 5-23zM2453 895l8-16 6 33zM2439 879l6 40 8-24zM2296 852l8 14 5-20zM2432 899l7-20 6 40z"/><path class=bp d="M2569 858l7-5 7 0zM2562 858l7 0 7-5zM2548 862l6-2 8-2zM2540 862l8 0 6-2zM2527 865l6-1 7-2zM2519 865l8 0 6-1zM2505 866l7 0 7-1zM2498 866l7 0 7 0zM2484 868l6 1 8-3zM2476 868l8 0 6 1zM2449 871l6-4 8 1 6 3 7-3-13 0zM2559 883l6 42 8-35zM2441 866l8 5 6-4zM2510 890l8-17 6 23 7-21 6 28 8-24 6 33-14-9-13-7zM2482 877l6 26 8-19zM2406 863l8 9 6-9zM2282 862l6-18 8 8zM2274 855l8 7 6-18z"/><path class=bq d="M2583 853l7 1 7-7zM2540 862l7 1 7-3zM2533 864l7-2 7 1zM2519 865l6 1 8-2zM2512 866l7-1 6 1zM2498 866l6 6 8-6zM2490 869l8-3 6 6zM2476 868l6 9 8-8 6 15 8-12 6 18 8-17 6 23 7-21 6 28 8-24 6 33 8-29-28-8-13-2-14-1-14-3zM2455 867l8 1 6 3 7-3 6 9 8-8 6 15 8-12 6 18-14-6-27-13zM2428 868l6-4 7 2 6 4 8-3 6 12 8-8 6 20 7-14-13-6-14-4-14-1zM2420 863l8 5 6-4zM2461 879l8-8 6 20zM2366 863l5-15 8 15 6-9 8 10-14-1zM2447 870l6 25 8-16zM2344 850l8 17 6-21zM2439 879l8-9 6 25zM2317 860l6-18 8 13zM2426 868l6 31 7-20z"/><path class=br d="M2562 858l6-4 8-1zM2554 860l8-2 6-4zM2533 864l6 3 8-4zM2525 866l8-2 6 3zM2512 866l6 7 7-7zM2504 872l8-6 6 7 7-7 6 9-13-2zM2434 864l7 2 6 4 8-3 6 12-14-9zM2393 864l5-6 8 5 6-1 8 1-14 0zM2434 864l5 15 8-9zM2358 846l8 17 5-15zM2309 846l8 14 6-18zM2418 882l8-14 6 31zM2404 869l6 33 8-20zM2396 882l8-13 6 33z"/><path class=bs d="M2597 847l7 3 7-8zM2583 853l7-7 7 1zM2576 853l7 0 7-7zM2554 860l7-1 7-5zM2547 863l7-3 7-1zM2547 863l6 3 8-7zM2539 867l8-4 6 3zM2525 866l6 9 8-8 6 12 8-13-14 1zM2531 875l8-8 6 12 8-13 6 17 8-19 6 26 8-25 6 37-14-12-14-7zM2420 863l6 5 8-4zM2371 848l8 15 6-9 8 10 5-6 8 5 6-1 8 1 6 5 8-4 5 15-13-11-14-6-27-8zM2331 855l5-19 8 14zM2412 862l6 20 8-14zM2404 869l8-7 6 20zM2296 852l5-13 8 7zM2288 844l8 8 5-13z"/><path class=bt d="M2611 842l7 4 7-5zM2568 854l8-1 6-7zM2553 866l6 17 8-19zM2581 865l6 37 8-30zM2398 858l6 11 8-7zM2323 842l8 13 5-19zM2390 858l6 24 8-13z"/><path class=bu d="M2597 847l7-7 7 2zM2590 846l7 1 7-7zM2576 853l6-7 8 0zM2561 859l7-5 7-2zM2553 866l8-7 6 5zM2567 864l6 26 8-25zM2344 850l6-17 8 13zM2371 848l6 0 8 6 5 4 8 0-13-4zM2390 858l8 0 6 11zM2309 846l5-11 9 7zM2383 866l7-8 6 24z"/><path class=bv d="M2611 842l6-2 8 1zM2568 854l7-2 7-6zM2561 859l6 5 8-12zM2567 864l8-12 6 13zM2358 846l5-8 8 10zM2336 836l8 14 6-17zM2377 848l8 6 5 4zM2377 848l6 18 7-8zM2301 839l8 7 5-11z"/><path class=bw d="M2604 840l7 2 6-2zM2590 846l6-6 8 0zM2582 846l8 0 6-6zM2575 852l7-6 7 2zM2575 852l6 13 8-17zM2581 865l8-17 6 24zM2350 833l8 13 5-8 8 10 6 0-14-10zM2323 842l5-9 8 3zM2314 835l9 7 5-9zM2369 852l8-4 6 18z"/><path class=bx d="M2604 840l6 2 7-2zM2582 846l7 2 7-8zM2589 848l6 24 7-20zM2363 838l6 14 8-4z"/><path class=by d="M2596 840l8 0 6 2zM2596 840l6 12 8-10zM2589 848l7-8 6 12zM2336 836l6-3 8 0 5 7 8-2-13-5zM2328 833l8 3 6-3zM2355 840l8-2 6 14z"/><path class=bz d="M2342 833l8 0 5 7z"/></g></g><g transform="translate(-123.5 -17) scale(1.63056)">
   <text style="font-size:12px;text-anchor:middle" x="807.83" y="20.16">Reynolds vs Concentration and Heat Flux</text><path d="M1035.81 326.49L1075.85 326.49L1075.85 126.27L1035.81 126.27z" style="fill:#ffffff"/><rect x="1035.81" y="126.27" width="40.04" height="200.22" fill="url(#vg)" fill-opacity=".8"/><path d="M0 0L3.5 0" transform="translate(1075.85 304.72)" style="stroke:#000000;stroke-width:0.8"/><text style="font-size:10px;text-anchor:start" x="1082.85" y="308.52">8000</text><path d="M0 0L3.5 0" transform="translate(1075.85 279.41)" style="stroke:#000000;stroke-width:0.8"/><text style="font-size:10px;text-anchor:start" x="1082.85" y="283.21">10000</text><path d="M0 0L3.5 0" transform="translate(1075.85 254.1)" style="stroke:#000000;stroke-width:0.8"/><text style="font-size:10px;text-anchor:start" x="1082.85" y="257.9">12000</text><path d="M0 0L3.5 0" transform="translate(1075.85 228.78)" style="stroke:#000000;stroke-width:0.8"/><text style="font-size:10px;text-anchor:start" x="1082.85" y="232.58">14000</text><path d="M0 0L3.5 0" transform="translate(1075.85 203.47)" style="stroke:#000000;stroke-width:0.8"/><text style="font-size:10px;text-anchor:start" x="1082.85" y="207.27">16000</text><path d="M0 0L3.5 0" transform="translate(1075.85 178.16)" style="stroke:#000000;stroke-width:0.8"/><text style="font-size:10px;text-anchor:start" x="1082.85" y="181.96">18000</text><path d="M0 0L3.5 0" transform="translate(1075.85 152.85)" style="stroke:#000000;stroke-width:0.8"/><text style="font-size:10px;text-anchor:start" x="1082.85" y="156.65">20000</text><path d="M0 0L3.5 0" transform="translate(1075.85 127.54)" style="stroke:#000000;stroke-width:0.8"/><text style="font-size:10px;text-anchor:start" x="1082.85" y="131.33">22000</text><text style="font-size:10px;text-anchor:middle" x="1126.26" y="226.38" transform="rotate(-90 1126.26 226.38)">Reynolds Number</text><path d="M1035.81 326.49L1055.83 326.49L1075.85 326.49L1075.85 126.27L1055.83 126.27L1035.81 126.27L1035.81 326.49z" style="fill:none;stroke:#000000;stroke-width:0.8;stroke-linejoin:miter;stroke-linecap:square"/><path d="M54.44 853.2L454.88 853.2L454.88 452.76L54.44 452.76z" style="fill:#ffffff"/><path d="M84.68 754.46L216.91 643.62L215.08 483.76L76.51 584.88" style="fill:#f2f2f2;opacity:0.5;stroke:#f2f2f2;stroke-linejoin:miter"/><path d="M216.91 643.62L429.11 705.3L436.68 539.93L215.08 483.76" style="fill:#e6e6e6;opacity:0.5;stroke:#e6e6e6;stroke-linejoin:miter"/><path d="M84.68 754.46L309.61 827.93L429.11 705.3L216.91 643.62" style="fill:#ececec;opacity:0.5;stroke:#ececec;stroke-linejoin:miter"/><path d="M110.83 763.01L241.69 650.82L240.9 490.31" style="fill:none;stroke:#b0b0b0;stroke-width:0.8"/><path d="M136.13 771.27L265.62 657.78L265.86 496.63" style="fill:none;stroke:#b0b0b0;stroke-width:0.8"/><path d="M161.73 779.63L289.82 664.81L291.11 503.03" style="fill:none;stroke:#b0b0b0;stroke-width:0.8"/><path d="M187.65 788.1L314.29 671.92L316.65 509.51" style="fill:none;stroke:#b0b0b0;stroke-width:0.8"/><path d="M213.89 796.66L339.04 679.12L342.5 516.06" style="fill:none;stroke:#b0b0b0;stroke-width:0.8"/><path d="M240.45 805.34L364.06 686.39L368.65 522.69" style="fill:none;stroke:#b0b0b0;stroke-width:0.8"/><path d="M267.34 814.12L389.38 693.75L395.12 529.4" style="fill:none;stroke:#b0b0b0;stroke-width:0.8"/><path d="M294.58 823.02L414.98 701.19L421.9 536.19" style="fill:none;stroke:#b0b0b0;stroke-width:0.8"/><path d="M87.07 577.17L94.72 746.04L318.73 818.58" style="fill:none;stroke:#b0b0b0;stroke-width:0.8"/><path d="M103.43 565.23L110.29 732.99L332.84 804.09" style="fill:none;stroke:#b0b0b0;stroke-width:0.8"/><path d="M119.46 553.54L125.56 720.19L346.67 789.9" style="fill:none;stroke:#b0b0b0;stroke-width:0.8"/><path d="M135.18 542.07L140.54 707.64L360.22 775.99" style="fill:none;stroke:#b0b0b0;stroke-width:0.8"/><path d="M150.58 530.83L155.24 695.32L373.51 762.36" style="fill:none;stroke:#b0b0b0;stroke-width:0.8"/><path d="M165.69 519.8L169.67 683.22L386.53 748.99" style="fill:none;stroke:#b0b0b0;stroke-width:0.8"/><path d="M180.5 508.99L183.82 671.36L399.31 735.88" style="fill:none;stroke:#b0b0b0;stroke-width:0.8"/><path d="M195.03 498.39L197.72 659.71L411.83 723.03" style="fill:none;stroke:#b0b0b0;stroke-width:0.8"/><path d="M209.29 487.98L211.37 648.27L424.12 710.42" style="fill:none;stroke:#b0b0b0;stroke-width:0.8"/><path d="M429.55 695.58L216.81 634.21L84.2 744.52" style="fill:none;stroke:#b0b0b0;stroke-width:0.8"/><path d="M430.37 677.78L216.61 616.97L83.32 726.28" style="fill:none;stroke:#b0b0b0;stroke-width:0.8"/><path d="M431.19 659.8L216.41 599.57L82.43 707.87" style="fill:none;stroke:#b0b0b0;stroke-width:0.8"/><path d="M432.02 641.65L216.21 582.01L81.54 689.26" style="fill:none;stroke:#b0b0b0;stroke-width:0.8"/><path d="M432.86 623.32L216 564.29L80.63 670.47" style="fill:none;stroke:#b0b0b0;stroke-width:0.8"/><path d="M433.71 604.81L215.8 546.4L79.72 651.48" style="fill:none;stroke:#b0b0b0;stroke-width:0.8"/><path d="M434.57 586.12L215.59 528.34L78.79 632.31" style="fill:none;stroke:#b0b0b0;stroke-width:0.8"/><path d="M435.43 567.24L215.38 510.12L77.86 612.93" style="fill:none;stroke:#b0b0b0;stroke-width:0.8"/><path d="M436.3 548.18L215.17 491.72L76.92 593.35" style="fill:none;stroke:#b0b0b0;stroke-width:0.8"/><path d="M84.68 754.46L309.61 827.93" style="fill:none;stroke:#000000;stroke-width:0.8;stroke-linecap:square"/><path d="M111.97 762.03L108.55 764.97" style="fill:none;stroke:#000000;stroke-width:0.8;stroke-linecap:square"/><text style="font-size:10px;text-anchor:middle" x="103.32" y="786.35">0.06</text><path d="M137.26 770.28L133.87 773.25" style="fill:none;stroke:#000000;stroke-width:0.8;stroke-linecap:square"/><text style="font-size:10px;text-anchor:middle" x="128.64" y="794.73">0.08</text><path d="M162.85 778.63L159.49 781.64" style="fill:none;stroke:#000000;stroke-width:0.8;stroke-linecap:square"/><text style="font-size:10px;text-anchor:middle" x="154.26" y="803.21">0.10</text><path d="M188.76 787.08L185.44 790.13" style="fill:none;stroke:#000000;stroke-width:0.8;stroke-linecap:square"/><text style="font-size:10px;text-anchor:middle" x="180.19" y="811.8">0.12</text><path d="M214.98 795.64L211.7 798.72" style="fill:none;stroke:#000000;stroke-width:0.8;stroke-linecap:square"/><text style="font-size:10px;text-anchor:middle" x="206.45" y="820.49">0.14</text><path d="M241.53 804.3L238.29 807.42" style="fill:none;stroke:#000000;stroke-width:0.8;stroke-linecap:square"/><text style="font-size:10px;text-anchor:middle" x="233.04" y="829.28">0.16</text><path d="M268.41 813.07L265.21 816.23" style="fill:none;stroke:#000000;stroke-width:0.8;stroke-linecap:square"/><text style="font-size:10px;text-anchor:middle" x="259.95" y="838.19">0.18</text><path d="M295.63 821.95L292.47 825.15" style="fill:none;stroke:#000000;stroke-width:0.8;stroke-linecap:square"/><text style="font-size:10px;text-anchor:middle" x="287.21" y="847.21">0.20</text><text style="font-size:10px;text-anchor:middle" x="177.08" y="828.03" transform="rotate(-341.91 177.08 828.03)">Nano Fluids Concentration</text><path d="M429.11 705.3L309.61 827.93" style="fill:none;stroke:#000000;stroke-width:0.8;stroke-linecap:square"/><path d="M316.84 817.96L322.51 819.8" style="fill:none;stroke:#000000;stroke-width:0.8;stroke-linecap:square"/><text style="font-size:10px;text-anchor:middle" x="331.6" y="839.59">8000</text><path d="M330.97 803.49L336.6 805.29" style="fill:none;stroke:#000000;stroke-width:0.8;stroke-linecap:square"/><text style="font-size:10px;text-anchor:middle" x="345.59" y="824.96">10000</text><path d="M344.81 789.31L350.4 791.07" style="fill:none;stroke:#000000;stroke-width:0.8;stroke-linecap:square"/><text style="font-size:10px;text-anchor:middle" x="359.29" y="810.63">12000</text><path d="M358.38 775.41L363.93 777.14" style="fill:none;stroke:#000000;stroke-width:0.8;stroke-linecap:square"/><text style="font-size:10px;text-anchor:middle" x="372.73" y="796.58">14000</text><path d="M371.67 761.79L377.19 763.48" style="fill:none;stroke:#000000;stroke-width:0.8;stroke-linecap:square"/><text style="font-size:10px;text-anchor:middle" x="385.89" y="782.81">16000</text><path d="M384.71 748.44L390.18 750.1" style="fill:none;stroke:#000000;stroke-width:0.8;stroke-linecap:square"/><text style="font-size:10px;text-anchor:middle" x="398.8" y="769.32">18000</text><path d="M397.5 735.34L402.93 736.97" style="fill:none;stroke:#000000;stroke-width:0.8;stroke-linecap:square"/><text style="font-size:10px;text-anchor:middle" x="411.46" y="756.08">20000</text><path d="M410.04 722.49L415.43 724.09" style="fill:none;stroke:#000000;stroke-width:0.8;stroke-linecap:square"/><text style="font-size:10px;text-anchor:middle" x="423.87" y="743.1">22000</text><path d="M422.34 709.89L427.7 711.46" style="fill:none;stroke:#000000;stroke-width:0.8;stroke-linecap:square"/><text style="font-size:10px;text-anchor:middle" x="436.05" y="730.36">24000</text><text style="font-size:10px;text-anchor:middle" x="400.92" y="793.74" transform="rotate(-45.74 400.92 793.74)">Reynolds Number</text><path d="M429.11 705.3L436.68 539.93" style="fill:none;stroke:#000000;stroke-width:0.8;stroke-linecap:square"/><path d="M427.77 695.07L433.13 696.61" style="fill:none;stroke:#000000;stroke-width:0.8;stroke-linecap:square"/><text style="font-size:10px;text-anchor:middle" x="447.87" y="700.59">60</text><path d="M428.58 677.27L433.96 678.8" style="fill:none;stroke:#000000;stroke-width:0.8;stroke-linecap:square"/><text style="font-size:10px;text-anchor:middle" x="448.77" y="682.81">80</text><path d="M429.39 659.3L434.8 660.81" style="fill:none;stroke:#000000;stroke-width:0.8;stroke-linecap:square"/><text style="font-size:10px;text-anchor:middle" x="449.68" y="664.85">100</text><path d="M430.21 641.15L435.65 642.65" style="fill:none;stroke:#000000;stroke-width:0.8;stroke-linecap:square"/><text style="font-size:10px;text-anchor:middle" x="450.6" y="646.72">120</text><path d="M431.04 622.82L436.51 624.31" style="fill:none;stroke:#000000;stroke-width:0.8;stroke-linecap:square"/><text style="font-size:10px;text-anchor:middle" x="451.53" y="628.42">140</text><path d="M431.88 604.32L437.38 605.8" style="fill:none;stroke:#000000;stroke-width:0.8;stroke-linecap:square"/><text style="font-size:10px;text-anchor:middle" x="452.47" y="609.94">160</text><path d="M432.73 585.64L438.25 587.09" style="fill:none;stroke:#000000;stroke-width:0.8;stroke-linecap:square"/><text style="font-size:10px;text-anchor:middle" x="453.41" y="591.27">180</text><path d="M433.58 566.76L439.14 568.21" style="fill:none;stroke:#000000;stroke-width:0.8;stroke-linecap:square"/><text style="font-size:10px;text-anchor:middle" x="454.37" y="572.42">200</text><path d="M434.44 547.71L440.03 549.13" style="fill:none;stroke:#000000;stroke-width:0.8;stroke-linecap:square"/><text style="font-size:10px;text-anchor:middle" x="455.33" y="553.39">220</text><text style="font-size:10px;text-anchor:middle" x="476.04" y="619.13" transform="rotate(-87.38 476.04 619.13)">Nusselt Number</text><path d="M117.38 739.39L121.24 740.57L125.06 741.78L128.9 742.99L132.75 744.19L136.62 745.39L140.51 746.57L144.42 747.75L148.34 748.92L152.26 750.1L156.16 751.32L159.99 752.59L163.81 753.89L167.64 755.19L171.49 756.48L175.35 757.76L179.24 759.03L183.14 760.3L187.04 761.57L190.94 762.86L194.79 764.2L197.55 765.23L198.58 765.61L202.38 767.02L206.2 768.42L210.06 769.79L213.96 771.14L217.9 772.45L221.88 773.75L225.87 775.03L229.84 776.36L233.66 777.82L237.4 779.38L241.15 780.93L244.97 782.44L248.86 783.88L252.85 785.25L256.92 786.54L261.07 787.77L265.28 788.95L269.48 790.15L273.52 791.51L277.47 792.97L281.42 794.44L285.42 795.88L289.46 797.28L293.55 798.65L297.7 799.97L301.9 801.24L306.16 802.48L310.45 803.68" style="fill:none;stroke:#472d7b;stroke-width:1.5"/><path d="M136.1 723.56L140.15 724.52L144.29 725.4L147.01 725.99L148.44 726.29L152.56 727.21L156.59 728.21L160.53 729.29L164.4 730.45L168.19 731.67L171.93 732.95L175.64 734.27L179.34 735.61L183.08 736.91L186.84 738.21L190.59 739.53L194.31 740.88L194.51 740.95L198.01 742.26L201.68 743.68L205.31 745.15L208.9 746.66L212.45 748.21L215.98 749.8L219.47 751.42L221.19 752.25L222.96 753.08L226.44 754.74L229.94 756.4L233.47 758.05L237.09 759.62L240.75 761.16L242.29 761.82L244.42 762.71L248.07 764.29L251.7 765.9L255.31 767.53L258.93 769.18L262.61 770.78L266.35 772.33L266.9 772.55L270.16 773.83L274.03 775.28L278.01 776.63L282.21 777.78L286.57 778.79L286.59 778.79L291.02 779.71L295.49 780.62L299.97 781.53L304.48 782.42L309.07 783.23L310.93 783.53L313.76 783.94L318.52 784.6L323.31 785.23L327.32 785.75L328.12 785.85" style="fill:none;stroke:#3b528b;stroke-width:1.5"/><path d="M161.79 701.83L165.77 702.77L169.54 703.9L173.17 705.16L176.73 706.48L180.26 707.84L183.76 709.24L187.25 710.66L187.58 710.79L190.71 712.1L194.19 713.55L197.67 715L201.16 716.45L204.65 717.91L208.16 719.37L211.67 720.83L213.1 721.43L215.18 722.3L218.68 723.8L222.17 725.31L225.64 726.86L229.09 728.42L232.53 730.02L233.76 730.6L235.96 731.63L239.38 733.27L242.8 734.91L246.24 736.55L249.7 738.18L250.82 738.69L253.2 739.79L256.72 741.38L260.29 742.95L263.87 744.51L267.5 746.05L271.19 747.53L274.96 748.95L276.64 749.54L278.81 750.31L282.76 751.58L286.81 752.76L287.94 753.06L290.96 753.86L295.21 754.86L299.57 755.77L304.02 756.6L308.56 757.35L313.13 758.07L313.42 758.12L317.64 758.86L322.15 759.65L326.69 760.43L331.25 761.18L333.98 761.64L335.8 761.96L340.29 762.8L344.71 763.71L349.04 764.73" style="fill:none;stroke:#2c728e;stroke-width:1.5"/><path d="M173.44 691.97L177.35 692.94L181.21 693.96L185.07 694.99L188.94 696.02L192.85 697.02L196.82 697.97L200.86 698.87L203.62 699.44L204.96 699.72L209.08 700.56L213.23 701.38L217.4 702.19L221.58 703L225.76 703.81L228.88 704.44L229.91 704.65L234.01 705.54L238.04 706.51L241.98 707.56L245.83 708.69L249.58 709.93L253.24 711.26L256.81 712.68L258.88 713.56L260.3 714.17L263.78 715.7L267.23 717.26L270.65 718.86L274.04 720.5L276.22 721.56L277.43 722.14L280.84 723.79L284.3 725.4L287.84 726.95L291.51 728.37L295.29 729.72L299.13 731.01L303 732.28L306.9 733.53L310.82 734.79L313.61 735.71L314.71 736.07L318.55 737.41L322.39 738.76L326.28 740.07L330.25 741.32L334.28 742.51L338.36 743.67L342.48 744.79L346.64 745.89L348.54 746.37L350.83 746.96L355.04 748.03L359.24 749.1L363.38 750.25" style="fill:none;stroke:#21918c;stroke-width:1.5"/><path d="M181.75 684.94L183.17 685.25L185.76 685.81L189.85 686.61L194 687.36L198.23 688.06L202.54 688.68L203.66 688.81L207.03 689.15L211.73 689.45L215 689.6L216.57 689.63L221.51 689.72L224.34 689.78L226.48 689.79L231.43 689.87L233.61 689.94L236.32 690.01L241.12 690.23L243.98 690.43L245.79 690.56L250.34 691.01L254.81 691.52L257.56 691.87L259.23 692.1L263.56 692.75L267.78 693.5L271.82 694.43L275.71 695.5L279.5 696.66L283.23 697.89L286.92 699.16L290.57 700.49L294.16 701.87L297.69 703.33L301.14 704.87L301.37 704.98L304.5 706.49L307.83 708.17L311.11 709.9L313.76 711.34L314.36 711.67L317.59 713.48L320.82 715.3L323.93 717.06L324.05 717.13L327.32 718.94L330.62 720.73L333.95 722.51L335.06 723.1L337.31 724.27L340.71 726.01L344.13 727.73L347.61 729.43L348.54 729.86L351.15 731.06L354.76 732.64L358.43 734.17L362.16 735.66L365.94 737.11L369.77 738.52L373.67 739.86" style="fill:none;stroke:#28ae80;stroke-width:1.5"/><path d="M190.67 677.39L193.57 677.92L194.8 678.13L199.22 678.63L203.98 678.83L205.3 678.83L209.22 678.63L212.4 678.37L214.95 678L218.25 677.53L221.13 676.98L223.77 676.59L227.14 676.11L230.06 675.89L232.59 675.71L237.67 675.63L237.86 675.64L242.49 675.78L247.07 676.14L248.88 676.34L251.5 676.63L255.83 677.23L260.1 677.87L264.39 678.51L265.34 678.65L268.67 679.15L272.88 679.86L277.01 680.65L281.06 681.51L285.06 682.43L289.03 683.39L292.97 684.37L296.61 685.32L296.88 685.39L300.77 686.44L304.63 687.52L308.47 688.63L312.29 689.77L316.08 690.94L319.83 692.15L320.24 692.29L323.54 693.41L327.17 694.77L330.65 696.27L334.05 697.85L337.41 699.48L339.71 700.63L340.75 701.16L344.06 702.87L347.35 704.61L350.62 706.38L350.95 706.57L353.82 708.24L356.91 710.21L358.82 711.53L359.91 712.29L362.88 714.42L365.1 716.03L365.84 716.57L368.85 718.69L371.7 720.66L371.9 720.79L375.07 722.78L378.35 724.68L381.13 726.14L381.76 726.46L385.42 728" style="fill:none;stroke:#5ec962;stroke-width:1.5"/><path d="M390.07 699.89L392.21 700.6L396.05 701.85L399.92 703.07L403.8 704.3L407.63 705.59" style="fill:none;stroke:#addc30;stroke-width:1.5"/>
   </g><g class=sf transform="scale(.5)"><g opacity=".8"><path class=aa d="M109 2360l8-15 5 20 8-16 4 20 8-16 5 20 8-16 4 19 8-16 5 20 8-16 5 20 7-16 5 20 8-16 5 20 8-16 4 20 8-16 5 20 8-16 5 20 8-16 5 20 7-16 5 20 8-16 5 20 8-16 5 20 8-16 5 20 8-16 5 20 7-16 6 20 7-15 5 19 8-15 5 19 8-15 5 20 8-17 5 21 8-17 5 21 8-17 5 21 8-17 5 21 8-17 5 21 8-16 6 21 7-17 6 21 7-17 6 21 8-17 5 21 8-17 5 20-13-3-39-12-27-9-52-16-13-5-204-64-25-7zM109 2360l5 20 8-15 4 19 8-15 5 19 8-15 5 19 7-16 5 20 8-16 5 20 8-16 4 20 8-16 5 19 8-15 5 19 7-15 5 19 8-15 5 19 8-15 5 19 8-15 5 20 7-16 5 20 8-16 5 20 8-16 5 20 8-16 5 20 8-16 5 20 8-16 5 20 7-16 6 20 7-16 5 21 8-16 5 20 8-16 5 20 8-16 6 21 7-17 6 21 7-17 6 21 7-17 6 21 8-16 5 20 8-16 5 20 8-16 5 20 8-16 5 21 8-18 6 22 7-18 6 22 8-18 5 22 8-18 5 23 8-18 6 22 7-18 6 22 8-18 5 23 8-18 6 22 8-18 5 22 8-18 6 23 7-18 6 22 8-18 6 22 7-18 6 22 8-18 6 23 8-19 5 23 8-19 6 24 8-19 6 24 7-19 6 23 8-19-14-4-27-10-68-20-13-5-27-8-13-5-27-8-13-5-40-12-13-3-39-12-27-9-52-16-13-5-204-64-25-7zM101 2376l8-16 5 20 8-15 4 19 8-15 5 19 8-15 5 19 7-16 5 20 8-16 5 20 8-16 4 20 8-16 5 19 8-15 5 19 7-15 5 19 8-15 5 19 8-15 5 19 8-15 5 20 7-16 5 20 8-16 5 20 8-16 5 20 8-16 5 20 8-16 5 20 8-16 5 20 7-16 6 20 7-16 5 21 8-16 5 20 8-16 5 20 8-16 6 21 7-17 6 21 7-17 6 21 7-17 6 21 8-16 5 20 8-16 5 20 8-16 5 20 8-16 5 21 8-18 6 22 7-18 6 22 8-18 5 22 8-18 5 23 8-18 6 22 7-18 6 22 8-18 5 23 8-18 6 22 8-18 5 22 8-18 6 23 7-18 6 22 8-18 6 22 7-18 6 22 8-18 6 23 8-19 5 23 8-19 6 24 8-19 6 24 7-19 6 23-27-9-54-18-27-8-27-9-14-4-13-5-27-8-13-5-40-12-13-5-78-24-27-9-13-4-12-5-90-28-13-5-51-16-13-3z"/><path class=ab d="M117 2345l5 20 8-16 4 20 8-16 5 20 8-16 4 19 8-16 5 20 8-16 5 20 7-16 5 20 8-16 5 20 8-16 4 20 8-16 5 20 8-16 5 20 8-16 5 20 7-16 5 20 8-16 5 20 8-16 5 20 8-16 5 20 8-16 5 20 7-16 6 20 7-15 5 19 8-15 5 19 8-15 5 20 8-17 5 21 8-17 5 21 8-17 5 21 8-17 5 21 8-17 5 21 8-16 6 21 7-17 6 21 7-17 6 21 8-17 5 21 8-17 5 20 8-17-13-3-53-16-13-5-52-16-13-3-26-8-25-9-153-48-25-7zM507 2485l8-17 5 21 8-17 6 21 7-18 6 22 8-18 5 23 8-19 5 23 8-19 6 23 8-18 5 23 8-18 6 22 7-18 6 22 8-18 5 23 8-19 6 23 8-19 5 23 8-19 6 23 8-20 6 24 7-19 6 23 8-19 6 24 7-19 6 24 8-20 6 24-14-4-27-10-68-20-13-5-27-8-13-5-27-8-13-5z"/><path class=ac d="M117 2345l8-16 5 20 8-16 4 20 8-16 5 20 8-16 4 19 8-16 5 20 8-16 4 20 8-16 5 20 8-15 5 19 7-15 5 19 8-15 5 19 8-15 5 19 8-15 4 19 8-15 5 19 8-15 5 19 8-15 5 19 8-16 5 20 7-15 5 19 8-15 5 20-25-9-153-48-25-7zM515 2468l5 21 8-17 6 21 7-18 6 22 8-18 5 23 8-19 5 23 8-19 6 23 8-18 5 23 8-18 6 22 7-18 6 22 8-18 5 23 8-19 6 23 8-19 5 23 8-19 6 23 8-20 6 24 7-19 6 23 8-19 6 24 7-19 6 24 8-20 6 24 8-19-14-5-14-4-13-5-14-4-13-5-14-3-67-20-27-10-40-12-13-3z"/><path class=ad d="M125 2329l5 20 8-16 4 20 8-16 5 20 8-16 4 19 8-16 5 20 8-16 4 20 8-16 5 20 8-15 5 19 7-15 5 19 8-15 5 19 8-15 5 19 8-15 4 19 8-15 5 19 8-15 5 19 8-15 5 19 8-16 5 20 7-15 5 19 8-15 5 20 8-16 5 20 8-16 5 20 8-17 5 20 8-16-13-4-13-3-39-12-12-5-13-3-89-28-25-9-38-11zM345 2417l8-16 5 20 8-16 5 20 8-17 5 20 8-16 5 20 8-16 5 20 8-16 5 20 8-17 5 21 8-17 5 22 8-18 5 22 8-17 5 21 8-17 6 21 7-17 6 21 7-18 6 21 8-18 5 22-13-4-13-3-53-16-13-5-52-16-13-3z"/><path class=ae d="M392 2412l5 20 8-16 5 20 8-16 5 20 8-17 5 21 8-17 5 22 8-18 5 22 8-17 5 21 8-17 6 21 7-17 6 21 7-18 6 21 8-18 5 22 8-19-40-9-26-8-13-5-26-8-13-3zM528 2472l8-19 5 22 8-18 6 22 7-19 6 23 8-19 5 23 8-19 6 24 7-19 6 24 8-19 5 23 8-18 6 22 7-18 6 22 8-19 6 23 7-19 6 23 8-20 6 23 7-19 6 24 8-20 6 24 8-20 5 25 8-20 6 24 8-19 6 24-14-5-14-4-13-5-14-4-13-5-14-3-67-20-27-10-40-12z"/><path class=af d="M246 2349l5 20 8-16 5 20 7-16zM125 2329l8-17 5 21 7-17 5 21 8-17 5 21 7-17 5 20 8-16 5 20 7-16 5 20 8-16 5 21 8-16 4 20 8-16 5 20 8-16 5 20 8-16 5 20 7-16 5 20 8-16 5 20 8-16 5 20 8-16 5 19 7-16 5 21 8-17 5 21 8-17 5 21 8-17 5 21 8-17 5 20 8-16 5 20 8-16 5 20 8-17 5 21 8-17 5 20-13-3-39-12-13-3-39-12-12-5-13-3-89-28-25-9-38-11zM536 2453l5 22 8-18 6 22 7-19 6 23 8-19 5 23 8-19 6 24 7-19 6 24 8-19 5 23 8-18 6 22 7-18 6 22 8-19 6 23 7-19 6 23 8-20 6 23 7-19 6 24 8-20 6 24 8-20 5 25 8-20 6 24 8-19 6 24 7-19-40-15-41-12-14-3-13-4-14-3-13-4-40-15-27-8-13-3z"/><path class=ag d="M133 2312l5 21 7-17 5 21 8-17 5 21 7-17 5 20 8-16 5 20 7-16 5 20 8-16 5 21 8-16 4 20 8-16 5 20 8-16-25-8-13-5zM271 2357l5 20 8-16 5 20 8-16 5 20 8-16 5 19 7-16 5 21 8-17 5 21 8-17 5 21 8-17 5 21 8-17 5 20 8-16 5 20 8-16 5 20 8-17 5 21 8-17 5 20 8-17 5 21 8-17-13-4-13-3-13-4-13-3-78-24-25-7zM431 2423l8-17 5 21 8-17 5 21 8-17 5 22 8-18 5 22 8-18 5 22 8-18 5 21 8-18 6 21 7-18 6 21-40-9-26-8-13-5z"/><path class=ah d="M158 2320l8-17 4 21 8-16 5 20 8-16 4 20 8-16 5 20 8-16 5 21 7-16 5 20 8-16 5 20 8-16 5 20 7-16 5 20 8-16 5 20 8-16 5 20 8-16 5 20 7-17 5 20 8-16 5 20 8-16 5 20 8-16 5 20 8-16 5 20 8-16 5 20-65-20-25-7-76-24-13-5zM452 2410l5 21 8-17 5 22 8-18 5 22 8-18 5 22 8-18 5 21 8-18 6 21 7-18 6 21 8-19-14-2-26-6zM536 2453l8-19 5 23 8-20 5 23 8-19 6 23 7-20 6 24 8-20 5 25 8-20 6 25 7-20 6 25 8-20 5 24 8-20 6 23 8-20 5 24 8-20 6 23 8-20 5 24 8-20 6 24 8-20 6 24 7-19 6 24 8-20 6 25 7-20 6 25-40-15-41-12-14-3-13-4-14-3-13-4-40-15-27-8-13-3z"/><path class=ai d="M141 2295l4 21 8-17 5 21 8-17 4 21 8-16 5 20 8-16 4 20 8-16 5 20 8-16 5 21 7-16 5 20 8-16 5 20 8-16 5 20 7-16 5 20 8-16 5 20 8-16 5 20 8-16 5 20 7-17 5 20 8-16 5 20 8-16 5 20 8-16 5 20 8-16 5 20 8-16 5 20 7-17-25-7-52-16-25-7-64-20-12-5-38-12-12-5zM133 2312l8-17 4 21 8-17 5 21zM387 2392l7-17 6 21 7-17 6 20 7-17 6 21 7-18 6 21 7-18 6 22 7-18 6 22 7-18 6 22-39-12-13-3-13-4-13-3zM544 2434l5 23 8-20 5 23 8-19 6 23 7-20 6 24 8-20 5 25 8-20 6 25 7-20 6 25 8-20 5 24 8-20 6 23 8-20 5 24 8-20 6 23 8-20 5 24 8-20-13-4-14-3-13-4-14-3-27-9-26-10-14-4-13-3-13-4zM731 2490l6 24 8-20 6 25 7-20 6 25 8-20-27-10z"/><path class=aj d="M394 2375l6 21 7-17 6 20 7-17 6 21 7-18 6 21 7-18 6 22 7-18 6 22 7-18 6 22 7-19-13-3-26-8-39-9zM478 2418l7-19 6 23 8-19 5 23 8-19 5 22 8-19 5 22 8-20 6 22-14-2-26-6zM704 2481l6 24 8-20 6 24 7-19-13-5z"/><path class=ak d="M249 2313l5 20 8-16 4 20 8-16 5 20 8-16zM141 2295l7-17 5 21 8-17 5 21 7-16 5 21 8-17 5 21 7-17 5 21 8-16 5 20 8-16 4 21 8-17 5 21 8-16 5 20 8-16 4 20 8-16 5 20 8-16 5 20 8-16 5 20 7-17 5 20 8-16 5 20 8-16 5 20 8-16 5 20 8-17 5 21 7-17 6 21 7-17 5 20 8-17 5 21-51-15-39-12-25-7-64-20-12-5-38-12-12-5zM485 2399l6 23 8-19 5 23 8-19 5 22 8-19 5 22 8-20-13-2-13-3zM544 2434l7-19 6 22 7-20 6 24 8-21 5 24-13-3-13-4zM610 2453l8-21 5 26 8-22 6 27 7-22 6 26 8-22 6 25 7-21 6 25-13-4-14-3-27-9zM758 2499l8-19 6 24z"/><path class=al d="M148 2278l5 21 8-17 5 21 7-16 5 21 8-17 5 21 7-17 5 21 8-16 5 20 8-16 4 21 8-17 5 21 8-16-25-9-13-4-25-9-13-4-12-5zM287 2325l5 20 8-16 5 20 7-17 5 20 8-16 5 20 8-16 5 20 8-16 5 20 8-17 5 21 7-17 6 21 7-17 5 20 8-17 5 21 8-18-26-6-25-8-13-3-39-12zM407 2379l8-18 5 21 8-18 5 21 8-18 5 21 8-18 5 22 8-18 5 22-26-8zM538 2412l6 22 7-19 6 22 7-20 6 24 8-21-14-3-13-2zM631 2436l6 27 7-22 6 26 8-22-14-4zM766 2480l6 24 8-19zM583 2444l8-20 6 24 7-20 6 25-13-5zM677 2474l8-21 6 24 7-20 6 24 8-20 6 24 7-19 6 24 8-20 6 24 8-19 5 24-13-5-14-4-13-5-27-8z"/><path class=am d="M224 2304l7-16 5 20 8-16 5 21 8-17 5 21 7-17 5 21 8-17 5 21 8-17 5 21 7-17 5 20 8-16 5 20 8-16 5 20 8-17 5 21-39-12-25-7-38-12zM415 2361l5 21 8-18 5 21 8-18 5 21 8-18 5 22 8-18 5 22 8-19-13-3-13-4zM472 2396l8-19 5 22 8-19 6 23 7-19 6 23 7-20 6 23 8-20 5 22-13-2-13-3-27-8zM578 2420l5 24 8-20 6 24 7-20 6 25 8-21 5 26 8-22zM658 2445l6 25 7-21 6 25 8-21 6 24 7-20 6 24 8-20 6 24 7-19 6 24 8-20 6 24 8-19 5 24 8-19-27-10-14-4-13-5z"/><path class=an d="M206 2279l5 21 8-17 5 21 7-16 5 20 8-16 5 21 8-17 5 21 7-17 5 21 8-17 5 21 8-17 5 21 7-17 5 20 8-16 5 20 8-16 5 20 8-17 5 21 7-17 6 20 7-16-25-8-13-3-102-32-12-5zM148 2278l8-17 5 21 8-16 4 21 8-17 5 21 8-17 4 21 8-16 5 21 8-17 5 21-13-4-25-9-13-4-12-5zM351 2344l7-17 6 20 7-16 5 20 8-17 5 21 8-17 5 20 8-17 5 20 8-17 5 20-39-9-25-8zM480 2377l5 22 8-19 6 23 7-19 6 23 7-20 6 23 8-20-27-6-13-4zM538 2412l8-20 5 23 8-20 5 22-13-2z"/><path class=ao d="M156 2261l5 21 8-16 4 21 8-17 5 21 8-17 4 21 8-16-12-5-25-8zM371 2331l5 20 8-17 5 21 8-17 5 20 8-17 5 20 8-17 5 20 8-17-39-9-13-4zM428 2364l8-17 5 20 8-18 5 21 8-18 5 22 8-19 5 22-13-3-13-4zM533 2390l5 22 8-20 5 23 8-20-13-3zM564 2417l8-20 6 23 7-20 6 24 8-21 5 25 8-22 6 26 7-22 6 26 8-21 5 26 8-22 6 26 8-21 5 25 8-21 6 25 7-20 6 24 8-20 6 24 8-19 5 24 8-20 6 24 8-19 6 24 7-20 6 25 8-20 6 25-41-15-14-4-13-5-68-20-13-5-53-16z"/><path class=ap d="M194 2274l7-16 5 21 8-16 5 20 8-16 4 21 8-17 5 21 8-16 5 20 7-16 5 20 8-16 5 20 8-16 5 20 7-16 5 20 8-16 5 20 8-17 5 21 8-17 5 20 7-16 5 20 8-17 5 21 8-17 5 20 8-17 5 21-13-4-13-3-25-8-13-3-102-32-12-5-13-4zM436 2347l5 20 8-18 5 21 8-18 5 22 8-19-26-6zM480 2377l8-19 5 22 8-19 5 23 8-20 5 23 8-20 6 23-27-6-13-4zM559 2395l5 22 8-20 6 23 7-20 6 24 8-21 5 25 8-22 6 26 7-22 6 26 8-21 5 26 8-22 6 26 8-21 5 25 8-21 6 25 7-20 6 24 8-20 6 24 8-19 5 24 8-20 6 24 8-19 6 24 7-20 6 25 8-20 6 25 7-19-13-6-68-23-14-4-13-5-67-22-40-9z"/><path class=aq d="M189 2254l5 20 7-16 5 21 8-16 5 20 8-16 4 21 8-17 5 21 8-16 5 20 7-16 5 20 8-16 5 20 8-16 5 20 7-16 5 20 8-16 5 20 8-17 5 21 8-17 5 20 7-16 5 20 8-17 5 21 8-17 5 20 8-17 5 21 8-18-26-6-13-4-13-3-25-8-13-3-63-20-25-9-13-4zM156 2261l8-16 5 21 7-17 5 21 8-16 5 20-25-8zM397 2338l8-18 5 21 8-18 5 21 7-18 6 21zM475 2355l5 22 8-19 5 22 8-19 5 23 8-20 5 23 8-20zM533 2390l7-20 6 22 7-20 6 23-13-3z"/><path class=ar d="M252 2276l7-16 5 20 8-16 5 20 8-16 5 20 7-16 5 20 8-17 5 21 8-17 5 20-13-3zM164 2245l5 21 7-17 5 21 8-16zM405 2320l5 21 8-18 5 21 7-18 6 21 7-18zM436 2347l7-18 6 20 7-18 6 21 7-18 6 21-26-6zM527 2367l6 23 7-20 6 22 7-20-13-2zM559 2395l8-21 5 23 8-20 5 23-13-3zM706 2437l8-20 6 25 7-20 6 24 8-19 6 24 7-19 6 23 8-18 6 23 7-18 6 24-13-6z"/><path class=as d="M234 2251l5 20 8-16 5 21 7-16 5 20 8-16 5 20 8-16 5 20 7-16 5 20 8-17 5 21 8-17 5 20 8-16 5 20 7-16-38-12-13-3-38-12-12-5zM176 2249l8-16 5 21 8-17 4 21 8-16 5 21 8-17 5 21 7-16 5 20 8-16 5 21-25-9-13-4zM328 2299l8-16 5 20 7-16 5 20 8-17 5 20 8-16 5 20 8-17 5 20 7-17 6 20 7-17 6 20-39-9-13-4-13-3zM443 2329l6 20 7-18 6 21 7-18 6 21 7-18-26-6zM475 2355l7-18 6 21 7-19 6 22 7-19 6 22 8-19 5 22zM553 2372l6 23 8-21 5 23 8-20-13-3zM714 2417l6 25 7-20 6 24 8-19 6 24 7-19 6 23 8-18 6 23 7-18 6 24 8-19zM585 2400l8-21 6 24 7-21 6 24 8-21 5 25 8-21 6 26 7-22 6 26 8-22 6 27 7-22 6 26 8-21 5 26 8-21 6 25-14-4-13-5-67-22z"/><path class=at d="M172 2228l4 21 8-16 5 21 8-17 4 21 8-16 5 21 8-17 5 21 7-16-12-5-13-4-12-5-13-4zM348 2287l5 20 8-17 5 20 8-16 5 20 8-17 5 20 7-17 6 20 7-17 6 20 7-17-51-12-13-4zM164 2245l8-17 4 21zM418 2323l7-17 5 20 8-17 5 20 8-18 5 20-13-2zM482 2337l6 21 7-19 6 22 7-19 6 22 8-19-27-6zM527 2367l8-19 5 22 8-20 5 22-13-2zM781 2442l8-17 6 22zM580 2377l5 23 8-21 6 24 7-21 6 24 8-21 5 25 8-21 6 26 7-22 6 26 8-22 6 27 7-22 6 26 8-21 5 26 8-21 6 25 8-20-54-20-40-12-27-6z"/><path class=au d="M222 2246l7-15 5 20 8-16 5 20 8-15 4 20 8-16 5 20 8-16 5 20 7-16 5 20 8-16 5 19 8-16 5 20 8-16 5 20 7-16 5 20 8-17 5 20 8-16 5 20 8-17 5 20-13-3-13-4-13-3-38-12-13-3-38-12-12-5-13-4zM425 2306l5 20 8-17 5 20 8-18-13-2zM456 2331l8-18 5 21 8-18 5 21zM522 2345l5 22 8-19 5 22 8-20-13-2zM789 2425l6 22 8-16zM553 2372l8-20 6 22 7-20 6 23-13-3zM727 2422l8-19 6 24 7-18 6 23 8-18 6 23 7-17 6 22z"/><path class=av d="M217 2226l5 20 7-15 5 20 8-16 5 20 8-15 4 20 8-16 5 20 8-16 5 20 7-16 5 20 8-16 5 19 8-16 5 20 8-16 5 20 7-16 5 20 8-17 5 20 8-16 5 20 8-17 5 20 7-17-25-6-13-4-13-3-25-8-13-3-50-16-13-5-13-4zM172 2228l7-16 5 21 8-17 5 21 7-16 5 21 8-16 5 20-13-4-12-5-13-4zM387 2297l7-17 5 20 8-17 5 20 8-17 5 20zM451 2311l5 20 8-18 5 21 8-18 5 21 8-19-13-2-13-3zM482 2337l8-19 5 21 8-19 5 22 8-19 6 22-27-6zM548 2350l5 22 8-20 6 22 7-20zM735 2403l6 24 7-18 6 23 8-18 6 23 7-17 6 22 8-17-14-5-13-6-14-5zM580 2377l8-20 5 22 8-20 5 23 8-20 6 23-27-6zM673 2402l8-20 6 25 7-20 6 25 8-19 6 24 7-19 6 24z"/><path class=aw d="M267 2244l8-16 5 20 8-16 4 20 8-16 5 20 8-16 5 19-13-3zM179 2212l5 21 8-17 5 21 7-16 5 21 8-16-25-10zM394 2280l5 20 8-17 5 20 8-17 5 20 8-17zM425 2306l8-17 5 20 8-18 5 20 8-17 5 19-26-4zM490 2318l5 21 8-19 5 22 8-19-13-3zM522 2345l7-19 6 22 7-20 6 22-13-2zM775 2420l8-17 6 22 8-16 6 22-14-6zM574 2354l6 23 8-20 5 22 8-20 5 23 8-20-13-3-13-2zM681 2382l6 25 7-20 6 25 8-19 6 24 7-19 6 24 8-19-27-10zM620 2385l7-20 6 24 8-21 5 25 8-21 6 25 8-21 5 26-13-5z"/><path class=ax d="M250 2220l5 20 7-16 5 20 8-16 5 20 8-16 4 20 8-16 5 20 8-16 5 19 8-16 5 20 7-16 5 20 8-17-13-3-12-4-13-3zM204 2221l8-16 5 21 8-16 4 21 8-16 5 20 8-15 5 20 7-16 5 20-25-9-13-4zM318 2259l8-16 5 20 7-16 5 20 8-17 5 20 8-16 5 20 7-17 6 20 7-16 5 19 8-16 5 19-38-9-13-4-13-3zM433 2289l5 20 8-18 5 20 8-17 5 19 8-17-13-2-13-3zM464 2313l8-17 5 20 8-18 5 20-13-2zM516 2323l6 22 7-19 6 22 7-20 6 22 8-19-14-3-13-2zM770 2397l5 23 8-17 6 22 8-16 6 22 7-16zM548 2350l8-19 5 21 8-19 5 21zM735 2403l7-17 6 23 8-18 6 23 8-17 5 23-13-6-14-5zM614 2362l6 23 7-20 6 24 8-21 5 25 8-21 6 25 8-21 5 26 8-20-13-6-27-8z"/><path class=ay d="M200 2200l4 21 8-16 5 21 8-16 4 21 8-16 5 20 8-15zM351 2250l5 20 8-16 5 20 7-17 6 20 7-16 5 19 8-16 5 19 8-16-26-6zM179 2212l8-16 5 20 8-16 4 21-12-5zM407 2283l8-16 5 19 8-16 5 19 8-17 5 19-13-2zM472 2296l5 20 8-18 5 20 8-18zM490 2318l8-18 5 20 8-18 5 21-13-3zM797 2409l7-15 6 21zM556 2331l5 21 8-19 5 21 8-19zM742 2386l6 23 8-18 6 23 8-17-14-6zM574 2354l8-19 6 22 7-20 6 22-13-2zM694 2387l8-19 6 25 7-19 6 24 8-18 6 23-27-10z"/><path class=az d="M225 2210l7-14 5 19 8-15 5 20 8-15 4 19 8-15 5 19 8-15 5 19 7-15 5 19 8-15 5 19 8-16 5 19 7-15 5 19 8-16 5 19 8-15 5 19 7-16 5 19 8-16 5 20-38-11-13-3-12-4-13-3-63-20zM187 2196l5 20 8-16zM415 2267l5 19 8-16 5 19 8-17 5 19 7-16-12-3-13-2zM446 2291l7-16 6 19 7-17 6 19-13-2zM498 2300l5 20 8-18 5 21 8-18-13-3zM791 2388l6 21 7-15 6 21 8-15zM516 2323l8-18 5 21 8-19 5 21 8-18 6 21-14-3-13-2zM770 2397l7-16 6 22 8-15 6 21zM582 2335l6 22 7-20 6 22 7-20zM702 2368l6 25 7-19 6 24 8-18 6 23 7-17zM601 2359l7-20 6 23 8-20 5 23 8-20 6 23 7-20 6 24 8-20 6 24 7-19 6 25 8-20 5 25-13-5-13-6-27-8z"/><path class=aA d="M220 2191l5 19 7-14 5 19 8-15 5 20 8-15 4 19 8-15 5 19 8-15 5 19 7-15 5 19 8-15 5 19 8-16 5 19 7-15 5 19 8-16 5 19 8-15 5 19 7-16 5 19 8-16 5 20 8-16-13-4-25-6-13-4-13-3-12-4-13-3-50-16-13-5-13-4zM187 2196l8-15 5 19 7-14 5 19 8-14 5 19-25-10zM389 2261l8-16 5 19 8-16 5 19 8-16 5 19zM453 2275l6 19 7-17 6 19 7-17zM472 2296l7-17 6 19 7-17 6 19zM804 2394l8-15 6 21zM524 2305l5 21 8-19 5 21 8-18-13-3zM764 2375l6 22 7-16 6 22 8-15zM556 2331l7-19 6 21 7-19 6 21zM729 2380l8-17 5 23 8-17 6 22 8-16 6 22-14-6-14-5zM608 2339l6 23 8-20 5 23 8-20 6 23 7-20zM662 2352l6 24 7-19 6 25 8-20 5 25 8-19-13-6z"/><path class=aB d="M245 2200l8-14 5 19 7-14 5 18 8-14 5 18 7-14 5 18 8-15 5 19 8-15 5 18 7-15 5 19 8-16 5 19-13-3-12-4-13-3-50-16zM195 2181l5 19 7-14 5 19 8-14zM397 2245l5 19 8-16 5 19 8-16 5 19 7-17-12-2zM428 2270l7-17 6 19 7-16 5 19 8-17 5 19-13-2-12-3zM479 2279l6 19 7-17 6 19 7-17zM798 2373l6 21 8-15 6 21 7-14-13-7zM498 2300l7-17 6 19 7-17 6 20-13-3zM777 2381l8-15 6 22 7-15 6 21zM550 2310l6 21 7-19 6 21 7-19zM737 2363l5 23 8-17 6 22 8-16zM582 2335l8-19 5 21 8-18 5 20zM702 2368l8-17 5 23 8-17 6 23zM648 2348l6 24 8-20z"/><path class=aC d="M228 2177l4 19 8-14 5 18 8-14 5 19 7-14 5 18 8-14 5 18 7-14 5 18 8-15 5 19 8-15 5 18 7-15 5 19 8-16 5 19 8-15 5 19 7-16 5 19 8-15-38-11-25-6-13-4-13-3-25-8-12-5-13-4zM195 2181l8-14 4 19 8-14 5 19 8-14 4 19 8-14 5 18-13-4zM346 2231l8-15 5 19 7-16 5 19 8-15 5 18 8-15 5 19 8-16 5 19 7-16 6 19-26-6-13-4-25-6zM435 2253l6 19 7-16 5 19 8-17 5 19 8-17-26-4zM819 2365l6 21 8-14zM466 2277l8-17 5 19 8-17 5 19zM812 2379l7-14 6 21zM505 2283l6 19 7-17 6 20 7-18zM771 2360l6 21 8-15 6 22 7-15-13-7zM524 2305l7-18 6 20 8-18 5 21 8-18 5 20-13-2-13-3zM750 2369l8-16 6 22 7-15 6 21zM576 2314l6 21 8-19 5 21 8-18-13-3zM710 2351l5 23 8-17 6 23 8-17zM608 2339l8-18 6 21 7-18 6 21 8-18 5 21zM675 2357l8-18 6 23 7-17 6 23-13-6z"/><path class=aD d="M253 2186l7-13 5 18 8-14 5 18 8-14 4 18 8-14 5 17 8-14 5 18 7-15 5 18-25-7-13-3-25-8zM203 2167l4 19 8-14 5 19 8-14zM379 2223l5 18 8-15 5 19 8-16 5 19 7-16 6 19 7-17-13-2zM423 2251l7-17 5 19 8-16 5 19-13-3zM474 2260l5 19 8-17 5 19 8-17zM806 2359l6 20 7-14zM492 2281l8-17 5 19 8-17 5 19zM785 2366l7-14 6 21 8-14 6 20-14-6zM531 2287l6 20 8-18 5 21 8-18-13-3zM758 2353l6 22 7-15zM563 2312l8-18 5 20 8-17 6 19zM737 2363l7-16 6 22zM603 2319l5 20 8-18 6 21 7-18 6 21 8-18 5 21 8-18-40-9zM669 2334l6 23 8-18 6 23 7-17 6 23 8-17-27-12zM648 2348l8-18 6 22 7-18 6 23-13-5z"/><path class=aE d="M235 2164l5 18 8-14 5 18 7-13 5 18 8-14 5 18 8-14 4 18 8-14 5 17 8-14 5 18 7-15 5 18 8-14 5 17 8-14 5 18 7-15-25-6-25-7-13-3-38-12-12-5zM203 2167l7-13 5 18 8-13 5 18 7-13 5 18 8-14 5 18-13-4zM328 2209l8-14 5 17 8-14 5 18 7-15 5 18 8-15 5 19 8-16 5 19 7-16 6 19-26-6-38-11zM430 2234l5 19 8-16 5 19 8-17-13-2zM827 2352l6 20 7-14zM448 2256l8-17 5 19 8-16 5 18 8-16 5 18zM806 2359l7-14 6 20 8-13 6 20zM500 2264l5 19 8-17zM779 2345l6 21 7-14 6 21 8-14zM518 2285l8-17 5 19 8-17 6 19zM771 2360l8-15 6 21zM558 2292l5 20 8-18 5 20 8-17 6 19 7-17-13-2-13-3zM731 2341l6 22 7-16 6 22 8-16zM590 2316l7-17 6 20 7-18 6 20-13-2zM710 2351l7-17 6 23 8-16 6 22zM656 2330l6 22 7-18z"/><path class=aF d="M248 2168l8-13 4 18 8-14 5 18 8-14 5 18 7-14 5 18 8-14 5 17 7-14 5 17 8-14 5 18-25-7-13-3-38-12zM210 2154l5 18 8-13 5 18 7-13zM361 2201l5 18 8-15 5 19 8-16 5 19 7-16 6 19 7-16 5 19 8-16zM405 2229l7-16 5 19 8-16 5 18 8-15 5 18-13-3-13-2zM456 2239l5 19 8-16 5 18 8-16-13-2zM800 2338l6 21 7-14 6 20 8-13zM487 2262l8-16 5 18zM792 2352l8-14 6 21zM513 2266l5 19 8-17 5 19 8-17 6 19 7-17zM765 2338l6 22 8-15zM545 2289l7-17 6 20 7-17 6 19-13-2zM744 2347l8-15 6 21 7-15 6 22-13-7zM597 2299l6 20 7-18 6 20 8-17-14-3zM704 2328l6 23 7-17 6 23 8-16zM616 2321l8-17 5 20 8-17 6 20 7-17 6 20 8-16 5 20 8-16 6 21 7-16 6 22 8-17 6 23-27-12-27-9z"/><path class=aG d="M218 2142l5 17 8-13 4 18 8-13 5 17 8-13 4 18 8-14 5 18 8-14 5 18 7-14 5 18 8-14 5 17 7-14 5 17 8-14 5 18 8-15 5 18 7-15-50-12-63-20-12-5zM210 2154l8-12 5 17 8-13 4 18 8-13 5 17-13-4zM336 2195l8-15 5 18 7-15 5 18 8-15 5 18 8-15 5 18 7-15 5 18zM425 2216l5 18 8-15 5 18 8-16-13-2zM834 2338l6 20 8-14zM443 2237l8-16 5 18 8-15 5 18-13-3zM813 2345l8-14 6 21 7-14 6 20zM482 2244l5 18 8-16 5 18 8-16zM786 2331l6 21 8-14zM500 2264l8-16 5 18 8-16 5 18zM779 2345l7-14 6 21zM552 2272l6 20 7-17 6 19 7-17-13-2zM738 2325l6 22 8-15 6 21 7-15zM571 2294l7-17 6 20 8-17 5 19-13-2zM717 2334l8-15 6 22 7-16 6 22zM624 2304l5 20 8-17 6 20 7-17 6 20 8-16 5 20 8-16 6 21 7-16 6 22 8-17-27-10-27-8z"/><path class=aH d="M231 2146l8-12 4 17 8-13 5 17 7-13 5 17 8-13 5 17 7-13 5 17 8-13 5 17 8-14 4 17 8-14 5 17-25-6-63-20zM356 2183l5 18 8-15 5 18 8-15 5 18 7-15 5 18 8-15zM399 2210l8-15 5 18 8-15 5 18 8-15 5 18zM834 2338l8-14 6 20zM451 2221l5 18 8-15 5 18 7-16 6 18 7-16-25-4zM807 2324l6 21 8-14 6 21 7-14zM469 2242l7-16 6 18 7-16 6 18zM800 2338l7-14 6 21zM508 2248l5 18 8-16 5 18 8-16zM773 2324l6 21 7-14zM526 2268l8-16 5 18 8-16 5 18 8-16 5 19-13-3zM752 2332l7-15 6 21 8-14 6 21zM578 2277l6 20 8-17 5 19 8-17-13-2zM711 2313l6 21 8-15 6 22 7-16zM597 2299l8-17 5 19 8-16 6 19 7-17 6 20-27-6zM690 2323l8-16 6 21 7-15 6 21-13-6z"/><path class=aI d="M226 2130l5 16 8-12 4 17 8-13 5 17 7-13 5 17 8-13 5 17 7-13 5 17 8-13 5 17 8-14 4 17 8-14 5 17 8-14 5 17 7-14-50-12zM218 2142l8-12 5 16zM331 2177l8-14 5 17 7-14 5 17 8-14 5 17 8-14 5 17 7-14 5 17zM407 2195l5 18 8-15 5 18 8-15 5 18 7-16-12-2zM828 2317l6 21 8-14 6 20 7-14zM438 2219l7-16 6 18 7-15 6 18 7-16 5 18-12-2-13-3zM821 2331l7-14 6 21zM489 2228l6 18 7-16zM794 2317l6 21 7-14zM495 2246l7-16 6 18 7-16 6 18zM773 2324l7-14 6 21 8-14 6 21zM534 2252l5 18 8-16 5 18 8-16 5 19 8-16-13-3zM746 2311l6 21 7-15 6 21 8-14zM565 2275l8-16 5 18 8-16 6 19-14-3zM738 2325l8-14 6 21zM605 2282l5 19 8-16 6 19 7-17 6 20 8-16 5 19 8-16-13-3-14-4-13-2zM685 2302l5 21 8-16 6 21 7-15-13-6zM637 2307l8-16 5 19 8-16 6 20 7-16 6 20 8-16 5 21-13-5-27-8z"/><path class=aJ d="M259 2126l4 16 8-12 5 16 8-12 4 16 8-13 5 17 8-14-25-6zM226 2130l8-13 5 17 7-12 5 16 8-12 4 16 8-12 5 16 8-12 4 16 8-13 5 17 8-14 5 17 7-14 5 17 8-14 5 17-38-9zM351 2166l5 17 8-14 5 17 8-14 5 17 7-14 5 17 8-15-13-2zM394 2192l8-15 5 18 8-15 5 18 8-15 5 18zM842 2324l7-15 6 21zM445 2203l6 18 7-15 6 18 7-16 5 18 8-16-26-4zM815 2310l6 21 7-14zM476 2226l8-16 5 18 8-16 5 18zM794 2317l7-14 6 21 8-14 6 21zM502 2230l6 18 7-16 6 18 7-16zM780 2310l6 21 8-14zM521 2250l7-16 6 18 7-16 6 18zM759 2317l8-14 6 21zM573 2259l5 18 8-16 6 19 7-17zM732 2304l6 21 8-14zM592 2280l7-17 6 19 7-16 6 19 8-16 5 18-13-2-13-3zM711 2313l8-15 6 21 7-15 6 21zM658 2294l6 20 7-16 6 20 8-16z"/><path class=aK d="M234 2117l5 17 7-12 5 16 8-12-13-4zM309 2140l5 17 7-14 5 17 8-14 5 17 7-14 5 17 8-14zM339 2163l7-14 5 17 8-14 5 17 8-14 5 17 7-15 5 18zM402 2177l5 18 8-15 5 18 8-15 5 18 7-16-12-2zM836 2303l6 21 7-15 6 21 8-15zM433 2201l7-16 5 18 8-15 5 18 8-16 5 18-13-2-13-3zM828 2317l8-14 6 21zM484 2210l5 18 8-16 5 18 8-16zM801 2303l6 21 8-14zM502 2230l8-16 5 18 8-16 5 18zM780 2310l8-14 6 21zM528 2234l6 18 7-16 6 18 7-16 6 18 7-16zM753 2297l6 20 8-14 6 21 7-14-13-7zM547 2254l7-16 6 18 7-16 6 19 8-16 5 18-13-2-13-3zM732 2304l8-14 6 21 7-14 6 20zM599 2263l6 19 7-16 6 19 8-16 5 18 8-15zM692 2288l6 19 8-14 5 20 8-15 6 21 7-15-13-6zM631 2287l8-15 6 19 7-16 6 19 8-15 5 19 8-15 6 19 7-14 6 19 8-14 5 20-13-6-13-5-27-8-13-3z"/><path class=aL d="M254 2108l5 18 7-13 5 17 8-13 5 17 7-14 5 17 8-13 5 16 7-13-50-14zM234 2117l8-14 4 19 8-14 5 18 7-13 5 17 8-13 5 17 7-14 5 17 8-13 5 16 7-13 5 16 8-13 5 16 7-14 5 17-62-15-38-12zM359 2152l5 17 8-14 5 17 7-15 5 18 8-15 5 17 8-14-26-6-12-2zM389 2175l8-15 5 17 8-14 5 17 7-15 6 18-26-6zM849 2309l8-15 6 21zM440 2185l5 18 8-15 5 18 8-16 5 18 8-15-13-3-13-2zM822 2296l6 21 8-14zM471 2208l8-15 5 17 8-15 5 17zM801 2303l8-14 6 21 7-14 6 21zM510 2214l5 18 8-16 5 18 8-16zM774 2289l6 21 8-14 6 21 7-14zM528 2234l8-16 5 18 8-16 5 18zM767 2303l7-14 6 21zM567 2240l6 19 8-16 5 18 8-16-13-2zM727 2284l5 20 8-14 6 21 7-14-13-7zM586 2261l8-16 5 18 8-15 5 18 8-15 6 18-27-6zM706 2293l7-15 6 20 8-14 5 20-13-6zM639 2272l6 19 7-16 6 19 8-15 5 19 8-15 6 19 7-14-13-5-27-8z"/><path class=aM d="M266 2113l8-13 5 17 8-13 4 16 8-13 5 17zM242 2103l4 19 8-14zM316 2127l5 16 8-13 5 16 7-14 5 17 8-14 5 17 8-14-26-6-12-2zM346 2149l8-14 5 17 8-14 5 17 7-15 5 17-12-2zM410 2163l5 17 7-15 6 18 7-15 5 17 8-15-13-2-13-3zM843 2288l6 21 8-15 6 21 7-15zM428 2183l7-15 5 17 8-15 5 18 8-15 5 17-13-2-13-3zM836 2303l7-15 6 21zM479 2193l5 17 8-15 5 17 8-15zM809 2289l6 21 7-14zM497 2212l8-15 5 17 8-15 5 17zM788 2296l7-14 6 21zM536 2218l5 18 8-16 5 18 8-15-13-3zM761 2283l6 20 7-14zM554 2238l8-15 5 17 8-15 6 18-14-3zM740 2290l7-14 6 21 8-14 6 20-14-6zM594 2245l5 18 8-15 5 18 8-15 6 18 7-16-13-2zM700 2273l6 20 7-15 6 20 8-14zM626 2269l7-16 6 19 8-15 5 18 8-15 6 19 7-15 6 19 7-15 6 20 8-15 6 20-27-10-27-8z"/><path class=aN d="M249 2091l5 17 8-13 4 18 8-13 5 17 8-13 4 16 8-13 5 17 8-14 4 17 8-14-37-9-13-4-12-5zM242 2103l7-12 5 17 8-13 4 18zM304 2124l8-14 4 17 8-14 5 17 8-14 4 16 8-14 5 17-13-3-12-2zM367 2138l5 17 7-15 5 17 8-14 5 17 8-15-13-2-13-3zM384 2157l8-14 5 17 8-15 5 18 7-15 5 17 8-15 5 18-13-3-12-2zM857 2294l7-16 6 22zM448 2170l5 18 8-15 5 17 8-15-13-2zM830 2281l6 22 7-15zM466 2190l8-15 5 18 7-16 6 18-13-2zM809 2289l7-15 6 22 8-15 6 22zM505 2197l5 17 8-15 5 17 8-15zM782 2275l6 21 7-14 6 21 8-14zM523 2216l8-15 5 17 8-15 5 17zM774 2289l8-14 6 21zM562 2223l5 17 8-15 6 18 7-16zM734 2270l6 20 7-14 6 21 8-14zM581 2243l7-16 6 18 7-15 6 18 7-15 6 18-26-6zM713 2278l8-13 6 19 7-14 6 20zM633 2253l6 19 8-15 5 18 8-15 6 19 7-15 6 19 7-15 6 20 8-15-27-9-13-4-13-3z"/><path class=aO d="M262 2095l7-13 5 18 8-13 5 17 7-14 5 17 8-14 5 17-25-6-13-4zM324 2113l5 17 8-14 4 16 8-14 5 17 8-14-13-3-12-2zM354 2135l8-14 5 17 7-15 5 17 8-14 5 17-13-3-12-2zM405 2145l5 18 7-15 5 17 8-15 5 18 8-15-13-3-13-2zM864 2278l6 22 8-16zM435 2168l8-15 5 17 8-15 5 18-13-3zM843 2288l8-16 6 22zM474 2175l5 18 7-16 6 18 7-15-13-3zM803 2268l6 21 7-15 6 22 8-15zM492 2195l7-15 6 17 7-15 6 17zM795 2282l8-14 6 21zM531 2201l5 17 8-15 5 17 8-15zM768 2269l6 20 8-14zM549 2220l8-15 5 18 8-15 5 17-13-2zM747 2276l8-13 6 20 7-14 6 20zM588 2227l6 18 7-15 6 18 7-15 6 18 8-15zM707 2259l6 19 8-13 6 19 7-14zM620 2251l8-15 5 17 8-14 6 18 7-15 6 18 7-14 6 18 8-14 5 18 8-14 6 19 7-14 6 19-27-10-26-8-13-3-14-4z"/><path class=aP d="M257 2078l5 17 7-13 5 18 8-13 5 17 7-14 5 17 8-14 5 17 7-14 5 17 8-14-50-12zM249 2091l8-13 5 17zM312 2110l7-14 5 17 8-14 5 17 7-15 5 17 8-14 5 17-13-3-12-2zM362 2121l5 17 7-15 5 17 8-14 5 17 8-15-13-2-13-3zM392 2143l8-15 5 17 7-14 5 17 8-15 5 17-13-2-12-3zM443 2153l5 17 8-15 5 18 7-15 6 17 7-15-13-2-12-3zM837 2266l6 22 8-16 6 22 7-16zM461 2173l7-15 6 17 7-15 5 17 8-15 5 18-13-3zM816 2274l8-15 6 22 7-15 6 22zM499 2180l6 17 7-15 6 17 7-15 6 17 7-15zM789 2261l6 21 8-14zM518 2199l7-15 6 17 7-15 6 17zM768 2269l8-14 6 20 7-14 6 21-13-7zM557 2205l5 18 8-15 5 17 8-15 5 17 8-15-26-4zM742 2256l5 20 8-13 6 20 7-14-13-6zM575 2225l8-15 5 17 8-15 5 18 8-15 5 18-26-6zM721 2265l7-14 6 19 8-14 5 20-13-6zM628 2236l5 17 8-14 6 18 7-15 6 18 7-14 6 18 8-14 5 18 8-14 6 19 7-14-13-5-40-12z"/><path class=aQ d="M257 2078l8-14 4 18 8-13 5 18 7-15 5 18 8-14 5 17 7-14 5 17-37-9zM332 2099l5 17 7-15 5 17 8-14 5 17 7-15-12-2-13-3zM362 2121l7-15 5 17 8-14 5 17-13-3zM400 2128l5 17 7-14 5 17 8-15 5 17 8-14-13-3-13-2zM430 2150l8-14 5 17 7-15 6 17 7-14 5 17-12-3-13-2zM851 2272l7-16 6 22 8-16 6 22zM481 2160l5 17 8-15 5 18 8-15-13-3zM824 2259l6 22 7-15zM499 2180l8-15 5 17 8-15 5 17zM803 2268l7-15 6 21zM538 2186l6 17 7-15 6 17 7-15zM762 2249l6 20 8-14 6 20 7-14zM544 2203l7-15 6 17 7-15 6 18 7-15 6 17-13-2-13-3zM755 2263l7-14 6 20zM596 2212l5 18 8-15 5 18 8-15 6 18 7-15zM702 2240l5 19 8-14 6 20 7-14 6 19 8-14-14-5-13-6zM614 2233l8-15 6 18 7-15 6 18 7-15 6 18 8-14 5 18 8-15 6 19 7-14 6 18 8-14 5 19 8-14 6 20-27-11-40-12z"/><path class=aR d="M265 2064l4 18 8-13 5 18 7-15 5 18 8-14 5 17 7-14 5 17 8-14-25-6-25-7zM319 2096l8-14 5 17 7-15 5 17 8-15 5 18-13-3-12-2zM369 2106l5 17 8-14 5 17 7-15 6 17 7-15-25-4zM387 2126l7-15 6 17 7-15 5 18 8-15 5 17-13-2-12-3zM438 2136l5 17 7-15 6 17 7-14 5 17 8-15-13-2-13-3zM858 2256l6 22 8-16 6 22 7-17zM468 2158l8-15 5 17 8-15 5 17zM837 2266l8-16 6 22zM507 2165l5 17 8-15 5 17 8-15zM797 2246l6 22 7-15 6 21 8-15-14-6zM525 2184l8-15 5 17 8-15 5 17zM776 2255l7-15 6 21 8-15 6 22zM564 2190l6 18 7-15 6 17 7-15-13-2zM749 2243l6 20 7-14zM583 2210l7-15 6 17 7-14 6 17 7-15 6 18-26-6zM715 2245l7-14 6 20 8-14 6 19 7-13 6 20-13-7-14-5zM635 2221l6 18 7-15 6 18 8-14 5 18 8-15 6 19 7-14 6 18 8-14-14-4-13-5-13-3-14-4z"/><path class=aS d="M277 2069l8-15 4 18 8-15 5 19zM327 2082l5 17 7-15 5 17 8-15 5 18 7-15-12-3zM357 2104l7-15 5 17 8-15 5 18 7-15 5 17-12-2-13-3zM407 2113l5 18 8-15 5 17 7-15 6 18 7-15-13-3-12-2zM425 2133l7-15 6 18 7-15 5 17 8-15 5 18-13-3-12-2zM872 2262l7-17 6 22zM476 2143l5 17 8-15 5 17 8-15zM831 2244l6 22 8-16 6 22 7-16zM494 2162l8-15 5 18 7-15 6 17-13-2zM810 2253l8-16 6 22 7-15 6 22-13-7zM533 2169l5 17 8-15 5 17 8-15zM770 2234l6 21 7-15 6 21 8-15zM551 2188l8-15 5 17 8-15 5 18-13-3zM749 2243l8-14 5 20 8-15 6 21zM590 2195l6 17 7-14 6 17 7-15 6 18 8-15 5 18 8-15-27-6-13-2zM709 2226l6 19 7-14 6 20 8-14 6 19 7-13-27-12zM622 2218l8-15 5 18 8-15 5 18 8-14 6 18 7-15 6 18 8-14 5 19 8-14 6 18 7-14 6 19-13-5-14-4-13-5-13-3-14-4z"/><path class=aT d="M272 2049l5 20 8-15 4 18 8-15 5 19 7-16 5 19 8-16-37-9zM265 2064l7-15 5 20zM302 2076l7-16 5 19 8-16 5 19 7-16 5 18 8-16 5 18-25-4zM364 2089l5 17 8-15 5 18 7-15 5 17 8-15-13-2-12-3zM394 2111l8-15 5 17 8-15 5 18 7-15 5 17-12-2-13-3zM445 2121l5 17 8-15 5 18 8-15-13-3zM865 2240l7 22 7-17 6 22 8-16-14-6zM463 2141l8-15 5 17 7-15 6 17 7-15 6 17zM845 2250l7-16 6 22 7-16 7 22zM502 2147l5 18 7-15 6 17 7-15 6 17 7-15-26-4zM804 2231l6 22 8-16 6 22 7-15-13-7zM520 2167l7-15 6 17 7-15 6 17 7-15 6 17zM783 2240l8-14 6 20 7-15 6 22-13-7zM559 2173l5 17 8-15 5 18 8-15 5 17 8-15-13-2-13-3zM743 2223l6 20 8-14 5 20 8-15zM577 2193l8-15 5 17 8-15 5 18 8-15 5 17-13-2-13-3zM722 2231l8-14 6 20 7-14 6 20zM643 2206l5 18 8-14 6 18 7-15 6 18 8-14 5 19 8-14 6 18 7-14-13-4-13-5-14-4-13-3z"/><path class=aU d="M322 2063l5 19 7-16 5 18 8-16 5 18 7-15-12-3-13-2zM352 2086l7-15 5 18 8-16 5 18 7-15 5 18-12-3-13-2zM402 2096l5 17 8-15 5 18 7-15 5 17 8-15-13-2-12-3zM432 2118l8-15 5 18 8-15 5 17-13-2zM471 2126l5 17 7-15 6 17 7-15 6 17 7-14-13-3zM852 2234l6 22 7-16zM502 2147l7-14 5 17 8-15 5 17-13-2zM818 2237l7-15 6 22 8-16 6 22-14-6zM540 2154l6 17 7-15 6 17 7-15zM777 2220l6 20 8-14 6 20 7-15zM559 2173l7-15 6 17 7-14 6 17-13-3zM757 2229l7-15 6 20 7-14 6 20-13-6zM598 2180l5 18 8-15 5 17 8-14 6 17 7-15-13-2zM703 2208l6 18 8-14 5 19 8-14 6 20 7-14-13-6-13-5zM616 2200l8-14 6 17 7-15 6 18 7-14 6 18 8-15 5 18 8-14 6 18 7-14 6 19 7-14 6 18 8-14 5 19-13-5-13-4-13-5-14-4-13-3-13-4z"/><path class=aV d="M272 2049l8-17 5 22 7-17 5 20 8-16 4 19 8-16 5 19 7-17 5 20-49-12zM359 2071l5 18 8-16 5 18 7-15 5 18 8-16-13-2-12-3zM389 2094l8-16 5 18 8-15 5 17 7-15 5 18-12-3zM440 2103l5 18 8-15 5 17 8-15 5 18 7-15-12-3-13-2zM458 2123l8-15 5 18 7-15 5 17 8-15 5 17-25-4zM865 2240l8-17 6 22 7-17 7 23-14-6zM509 2133l5 17 8-15 5 17 8-15zM825 2222l6 22 8-16 6 22 7-16zM527 2152l8-15 5 17 8-15 5 17zM791 2226l7-16 6 21 8-15 6 21zM566 2158l6 17 7-14 6 17 7-15-13-2zM751 2208l6 21 7-15 6 20 7-14zM585 2178l7-15 6 17 7-15 6 18 7-15 6 18-26-6zM730 2217l7-14 6 20 8-15 6 21zM637 2188l6 18 7-14 6 18 8-15 5 18 8-14 6 18 7-14 6 19 7-14-13-5-26-8-14-3z"/><path class=aW d="M280 2032l5 22 7-17 5 20 8-16 4 19 8-16 5 19 7-17 5 20 8-17-13-3-12-2-25-7zM334 2066l8-17 5 19 7-16 5 19 8-17 5 19-13-2-12-3zM397 2078l5 18 8-15 5 17 7-15 5 18 8-15-13-3-12-2zM427 2101l8-15 5 17 8-15 5 18 7-15 6 17-13-2-13-3zM478 2111l5 17 8-15 5 17 8-14-13-3zM873 2223l6 22 7-17 7 23 7-18zM496 2130l8-14 5 17 8-15 5 17-13-2zM839 2228l7-16 6 22 7-17 6 23zM535 2137l5 17 8-15 5 17 8-15zM798 2210l6 21 8-15 6 21 7-15zM553 2156l8-15 5 17 8-15 5 18 8-15 5 17-13-2-13-3zM764 2214l8-15 5 21 8-15 6 21zM592 2163l6 17 7-15 6 18 7-15 6 18 8-15 5 17 8-14-40-9zM711 2193l6 19 7-14 6 19 7-14 6 20 8-15zM624 2186l8-15 5 17 8-14 5 18 8-15 6 18 7-14 6 18 7-14 6 18 8-14 5 19 8-15 6 19 7-14 6 19-13-5-14-4-13-5-26-8-14-3-13-4z"/><path class=aX d="M342 2049l5 19 7-16 5 19 8-17 5 19 7-16-12-3-13-2zM372 2073l7-16 5 19 8-17 5 19 8-16 5 19-13-3-13-2zM435 2086l5 17 8-15 5 18 7-15 6 17 7-14-25-6zM466 2108l7-14 5 17 8-15 5 17 8-15 5 18-13-3-13-2zM504 2116l5 17 8-15 5 17 8-15 5 17 7-15zM833 2206l6 22 7-16 6 22 7-17 6 23 8-17-27-11zM522 2135l8-15 5 17 7-15 6 17 7-15 6 17zM812 2216l7-16 6 22 8-16 6 22zM561 2141l5 17 8-15 5 18 8-15 5 17 8-15-13-2-13-3zM758 2194l6 20 8-15 5 21 8-15 6 21 7-16-13-5-13-6zM592 2163l8-15 5 17 8-14 5 17-13-3zM737 2203l8-15 6 20 7-14 6 20-13-6zM645 2174l5 18 8-15 6 18 7-14 6 18 7-14 6 18 8-14 5 19 8-15-53-16z"/><path class=aY d="M280 2032l7-18 5 23 8-18 5 22 7-19 5 22 7-19 5 21 8-18 5 21-13-3-12-2-25-7zM379 2057l5 19 8-17 5 19 8-16 5 19 7-16-25-6zM410 2081l7-16 5 18 8-15 5 18 7-16 6 18 7-15 5 18-12-3-13-2-13-3zM473 2094l5 17 8-15 5 17 8-15 5 18 7-15-12-3zM504 2116l7-15 6 17 7-15 6 17zM859 2217l8-17 6 23 7-17 6 22 8-17 6 22-27-10zM542 2122l6 17 7-15 6 17 7-15zM806 2195l6 21 7-16 6 22 8-16zM561 2141l7-15 6 17 7-14 6 17-13-3zM785 2205l7-16 6 21 8-15 6 21zM600 2148l5 17 8-14 5 17 8-15 6 18 7-15-13-3-13-2zM718 2179l6 19 8-15 5 20 8-15 6 20 7-14-13-6-13-5zM618 2168l8-15 6 18 7-15 6 18 7-15 6 18 7-15 6 19 8-15 5 19 8-15 6 19 7-15 6 19 7-14 6 19 8-15 5 20-26-10-53-16z"/><path class=aZ d="M287 2014l5 23 8-18 5 22 7-19 5 22 7-19 5 21 8-18-37-9zM342 2049l7-18 5 21 8-18 5 20 7-18 5 21 8-18 5 20-13-2-12-3-13-2zM417 2065l5 18 8-15 5 18 7-16 6 18 7-15 5 18 8-15-26-6-12-2zM460 2091l8-15 5 18 8-15 5 17 7-15 6 17-26-4zM511 2101l6 17 7-15 6 17 7-15zM867 2200l6 23 7-17 6 22 8-17 6 22 7-17-27-10zM530 2120l7-15 5 17 8-15 5 17zM833 2206l7-17 6 23 7-17 6 22-13-5zM568 2126l6 17 7-14 6 17 7-15-13-2zM779 2184l6 21 7-16 6 21 8-15zM587 2146l7-15 6 17 7-15 6 18 7-15 6 17-13-2-13-3zM745 2188l7-15 6 21 8-15 6 20 7-15 6 21-13-6-14-5zM639 2156l6 18 7-15 6 18 7-15 6 19 8-15 5 19 8-15 6 19 7-15 6 19 7-14-13-5-40-12z"/><path class=ba d="M337 2028l5 21 7-18 5 21 8-18 5 20 7-18 5 21 8-18-13-3-12-2zM392 2059l7-17 6 20 7-17 5 20 8-16 5 19 7-16 5 18-12-2zM468 2076l5 18 8-15 5 17 7-15 6 17 7-14-13-3-12-2zM499 2098l7-14 5 17 8-15 5 17-13-2zM894 2211l7-18 6 23zM537 2105l5 17 8-15 5 17 8-15zM827 2184l6 22 7-17 6 23 7-17 6 22 8-17-14-5-13-6zM555 2124l8-15 5 17 8-14 5 17 8-15 5 17-13-2-13-3zM806 2195l7-17 6 22 8-16 6 22zM594 2131l6 17 7-15 6 18 7-15 6 17 8-15-14-2-13-3zM739 2169l6 19 7-15 6 21 8-15 6 20 7-15-27-11zM626 2153l8-15 5 18 8-15 5 18 8-15 5 18 8-14 6 18 7-15 6 19 7-15 6 19 8-15 5 20 8-15 6 19 7-14 6 19-13-5-14-4-13-5-40-12z"/><path class=bb d="M300 2019l7-20 5 23 7-20 5 23zM387 2039l5 20 7-17 6 20 7-17 5 20 8-16 5 19 7-16 5 18 8-15 5 18 8-15-38-9-13-4zM442 2070l8-15 5 18 8-15 5 18 7-15 6 18 7-15 5 17-12-2zM506 2084l5 17 8-15 5 17 8-15 5 17 8-15zM901 2193l6 23 8-18zM524 2103l8-15 5 17 8-15 5 17 8-14 5 16zM867 2200l7-17 6 23 8-18 6 23-14-5zM563 2109l5 17 8-14 5 17 8-15 5 17 8-15-26-4zM800 2173l6 22 7-17 6 22 8-16zM594 2131l8-15 5 17 8-15 5 18-13-3zM766 2179l7-16 6 21 7-16 6 21 8-16 6 22-27-11zM634 2138l5 18 8-15 5 18 8-15 5 18 8-14 6 18 7-15 6 19 7-15 6 19 8-15 5 20 8-15 6 19 7-14-26-10-27-8-13-3-13-4z"/><path class=bc d="M287 2014l8-20 5 25zM324 2025l8-20 5 23 7-20 5 23 8-20 5 23 7-19 5 21 8-18 5 21 7-18 5 21-25-6-12-2zM463 2058l5 18 7-15 6 18 7-15 5 17 8-15 5 18 8-15-13-3-13-2zM493 2081l8-15 5 18 8-15 5 17 7-15 6 17-26-4zM545 2090l5 17 8-14 5 16 7-14-12-2zM861 2178l6 22 7-17 6 23 8-18 6 23 7-18zM563 2109l7-14 6 17 7-15 6 17-13-2zM827 2184l7-17 6 22 7-17 6 23 8-17 6 22-14-5-13-6zM602 2116l5 17 8-15 5 18 8-15 6 17 7-15-13-2-13-3zM760 2158l6 21 7-16 6 21 7-16 6 21 8-16zM620 2136l8-15 6 17 7-15 6 18 7-15 6 18 7-15 6 19 7-15 6 18 8-15 5 19 8-15 6 19 7-14 6 19 7-15 6 20 8-16 5 20 8-15 6 21-14-6-13-4-26-10-27-8-13-3-13-4-26-6z"/><path class=bd d="M295 1994l5 25 7-20 5 23 7-20 5 23 8-20 5 23 7-20 5 23 8-20 5 23 7-19 5 21 8-18 5 21 7-18-25-6-12-4-50-12zM399 2042l8-17 5 20 8-17 5 21 7-17 5 20 8-17 5 20 8-16 5 19 7-16 5 19 8-16 5 19-63-15-13-4zM514 2069l5 17 7-15 6 17 7-14-13-3zM532 2088l7-14 6 16 7-14 6 17-13-3zM901 2193l8-18 6 23zM570 2095l6 17 7-15 6 17 7-15zM821 2162l6 22 7-17 6 22 7-17 6 23 8-17-27-11zM589 2114l7-15 6 17 7-15 6 17 7-15 6 18-13-3zM786 2168l8-16 6 21 7-16 6 21 8-16 6 22-27-11zM641 2123l6 18 7-15 6 18 7-15 6 19 7-15 6 18 8-15 5 19 8-15 6 19 7-14 6 19 7-15 6 20 8-16 5 20 8-15-13-5-27-8-13-5-13-4-14-3-13-4z"/><path class=be d="M394 2021l5 21 8-17 5 20 8-17 5 21 7-17 5 20 8-17 5 20 8-16 5 19 7-16 5 19 8-16 5 19 8-16-38-9-13-4-13-3-12-4-13-3zM488 2064l8-16 5 18 7-15 6 18 7-15 5 17-12-2-13-3zM539 2074l6 16 7-14 6 17 7-15 5 17 8-15zM909 2175l6 23 7-18zM558 2093l7-15 5 17 8-15 5 17 8-15 5 17zM861 2178l7-18 6 23 8-18 6 23 7-17 6 22zM596 2099l6 17 7-15 6 17 7-15 6 18 7-15-13-3zM781 2147l5 21 8-16 6 21 7-16 6 21 8-16zM628 2121l7-15 6 17 8-15 5 18 8-15 5 18-26-6zM720 2145l7-16 6 20 8-15 6 19 7-15 6 20 7-15 6 20 8-16 5 21-39-15z"/><path class=bf d="M307 1999l7-23 5 26 8-22 5 25 7-22 5 25zM496 2048l5 18 7-15 6 18 7-15 5 17 8-15 5 18 8-15-13-3-13-2zM526 2071l8-15 5 18 8-15 5 17 8-15 5 17-26-4zM578 2080l5 17 8-15 5 17 8-15zM855 2155l6 23 7-18 6 23 8-18 6 23 7-17 6 22 8-18-14-4-13-6zM596 2099l8-15 5 17 8-15 5 17zM821 2162l7-17 6 22 7-17 6 22 8-17 6 23-27-11zM635 2106l6 17 8-15 5 18 8-15 5 18 8-15 5 19 8-15 6 18 7-15 6 19 7-15 6 20 7-16 6 20 8-15 6 19 7-15 6 20 7-15 6 20 8-16-14-4-13-5-53-17-13-3-13-4-26-6zM667 2129l8-15 5 19 8-15 6 18 7-15 6 19 7-15 6 20-13-5-13-4-14-3z"/><path class=bg d="M295 1994l7-23 5 28zM344 2008l8-21 5 24 7-20 5 24 8-21 5 24 7-20 5 23 8-19 5 23 7-19 6 22 7-17 5 21 8-17 5 20 7-16 6 20 7-17 5 20 8-16 5 19 7-15 6 18 7-15 5 18 8-15 5 18 8-15 5 17-13-2-63-15-13-4-13-3-12-4-13-3-25-7-13-3-12-4zM547 2059l5 17 8-15 5 17 8-15zM565 2078l8-15 5 17 7-15 6 17zM909 2175l7-18 6 23zM604 2084l5 17 8-15 5 17 8-15zM815 2140l6 22 7-17 6 22 7-17 6 22 8-17zM622 2103l8-15 5 18 8-15 6 17 7-15 6 18-13-3-14-2zM754 2138l7-16 6 21 8-16 6 20 7-16 6 21 7-17 6 22 8-17 6 22-40-15-14-4z"/><path class=bh d="M302 1971l5 28 7-23 5 26 8-22 5 25 7-22 5 25 8-21 5 24 7-20 5 24 8-21 5 24 7-20 5 23 8-19 5 23 7-19 6 22 7-17 5 21 8-17 5 20 7-16 6 20 7-17 5 20 8-16 5 19 7-15 6 18 7-15 5 18 8-15 5 18 8-15 5 17 7-14-51-12-25-8-13-3-25-8-25-9-25-8-13-3-25-8-25-7zM534 2056l7-14 6 17 7-15 6 17-13-2zM573 2063l5 17 7-15 6 17 7-15zM903 2152l6 23 7-18 6 23 8-19-14-4zM591 2082l7-15 6 17 7-15 6 17zM868 2160l8-18 6 23 7-18 6 24 8-19 6 23-14-4-13-6zM630 2088l5 18 8-15 6 17 7-15 6 18 7-15 6 18 7-15-26-6-13-2zM735 2114l6 20 7-16 6 20 7-16 6 21 8-16 6 20 7-16 6 21 7-17 6 22 8-17-27-9zM662 2111l7-15 6 18 7-15 6 19 7-15 6 18 8-15 5 19 8-15 5 19 8-15 6 20 7-16 6 20-53-17-13-3-13-4z"/><path class=bi d="M452 2019l8-18 5 21 7-16 6 20 7-16 5 20 8-16 5 19 8-15 5 18-26-6-25-8zM541 2042l6 17 7-15 6 17 7-15 6 17 7-14-13-3zM560 2061l7-15 6 17 7-14 5 16 8-14 5 16zM598 2067l6 17 7-15 6 17 7-15 6 17 7-14-13-3zM862 2137l6 23 8-18 6 23 7-18 6 24 8-19zM617 2086l7-15 6 17 7-14 6 17 7-15 6 17-13-2-13-3zM815 2140l7-17 6 22 8-18 5 23 8-18 6 23 7-18 6 23zM682 2099l6 19 7-15 6 18 8-15 5 19 8-15 5 19 8-15-26-8-14-3z"/><path class=bj d="M460 2001l5 21 7-16 6 20 7-16 5 20 8-16 5 19 8-15 5 18 7-15 6 18 7-15-25-6-39-12zM389 1998l8-20 5 24 7-19 5 23 8-19 5 24 8-19 5 23 7-18 5 22-25-8-25-9zM516 2036l7-15 6 18 7-15 5 18 8-15 5 17 8-15 5 17-26-4zM580 2049l5 16 8-14 5 16 8-14zM598 2067l8-14 5 16 8-14 5 16zM916 2157l8-18 6 22zM637 2074l6 17 7-15 6 17 7-15 6 18 8-15-14-3zM809 2119l6 21 7-17 6 22 8-18 5 23 8-18 6 23 7-18-26-10zM656 2093l7-15 6 18 8-15 5 18 8-15 5 19 8-16 6 19 7-15 6 19 7-15 6 19 7-15 6 19 8-15 5 19 8-15 6 20 7-16 6 20 7-17 6 21 8-16 6 21-27-9-53-17-26-8-14-3-13-4z"/><path class=bk d="M409 1983l5 23 8-19 5 24 8-19 5 23 7-18 5 22 8-18-13-4-25-10zM536 2024l5 18 8-15 5 17 8-15 5 17 8-14-13-3-13-2zM302 1971l7-25 5 30 8-25 5 29 7-24 5 27 8-23 5 27 7-23 5 27 8-23 5 26 7-21 5 25-12-4-13-3-25-8-25-7zM567 2046l8-14 5 17 7-15 6 17-13-2zM606 2053l5 16 8-14 5 16 8-14zM924 2139l6 22 7-18zM624 2071l8-14 5 17 8-15 5 17-13-2zM876 2142l7-18 6 23 8-18 6 23 7-18 6 23zM677 2081l5 18 8-15 5 19 8-16 6 19 7-15 6 19 7-15 6 19 7-15 6 19 8-15 5 19 8-15 6 20 7-16 6 20 7-17 6 21 8-16-14-5-13-3-79-24z"/><path class=bl d="M460 2001l7-17 5 22 8-17 5 21 8-16 5 20 7-16 6 20 7-16 5 19 8-15 5 18 8-15 5 18 7-15 6 17-13-2-38-9-39-12zM334 1956l5 27 8-23 5 27 7-23 5 27 8-23 5 26 7-21 5 25 8-20 5 24 7-19-37-15zM575 2032l5 17 7-15 6 17 7-15 6 17 7-15zM593 2051l7-15 6 17 7-15 6 17 7-15 6 17zM632 2057l5 17 8-15 5 17 8-15 5 17 8-15zM870 2119l6 23 7-18 6 23 8-18 6 23 7-18 6 23 8-18zM650 2076l8-15 5 17 8-15 6 18 7-15 6 18 7-15 6 18 7-15 6 19 7-15 6 19 8-16 5 20 8-16 6 20 7-16 6 20 7-16 6 20 8-17 5 20 8-16 6 21 7-18 6 22 8-18 6 22 7-18 6 23 7-18 6 23 8-18 6 23-40-15-27-8-14-5-13-3-79-24-40-9z"/><path class=bm d="M467 1984l5 22 8-17 5 21 8-16 5 20 7-16 6 20 7-16 5 19 8-15 5 18 8-15 5 18 7-15 6 17 7-14 6 17 7-15-13-2-38-9-38-12zM422 1987l7-19 6 24 7-19 5 24 8-18 5 22-13-4zM562 2029l7-14 6 17 7-15 5 17 8-14 5 16-25-4zM309 1946l5 30 8-25 5 29 7-24zM613 2038l6 17 7-15 6 17 7-15zM632 2057l7-15 6 17 7-15 6 17zM671 2063l6 18 7-15 6 18 7-15 6 18 7-15 6 19 7-15 6 19 8-16 5 20 8-16 6 20 7-16 6 20 7-16 6 20 8-17 5 20 8-16 6 21 7-18 6 22 8-18 6 22 7-18 6 23 7-18 6 23 8-18-27-10-27-8-13-3-13-4-14-3-39-12-14-3-13-4z"/><path class=bn d="M505 1998l8-16 5 20 8-16 5 20 7-16 6 19 7-15 5 18-25-6zM429 1968l6 24 7-19 5 24 8-18 5 22 7-17-25-11zM582 2017l5 17 8-14 5 16 8-14-13-2zM397 1978l7-22 5 27 8-21 5 25-13-4zM600 2036l8-14 5 16 8-14 5 16zM639 2042l6 17 7-15 6 17 7-15zM658 2061l7-15 6 17 7-15 6 18 7-15 6 18-26-6zM883 2124l8-20 6 25 7-20 6 25 8-20 6 25 7-20 6 24-27-9z"/><path class=bo d="M500 1977l5 21 8-16 5 20 8-16 5 20 7-16 6 19 7-15 5 18 8-15 5 18 8-15-26-6-38-12zM467 1984l8-18 5 23 7-17 6 22 7-17 5 21-25-9zM556 2012l8-15 5 18 8-15 5 17 8-14 5 17 7-15 6 17-13-2-13-3-13-2zM404 1956l5 27 8-21 5 25 7-19zM608 2022l5 16 8-14 5 16 8-14 5 16 8-14zM359 1964l8-24 5 28 7-23 5 28 8-22 5 27-25-10zM626 2040l8-14 5 16 8-14 5 16zM665 2046l6 17 7-15 6 18 7-15 6 18 8-15 5 18 8-15-40-9zM891 2104l6 25 7-20 6 25 8-20 6 25 7-20 6 24 8-19zM697 2069l8-15 5 18 8-15 5 19 8-16 6 19 7-15 6 19 7-16 6 20 7-16 6 20 8-17 6 20 7-17 6 21 7-18 6 21 8-17 6 21 7-18 6 22 7-18 6 23 8-19 6 24 7-19 6 24-40-15-27-8-13-3-13-4-14-3-39-12-14-3-13-4z"/><path class=bp d="M475 1966l5 23 7-17 6 22 7-17-13-5zM577 2000l5 17 8-14 5 17 7-15 6 17 7-15-25-4zM442 1973l7-19 6 25 7-19 5 24zM608 2022l7-15 6 17 7-14 6 16zM379 1945l5 28 8-22 5 27 7-22zM647 2028l5 16 8-14 5 16 8-14zM309 1946l8-26 5 31 7-26 5 31 8-26 5 30 7-25 5 29-25-8zM652 2044l8-14 5 16 8-14 5 16 8-14 5 17-13-3zM718 2057l5 19 8-16 6 19 7-15 6 19 7-16 6 20 7-16 6 20 8-17 6 20 7-17 6 21 7-18 6 21 8-17 6 21 7-18 6 22 7-18 6 23 8-19 6 24 7-19 6 24 8-20-14-4-13-5-27-8-13-3-14-4-40-9-13-4-13-3-13-4z"/><path class=bq d="M546 1975l5 19 8-15 5 18 7-14zM500 1977l8-17 5 22 7-16 6 20 7-15 5 19 8-15 5 19 8-15 5 18 7-14 6 17 7-14 6 17 7-15 5 17-12-2-39-9-38-12zM449 1954l6 25 7-19 5 24 8-18zM615 2007l6 17 7-14 6 16 7-14-13-2zM429 1968l8-20 5 25zM634 2026l7-14 6 16 7-14 6 16zM342 1930l5 30 7-25 5 29 8-24 5 28 7-23zM673 2032l5 16 8-14 5 17 8-15zM691 2051l8-15 6 18 7-15 6 18 7-15 6 18 7-15 6 19 7-16 6 19 8-16 5 20 8-17 6 20-14-3-13-4-13-3-13-4zM918 2114l7-21 6 26 8-21 6 26z"/><path class=br d="M508 1960l5 22 7-16 6 20 7-15 5 19 8-15-13-4-13-5zM571 1983l6 17 7-14 6 17 7-15 5 17 8-14 5 16 8-14-13-2-13-3-13-2zM475 1966l7-18 5 24 8-17 5 22-13-5zM602 2005l8-14 5 16 8-14 5 17 8-14 5 16-13-2-13-3zM437 1948l5 25 7-19zM641 2012l6 16 7-14 6 16 7-14zM404 1956l8-22 5 28 7-21 5 27zM660 2030l7-14 6 16 7-15 6 17zM317 1920l5 31 7-26 5 31 8-26zM699 2036l6 18 7-15 6 18 7-15 6 18 7-15 6 19 7-16 6 19 8-16 5 20 8-17 6 20 7-17zM939 2098l6 26 7-22zM784 2074l7-17 6 20 7-17 6 20 8-17 6 21 7-18 6 21 7-18 6 22 8-18 6 22 7-19 6 24 8-20 6 24 7-20 6 25 8-20 6 25-27-10-14-4-13-5-27-8-13-3-14-4z"/><path class=bs d="M533 1971l7-16 6 20 7-15 6 19 7-15 5 19 8-15 5 18 8-15 5 17 7-14 6 17-13-3-13-2-13-3zM482 1948l5 24 8-17 5 22 8-17-13-5zM623 1993l5 17 8-14 5 16 8-14-13-2zM462 1960l8-18 5 24zM641 2012l8-14 5 16 8-14 5 16zM412 1934l5 28 7-21 5 27 8-20zM667 2016l6 16 7-15 6 17 7-15 6 17 7-15-26-4zM392 1951l7-23 5 28zM686 2034l7-15 6 17 7-15 6 18 7-15 6 18 8-15 5 18-39-9zM791 2057l6 20 7-17 6 20 8-17 6 21 7-18 6 21 7-18 6 22 8-18 6 22 7-19 6 24 8-20 6 24 7-20 6 25 8-20 6 25 7-21 6 26 8-21-54-18-14-4-13-3-14-4z"/><path class=bt d="M528 1950l5 21 7-16 6 20 7-15 6 19 7-15 5 19 8-15 5 18 8-15 5 17 7-14 6 17 7-14 6 16 7-14-13-2-38-9-26-8zM508 1960l7-16 5 22 8-16 5 21-13-5zM610 1991l7-14 6 16 7-14 6 17 7-14 6 16-13-2-13-3zM470 1942l5 24 7-18zM649 1998l5 16 8-14 5 16 8-15-13-1zM449 1954l8-19 5 25zM667 2016l8-15 5 16 8-14 5 16-13-2zM399 1928l5 28 8-22zM706 2021l6 18 7-15 6 18 8-15 5 18 8-16 5 19 8-16-13-3-13-2zM367 1940l7-24 5 29 7-24 6 30zM738 2045l8-16 5 19 8-16 6 19 7-16 6 19 7-16 6 19 8-17 5 20z"/><path class=bu d="M553 1960l8-16 5 20 7-15 6 19 7-15 6 18 7-14 5 17-25-6zM502 1937l6 23 7-16 5 22 8-16-13-6zM630 1979l6 17 7-14 6 16 7-14-13-2zM482 1948l8-18 5 25 7-18 6 23-13-5zM649 1998l7-14 6 16 7-14 6 15-13-1zM457 1935l5 25 8-18zM675 2001l5 16 8-14 5 16 8-14zM437 1948l7-21 5 27zM693 2019l8-14 5 16 8-14 5 17 8-15 6 18-27-6zM374 1916l5 29 7-24 6 30 7-23-13-7zM759 2032l6 19 7-16 6 19 7-16 6 19 8-17 5 20 8-17-13-3-14-2zM329 1925l7-27 6 32 7-26 5 31 7-25 6 30zM804 2060l8-17 6 20 7-18 6 21 8-18 5 21 8-18 6 22 7-19 6 22 8-19 6 23 7-20 6 24 8-20 6 25 7-21 6 25 8-22 6 27 7-23 6 27-67-22-14-4-13-3-14-4z"/><path class=bv d="M561 1944l5 20 7-15 6 19 7-15 6 18 7-14 5 17 8-14 5 17 8-14-26-6-26-8zM528 1950l7-17 5 22 8-16 5 21zM604 1974l8-14 5 17 8-14 5 16 7-14 6 17 7-15 6 17-13-2-13-3-13-2zM490 1930l5 25 7-18zM656 1984l6 16 7-14 6 15 7-14-13-1zM470 1942l7-19 5 25zM675 2001l7-14 6 16 7-14 6 16zM444 1927l5 27 8-19zM701 2005l5 16 8-14 5 17 8-15 6 18 7-16zM412 1934l7-22 5 29 8-21 5 28zM733 2027l7-16 6 18 7-15 6 18 7-16 6 19-26-6zM361 1910l6 30 7-24zM812 2043l6 20 7-18 6 21 8-18 5 21 8-18 6 22 7-19-40-9zM317 1920l7-27 5 32z"/><path class=bw d="M535 1933l5 22 8-16 5 21 8-16-13-5zM625 1963l5 16 7-14 6 17 7-15 6 17 7-14-13-3zM515 1944l7-17 6 23zM656 1984l7-14 6 16 7-15 6 16-13-1zM477 1923l5 25 8-18zM682 1987l6 16 7-14 6 16 7-14zM457 1935l7-20 6 27zM701 2005l7-14 6 16 7-14 6 16zM432 1920l5 28 7-21zM740 2011l6 18 7-15 6 18 7-16 6 19 7-16-13-3-13-2zM399 1928l7-24 6 30zM772 2035l7-16 6 19 8-17 6 19 7-17 6 20-13-3-14-2zM336 1898l6 32 7-26 5 31 7-25zM865 2054l6 22 8-19 6 23 7-20 6 24 8-20 6 25 7-21 6 25 8-22 6 27 7-23 6 27 8-23-27-8-14-3-27-8z"/><path class=bx d="M581 1934l5 19 8-15 5 19 7-15 6 18 7-15 6 18 7-15-26-6zM548 1939l7-16 6 21 7-15 5 20 8-15 5 19 8-15 5 19 7-15 6 18 7-15 6 18 7-15 5 17 8-14 5 16-25-4-26-6-26-8zM510 1920l5 24 7-17 6 23 7-17-13-6zM663 1970l6 16 7-15 6 16 7-14-13-2zM502 1937l8-17 5 24zM682 1987l7-14 6 16 7-14 6 16zM464 1915l6 27 7-19zM708 1991l6 16 7-14 6 16 7-14zM444 1927l8-20 5 28zM727 2009l7-14 6 16 7-15 6 18 7-16 6 18-13-2-13-3zM419 1912l5 29 8-21zM779 2019l6 19 8-17 6 19 7-17 6 20 7-17-13-3zM386 1921l8-24 5 31zM812 2043l7-17 6 19 8-17 6 20 7-18 6 21-27-6zM324 1893l5 32 7-27z"/><path class=by d="M555 1923l6 21 7-15 5 20 8-15-13-5zM632 1948l5 17 8-14 5 16 8-14 5 17 8-15-26-4zM535 1933l8-16 5 22zM650 1967l8-14 5 17 8-15 5 16 8-14 5 16-13-2-13-1zM497 1913l5 24 8-17zM689 1973l6 16 7-14 6 16 7-14zM490 1930l7-17 5 24zM708 1991l7-14 6 16 7-15 6 17zM452 1907l5 28 7-20zM734 1995l6 16 7-15 6 18 7-16 6 18 8-15-14-3-13-2zM766 2016l8-15 5 18 8-16 6 18-14-2zM406 1904l6 30 7-22zM819 2026l6 19 8-17 6 20 7-18 6 21 7-19zM374 1916l7-26 5 31zM852 2051l7-19 6 22 8-19 6 22 7-20 6 23 8-20 6 24 7-21 6 25 8-22 6 25 7-22 6 26 8-22 6 26-27-8-14-3-27-8z"/><path class=bz d="M568 1929l7-16 6 21 7-16 6 20 7-15 5 19 8-15 5 18 8-14 5 17 7-14 6 17 7-15 6 17-13-2-39-9-25-8zM530 1910l5 23 8-16 5 22 7-16zM671 1955l5 16 8-14 5 16 8-14zM522 1927l8-17 5 23zM689 1973l8-14 5 16 8-14 5 16zM484 1905l6 25 7-17zM715 1977l6 16 7-15 6 17 8-15-14-2zM477 1923l7-18 6 25zM734 1995l8-15 5 16 8-15 5 17-13-2zM439 1898l5 29 8-20zM774 2001l5 18 8-16 6 18 7-17-13-1zM432 1920l7-22 5 29zM793 2021l7-17 6 19 7-17 6 20 8-18 6 20-14-2-13-3zM381 1890l5 31 8-24 5 31 7-24zM859 2032l6 22 8-19 6 22 7-20 6 23 8-20 6 24 7-21 6 25 8-22-41-9-13-2zM349 1904l7-26 5 32 8-26 5 32z"/><path class=bA d="M575 1913l6 21 7-16 6 20 7-15 5 19 8-15 5 18 8-14 5 17 7-14 6 17 7-15 6 17 7-14-13-3-13-2-25-7-13-4zM555 1923l8-16 5 22zM658 1953l7-14 6 16 7-14 6 16zM517 1903l5 24 8-17zM697 1959l5 16 8-14 5 16 8-15-13-1zM510 1920l7-17 5 24zM715 1977l8-15 5 16zM742 1980l5 16 8-15 5 17 8-15-13-2zM464 1915l8-19 5 27zM760 1998l8-15 6 18 7-16 6 18-13-2zM800 2004l6 19 7-17 6 20 8-18zM419 1912l7-22 6 30zM833 2028l7-18 6 20 7-18 6 20zM369 1884l5 32 7-26zM927 2046l6 25 7-22 6 26 8-22 6 26 7-23-13-3-14-4zM336 1898l8-27 5 33z"/><path class=bB d="M601 1923l7-15 6 19 7-15 6 19 7-15 5 18 8-15 5 17-13-2-25-7zM550 1901l5 22 8-16 5 22 7-16zM665 1939l6 16 7-14 6 16 7-14 6 16 7-14zM530 1910l7-16 6 23 7-16 5 22zM684 1957l7-14 6 16 7-14 6 16zM504 1895l6 25 7-17zM723 1962l5 16 8-14zM497 1913l7-18 6 25zM728 1978l8-14 6 16 7-15 6 16-13-1zM472 1896l5 27 7-18zM768 1983l6 18 7-16 6 18 7-17-13-1zM452 1907l7-20 5 28zM787 2003l7-17 6 18 7-16 6 18-13-2zM426 1890l6 30 7-22zM827 2008l6 20 7-18 6 20 7-18zM406 1904l8-23 5 31zM859 2032l8-18 6 21 7-20 6 22 8-19 6 22-14-3-13-2zM356 1878l5 32 8-26zM324 1893l7-28 5 33z"/><path class=bC d="M596 1903l5 20 7-15 6 19 7-15 6 19 7-15 5 18 8-15 5 17 8-14 5 17 7-15-12-2-26-6-26-8zM575 1913l8-16 5 21 8-15 5 20zM652 1936l8-14 5 17 7-15 6 17 7-15 6 17-26-4zM537 1894l6 23 7-16zM704 1945l6 16 7-15zM517 1903l8-17 5 24zM710 1961l7-15 6 16 7-14 6 16-13-2zM492 1886l5 27 7-18zM736 1964l6 16 7-15 6 16 7-15zM484 1905l8-19 5 27zM755 1981l7-15 6 17 7-15 6 17zM459 1887l5 28 8-19zM794 1986l6 18 7-16 6 18 8-17-14-1zM813 2006l8-17 6 19 7-17 6 19zM414 1881l5 31 7-22zM853 2012l6 20 8-18 6 21 7-20 6 22 8-19-14-3-13-1zM394 1897l7-24 5 31zM900 2040l7-20 6 23 8-21 6 24 7-21 6 24 8-22 6 26-14-4zM331 1865l5 33 8-27 5 33 7-26-12-7z"/><path class=bD d="M570 1891l5 22 8-16 5 21 8-15zM672 1924l6 17 7-15 6 17 7-15zM550 1901l7-17 6 23 7-16 5 22zM691 1943l7-15 6 17 7-15 6 16-13-1zM525 1886l5 24 7-16zM717 1946l6 16 7-14 6 16 7-15-13-1zM736 1964l7-15 6 16 7-15 6 16zM762 1966l6 17 7-15 6 17 7-16-13-1zM472 1896l7-19 5 28zM781 1985l7-16 6 17 8-16 5 18-13-2zM446 1878l6 29 7-20zM821 1989l6 19 7-17 6 19 7-18-13-1zM439 1898l7-20 6 29zM840 2010l7-18 6 20 8-18 6 20zM401 1873l5 31 8-23zM894 2018l6 22 7-20 6 23 8-21 6 24 7-21-13-3zM381 1890l8-24 5 31zM954 2053l7-23 6 26z"/><path class=bE d="M628 1896l6 20 7-16 6 19 7-16-13-3zM596 1903l7-16 5 21 8-16 5 20 7-16 6 20 7-16 6 19 7-16 6 19 7-16 5 18 8-15 5 17-25-4-26-6-26-8zM557 1884l6 23 7-16zM698 1928l6 17 7-15 6 16 7-14zM537 1894l8-17 5 24zM717 1946l7-14 6 16 7-15 6 16-13-1zM512 1878l5 25 8-17zM743 1949l6 16 7-15 6 16 7-15zM504 1895l8-17 5 25zM762 1966l7-15 6 17zM479 1877l5 28 8-19zM788 1969l6 17 8-16 5 18 8-16-13-2zM807 1988l8-16 6 17zM847 1992l6 20 8-18zM426 1890l8-22 5 30zM867 2014l7-19 6 20 8-19 6 22-14-3zM389 1866l5 31 7-24zM934 2025l6 24 8-22 6 26 7-23 6 26 8-23-27-6zM369 1884l7-26 5 32z"/><path class=bF d="M590 1881l6 22 7-16 5 21 8-16 5 20 7-16-25-9zM654 1903l6 19 7-16 5 18 8-15 5 17 8-15-13-2zM570 1891l7-17 6 23 7-16 6 22zM685 1926l8-15 5 17 8-15 5 17zM545 1877l5 24 7-17zM724 1932l6 16 7-15 6 16 7-15zM525 1886l7-17 5 25zM743 1949l7-15 6 16zM769 1951l6 17 7-16zM492 1886l7-17 5 26zM775 1968l7-16 6 17 8-16 6 17zM466 1868l6 28 7-19zM815 1972l6 17 7-16zM459 1887l7-19 6 28zM821 1989l7-16 6 18 7-17 6 18-13-1zM434 1868l5 30 7-20zM861 1994l6 20 7-19 6 20 8-19zM414 1881l7-23 5 32zM894 2018l7-20 6 22 7-20 7 22zM376 1858l5 32 8-24zM356 1878l7-27 6 33z"/><path class=bG d="M616 1892l7-16 5 20 8-16 5 20 8-16 5 19 7-16 6 19 7-16 6 19-39-9zM577 1874l6 23 7-16zM693 1911l5 17 8-15 5 17 8-15zM557 1884l8-17 5 24zM711 1930l8-15 5 17 8-15 5 16-13-1zM532 1869l5 25 8-17zM750 1934l6 16 8-15zM756 1950l8-15 5 16 8-15 5 16zM499 1869l5 26 8-17zM782 1952l6 17 8-16 6 17 7-16zM479 1877l8-18 5 27zM802 1970l7-16 6 18zM828 1973l6 18 7-17 6 18 8-17zM446 1878l8-20 5 29zM847 1992l8-17 6 19 7-18 6 19-13-1zM421 1858l5 32 8-22zM888 1996l6 22 7-20 6 22 7-20zM921 2022l7-20 6 23 8-21 6 23 7-21 6 24-13-3-14-2zM363 1851l6 33 7-26zM331 1865l7-26 6 32 7-26 5 33-12-7z"/><path class=bH d="M623 1876l5 20 8-16 5 20 8-16 5 19 7-16 6 19 7-16 6 19 7-16-38-9zM590 1881l8-17 5 23 7-17 6 22-13-5zM680 1909l7-16 6 18 7-16 6 18 7-15 6 17zM565 1867l5 24 7-17zM719 1915l5 17 8-15 5 16 8-15-13-1zM545 1877l7-17 5 24zM737 1933l8-15 5 16 8-15 6 16zM519 1860l6 26 7-17zM764 1935l5 16 8-15 5 16 8-15zM512 1878l7-18 6 26zM782 1952l8-15 6 16zM487 1859l5 27 7-17zM809 1954l6 18 7-17zM815 1972l7-17 6 18 7-17 6 18zM454 1858l5 29 7-19zM855 1975l6 19 7-18zM874 1995l8-18 6 19zM914 2000l7 22 7-20 6 23 8-21 6 23 7-21zM401 1873l7-23 6 31zM961 2030l8-22 6 25zM351 1845l5 33 7-27z"/><path class=bI d="M598 1864l5 23 7-17 6 22 7-16zM687 1893l6 18 7-16 6 18 7-15 6 17 7-15-13-2-13-3zM577 1874l8-17 5 24zM719 1915l7-15 6 17 7-16 6 17-13-1zM552 1860l5 24 8-17zM745 1918l5 16 8-15 6 16 7-15zM532 1869l7-17 6 25zM764 1935l7-15 6 16zM790 1937l6 16 7-15zM499 1869l8-18 5 27zM796 1953l7-15 6 16zM822 1955l6 18 7-17 6 18 8-17zM466 1868l8-19 5 28zM841 1974l8-17 6 18zM868 1976l6 19 8-18 6 19 7-18zM434 1868l7-21 5 31zM888 1996l7-18 6 20 7-19 6 21zM408 1850l6 31 7-23zM955 2006l6 24 8-22 6 25 7-22-13-3zM389 1866l7-25 5 32zM338 1839l6 32 7-26z"/><path class=bJ d="M623 1876l7-18 6 22 7-17 6 21 7-17 5 20 8-17 5 20 8-16 5 19 7-17 6 19-13-2-38-9zM585 1857l5 24 8-17zM726 1900l6 17 7-16 6 17 7-15-13-2zM565 1867l7-17 5 24zM745 1918l7-15 6 16zM539 1852l6 25 7-17zM771 1920l6 16 7-15zM777 1936l7-15 6 16 7-15 6 16zM507 1851l5 27 7-18zM803 1938l6 16 7-15zM809 1954l7-15 6 16 7-16 6 17zM474 1849l5 28 8-18zM849 1957l6 18 7-17zM855 1975l7-17 6 18zM441 1847l5 31 8-20zM895 1978l6 20 7-19zM914 2000l8-20 6 22 7-21 7 23zM396 1841l5 32 7-23zM376 1858l7-25 6 33z"/><path class=bK d="M618 1853l5 23 7-18 6 22 7-17 6 21 7-17 5 20 8-17 5 20 8-16 5 19 7-17 6 19 7-16-13-3-12-2-13-4-13-3-13-4zM598 1864l7-18 5 24 8-17 5 23zM700 1895l7-16 6 19 7-16 6 18 7-16 6 17-13-1-13-2zM572 1850l5 24 8-17zM752 1903l6 16 7-15zM552 1860l7-18 6 25zM758 1919l7-15 6 16 7-15 6 16zM527 1843l5 26 7-17zM784 1921l6 16 7-15zM519 1860l8-17 5 26zM803 1938l7-15 6 16zM494 1841l5 28 8-18zM816 1939l6 16 7-16 6 17 8-16-14-1zM487 1859l7-18 5 28zM835 1956l8-16 6 17zM461 1838l5 30 8-19zM862 1958l6 18 7-18zM454 1858l7-20 5 30zM868 1976l7-18 7 19 7-18 6 19zM428 1837l6 31 7-21zM908 1979l6 21 8-20 6 22 7-21zM421 1858l7-21 6 31zM942 2004l7-21 6 23 8-21 6 23zM383 1833l6 33 7-25zM363 1851l8-25 5 32z"/><path class=bL d="M605 1846l5 24 8-17zM707 1879l6 19 7-16 6 18 7-16 6 17 7-15-26-4zM585 1857l7-18 6 25zM739 1901l7-15 6 17 7-16 6 17-13-1zM559 1842l6 25 7-17zM765 1904l6 16 7-15 6 16 7-15zM539 1852l8-18 5 26zM784 1921l7-15 6 16zM797 1922l6 16 7-15 6 16 8-16-14 0zM507 1851l7-17 5 26zM816 1939l8-16 5 16zM843 1940l6 17 7-17zM474 1849l7-18 6 28zM849 1957l7-17 6 18zM875 1958l7 19 7-18zM895 1978l7-19 6 20zM935 1981l7 23 7-21 6 23 8-21zM408 1850l8-23 5 31zM969 2008l7-21 6 24zM371 1826l5 32 7-25zM351 1845l7-26 5 32z"/><path class=bM d="M630 1858l8-18 5 23 7-18 6 22 7-18 6 21 7-17 6 21 7-18 5 20 8-17 5 20 8-17 5 20-26-6-12-2-13-4-13-3-13-4zM592 1839l6 25 7-18zM746 1886l6 17 7-16zM572 1850l7-18 6 25zM765 1904l7-16 6 17zM547 1834l5 26 7-18zM791 1906l6 16 7-15zM797 1922l7-15 6 16zM514 1834l5 26 8-17zM824 1923l5 16 8-16zM829 1939l8-16 6 17zM481 1831l6 28 7-18zM856 1940l6 18 7-17zM862 1958l7-17 6 17 8-17 6 18-14-1zM449 1828l5 30 7-20zM889 1959l6 19 7-19 6 20 8-19-14-1zM441 1847l8-19 5 30zM908 1979l8-19 6 20 7-19 6 20zM416 1827l5 31 7-21zM963 1985l6 23 7-21 6 24 8-21-14-3zM358 1819l5 32 8-25zM338 1839l8-27 5 33z"/><path class=bN d="M638 1840l5 23 7-18 6 22 7-18 6 21 7-17 6 21 7-18 5 20 8-17 5 20 8-17 5 20 8-17-52-12-26-8zM605 1846l7-18 6 25 7-19 5 24-12-5zM720 1882l8-17 5 19 8-17 5 19 8-17 5 18-13-1zM579 1832l6 25 7-18zM759 1887l6 17 7-16 6 17 7-15-13-2zM559 1842l8-17 5 25zM778 1905l7-15 6 16zM534 1826l5 26 8-18zM804 1907l6 16 8-16zM527 1843l7-17 5 26zM810 1923l8-16 6 16 7-15 6 15zM501 1824l6 27 7-17zM837 1923l6 17 7-16zM494 1841l7-17 6 27zM843 1940l7-16 6 16zM869 1941l6 17 8-17zM461 1838l8-18 5 29zM889 1959l7-18 6 18zM916 1960l6 20 7-19zM935 1981l8-19 6 21zM396 1841l7-23 5 32zM346 1812l5 33 7-26z"/><path class=bO d="M612 1828l6 25 7-19 5 24 8-18zM728 1865l5 19 8-17 5 19 8-17zM592 1839l7-18 6 25zM759 1887l8-16 5 17zM567 1825l5 25 7-18zM785 1890l6 16 8-16zM547 1834l7-17 5 25zM791 1906l8-16 5 17 8-16 6 16-14 0zM818 1907l6 16 7-15zM514 1834l7-17 6 26zM837 1923l7-15 6 16zM850 1924l6 16 7-16zM856 1940l7-16 6 17 8-17 6 17-14 0zM469 1820l5 29 7-18zM883 1941l6 18 7-18zM902 1959l8-18 6 19zM436 1817l5 30 8-19zM929 1961l6 20 8-19 6 21 7-20zM428 1837l8-20 5 30zM949 1983l7-20 7 22 7-21 6 23 8-21 6 24-14-3zM403 1818l5 32 8-23zM383 1833l8-24 5 32z"/><path class=bP d="M650 1845l8-18 5 22 8-18 5 22 7-18 6 21 7-17 6 20 7-17 6 20 7-17 6 20 7-17 6 19-13-2-52-12zM599 1821l6 25 7-18zM754 1869l5 18 8-16 5 17 8-15zM579 1832l8-18 5 25zM772 1888l8-15 5 17 8-16 6 16-14 0zM554 1817l5 25 8-17zM799 1890l5 17 8-16 6 16 7-15zM818 1907l7-15 6 16zM521 1817l6 26 7-17zM831 1908l6 15 7-15 6 16 7-16zM850 1924l7-16 6 16zM489 1814l5 27 7-17zM863 1924l6 17 8-17zM481 1831l8-17 5 27zM883 1941l7-17 6 17zM896 1941l6 18 8-18 6 19 7-18-13-1zM449 1828l7-19 5 29zM916 1960l7-18 6 19zM956 1963l7 22 7-21 6 23 8-21-14-2zM416 1827l7-21 5 31zM391 1809l5 32 7-23zM371 1826l7-25 5 32z"/><path class=bQ d="M645 1822l5 23 8-18 5 22 8-18 5 22 7-18 6 21 7-17 6 20 7-17 6 20 7-17 6 20 7-17-39-9-38-12zM625 1834l7-18 6 24 7-18 5 23zM741 1867l7-17 6 19 7-16 6 18zM587 1814l5 25 7-18zM780 1873l5 17 8-16 6 16 7-15zM567 1825l7-18 5 25zM799 1890l7-15 6 16zM541 1809l6 25 7-17zM825 1892l6 16 7-16zM534 1826l7-17 6 25zM831 1908l7-16 6 16zM509 1807l5 27 7-17zM857 1908l6 16 8-16zM501 1824l8-17 5 27zM863 1924l8-16 6 16zM877 1924l6 17 7-17zM469 1820l7-17 5 28zM896 1941l8-17 6 17zM456 1809l5 29 8-18zM923 1942l6 19 8-19zM929 1961l8-19 6 20zM423 1806l5 31 8-20zM984 1966l6 24 7-21zM378 1801l5 32 8-24zM358 1819l8-25 5 32z"/><path class=bR d="M632 1816l6 24 7-18zM735 1848l6 19 7-17 6 19 7-16 6 18 7-16-13-2-13-3zM612 1828l8-18 5 24zM767 1871l7-16 6 18 7-16 6 17-13-1zM574 1807l5 25 8-18zM806 1875l6 16 7-15zM554 1817l7-18 6 26zM812 1891l7-15 6 16zM838 1892l6 16 7-16zM521 1817l8-17 5 26zM844 1908l7-16 6 16zM871 1908l6 16 7-16zM489 1814l7-17 5 27zM877 1924l7-16 6 16zM476 1803l5 28 8-17zM890 1924l6 17 8-17zM910 1941l7-17 6 18zM937 1942l6 20 7-20zM436 1817l7-20 6 31zM943 1962l7-20 6 21 8-20 6 21zM403 1818l8-22 5 31zM366 1794l5 32 7-25zM346 1812l7-24 5 31z"/><path class=bS d="M671 1831l7-19 5 23 8-18 5 22 8-19 5 22 7-18 6 21 7-18 6 21 7-18 6 20-13-2-39-9zM607 1803l5 25 8-18 5 24 7-18zM774 1855l6 18 7-16 6 17 7-16-13-1zM599 1821l8-18 5 25zM793 1874l7-16 6 17zM561 1799l6 26 7-18zM819 1876l6 16 7-16zM825 1892l7-16 6 16 7-16 6 16zM529 1800l5 26 7-17zM851 1892l6 16 8-16zM857 1908l8-16 6 16zM496 1797l5 27 8-17zM884 1908l6 16 7-16zM890 1924l7-16 7 16zM904 1924l6 17 7-17 6 18 8-18zM923 1942l8-18 6 18zM443 1797l6 31 7-19zM950 1942l6 21 8-20zM970 1964l7-20 7 22 7-20 6 23-13-3zM411 1796l5 31 7-21zM353 1788l5 31 8-25z"/><path class=bT d="M678 1812l5 23 8-18 5 22 8-19 5 22 7-18 6 21 7-18 6 21 7-18-26-6-12-4-13-3zM632 1816l8-19 5 25 7-19 6 24 7-19 6 23-13-4-13-5zM748 1850l7-17 6 20 7-17 6 19 7-17 6 19-26-4zM594 1796l5 25 8-18zM800 1858l6 17 7-16zM587 1814l7-18 5 25zM806 1875l7-16 6 17 7-16 6 16-13 0zM549 1791l5 26 7-18zM832 1876l6 16 7-16zM541 1809l8-18 5 26zM851 1892l8-15 6 15zM516 1791l5 26 8-17zM865 1892l6 16 7-16zM509 1807l7-16 5 26zM871 1908l7-16 6 16zM897 1908l7 16 7-17zM476 1803l7-16 6 27zM904 1924l7-17 6 17zM463 1791l6 29 7-17zM931 1924l6 18 7-18zM456 1809l7-18 6 29zM937 1942l7-18 6 18zM964 1943l6 21 7-20 7 22 7-20-14-2zM423 1806l8-20 5 31zM391 1809l7-23 5 32z"/><path class=bU d="M640 1797l5 25 7-19 6 24 7-19 6 23 7-19-13-4-13-5zM742 1830l6 20 7-17 6 20 7-17 6 19 7-17 6 19 7-17-26-4zM620 1810l7-19 5 25zM787 1857l7-17 6 18 7-16 6 17zM581 1789l6 25 7-18zM813 1859l6 17 7-16 6 16 7-16-13 0zM574 1807l7-18 6 25zM832 1876l7-16 6 16zM845 1876l6 16 8-15 6 15 7-15-13 0zM529 1800l7-17 5 26zM865 1892l7-15 6 15zM878 1892l6 16 7-16zM496 1797l7-16 6 26zM884 1908l7-16 6 16zM483 1787l6 27 7-17zM911 1907l6 17 7-17zM917 1924l7-17 7 17zM944 1924l6 18 8-18zM950 1942l8-18 6 19zM431 1786l5 31 7-20zM991 1946l6 23 8-21zM398 1786l5 32 8-22zM378 1801l7-24 6 32z"/><path class=bV d="M691 1817l7-19 6 22 7-18 5 22 8-18 5 21 8-18 5 21 8-17 5 20-39-9-12-4zM627 1791l5 25 8-19zM794 1840l6 18 7-16zM607 1803l7-18 6 25zM813 1859l7-16 6 17zM569 1782l5 25 7-18zM839 1860l6 16 8-15zM561 1799l8-17 5 25zM845 1876l8-15 6 16zM536 1783l5 26 8-18zM872 1877l6 15 7-15zM516 1791l7-16 6 25zM878 1892l7-15 6 15zM503 1781l6 26 7-16zM891 1892l6 16 8-16zM897 1908l8-16 6 15zM924 1907l7 17 7-18zM463 1791l8-16 5 28zM931 1924l7-18 6 18zM451 1779l5 30 7-18zM958 1924l6 19 7-19zM443 1797l8-18 5 30zM964 1943l7-19 6 20 8-19 6 21-14-2zM411 1796l7-22 5 32zM385 1777l6 32 7-23zM366 1794l7-24 5 31z"/><path class=bW d="M711 1802l5 22 8-18 5 21 8-18 5 21 8-17-13-4-13-3zM652 1803l8-19 5 24 7-19 6 23 7-18 6 23-13-5-13-4zM755 1833l7-17 6 20 7-18 6 20 7-17 6 19-26-4zM614 1785l6 25 7-19zM807 1842l6 17 7-16 6 17 8-16zM594 1796l7-18 6 25zM826 1860l8-16 5 16zM556 1774l5 25 8-17zM853 1861l6 16 7-16zM549 1791l7-17 5 25zM859 1877l7-16 6 16zM523 1775l6 25 7-17zM885 1877l6 15 8-16zM891 1892l8-16 6 16zM491 1771l5 26 7-16zM905 1892l6 15 7-16zM483 1787l8-16 5 26zM911 1907l7-16 6 16zM471 1775l5 28 7-16zM938 1906l6 18 7-18zM944 1924l7-18 7 18zM971 1924l6 20 8-19zM991 1946l7-20 7 22zM418 1774l5 32 8-20zM373 1770l5 31 7-24zM353 1788l7-25 6 31z"/><path class=bX d="M660 1784l5 24 7-19 6 23 7-18 6 23 7-19 6 22 7-18-26-8zM750 1813l5 20 7-17 6 20 7-18 6 20 7-17 6 19 7-17-13-2-13-3-13-2zM627 1791l7-18 6 24 7-18 5 24zM794 1840l7-17 6 19 8-17 5 18-13-1zM589 1771l5 25 7-18 6 25 7-18zM834 1844l5 16 8-16zM581 1789l8-18 5 25zM839 1860l8-16 6 17 7-16 6 16-13 0zM543 1767l6 24 7-17zM866 1861l6 16 7-16zM536 1783l7-16 6 24zM872 1877l7-16 6 16zM511 1766l5 25 7-16zM899 1876l6 16 7-16zM503 1781l8-15 5 25zM905 1892l7-16 6 15zM918 1891l6 16 8-17zM924 1907l8-17 6 16zM951 1906l7 18 7-18zM958 1924l7-18 6 18zM438 1767l5 30 8-18zM985 1925l6 21 7-20 7 22 7-20-14-2zM431 1786l7-19 5 30zM398 1786l7-23 6 33zM360 1763l6 31 7-24z"/><path class=bY d="M634 1773l6 24 7-18 5 24 8-19-13-5zM801 1823l6 19 8-17 5 18 8-17-13-1zM614 1785l7-18 6 24zM820 1843l8-17 6 18zM576 1765l5 24 8-18zM847 1844l6 17 7-16zM569 1782l7-17 5 24zM866 1861l7-16 6 16zM879 1861l6 16 7-16zM523 1775l8-16 5 24zM885 1877l7-16 7 15zM912 1876l6 15 7-16zM918 1891l7-16 7 15zM478 1760l5 27 8-16zM932 1890l6 16 7-16zM471 1775l7-15 5 27zM938 1906l7-16 6 16zM458 1763l5 28 8-16zM965 1906l6 18 8-19zM451 1779l7-16 5 28zM971 1924l8-19 6 20zM405 1763l6 33 7-22z"/><path class=bZ d="M672 1789l8-18 5 23 8-19 5 23 7-18 6 22 7-18 6 22 7-19 6 22 7-18 6 22 7-18 5 21 8-18 5 20 8-17 5 20 8-17 5 19 8-17 6 19-27-4-13-3-13-2-25-7-13-3-39-12zM621 1767l6 24 7-18zM828 1826l6 18 7-17zM601 1778l8-18 5 25zM834 1844l7-17 6 17 7-16 6 17-13-1zM563 1758l6 24 7-17zM860 1845l6 16 7-16 6 16 7-16zM556 1774l7-16 6 24zM879 1861l7-16 6 16zM531 1759l5 24 7-16zM892 1861l7 15 7-15zM899 1876l7-15 6 15zM498 1756l5 25 8-15zM491 1771l7-15 5 25zM945 1890l6 16 8-17zM951 1906l8-17 6 17zM979 1905l6 20 7-19zM985 1925l7-19 6 20 8-19 6 21-14-2zM418 1774l7-20 6 32zM385 1777l8-24 5 33z"/><path class=ca d="M680 1771l5 23 8-19 5 23 7-18 6 22 7-18 6 22 7-19 6 22 7-18 6 22 7-18 5 21 8-18 5 20 8-17 5 20 8-17 5 19 8-17-13-2-39-9-26-8-13-3-13-4-12-5zM647 1779l7-18 6 23 7-18 5 23zM815 1825l7-17 6 18zM609 1760l5 25 7-18zM841 1827l6 17 7-16 6 17 7-17-13 0zM589 1771l7-17 5 24zM860 1845l7-17 6 17zM551 1751l5 23 7-16zM886 1845l6 16 8-16zM543 1767l8-16 5 23zM892 1861l8-16 6 16zM518 1750l5 25 8-16zM906 1861l6 15 7-16zM511 1766l7-16 5 25zM912 1876l7-16 6 15zM925 1875l7 15 7-16zM932 1890l7-16 6 16zM959 1889l6 17 7-18zM965 1906l7-18 7 17zM445 1750l6 29 7-16zM992 1906l6 20 8-19zM438 1767l7-17 6 29zM425 1754l6 32 7-19zM393 1753l5 33 7-23zM373 1770l7-25 5 32z"/><path class=cb d="M654 1761l6 23 7-18 5 23 8-18zM809 1806l6 19 7-17 6 18 7-17-13-1zM621 1767l8-18 5 24 7-18 6 24zM828 1826l7-17 6 18 7-17 6 18zM583 1748l6 23 7-17 5 24 8-18zM867 1828l6 17 7-16zM576 1765l7-17 6 23zM873 1845l7-16 6 16zM538 1743l5 24 8-16zM900 1845l6 16 7-16zM531 1759l7-16 5 24zM906 1861l7-16 6 15zM506 1741l5 25 7-16zM919 1860l6 15 8-15zM498 1756l8-15 5 25zM925 1875l8-15 6 14zM486 1745l5 26 7-15zM939 1874l6 16 7-17zM478 1760l8-15 5 26zM945 1890l7-17 7 16zM466 1747l5 28 7-15zM972 1888l7 17 7-17zM458 1763l8-16 5 28zM979 1905l7-17 6 18zM1006 1907l6 21 7-19zM405 1763l8-21 5 32zM380 1745l5 32 8-24zM360 1763l8-26 5 33z"/><path class=cc d="M693 1775l7-18 5 23 8-19 5 23 7-19 6 22 7-18 6 22 7-18 6 22 7-19 6 22 7-18 6 21 7-18 6 21 7-18 6 20 7-18 6 20-26-4-39-9-26-8-13-3-13-4zM629 1749l5 24 7-18 6 24 7-18zM835 1809l6 18 7-17 6 18 7-17zM609 1760l7-17 5 24zM854 1828l7-17 6 17zM571 1742l5 23 7-17zM880 1829l6 16 8-16zM551 1751l7-16 5 23 8-16 5 23zM886 1845l8-16 6 16zM913 1845l6 15 7-15zM518 1750l8-15 5 24zM919 1860l7-15 7 15zM933 1860l6 14 7-15zM939 1874l7-15 6 14zM952 1873l7 16 7-16zM959 1889l7-16 6 15zM986 1888l6 18 7-18zM992 1906l7-18 7 19 7-18 6 20-13-2zM413 1742l5 32 7-20z"/><path class=cd d="M700 1757l5 23 8-19 5 23 7-19 6 22 7-18 6 22 7-18 6 22 7-19 6 22 7-18 6 21 7-18 6 21 7-18 6 20 7-18-13-2-26-6-13-4-13-3zM654 1761l8-18 5 23 7-18 6 23 7-18 6 22-13-4zM822 1808l7-17 6 18 7-17 6 18zM616 1743l5 24 8-18zM861 1811l6 17 7-17zM596 1754l7-17 6 23zM867 1828l7-17 6 18zM558 1735l5 23 8-16zM894 1829l6 16 7-16zM538 1743l8-15 5 23zM900 1845l7-16 6 16zM526 1735l5 24 7-16zM926 1845l7 15 7-16zM933 1860l7-16 6 15zM493 1731l5 25 8-15zM946 1859l6 14 8-15zM486 1745l7-14 5 25zM952 1873l8-15 6 15zM473 1733l5 27 8-15zM966 1873l6 15 8-16zM466 1747l7-14 5 27zM972 1888l8-16 6 16zM453 1734l5 29 8-16zM999 1888l7 19 7-18zM445 1750l8-16 5 29zM433 1736l5 31 7-17zM425 1754l8-18 5 31zM393 1753l7-23 5 33zM368 1737l5 33 7-25z"/><path class=ce d="M662 1743l5 23 7-18 6 23 7-18 6 22 7-18-13-4zM816 1788l6 20 7-17 6 18 7-17-13-1zM629 1749l7-16 5 22 8-17 5 23zM848 1810l7-17 6 18zM591 1732l5 22 7-17 6 23 7-17zM874 1811l6 18 8-17zM571 1742l7-16 5 22 8-16 5 22zM880 1829l8-17 6 17 7-16 6 16zM546 1728l5 23 7-16zM907 1829l6 16 7-16zM913 1845l7-16 6 16zM513 1727l5 23 8-15zM506 1741l7-14 5 23zM960 1858l6 15 7-16zM966 1873l7-16 7 15zM980 1872l6 16 7-16zM986 1888l7-16 6 16zM1013 1889l6 20 8-19zM400 1730l5 33 8-21z"/><path class=cf d="M713 1761l7-18 5 22 8-18 5 22 8-18 5 22 7-19 6 22 7-18 6 22 7-19 6 22 7-18 6 21 7-19 6 21-13-2-26-6-13-4-13-3zM636 1733l5 22 8-17 5 23 8-18zM842 1792l6 18 7-17 6 18 7-17zM616 1743l7-16 6 22zM861 1811l7-17 6 17zM578 1726l5 22 8-16zM888 1812l6 17 7-16zM558 1735l7-15 6 22zM907 1829l7-16 6 16zM533 1721l5 22 8-15zM920 1829l6 16 8-16zM526 1735l7-14 5 22zM926 1845l8-16 6 15zM500 1717l6 24 7-14zM940 1844l6 15 7-16zM493 1731l7-14 6 24zM946 1859l7-16 7 15zM480 1719l6 26 7-14zM473 1733l7-14 6 26zM980 1872l7-16 6 16zM460 1720l6 27 7-14zM993 1872l6 16 8-16zM999 1888l8-16 6 17 7-17 7 18zM413 1742l7-19 5 31zM380 1745l8-25 5 33z"/><path class=cg d="M720 1743l5 22 8-18 5 22 8-18 5 22 7-19 6 22 7-18 6 22 7-19 6 22 7-18 6 21 7-19 6 21 7-18-13-3-13-2-13-4-13-3zM662 1743l7-17 5 22 8-17 5 22 7-18 6 22 7-18 6 22-26-8zM816 1788l7-18 6 21 7-19 6 20-13-1zM611 1722l5 21 7-16 6 22 7-16zM868 1794l6 17 8-17zM591 1732l7-15 5 20 8-15 5 21zM874 1811l8-17 6 18 7-17 6 18zM553 1714l5 21 7-15 6 22 7-16zM901 1813l6 16 7-16 6 16 8-16zM546 1728l7-14 5 21zM920 1829l8-16 6 16zM520 1713l6 22 7-14zM934 1829l6 15 7-15zM513 1727l7-14 6 22zM940 1844l7-15 6 14zM953 1843l7 15 7-15zM960 1858l7-15 6 14zM973 1857l7 15 7-16zM993 1872l7-16 7 16zM1007 1872l6 17 7-17 7 18 7-16-14-2zM453 1734l7-14 6 27zM440 1720l5 30 8-16zM433 1736l7-16 5 30zM420 1723l5 31 8-18zM388 1720l5 33 7-23zM368 1737l7-25 5 33z"/><path class=ch d="M669 1726l5 22 8-17 5 22 7-18 6 22 7-18 6 22 7-18-38-12zM823 1770l6 21 7-19 6 20 7-18zM636 1733l7-16 6 21 7-16 6 21zM842 1792l7-18 6 19 8-18 5 19zM585 1711l6 21 7-15 5 20 8-15-13-5zM882 1794l6 18 7-17zM565 1720l8-14 5 20 7-15 6 21zM901 1813l7-17 6 17zM540 1707l6 21 7-14zM928 1813l6 16 7-16zM533 1721l7-14 6 21zM934 1829l7-16 6 16zM947 1829l6 14 8-15zM500 1717l8-13 5 23zM953 1843l8-15 6 15zM488 1706l5 25 7-14zM967 1843l6 14 7-15zM480 1719l8-13 5 25zM973 1857l7-15 7 14zM468 1707l5 26 7-14zM987 1856l6 16 7-16zM1007 1872l7-16 6 16z"/><path class=ci d="M733 1747l7-18 6 22 7-18 5 21 8-18 5 22 8-18 5 21 8-18 5 22 8-19 5 21-13-2-13-4-13-3zM631 1712l5 21 7-16 6 21 7-16 6 21 7-17-13-4zM849 1774l6 19 8-18 5 19 8-18zM611 1722l7-15 5 20 8-15 5 21zM868 1794l8-18 6 18zM573 1706l5 20 7-15zM895 1795l6 18 7-17 6 17 7-17-13 0zM553 1714l7-14 5 20zM914 1813l7-17 7 17zM528 1700l5 21 7-14zM941 1813l6 16 7-16zM520 1713l8-13 5 21zM947 1829l7-16 7 15zM508 1704l5 23 7-14zM961 1828l6 15 7-15zM967 1843l7-15 6 14zM980 1842l7 14 7-15zM987 1856l7-15 6 15zM1000 1856l7 16 7-16 6 16 8-15-14-1zM460 1720l8-13 5 26zM1020 1872l8-15 6 17zM448 1706l5 28 7-14zM440 1720l8-14 5 28zM420 1723l8-17 5 30zM408 1710l5 32 7-19zM400 1730l8-20 5 32zM375 1712l5 33 8-25z"/><path class=cj d="M740 1729l6 22 7-18 5 21 8-18 5 22 8-18 5 21 8-18 5 22 8-19-26-6-13-4-13-3zM669 1726l7-16 6 21 7-17 5 21 8-17 5 21 7-17 6 21 7-18 6 22-51-16zM810 1767l8-18 5 21 8-18 5 20 8-18 5 20-26-4zM605 1702l6 20 7-15 5 20 8-15zM876 1776l6 18 7-17zM585 1711l8-13 5 19 7-15 6 20-13-5zM882 1794l7-17 6 18 7-17 6 18zM548 1695l5 19 7-14 5 20 8-14zM921 1796l7 17 7-16zM540 1707l8-12 5 19zM928 1813l7-16 6 16zM515 1692l5 21 8-13zM954 1813l7 15 7-15zM508 1704l7-12 5 21zM961 1828l7-15 6 15zM495 1695l5 22 8-13zM974 1828l6 14 8-15zM488 1706l7-11 5 22zM980 1842l8-15 6 14zM475 1695l5 24 8-13zM994 1841l6 15 8-15zM1000 1856l8-15 6 15zM1028 1857l6 17 7-15zM428 1706l5 30 7-16z"/><path class=ck d="M663 1706l6 20 7-16 6 21 7-17 5 21 8-17 5 21 7-17 6 21 7-18 6 22 7-18-13-4-13-3zM805 1746l5 21 8-18 5 21 8-18 5 20 8-18 5 20 8-19-13-1-13-2zM631 1712l7-15 5 20 8-15 5 20 7-16 6 20-13-4zM849 1774l8-19 6 20 7-18 6 19zM580 1693l5 18 8-13 5 19 7-15zM889 1777l6 18 7-17 6 18 7-17zM560 1700l8-12 5 18 7-13 5 18zM908 1796l7-17 6 17zM535 1688l5 19 8-12zM935 1797l6 16 7-16zM528 1700l7-12 5 19zM941 1813l7-16 6 16zM968 1813l6 15 7-15zM974 1828l7-15 7 14zM988 1827l6 14 7-14zM994 1841l7-14 7 14zM1008 1841l6 15 7-15zM468 1707l7-12 5 24zM1014 1856l7-15 7 16 7-15 6 17-13-2zM455 1693l5 27 8-13zM448 1706l7-13 5 27zM395 1698l5 32 8-20zM388 1720l7-22 5 32z"/><path class=cl d="M625 1693l6 19 7-15 5 20 8-15 5 20 7-16-25-9zM857 1755l6 20 7-18zM593 1698l7-14 5 18 8-13 5 18 7-14 6 19-26-10zM876 1776l7-18 6 19zM555 1682l5 18 8-12 5 18 7-13zM915 1779l6 17 8-16zM548 1695l7-13 5 18zM921 1796l8-16 6 17 7-16 6 16-13 0zM523 1681l5 19 7-12zM948 1797l6 16 8-15zM515 1692l8-11 5 19zM954 1813l8-15 6 15zM503 1684l5 20 7-12zM981 1813l7 14 7-14zM495 1695l8-11 5 20zM988 1827l7-14 6 14zM483 1684l5 22 7-11zM1001 1827l7 14 7-14zM475 1695l8-11 5 22zM1008 1841l7-14 6 14zM1021 1841l7 16 7-15 6 17 7-15-13-2zM435 1692l5 28 8-14zM428 1706l7-14 5 28zM415 1693l5 30 8-17zM408 1710l7-17 5 30zM375 1712l7-23 6 31z"/><path class=cm d="M651 1702l7-15 5 19 8-16 5 20 7-16 6 20 7-16 6 20 7-17 5 21 8-17 5 20 7-17 6 21 7-17 6 21 7-18 6 21 7-17 6 21 7-18 6 21 7-18 6 21 7-18 6 21 7-18 6 21 7-19 6 21-13-2-52-12-13-4-13-3-26-8-13-3zM587 1680l6 18 7-14 5 18 8-13 5 18 7-14-25-9zM870 1757l6 19 7-18 6 19 7-18zM568 1688l7-13 5 18 7-13 6 18zM889 1777l7-18 6 19 7-17 6 18zM542 1677l6 18 7-13zM929 1780l6 17 7-16zM523 1681l7-10 5 17 7-11 6 18zM948 1797l7-16 7 17zM510 1674l5 18 8-11zM962 1798l6 15 7-15zM503 1684l7-10 5 18zM968 1813l7-15 6 15 7-15 7 15zM490 1675l5 20 8-11zM995 1813l6 14 7-14zM1001 1827l7-14 7 14zM1015 1827l6 14 7-13zM1021 1841l7-13 7 14 7-13 6 15-13-2zM463 1683l5 24 7-12zM455 1693l8-10 5 24zM382 1689l6 31 7-22z"/><path class=cn d="M645 1683l6 19 7-15 5 19 8-16 5 20 7-16 6 20 7-16 6 20 7-17 5 21 8-17 5 20 7-17 6 21 7-17 6 21 7-18 6 21 7-17 6 21 7-18 6 21 7-18 6 21 7-18 6 21 7-18 6 21 7-19 6 21 7-19-26-4-52-12-13-4-13-3-38-11-13-3-25-8-13-3zM600 1684l7-12 6 17 7-13 5 17 8-14 5 18 7-14 6 19-13-5-25-8zM844 1754l7-19 6 20 7-18 6 20 7-18 6 19-13-1-13-2zM550 1666l5 16 7-11 6 17 7-13 5 18 7-13-12-5-13-4zM896 1759l6 19 7-17 6 18 8-17-14-1zM542 1677l8-11 5 16 7-11 6 17-13-6zM915 1779l8-17 6 18 7-17 6 18zM517 1665l6 16 7-10 5 17 7-11zM942 1781l6 16 7-16 7 17 7-16-14-1zM510 1674l7-9 6 16zM962 1798l7-16 6 16zM497 1666l6 18 7-10zM975 1798l6 15 7-15 7 15 7-14-14-1zM995 1813l7-14 6 14zM1008 1813l7 14 7-14zM483 1684l7-9 5 20zM1015 1827l7-14 6 15zM470 1673l5 22 8-11zM1028 1828l7 14 7-13 6 15 7-14zM463 1683l7-10 5 22zM443 1680l5 26 7-13zM435 1692l8-12 5 26zM395 1698l7-17 6 29z"/><path class=co d="M582 1664l5 16 8-12 5 16 7-12 6 17 7-13 5 17 8-14 5 18 7-14-12-4-13-3zM851 1735l6 20 7-18 6 20 7-18zM550 1666l7-10 5 15 8-11 5 15 7-11 5 16 8-12 5 16-13-4-12-5-13-4zM883 1758l7-18 6 19zM525 1657l5 14 7-9 5 15 8-11-13-4zM923 1762l6 18 7-17zM517 1665l8-8 5 14 7-9 5 15zM942 1781l7-17 6 17zM505 1659l5 15 7-9zM969 1782l6 16 7-15zM497 1666l8-7 5 15zM975 1798l7-15 6 15zM1002 1799l6 14 7-14zM490 1675l7-9 6 18zM1008 1813l7-14 7 14zM478 1665l5 19 7-9zM1022 1813l6 15 7-14 7 15 7-13-14-2zM470 1673l8-8 5 19zM1028 1828l7-14 7 15 7-13 6 14zM450 1671l5 22 8-10zM422 1679l6 27 7-14zM415 1693l7-14 6 27zM402 1681l6 29 7-17z"/><path class=cp d="M472 1622l5 6 8-4 5 7 7-5 5 7 7-5zM465 1624l7-2 5 6 8-4 5 7 7-5 5 7-12-2-13-3zM595 1668l7-12 5 16 8-13 5 17 7-13 6 16 7-13 5 17 7-14 6 18 7-15 6 18 7-15 5 19 8-15 5 19 7-16 6 19 7-16 6 20 7-17 5 20 8-16 5 20 8-17 5 20 7-17 6 21 7-18 6 21 7-18 6 21 7-18 6 21 7-18 6 21 7-18 6 20 7-18 6 20-26-4-52-12-13-4-13-3-38-11-13-3-25-8-13-3-25-8-13-3zM520 1645l5 12 7-8 5 13 8-9 5 13 7-10 5 15 8-11 5 15 7-11-25-8-25-7zM877 1739l6 19 7-18 6 19 7-17-13-2zM512 1652l8-7 5 12 7-8 5 13 8-9 5 13-13-4zM896 1759l7-17 6 19 8-18 6 19-14-1zM500 1647l5 12 7-7 5 13 8-8zM936 1763l6 18 7-17 6 17 8-15-14-2zM505 1659l7-7 5 13zM955 1781l8-15 6 16 7-15 6 16zM492 1652l5 14 8-7zM982 1783l6 15 8-14zM485 1658l7-6 5 14zM988 1798l8-14 6 15 7-14 6 14-13 0zM485 1658l5 17 7-9zM1015 1799l7 14 7-13zM478 1665l7-7 5 17zM1022 1813l7-13 6 14 7-13 7 15-14-2zM1049 1816l6 14 8-12zM457 1663l6 20 7-10zM443 1680l7-9 5 22zM430 1668l5 24 8-12zM382 1689l8-18 5 27z"/><path class=cq d="M509 1628l6 8 7-6 5 9 7-7 5 9 8-8-13-1zM502 1633l7-5 6 8 7-6 5 9 7-7 5 9 8-8 5 11-13-3-12-2zM465 1624l5 6 7-2 5 6 8-3 5 7 7-5 5 8 8-5 5 9 7-6 5 10 7-8 6 12 7-9 5 12 7-9 6 13 7-11 5 15 7-12 6 16 7-12 5 16 8-13 5 17 7-13 6 16 7-13 5 17 7-14 6 18 7-15 6 18 7-15 5 19 8-15 5 19 7-16 6 19 7-16 6 20 7-17 5 20 8-16 5 20 8-17 5 20 7-17 6 21 7-18 6 21 7-18 6 21 7-18 6 21 7-18 6 21 7-18 6 20 7-18-13-2-90-21-13-4-38-9-13-4-51-12-12-4-13-3-25-7-13-2-25-6-12-2-25-6-12-2-13-3zM458 1625l7-1 5 6 7-2 5 6 8-3 5 7 7-5 5 8 8-5 5 9 7-6 5 10 7-8 6 12 7-9 5 12 7-9 6 13 7-11 5 15 7-12 6 16-38-12-25-7-25-8-25-7-12-4zM851 1735l7-18 6 20 7-18 6 20zM470 1630l5 6 7-2 5 8 8-4 5 9 7-6 5 11 8-7-38-11zM903 1742l6 19 8-18 6 19 7-17-13-2zM475 1636l7-2 5 8 8-4 5 9 7-6 5 11-25-10zM923 1762l7-17 6 18 7-16 6 17zM487 1642l5 10 8-5zM963 1766l6 16 7-15 6 16 7-15zM480 1646l7-4 5 10 8-5 5 12zM982 1783l7-15 7 16zM480 1646l5 12 7-6zM996 1784l6 15 7-14 6 14 8-13zM1015 1799l8-13 6 14zM472 1650l6 15 7-7zM1029 1800l6 14 7-13 7 15 7-13-14-2zM465 1656l7-6 6 15zM1049 1816l7-13 7 15zM465 1656l5 17 8-8zM457 1663l8-7 5 17zM450 1671l7-8 6 20zM422 1679l8-11 5 24zM410 1667l5 26 7-14zM402 1681l8-14 5 26zM390 1671l5 27 7-17z"/><path class=cr d="M547 1633l5 11 7-9 5 12 8-10 5 12 7-10zM552 1644l7-9 5 12 8-10 5 12 7-10 5 13 8-11 5 15 7-12 6 15 7-11 5 15 7-12 6 15 7-13 5 16 8-13 5 16 7-13 6 16 7-14 6 18 7-15 5 18 8-15 5 18 7-15 6 18 7-16 6 20-13-4-38-9-13-4-51-12-12-4-13-3-25-7-13-2zM845 1715l6 20 7-18 6 20 7-18 6 20 7-18zM877 1739l7-18 6 19 7-17 6 19-13-2zM458 1625l4 6 8-1zM930 1745l6 18 7-16 6 17 7-16-13-1zM450 1626l8-1 4 6 8-1 5 6zM949 1764l7-16 7 18 7-16 6 17-13-1zM462 1631l5 8 8-3 5 10 7-4-12-6zM989 1768l7 16 7-14zM467 1639l8-3 5 10zM996 1784l7-14 6 15 7-14 7 15zM467 1639l5 11 8-4zM1023 1786l6 14 7-13 6 14 8-12-14-2zM472 1650l8-4 5 12zM1029 1800l7-13 6 14 8-12 6 14-14-2zM460 1643l5 13 7-6zM1056 1803l7 15 7-13zM452 1647l5 16 8-7zM445 1653l5 18 7-8zM437 1659l6 21 7-9zM430 1668l7-9 6 21z"/><path class=cs d="M584 1639l5 13 8-11 5 15 7-12 6 15 7-11 5 15 7-12 6 15 7-13 5 16 8-13 5 16 7-13 6 16 7-14 6 18 7-15 5 18 8-15 5 18 7-15 6 18 7-16 6 20 7-17-13-3-13-2-38-9-13-2-25-6-13-2-37-10zM742 1692l7-17 6 20 7-17 5 20 8-17 5 20 7-17 6 20 7-17 6 20 7-17 6 20 7-17 6 20 7-18 6 20-13-2zM884 1721l6 19 7-17 6 19 8-17zM903 1742l8-17 6 18 7-17 6 19 7-17 6 19-26-4zM956 1748l7 18 7-16 6 17 7-15zM976 1767l7-15 6 16 7-14 7 16-14-2zM450 1626l5 7 7-2zM1003 1770l6 15 7-14 7 15 7-13-14-2zM443 1627l7-1 5 7 7-2 5 8zM1023 1786l7-13 6 14 7-12 7 14-14-2zM455 1633l5 10 7-4zM1050 1789l6 14 7-12 7 14 7-12zM460 1643l7-4 5 11zM1056 1803l7-12 7 14zM452 1647l8-4 5 13zM445 1653l7-6 5 16zM437 1659l8-6 5 18zM417 1657l5 22 8-11zM410 1667l7-10 5 22zM397 1658l5 23 8-14zM390 1671l7-13 5 23z"/><path class=ct d="M749 1675l6 20 7-17 5 20 8-17 5 20 7-17 6 20 7-17 6 20 7-17 6 20 7-17 6 20 7-18 6 20 7-18-26-4zM845 1715l7-18 6 20 7-18 6 20 7-18 6 20zM911 1725l6 18 7-17 6 19 7-17-13-2zM943 1747l7-17 6 18 8-16 6 18-14-2zM983 1752l6 16 7-14 7 16 7-15-14-1zM1003 1770l7-15 6 16 7-14 7 16-14-2zM1030 1773l6 14 7-12 7 14 7-12 6 14 7-12zM1050 1789l7-12 6 14 7-12 7 14zM443 1627l4 9 8-3zM435 1630l8-3 4 9 8-3 5 10zM447 1636l5 11 8-4zM440 1639l7-3 5 11zM440 1639l5 14 7-6zM432 1644l8-5 5 14zM432 1644l5 15 8-6zM425 1649l7-5 5 15zM425 1649l5 19 7-9zM417 1657l8-8 5 19z"/><path class=cu d="M852 1697l6 20 7-18 6 20 7-18 6 20 8-17-14-3zM884 1721l8-17 5 19 8-17 6 19 7-17 6 18-13-1zM937 1728l6 19 7-17 6 18 8-16 6 18 7-16zM970 1750l7-16 6 18 7-15 6 17zM1010 1755l6 16 7-14 7 16 7-13 6 15 7-13-13-2-14-3zM1030 1773l7-13 6 15 7-13 7 15 7-13 6 15zM1070 1779l7 14 7-12zM435 1630l5 9 7-3zM427 1632l8-2 5 9zM427 1632l5 12 8-5zM420 1636l5 13 7-5zM412 1641l5 16 8-8zM405 1648l5 19 7-10zM397 1658l8-10 5 19z"/><path class=cv d="M892 1704l5 19 8-17 6 19 7-17zM924 1726l7-16 6 18 7-16 6 18zM977 1734l6 18 7-15 6 17 8-15 6 16 7-14-27-4zM996 1754l8-15 6 16 7-14 6 16 7-13 7 16 7-14 6 16-13-2-14-3-13-2zM1050 1762l7 15 7-13 6 15 7-12 7 14 7-12-14-2-13-3zM1070 1779l7-12 7 14zM420 1636l7-4 5 12zM412 1641l8-5 5 13zM405 1648l7-7 5 16z"/><path class=cw d="M918 1708l6 18 7-16 6 18 7-16 6 18 7-16zM950 1730l7-16 7 18 7-15 6 17 7-15 6 18 7-15 7 17-14-2-13-3zM1017 1741l6 16 7-13 7 16 7-14 6 16 7-13 7 15 7-12-27-6-14-2zM1050 1762l7-13 7 15 7-12 6 15 7-12 7 14-14-2-13-3z"/><path class=cx d="M957 1714l7 18 7-15 6 17 7-15 6 18 7-15 7 17 7-15 6 17 7-14 6 17 7-14 7 16 7-13 6 16 7-13 7 16 7-13 6 16 7-12 7 15 7-12-14-3-13-4-67-15-14-2-13-3-13-2zM1004 1739l7-15 6 17 7-14 6 17 7-14 7 16 7-13 6 16 7-13 7 16 7-13 6 16 7-12 7 15-54-12-14-2-13-3zM1071 1752l6 15 7-12 7 14 7-11z"/></g></g><g transform="translate(-123.5 -17) scale(1.63056)">
   <text style="font-size:12px;text-anchor:middle" x="254.66" y="446.76">Nusselt vs Concentration and Reynolds</text><path d="M482.63 753.09L522.68 753.09L522.68 552.87L482.63 552.87z" style="fill:#ffffff"/><rect x="482.63" y="552.87" width="40.04" height="200.22" fill="url(#vg)" fill-opacity=".8"/><path d="M0 0L3.5 0" transform="translate(522.68 735.33)" style="stroke:#000000;stroke-width:0.8"/><text style="font-size:10px;text-anchor:start" x="529.68" y="739.13">80</text><path d="M0 0L3.5 0" transform="translate(522.68 709.95)" style="stroke:#000000;stroke-width:0.8"/><text style="font-size:10px;text-anchor:start" x="529.68" y="713.75">100</text><path d="M0 0L3.5 0" transform="translate(522.68 684.57)" style="stroke:#000000;stroke-width:0.8"/><text style="font-size:10px;text-anchor:start" x="529.68" y="688.37">120</text><path d="M0 0L3.5 0" transform="translate(522.68 659.2)" style="stroke:#000000;stroke-width:0.8"/><text style="font-size:10px;text-anchor:start" x="529.68" y="663">140</text><path d="M0 0L3.5 0" transform="translate(522.68 633.82)" style="stroke:#000000;stroke-width:0.8"/><text style="font-size:10px;text-anchor:start" x="529.68" y="637.62">160</text><path d="M0 0L3.5 0" transform="translate(522.68 608.44)" style="stroke:#000000;stroke-width:0.8"/><text style="font-size:10px;text-anchor:start" x="529.68" y="612.24">180</text><path d="M0 0L3.5 0" transform="translate(522.68 583.07)" style="stroke:#000000;stroke-width:0.8"/><text style="font-size:10px;text-anchor:start" x="529.68" y="586.87">200</text><path d="M0 0L3.5 0" transform="translate(522.68 557.69)" style="stroke:#000000;stroke-width:0.8"/><text style="font-size:10px;text-anchor:start" x="529.68" y="561.49">220</text><text style="font-size:10px;text-anchor:middle" x="560.36" y="652.98" transform="rotate(-90 560.36 652.98)">Nusselt Number</text><path d="M482.63 753.09L502.66 753.09L522.68 753.09L522.68 552.87L502.66 552.87L482.63 552.87L482.63 753.09z" style="fill:none;stroke:#000000;stroke-width:0.8;stroke-linejoin:miter;stroke-linecap:square"/><path d="M607.61 853.2L1008.05 853.2L1008.05 452.76L607.61 452.76z" style="fill:#ffffff"/><path d="M637.85 754.46L770.09 643.62L768.25 483.76L629.68 584.88" style="fill:#f2f2f2;opacity:0.5;stroke:#f2f2f2;stroke-linejoin:miter"/><path d="M770.09 643.62L982.28 705.3L989.85 539.93L768.25 483.76" style="fill:#e6e6e6;opacity:0.5;stroke:#e6e6e6;stroke-linejoin:miter"/><path d="M637.85 754.46L862.79 827.93L982.28 705.3L770.09 643.62" style="fill:#ececec;opacity:0.5;stroke:#ececec;stroke-linejoin:miter"/><path d="M652.88 759.37L784.32 647.76L783.09 487.52" style="fill:none;stroke:#b0b0b0;stroke-width:0.8"/><path d="M676.77 767.18L806.94 654.33L806.67 493.5" style="fill:none;stroke:#b0b0b0;stroke-width:0.8"/><path d="M700.94 775.07L829.8 660.98L830.51 499.54" style="fill:none;stroke:#b0b0b0;stroke-width:0.8"/><path d="M725.4 783.06L852.9 667.69L854.62 505.65" style="fill:none;stroke:#b0b0b0;stroke-width:0.8"/><path d="M750.13 791.14L876.24 674.47L879 511.83" style="fill:none;stroke:#b0b0b0;stroke-width:0.8"/><path d="M775.16 799.31L899.84 681.33L903.65 518.08" style="fill:none;stroke:#b0b0b0;stroke-width:0.8"/><path d="M800.48 807.58L923.69 688.27L928.57 524.4" style="fill:none;stroke:#b0b0b0;stroke-width:0.8"/><path d="M826.1 815.95L947.8 695.27L953.78 530.79" style="fill:none;stroke:#b0b0b0;stroke-width:0.8"/><path d="M852.03 824.42L972.18 702.36L979.28 537.25" style="fill:none;stroke:#b0b0b0;stroke-width:0.8"/><path d="M632.71 582.67L640.72 752.05L865.4 825.25" style="fill:none;stroke:#b0b0b0;stroke-width:0.8"/><path d="M651.8 568.74L658.88 736.83L881.87 808.35" style="fill:none;stroke:#b0b0b0;stroke-width:0.8"/><path d="M670.44 555.14L676.64 721.95L897.95 791.84" style="fill:none;stroke:#b0b0b0;stroke-width:0.8"/><path d="M688.66 541.84L694.01 707.39L913.66 775.72" style="fill:none;stroke:#b0b0b0;stroke-width:0.8"/><path d="M706.46 528.85L711 693.15L929.02 759.96" style="fill:none;stroke:#b0b0b0;stroke-width:0.8"/><path d="M723.86 516.15L727.62 679.22L944.02 744.56" style="fill:none;stroke:#b0b0b0;stroke-width:0.8"/><path d="M740.88 503.73L743.89 665.58L958.69 729.51" style="fill:none;stroke:#b0b0b0;stroke-width:0.8"/><path d="M757.52 491.59L759.82 652.23L973.04 714.78" style="fill:none;stroke:#b0b0b0;stroke-width:0.8"/><path d="M983.28 683.44L769.84 622.45L636.77 732.08" style="fill:none;stroke:#b0b0b0;stroke-width:0.8"/><path d="M984.18 663.85L769.63 603.49L635.8 712.01" style="fill:none;stroke:#b0b0b0;stroke-width:0.8"/><path d="M985.09 644.05L769.41 584.34L634.83 691.72" style="fill:none;stroke:#b0b0b0;stroke-width:0.8"/><path d="M986 624.04L769.18 564.99L633.84 671.21" style="fill:none;stroke:#b0b0b0;stroke-width:0.8"/><path d="M986.93 603.82L768.96 545.44L632.84 650.47" style="fill:none;stroke:#b0b0b0;stroke-width:0.8"/><path d="M987.87 583.38L768.73 525.7L631.83 629.49" style="fill:none;stroke:#b0b0b0;stroke-width:0.8"/><path d="M988.81 562.72L768.5 505.75L630.81 608.28" style="fill:none;stroke:#b0b0b0;stroke-width:0.8"/><path d="M637.85 754.46L862.79 827.93" style="fill:none;stroke:#000000;stroke-width:0.8;stroke-linecap:square"/><path d="M654.02 758.4L650.59 761.32" style="fill:none;stroke:#000000;stroke-width:0.8;stroke-linecap:square"/><text style="font-size:10px;text-anchor:middle" x="645.36" y="782.67">8000</text><path d="M677.91 766.19L674.5 769.15" style="fill:none;stroke:#000000;stroke-width:0.8;stroke-linecap:square"/><text style="font-size:10px;text-anchor:middle" x="669.27" y="790.58">10000</text><path d="M702.07 774.08L698.69 777.06" style="fill:none;stroke:#000000;stroke-width:0.8;stroke-linecap:square"/><text style="font-size:10px;text-anchor:middle" x="693.46" y="798.59">12000</text><path d="M726.51 782.05L723.17 785.07" style="fill:none;stroke:#000000;stroke-width:0.8;stroke-linecap:square"/><text style="font-size:10px;text-anchor:middle" x="717.93" y="806.69">14000</text><path d="M751.23 790.12L747.93 793.18" style="fill:none;stroke:#000000;stroke-width:0.8;stroke-linecap:square"/><text style="font-size:10px;text-anchor:middle" x="742.68" y="814.88">16000</text><path d="M776.25 798.28L772.98 801.37" style="fill:none;stroke:#000000;stroke-width:0.8;stroke-linecap:square"/><text style="font-size:10px;text-anchor:middle" x="767.73" y="823.17">18000</text><path d="M801.55 806.54L798.32 809.67" style="fill:none;stroke:#000000;stroke-width:0.8;stroke-linecap:square"/><text style="font-size:10px;text-anchor:middle" x="793.07" y="831.56">20000</text><path d="M827.16 814.89L823.97 818.06" style="fill:none;stroke:#000000;stroke-width:0.8;stroke-linecap:square"/><text style="font-size:10px;text-anchor:middle" x="818.71" y="840.04">22000</text><path d="M853.08 823.35L849.92 826.55" style="fill:none;stroke:#000000;stroke-width:0.8;stroke-linecap:square"/><text style="font-size:10px;text-anchor:middle" x="844.66" y="848.63">24000</text><text style="font-size:10px;text-anchor:middle" x="730.27" y="827.96" transform="rotate(-341.91 730.27 827.96)">Reynolds Number</text><path d="M982.28 705.3L862.79 827.93" style="fill:none;stroke:#000000;stroke-width:0.8;stroke-linecap:square"/><path d="M863.5 824.63L869.19 826.49" style="fill:none;stroke:#000000;stroke-width:0.8;stroke-linecap:square"/><text style="font-size:10px;text-anchor:middle" x="878.32" y="846.33">0</text><path d="M879.99 807.75L885.63 809.56" style="fill:none;stroke:#000000;stroke-width:0.8;stroke-linecap:square"/><text style="font-size:10px;text-anchor:middle" x="894.65" y="829.26">20</text><path d="M896.09 791.25L901.68 793.02" style="fill:none;stroke:#000000;stroke-width:0.8;stroke-linecap:square"/><text style="font-size:10px;text-anchor:middle" x="910.59" y="812.59">40</text><path d="M911.81 775.14L917.36 776.87" style="fill:none;stroke:#000000;stroke-width:0.8;stroke-linecap:square"/><text style="font-size:10px;text-anchor:middle" x="926.16" y="796.31">60</text><path d="M927.18 759.4L932.69 761.09" style="fill:none;stroke:#000000;stroke-width:0.8;stroke-linecap:square"/><text style="font-size:10px;text-anchor:middle" x="941.38" y="780.4">80</text><path d="M942.2 744.01L947.66 745.66" style="fill:none;stroke:#000000;stroke-width:0.8;stroke-linecap:square"/><text style="font-size:10px;text-anchor:middle" x="956.25" y="764.84">100</text><path d="M956.89 728.97L962.31 730.58" style="fill:none;stroke:#000000;stroke-width:0.8;stroke-linecap:square"/><text style="font-size:10px;text-anchor:middle" x="970.79" y="749.64">120</text><path d="M971.25 714.26L976.62 715.83" style="fill:none;stroke:#000000;stroke-width:0.8;stroke-linecap:square"/><text style="font-size:10px;text-anchor:middle" x="985.01" y="734.77">140</text><text style="font-size:10px;text-anchor:middle" x="954.15" y="793.79" transform="rotate(-45.74 954.15 793.79)">Heat Flux</text><path d="M982.28 705.3L989.85 539.93" style="fill:none;stroke:#000000;stroke-width:0.8;stroke-linecap:square"/><path d="M981.49 682.93L986.87 684.46" style="fill:none;stroke:#000000;stroke-width:0.8;stroke-linecap:square"/><text style="font-size:10px;text-anchor:middle" x="1001.66" y="688.46">100</text><path d="M982.38 663.34L987.79 664.86" style="fill:none;stroke:#000000;stroke-width:0.8;stroke-linecap:square"/><text style="font-size:10px;text-anchor:middle" x="1002.65" y="668.89">150</text><path d="M983.28 643.55L988.71 645.06" style="fill:none;stroke:#000000;stroke-width:0.8;stroke-linecap:square"/><text style="font-size:10px;text-anchor:middle" x="1003.65" y="649.12">200</text><path d="M984.18 623.55L989.65 625.04" style="fill:none;stroke:#000000;stroke-width:0.8;stroke-linecap:square"/><text style="font-size:10px;text-anchor:middle" x="1004.66" y="629.14">250</text><path d="M985.1 603.33L990.6 604.8" style="fill:none;stroke:#000000;stroke-width:0.8;stroke-linecap:square"/><text style="font-size:10px;text-anchor:middle" x="1005.69" y="608.95">300</text><path d="M986.02 582.9L991.55 584.35" style="fill:none;stroke:#000000;stroke-width:0.8;stroke-linecap:square"/><text style="font-size:10px;text-anchor:middle" x="1006.72" y="588.54">350</text><path d="M986.96 562.24L992.52 563.68" style="fill:none;stroke:#000000;stroke-width:0.8;stroke-linecap:square"/><text style="font-size:10px;text-anchor:middle" x="1007.77" y="567.9">400</text><text style="font-size:10px;text-anchor:middle" x="1029.21" y="619.13" transform="rotate(-87.38 1029.21 619.13)">Nusselt Number</text><path d="M805.43 659.65L803.45 661.57L800.84 663.31L798.57 664.58L797.87 664.95L794.67 666.54L791.53 668.14L788.6 669.81L786.05 671.61L783.81 673.5L781.82 675.47L780.06 677.52L778.48 679.64L777.06 681.8L775.72 684L775.07 685L774.27 686.18L772.55 688.29L770.67 690.35L768.66 692.39L766.54 694.4L764.3 696.38L761.94 698.33L759.45 700.25L756.81 702.13L754.02 703.98L751.15 705.81L751.08 705.85L748.22 707.63L745.29 709.45L742.39 711.3L739.56 713.17L736.86 715.09L734.37 717.08L732.04 719.13L729.8 721.22L727.61 723.33L725.47 725.47L723.37 727.63L721.29 729.8L719.26 732L717.27 734.22L715.39 736.49L714.63 737.52L713.71 738.83L712.21 741.23L710.83 743.69L709.6 746.2L709.4 746.64L708.54 748.78L707.64 751.41L707.11 753.26L706.89 754.12L706.31 756.88L705.98 758.9L705.87 759.71L705.63 762.61" style="fill:none;stroke:#472d7b;stroke-width:1.5"/><path d="M825.42 665.49L823.7 667.5L821.64 669.41L819.34 671.26L816.95 673.09L814.67 674.97L812.85 676.98L811.47 679.13L811.19 679.72L810.43 681.4L809.66 683.75L809.14 686L809.11 686.17L808.69 688.65L808.35 691.16L808.35 691.2L808.06 693.7L807.76 696.24L807.76 696.26L807.41 698.78L806.91 701.28L806.79 701.69L806.22 703.74L805.29 706.13L804.09 708.45L803.62 709.15L802.6 710.69L800.83 712.86L798.83 714.96L796.65 717.02L794.34 719.05L791.97 721.07L789.59 723.09L787.26 725.13L785.03 727.22L782.96 729.37L781.09 731.58L779.49 733.89L778.21 736.31L777.89 737.09L777.27 738.84L776.66 741.49L776.45 743.16L776.4 744.26L776.55 747.17L776.64 747.78L777.26 750.27L777.67 751.66L778.37 753.51L779.03 755.27L779.69 756.83L780.45 758.85L780.95 760.14L781.71 762.61L781.92 763.38L782.41 766.48L782.41 766.91L782.22 769.37L781.28 772.04L779.77 774.36L779.67 774.5L777.77 776.88L775.84 779.26L774.09 781.71L772.74 784.3" style="fill:none;stroke:#3b528b;stroke-width:1.5"/><path d="M838.96 669.44L837.71 671.6L836.63 673.8L835.97 675.44L835.76 676.08L835.07 678.43L834.53 680.82L834.44 681.33L834.23 683.3L834.17 685.85L834.18 686.11L834.45 688.52L834.79 690.12L835.14 691.32L835.93 693.69L836.12 694.22L837.21 697.15L837.21 697.16L838.25 700.1L838.43 700.69L839.03 702.98L839.34 704.55L839.52 705.78L839.79 708.52L839.78 708.86L839.57 711.13L838.86 713.6L838.31 714.99L837.87 715.99L836.72 718.35L835.53 720.7L834.25 723.04L833.03 724.71L832.6 725.27L830.48 727.37L828.3 729.46L826.28 731.61L824.8 733.93L824.53 736.63L824.7 737.34L825.86 739.84L826.41 740.65L828.82 743.33L829.17 743.68L831.45 745.81L833.66 747.9L834.07 748.32L836.22 751.3L836.36 751.58L837.67 754.84L837.7 754.94L838.45 757.95L838.65 759.12L838.8 760.94L838.76 763.82L838.74 764.16L838.46 766.63L838.13 769.45L838.06 769.98L837.7 772.24L837.27 775.05L837.11 776.1L836.83 777.86L836.43 780.7L836.25 782.19L836.06 783.56L835.72 786.44L835.54 788.18L835.37 789.33L834.76 792.16L834.3 794.73L834.25 795.02L834.14 798.03L834.54 799.88L835.06 801.38L836.33 803.52L837.75 805.32" style="fill:none;stroke:#2c728e;stroke-width:1.5"/><path d="M851.89 673.22L851.66 674.79L851.57 675.65L851.86 678.27L852.05 678.98L853.08 681.17L853.59 682.15L855.09 684.32L855.48 685.02L857.01 687.45L857.29 687.99L858.93 690.6L859.12 690.96L860.66 693.7L860.82 694.08L861.88 696.66L862.11 697.59L862.62 699.49L862.86 701.64L862.96 702.22L863.38 704.97L863.5 705.82L863.9 707.78L863.99 710.18L864.01 710.46L863.81 713.07L863.12 715.54L862.93 716.03L862.34 717.99L861.54 720.45L860.58 722.87L860.39 723.33L859.73 725.33L858.95 727.82L858.71 729.86L858.8 730.52L859.77 733.56L859.84 733.76L861.55 736.88L861.65 737.04L863.63 740.17L863.72 740.32L865.59 743.34L865.85 743.76L867.47 746.62L867.8 747.16L869.37 749.9L869.73 750.57L870.95 753.52L871.06 753.81L871.8 756.88L871.89 757.8L872.11 759.83L872.14 762.71L872.14 762.79L872.06 765.56L871.61 768.31L871.55 768.66L871.17 771.08L870.8 773.87L870.67 774.85L870.39 776.67L869.9 779.45L869.56 781.32L869.36 782.23L868.76 785.01L868.04 787.75L867.72 788.58L866.92 790.39L866.1 793.13L865.94 795.84L865.95 796.09L866.78 799.38L867.12 800.15" style="fill:none;stroke:#21918c;stroke-width:1.5"/><path d="M873.06 679.4L875.24 680.68L878.66 682.16L882.42 683.34L886.39 684.33L890.62 685.08L893.71 685.43M913.6 691.24L913.97 691.65L914.82 694.16L914.84 695.69L914.74 696.7L914.88 699.32L915.19 700.27L915.8 702.19L916.62 703.84L917.29 705.23L918.41 707.09L919.35 708.45L920.53 710.02L922.14 711.9L922.85 712.79L925.3 715.45L925.35 715.49L927.93 717.95L930.06 719.54L930.88 720.15L933.96 722.24L937.2 724.18L937.61 724.45L940.1 726.48" style="fill:none;stroke:#28ae80;stroke-width:1.5"/><path d="M934.65 697.38L934.89 700.03L935.03 700.78L935.75 702.86L936.58 704.28L938.13 706.15L938.93 707.01L941.65 709.41L942.47 710.03L944.57 711.61L947.69 713.63L949.41 714.7L950.8 715.69" style="fill:none;stroke:#5ec962;stroke-width:1.5"/><path d="M948.44 701.41L948.93 702.14L950.93 704.72L951.18 704.99L953.75 707.54L955.19 708.56L956.75 709.68" style="fill:none;stroke:#addc30;stroke-width:1.5"/>
   </g><g class=sf transform="scale(.5)"><g opacity=".8"><path class=aa d="M2135 2192l7-6 5 5zM2127 2199l8-7 4 6zM2119 2206l8-7 4 5zM2112 2212l7-6 5 5zM2104 2219l8-7 4 5zM2097 2225l7-6 5 5zM2089 2232l8-7 4 5zM2081 2239l8-7 4 5zM2074 2245l7-6 5 4zM2066 2252l8-7 4 5zM2058 2258l8-6 4 4zM2050 2265l8-7 4 5zM2042 2272l8-7 5 5zM2042 2272l5 5 8-7zM2035 2279l7-7 5 5zM2035 2279l4 5 8-7zM2027 2286l8-7 4 5zM2027 2286l4 5 8-7zM2019 2293l8-7 4 5zM2019 2293l4 5 8-7zM2011 2300l8-7 4 5zM2011 2300l4 5 8-7zM2003 2307l8-7 4 5zM2003 2307l4 5 8-7zM1995 2314l8-7 4 5zM1995 2314l4 5 8-7zM1987 2321l8-7 4 5zM1987 2321l4 4 8-6zM1979 2327l8-6 4 4zM1979 2327l4 5 8-7zM1971 2334l8-7 4 5zM1971 2334l4 5 8-7zM1963 2340l8-6 4 5zM1963 2340l4 6 8-7zM1955 2347l8-7 4 6zM1955 2347l4 6 8-7zM1947 2354l8-7 4 6zM1947 2354l4 6 8-7zM1939 2361l8-7 4 6zM1939 2361l4 6 8-7zM1931 2369l8-8 4 6zM1931 2369l4 6 8-8zM1922 2376l9-7 4 6zM1922 2376l5 7 8-8zM1914 2384l8-8 5 7 8-8 4 7zM1914 2384l4 7 9-8 4 8 8-9zM1906 2392l8-8 4 7 9-8 4 8-13 0z"/><path class=ab d="M2259 2084l8-7 4 7zM2252 2090l7-6 5 6zM2245 2096l7-6 5 6zM2238 2103l7-7 5 6zM2231 2109l7-6 5 5zM2223 2115l8-6 4 5zM2216 2121l7-6 5 5zM2209 2127l7-6 5 5zM2201 2133l8-6 4 5zM2194 2139l7-6 5 5zM2187 2145l7-6 5 5zM2179 2152l8-7 4 6zM2172 2158l7-6 5 6zM2172 2158l4 6 8-6zM2164 2165l8-7 4 6zM2164 2165l5 6 7-7zM2157 2172l7-7 5 6zM2157 2172l5 6 7-7zM2150 2179l7-7 5 6zM2150 2179l4 6 8-7zM2142 2186l8-7 4 6zM2142 2186l5 5 7-6zM2135 2192l4 6 8-7zM2127 2199l4 5 8-6zM2119 2206l5 5 7-7zM2112 2212l4 5 8-6zM2104 2219l5 5 7-7zM2097 2225l4 5 8-6zM2089 2232l4 5 8-7zM2081 2239l5 4 7-6zM2074 2245l4 5 8-7zM2066 2252l4 4 8-6zM2058 2258l4 5 8-7zM2050 2265l5 5 7-7zM2039 2284l8-7 4 5zM2031 2291l8-7 4 5zM2023 2298l8-7 4 5zM2015 2305l8-7 4 5zM2007 2312l8-7 4 5zM1999 2319l8-7 4 5zM1991 2325l8-6 4 4zM1983 2332l8-7 4 5zM1975 2339l8-7 4 5zM1967 2346l8-7 4 5zM1959 2353l8-7 4 5zM1959 2353l4 6 8-8zM1951 2360l8-7 4 6zM1951 2360l4 6 8-7zM1943 2367l8-7 4 6zM1943 2367l4 7 8-8zM1935 2375l8-8 4 7zM1935 2375l4 7 8-8zM1931 2391l8-9 4 9z"/><path class=ac d="M2281 2062l5 8 7-7zM2274 2069l7-7 5 8zM2274 2069l5 8 7-7zM2267 2077l7-8 5 8 7-7 4 8-11-1zM2267 2077l4 7 8-7zM2271 2084l8-7 4 7zM2259 2084l5 6 7-6zM2264 2090l7-6 5 6zM2252 2090l5 6 7-6zM2257 2096l7-6 5 6zM2245 2096l5 6 7-6zM2250 2102l7-6 5 6zM2238 2103l5 5 7-6zM2243 2108l7-6 5 5zM2231 2109l4 5 8-6zM2235 2114l8-6 4 5zM2223 2115l5 5 7-6zM2216 2121l5 5 7-6zM2209 2127l4 5 8-6zM2201 2133l5 5 7-6zM2194 2139l5 5 7-6zM2187 2145l4 6 8-7zM2179 2152l5 6 7-7zM2184 2158l7-7 5 6zM2176 2164l8-6 5 6zM2169 2171l7-7 5 6zM2169 2171l5 6 7-7zM2162 2178l7-7 5 6zM2162 2178l4 6 8-7zM2154 2185l8-7 4 6zM2154 2185l5 5 7-6zM2147 2191l7-6 5 5zM2147 2191l4 6 8-7zM2139 2198l8-7 4 6zM2139 2198l5 5 7-6zM2131 2204l8-6 5 5zM2131 2204l5 6 8-7zM2124 2211l7-7 5 6zM2124 2211l4 5 8-6zM2116 2217l8-6 4 5zM2116 2217l5 5 7-6zM2109 2224l7-7 5 5zM2109 2224l4 4 8-6zM2101 2230l8-6 4 4zM2101 2230l4 5 8-7zM2093 2237l8-7 4 5zM2093 2237l5 4 7-6zM2086 2243l7-6 5 4zM2086 2243l4 5 8-7zM2078 2250l8-7 4 5zM2078 2250l4 4 8-6zM2070 2256l8-6 4 4zM2070 2256l4 5 8-7zM2062 2263l8-7 4 5zM2062 2263l5 5 7-7zM2055 2270l7-7 5 5zM2055 2270l4 5 8-7zM2047 2277l8-7 4 5zM2047 2277l4 5 8-7zM2039 2284l4 5 8-7zM2031 2291l4 5 8-7zM2023 2298l4 5 8-7zM2015 2305l4 5 8-7zM2007 2312l4 5 8-7zM1999 2319l4 4 8-6zM1991 2325l4 5 8-7zM1983 2332l4 5 8-7zM1975 2339l4 5 8-7zM1967 2346l4 5 8-7zM1971 2351l8-7 5 6zM1963 2359l8-8 5 7zM1955 2366l8-7 4 7zM1955 2366l4 8 8-8zM1947 2374l8-8 4 8zM1947 2374l4 8 8-8zM1939 2382l8-8 4 8zM1939 2382l4 9 8-9zM1943 2391l8-9 4 8z"/><path class=ad d="M2293 2063l5 9 7-7zM2286 2070l7-7 5 9 7-7 4 8-11-1zM2286 2070l4 8 8-6 4 7 7-6-11-1zM2290 2078l8-6 4 7zM2279 2077l4 7 7-6 5 7 7-6zM2283 2084l7-6 5 7zM2271 2084l5 6 7-6zM2276 2090l7-6 5 6zM2264 2090l5 6 7-6zM2269 2096l7-6 5 5zM2257 2096l5 6 7-6zM2250 2102l5 5 7-5zM2243 2108l4 5 8-6zM2235 2114l5 5 7-6zM2228 2120l7-6 5 5zM2228 2120l5 5 7-6zM2221 2126l7-6 5 5zM2221 2126l4 5 8-6zM2213 2132l8-6 4 5zM2213 2132l5 5 7-6zM2206 2138l7-6 5 5zM2206 2138l5 6 7-7zM2199 2144l7-6 5 6zM2199 2144l4 6 8-6zM2191 2151l8-7 4 6zM2191 2151l5 6 7-7zM2184 2158l5 6 7-7zM2176 2164l5 6 8-6zM2181 2170l8-6 4 6zM2174 2177l7-7 5 6zM2166 2184l8-7 4 6zM2159 2190l7-6 5 5zM2151 2197l8-7 4 6zM2144 2203l7-6 5 5zM2136 2210l8-7 4 5zM2128 2216l8-6 4 4zM2121 2222l7-6 5 5zM2113 2228l8-6 4 5zM2105 2235l8-7 5 5zM2098 2241l7-6 5 4zM2090 2248l8-7 4 5zM2082 2254l8-6 4 4zM2074 2261l8-7 5 5zM2067 2268l7-7 5 5zM2059 2275l8-7 4 5zM2051 2282l8-7 4 5zM2043 2289l8-7 4 5zM2035 2296l8-7 4 5zM2035 2296l5 5 7-7zM2027 2303l8-7 5 5zM2027 2303l5 5 8-7zM2019 2310l8-7 5 5zM2019 2310l5 5 8-7zM2011 2317l8-7 5 5zM2011 2317l5 4 8-6zM2003 2323l8-6 5 4zM2003 2323l5 6 8-8zM1995 2330l8-7 5 6zM1995 2330l5 6 8-7zM1987 2337l8-7 5 6zM1987 2337l5 6 8-7zM1979 2344l8-7 5 6zM1979 2344l5 6 8-7zM1971 2351l5 7 8-8zM1963 2359l4 7 9-8zM1967 2366l9-8 4 7zM1959 2374l8-8 5 7zM1959 2374l5 8 8-9zM1951 2382l8-8 5 8zM1951 2382l4 8 9-8z"/><path class=ae d="M2305 2065l4 8 8-7 4 7 8-6zM2309 2073l8-7 4 7zM2309 2073l5 6 7-6zM2302 2079l7-6 5 6zM2302 2079l5 5 7-5zM2295 2085l7-6 5 5zM2283 2084l5 6 7-5zM2288 2090l7-5 5 4zM2276 2090l5 5 7-5zM2269 2096l5 5 7-6zM2262 2102l7-6 5 5zM2262 2102l4 4 8-5zM2255 2107l7-5 4 4zM2255 2107l4 5 7-6zM2247 2113l8-6 4 5zM2247 2113l5 5 7-6zM2240 2119l7-6 5 5zM2240 2119l5 5 7-6zM2233 2125l7-6 5 5zM2233 2125l4 5 8-6zM2225 2131l8-6 4 5zM2225 2131l5 6 7-7zM2218 2137l7-6 5 6zM2218 2137l5 6 7-6zM2211 2144l7-7 5 6zM2211 2144l4 6 8-7zM2203 2150l8-6 4 6zM2203 2150l5 6 7-6zM2196 2157l7-7 5 6zM2196 2157l5 6 7-7zM2189 2164l7-7 5 6zM2189 2164l4 6 8-7zM2181 2170l5 6 7-6zM2174 2177l4 6 8-7zM2166 2184l5 5 7-6zM2159 2190l4 6 8-7zM2151 2197l5 5 7-6zM2144 2203l4 5 8-6zM2136 2210l4 4 8-6zM2128 2216l5 5 7-7zM2121 2222l4 5 8-6zM2113 2228l5 5 7-6zM2105 2235l5 4 8-6zM2098 2241l4 5 8-7zM2090 2248l4 4 8-6zM2082 2254l5 5 7-7zM2074 2261l5 5 8-7zM2067 2268l4 5 8-7zM2059 2275l4 5 8-7zM2051 2282l4 5 8-7zM2043 2289l4 5 8-7zM2024 2315l8-7 4 5zM2016 2321l8-6 4 5zM2008 2329l8-8 4 6zM2000 2336l8-7 4 5zM1992 2343l8-7 4 6zM1992 2343l4 6 8-7zM1984 2350l8-7 4 6zM1984 2350l4 7 8-8zM1976 2358l8-8 4 7zM1976 2358l4 7 8-8zM1967 2366l5 7 8-8zM1972 2373l8-8 4 8zM1964 2382l8-9 4 9zM1964 2382l4 8 8-8zM1955 2390l9-8 4 8z"/><path class=af d="M2321 2073l8-6 4 5zM2314 2079l7-6 5 5zM2307 2084l7-5 5 4zM2295 2085l5 4 7-5zM2288 2090l5 4 7-5zM2281 2095l7-5 5 4zM2281 2095l5 4 7-5zM2274 2101l7-6 5 4zM2266 2106l8-5 4 4zM2259 2112l7-6 5 4zM2252 2118l7-6 5 4zM2245 2124l7-6 5 5zM2237 2130l8-6 4 5zM2230 2137l7-7 5 6zM2223 2143l7-6 5 5zM2223 2143l4 6 8-7zM2215 2150l8-7 4 6zM2215 2150l5 6 7-7zM2208 2156l7-6 5 6zM2208 2156l5 6 7-6zM2201 2163l7-7 5 6zM2201 2163l4 6 8-7zM2193 2170l8-7 4 6zM2193 2170l5 6 7-7zM2186 2176l7-6 5 6zM2186 2176l4 6 8-6zM2178 2183l8-7 4 6zM2178 2183l5 5 7-6zM2171 2189l7-6 5 5zM2171 2189l4 6 8-7zM2163 2196l8-7 4 6zM2163 2196l5 5 7-6zM2156 2202l7-6 5 5zM2156 2202l4 5 8-6zM2148 2208l8-6 4 5zM2148 2208l5 5 7-6zM2140 2214l8-6 5 5zM2140 2214l5 5 8-6zM2133 2221l7-7 5 5zM2133 2221l4 4 8-6zM2125 2227l8-6 4 4zM2125 2227l5 4 7-6zM2118 2233l7-6 5 4zM2110 2239l8-6 4 4zM2102 2246l8-7 4 4zM2094 2252l8-6 5 4zM2087 2259l7-7 5 5zM2079 2266l8-7 4 4zM2071 2273l8-7 4 4zM2063 2280l8-7 4 4zM2063 2280l5 4 7-7zM2055 2287l8-7 5 4zM2055 2287l5 4 8-7zM2047 2294l8-7 5 4zM2047 2294l5 4 8-7zM2040 2301l7-7 5 4zM2040 2301l4 4 8-7zM2032 2308l8-7 4 4zM2032 2308l4 5 8-8zM2024 2315l4 5 8-7zM2016 2321l4 6 8-7zM2008 2329l4 5 8-7zM2000 2336l4 6 8-8zM1996 2349l8-7 4 6zM1988 2357l8-8 4 7zM1988 2357l4 8 8-9zM1980 2365l8-8 4 8zM1980 2365l4 8 8-8zM1972 2373l4 9 8-9zM1976 2382l8-9 4 8zM1976 2382l4 8 8-9zM1968 2390l8-8 4 8z"/><path class=ag d="M2329 2067l4 5 7-6zM2321 2073l5 5 7-6zM2314 2079l5 4 7-5zM2307 2084l5 4 7-5zM2300 2089l7-5 5 4zM2300 2089l5 3 7-4zM2293 2094l7-5 5 3zM2286 2099l7-5 5 3zM2274 2101l4 4 8-6zM2266 2106l5 4 7-5zM2259 2112l5 4 7-6zM2252 2118l5 5 7-7zM2245 2124l4 5 8-6zM2237 2130l5 6 7-7zM2230 2137l5 5 7-6zM2235 2142l7-6 5 5zM2227 2149l8-7 5 6zM2220 2156l7-7 5 6zM2213 2162l7-6 5 6zM2213 2162l4 6 8-6zM2205 2169l8-7 4 6zM2205 2169l5 6 7-7zM2198 2176l7-7 5 6zM2198 2176l4 5 8-6zM2190 2182l8-6 4 5zM2190 2182l5 5 7-6zM2183 2188l7-6 5 5zM2183 2188l4 5 8-6zM2175 2195l8-7 4 5zM2175 2195l5 4 7-6zM2168 2201l7-6 5 4zM2160 2207l8-6 4 4zM2153 2213l7-6 5 4zM2145 2219l8-6 4 4zM2137 2225l8-6 5 4zM2118 2233l4 4 8-6zM2110 2239l4 4 8-6zM2102 2246l5 4 7-7zM2094 2252l5 5 8-7zM2087 2259l4 4 8-6zM2079 2266l4 4 8-7zM2071 2273l4 4 8-7zM2060 2291l8-7 4 5zM2052 2298l8-7 4 5zM2044 2305l8-7 4 5zM2036 2313l8-8 4 6zM2028 2320l8-7 4 5zM2028 2320l4 5 8-7zM2020 2327l8-7 4 5zM2020 2327l4 6 8-8zM2012 2334l8-7 4 6zM2012 2334l4 7 8-8zM2004 2342l8-8 4 7zM2004 2342l4 6 8-7zM1996 2349l4 7 8-8zM2000 2356l8-8 5 8zM1992 2365l8-9 5 8zM1992 2365l5 8 8-9zM1984 2373l8-8 5 8zM1984 2373l4 8 9-8zM1988 2381l9-8 4 8zM1988 2381l5 9 8-9zM1980 2390l8-9 5 9z"/><path class=ah d="M2340 2066l5 4 7-7zM2333 2072l7-6 5 4zM2333 2072l5 4 7-6zM2326 2078l7-6 5 4zM2326 2078l5 3 7-5zM2319 2083l7-5 5 3zM2312 2088l7-5 5 2zM2293 2094l5 3 7-5zM2286 2099l5 3 7-5zM2278 2105l8-6 5 3zM2278 2105l5 3 8-6zM2271 2110l7-5 5 3zM2271 2110l5 4 7-6zM2264 2116l7-6 5 4zM2264 2116l5 5 7-7zM2257 2123l7-7 5 5zM2257 2123l5 4 7-6zM2249 2129l8-6 5 4zM2249 2129l5 5 8-7zM2242 2136l7-7 5 5zM2242 2136l5 5 7-7zM2235 2142l5 6 7-7zM2227 2149l5 6 8-7zM2232 2155l8-7 4 6zM2220 2156l5 6 7-7zM2225 2162l7-7 5 5zM2217 2168l8-6 5 5zM2210 2175l7-7 5 5zM2202 2181l8-6 5 5zM2195 2187l7-6 5 5zM2187 2193l8-6 5 5zM2180 2199l7-6 5 5zM2168 2201l4 4 8-6zM2160 2207l5 4 7-6zM2153 2213l4 4 8-6zM2145 2219l5 4 7-6zM2137 2225l5 4 8-6zM2130 2231l7-6 5 4zM2130 2231l4 4 8-6zM2122 2237l8-6 4 4zM2122 2237l4 4 8-6zM2114 2243l8-6 4 4zM2114 2243l5 5 7-7zM2107 2250l7-7 5 5zM2107 2250l4 4 8-6zM2099 2257l8-7 4 4zM2099 2257l4 4 8-7zM2091 2263l8-6 4 4zM2091 2263l4 5 8-7zM2083 2270l8-7 4 5zM2083 2270l5 5 7-7zM2075 2277l8-7 5 5zM2075 2277l5 5 8-7zM2068 2284l7-7 5 5zM2068 2284l4 5 8-7zM2060 2291l4 5 8-7zM2052 2298l4 5 8-7zM2044 2305l4 6 8-8zM2036 2313l4 5 8-7zM2032 2325l8-7 5 6zM2024 2333l8-8 5 7zM2016 2341l8-8 5 6zM2016 2341l5 7 8-9zM2008 2348l8-7 5 7zM2008 2348l5 8 8-8zM2000 2356l5 8 8-8zM2005 2364l8-8 4 8zM2005 2364l4 8 8-8zM1997 2373l8-9 4 8zM1997 2373l4 8 8-9zM1993 2390l8-9 4 9z"/><path class=ai d="M2345 2070l7-7 5 5zM2338 2076l7-6 5 3zM2331 2081l7-5 5 2zM2319 2083l5 2 7-4zM2312 2088l5 2 7-5zM2305 2092l7-4 5 2zM2305 2092l5 2 7-4zM2298 2097l7-5 5 2zM2291 2102l7-5 5 3zM2283 2108l8-6 4 4zM2276 2114l7-6 5 4zM2269 2121l7-7 5 5zM2262 2127l7-6 5 5zM2254 2134l8-7 4 6zM2254 2134l5 6 7-7zM2247 2141l7-7 5 6zM2247 2141l5 6 7-7zM2240 2148l7-7 5 6zM2240 2148l4 6 8-7zM2232 2155l5 5 7-6zM2225 2162l5 5 7-7zM2217 2168l5 5 8-6zM2210 2175l5 5 7-7zM2202 2181l5 5 8-6zM2195 2187l5 5 7-6zM2187 2193l5 5 8-6zM2180 2199l5 5 7-6zM2172 2205l8-6 5 5zM2172 2205l5 5 8-6zM2165 2211l7-6 5 5zM2165 2211l4 5 8-6zM2157 2217l8-6 4 5zM2150 2223l7-6 5 4zM2142 2229l8-6 4 4zM2134 2235l8-6 4 4zM2126 2241l8-6 5 4zM2095 2268l8-7 5 5zM2088 2275l7-7 5 5zM2080 2282l8-7 4 5zM2072 2289l8-7 4 5zM2064 2296l8-7 4 5zM2056 2303l8-7 4 5zM2056 2303l5 6 7-8zM2048 2311l8-8 5 6zM2048 2311l5 5 8-7zM2040 2318l8-7 5 5zM2040 2318l5 6 8-8zM2032 2325l5 7 8-8zM2024 2333l5 6 8-7zM2029 2339l8-7 4 7zM2021 2348l8-9 4 8zM2021 2348l4 7 8-8zM2013 2356l8-8 4 7zM2013 2356l4 8 8-9zM2009 2372l8-8 4 8zM2009 2372l4 9 8-9zM2001 2381l8-9 4 9zM2001 2381l4 9 8-9zM2005 2390l8-9 5 9z"/><path class=aj d="M2352 2063l5 5 8-7zM2345 2070l5 3 7-5zM2338 2076l5 2 7-5zM2331 2081l5 1 7-4zM2324 2085l7-4 5 1zM2317 2090l7-5 5 2zM2298 2097l5 3 7-6zM2291 2102l4 4 8-6zM2283 2108l5 4 7-6zM2276 2114l5 5 7-7zM2269 2121l5 5 7-7zM2262 2127l4 6 8-7zM2259 2140l7-7 5 5zM2252 2147l7-7 5 5zM2252 2147l4 5 8-7zM2244 2154l8-7 4 5zM2244 2154l5 5 7-7zM2237 2160l7-6 5 5zM2237 2160l5 6 7-7zM2230 2167l7-7 5 6zM2230 2167l4 5 8-6zM2222 2173l8-6 4 5zM2222 2173l5 6 7-7zM2215 2180l7-7 5 6zM2215 2180l4 5 8-6zM2207 2186l8-6 4 5zM2207 2186l5 5 7-6zM2200 2192l7-6 5 5zM2200 2192l4 5 8-6zM2192 2198l8-6 4 5zM2192 2198l5 5 7-6zM2185 2204l7-6 5 5zM2177 2210l8-6 4 4zM2169 2216l8-6 5 4zM2157 2217l5 4 7-5zM2150 2223l4 4 8-6zM2142 2229l4 4 8-6zM2134 2235l5 4 7-6zM2126 2241l5 5 8-7zM2119 2248l7-7 5 5zM2119 2248l4 4 8-6zM2111 2254l8-6 4 4zM2111 2254l5 5 7-7zM2103 2261l8-7 5 5zM2103 2261l5 5 8-7zM2095 2268l5 5 8-7zM2088 2275l4 5 8-7zM2080 2282l4 5 8-7zM2072 2289l4 5 8-7zM2064 2296l4 5 8-7zM2061 2309l7-8 5 6zM2053 2316l8-7 4 6zM2045 2324l8-8 4 7zM2045 2324l4 6 8-7zM2037 2332l8-8 4 6zM2037 2332l4 7 8-9zM2029 2339l4 8 8-8zM2033 2347l8-8 5 7zM2025 2355l8-8 5 8zM2025 2355l5 8 8-8zM2017 2364l8-9 5 8zM2017 2364l4 8 9-9zM2021 2372l9-9 4 9zM2021 2372l5 9 8-9zM2013 2381l8-9 5 9zM2013 2381l5 9 8-9zM2018 2390l8-9 4 9z"/><path class=ak d="M2357 2068l8-7 5 4zM2350 2073l7-5 5 2zM2343 2078l7-5 5 1zM2324 2085l5 2 7-5zM2317 2090l5 1 7-4zM2310 2094l7-4 5 1zM2303 2100l7-6 5 3zM2295 2106l8-6 4 3zM2288 2112l7-6 5 3zM2281 2119l7-7 5 4zM2274 2126l7-7 5 4zM2274 2126l4 5 8-8zM2266 2133l8-7 4 5zM2266 2133l5 5 7-7zM2259 2140l5 5 7-7zM2256 2152l8-7 5 6zM2249 2159l7-7 5 5zM2242 2166l7-7 5 5zM2234 2172l8-6 4 5zM2227 2179l7-7 5 5zM2219 2185l8-6 5 4zM2212 2191l7-6 5 4zM2204 2197l8-6 5 4zM2197 2203l7-6 5 4zM2185 2204l4 4 8-5zM2177 2210l5 4 7-6zM2169 2216l5 4 8-6zM2162 2221l7-5 5 4zM2162 2221l4 4 8-5zM2154 2227l8-6 4 4zM2154 2227l5 4 7-6zM2146 2233l8-6 5 4zM2139 2239l7-6 5 4zM2131 2246l8-7 4 5zM2123 2252l8-6 5 4zM2116 2259l7-7 5 5zM2108 2266l8-7 4 5zM2100 2273l8-7 4 5zM2092 2280l8-7 4 5zM2092 2280l5 5 7-7zM2084 2287l8-7 5 5zM2084 2287l5 5 8-7zM2076 2294l8-7 5 5zM2076 2294l5 6 8-8zM2068 2301l8-7 5 6zM2068 2301l5 6 8-7zM2061 2309l4 6 8-8zM2053 2316l4 7 8-8zM2057 2323l8-8 4 6zM2049 2330l8-7 5 7zM2049 2330l5 8 8-8zM2041 2339l8-9 5 8zM2041 2339l5 7 8-8zM2033 2347l5 8 8-9zM2038 2355l8-9 4 8zM2038 2355l4 8 8-9zM2030 2363l8-8 4 8zM2030 2363l4 9 8-9zM2034 2372l8-9 5 9zM2034 2372l5 9 8-9zM2026 2381l8-9 5 9zM2026 2381l4 9 9-9zM2030 2390l9-9 4 9z"/><path class=al d="M2365 2061l5 4 7-6zM2357 2068l5 2 8-5zM2350 2073l5 1 7-4zM2343 2078l5 1 7-5zM2336 2082l7-4 5 1zM2329 2087l7-5 5 1zM2310 2094l5 3 7-6zM2303 2100l4 3 8-6zM2295 2106l5 3 7-6zM2288 2112l5 4 7-7zM2281 2119l5 4 7-7zM2278 2131l8-8 5 5zM2271 2138l7-7 5 5zM2271 2138l5 6 7-8zM2264 2145l7-7 5 6zM2264 2145l5 6 7-7zM2256 2152l5 5 8-6zM2249 2159l5 5 7-7zM2242 2166l4 5 8-7zM2234 2172l5 5 7-6zM2227 2179l5 4 7-6zM2219 2185l5 4 8-6zM2212 2191l5 4 7-6zM2204 2197l5 4 8-6zM2197 2203l4 4 8-6zM2189 2208l8-5 4 4zM2189 2208l5 4 7-5zM2182 2214l7-6 5 4zM2174 2220l8-6 4 4zM2166 2225l8-5 5 4zM2146 2233l5 4 8-6zM2139 2239l4 5 8-7zM2131 2246l5 4 7-6zM2123 2252l5 5 8-7zM2116 2259l4 5 8-7zM2108 2266l4 5 8-7zM2100 2273l4 5 8-7zM2097 2285l7-7 5 5zM2089 2292l8-7 4 6zM2081 2300l8-8 4 6zM2073 2307l8-7 4 6zM2073 2307l4 6 8-7zM2065 2315l8-8 4 6zM2065 2315l4 6 8-8zM2057 2323l5 7 7-9zM2062 2330l7-9 5 8zM2054 2338l8-8 4 7zM2054 2338l4 8 8-9zM2046 2346l8-8 4 8zM2046 2346l4 8 8-8zM2050 2354l8-8 5 8zM2042 2363l8-9 5 9zM2042 2363l5 9 8-9zM2039 2381l8-9 4 9zM2039 2381l4 9 8-9z"/><path class=am d="M2370 2065l7-6 5 2zM2362 2070l8-5 5 1zM2355 2074l7-4 5 0zM2336 2082l5 1 7-4zM2329 2087l5 0 7-4zM2322 2091l7-4 5 0zM2315 2097l7-6 5 2zM2307 2103l8-6 5 2zM2300 2109l7-6 5 3zM2293 2116l7-7 5 4zM2293 2116l5 5 7-8zM2286 2123l7-7 5 5zM2286 2123l5 5 7-7zM2278 2131l5 5 8-8zM2276 2144l7-8 5 5zM2269 2151l7-7 5 4zM2269 2151l5 4 7-7zM2261 2157l8-6 5 4zM2261 2157l5 5 8-7zM2254 2164l7-7 5 5zM2254 2164l5 5 7-7zM2246 2171l8-7 5 5zM2246 2171l5 4 8-6zM2239 2177l7-6 5 4zM2239 2177l5 5 7-7zM2232 2183l7-6 5 5zM2232 2183l4 5 8-6zM2224 2189l8-6 4 5zM2224 2189l5 5 7-6zM2217 2195l7-6 5 5zM2217 2195l4 4 8-5zM2209 2201l8-6 4 4zM2201 2207l8-6 5 4zM2194 2212l7-5 5 4zM2182 2214l4 4 8-6zM2174 2220l5 4 7-6zM2166 2225l5 4 8-5zM2159 2231l7-6 5 4zM2159 2231l4 4 8-6zM2151 2237l8-6 4 4zM2151 2237l5 5 7-7zM2143 2244l8-7 5 5zM2143 2244l5 4 8-6zM2136 2250l7-6 5 4zM2136 2250l4 5 8-7zM2128 2257l8-7 4 5zM2128 2257l4 5 8-7zM2120 2264l8-7 4 5zM2120 2264l5 5 7-7zM2112 2271l8-7 5 5zM2112 2271l5 5 8-7zM2104 2278l8-7 5 5zM2104 2278l5 5 8-7zM2097 2285l4 6 8-8zM2089 2292l4 6 8-7zM2081 2300l4 6 8-8zM2085 2306l8-8 5 7zM2077 2313l8-7 5 6zM2077 2313l5 8 8-9zM2069 2321l8-8 5 8zM2069 2321l5 8 8-8zM2062 2330l4 7 8-8zM2066 2337l8-8 5 8zM2058 2346l8-9 5 8zM2058 2346l5 8 8-9zM2050 2354l5 9 8-9zM2055 2363l8-9 4 9zM2055 2363l4 9 8-9zM2047 2372l8-9 4 9zM2047 2372l4 9 8-9zM2051 2381l8-9 5 9zM2051 2381l5 9 8-9zM2043 2390l8-9 5 9z"/><path class=an d="M2377 2059l5 2 7-7zM2370 2065l5 1 7-5zM2362 2070l5 0 8-4zM2348 2079l7-5 5 0zM2322 2091l5 2 7-6zM2315 2097l5 2 7-6zM2307 2103l5 3 8-7zM2300 2109l5 4 7-7zM2291 2128l7-7 5 4zM2291 2128l5 5 7-8zM2283 2136l8-8 5 5zM2283 2136l5 5 8-8zM2276 2144l5 4 7-7zM2266 2162l8-7 4 5zM2259 2169l7-7 5 5zM2251 2175l8-6 5 4zM2244 2182l7-7 5 5zM2236 2188l8-6 5 4zM2229 2194l7-6 5 4zM2209 2201l5 4 7-6zM2201 2207l5 4 8-6zM2194 2212l5 4 7-5zM2186 2218l8-6 5 4zM2186 2218l5 4 8-6zM2179 2224l7-6 5 4zM2171 2229l8-5 4 4zM2163 2235l8-6 5 5zM2156 2242l7-7 5 5zM2148 2248l8-6 4 5zM2140 2255l8-7 5 6zM2132 2262l8-7 5 5zM2125 2269l7-7 5 6zM2117 2276l8-7 4 6zM2109 2283l8-7 4 6zM2109 2283l5 6 7-7zM2101 2291l8-8 5 6zM2101 2291l5 6 8-8zM2093 2298l8-7 5 6zM2093 2298l5 7 8-8zM2085 2306l5 6 8-7zM2082 2321l8-9 4 8zM2082 2321l5 7 7-8zM2074 2329l8-8 5 7zM2074 2329l5 8 8-9zM2066 2337l5 8 8-8zM2071 2345l8-8 4 8zM2071 2345l4 9 8-9zM2063 2354l8-9 4 9zM2063 2354l4 9 8-9zM2067 2363l8-9 5 9zM2067 2363l5 9 8-9zM2059 2372l8-9 5 9zM2059 2372l5 9 8-9zM2064 2381l8-9 4 9zM2064 2381l4 9 8-9zM2056 2390l8-9 4 9z"/><path class=ao d="M2382 2061l7-7 5 1zM2375 2066l7-5 5-1zM2355 2074l5 0 7-4zM2348 2079l5-1 7-4zM2341 2083l7-4 5-1zM2334 2087l7-4 5 0zM2327 2093l7-6 5 1zM2320 2099l7-6 5 2zM2312 2106l8-7 5 3zM2305 2113l7-7 5 3zM2305 2113l5 4 7-8zM2298 2121l7-8 5 4zM2298 2121l5 4 7-8zM2288 2141l8-8 4 5zM2281 2148l7-7 5 5zM2281 2148l5 5 7-7zM2274 2155l7-7 5 5zM2274 2155l4 5 8-7zM2266 2162l5 5 7-7zM2259 2169l5 4 7-6zM2251 2175l5 5 8-7zM2244 2182l5 4 7-6zM2236 2188l5 4 8-6zM2229 2194l5 4 7-6zM2221 2199l8-5 5 4zM2221 2199l5 4 8-5zM2214 2205l7-6 5 4zM2214 2205l5 4 7-6zM2206 2211l8-6 5 4zM2199 2216l7-5 5 4zM2191 2222l8-6 4 4zM2179 2224l4 4 8-6zM2171 2229l5 5 7-6zM2163 2235l5 5 8-6zM2156 2242l4 5 8-7zM2148 2248l5 6 7-7zM2140 2255l5 5 8-6zM2132 2262l5 6 8-8zM2125 2269l4 6 8-7zM2117 2276l4 6 8-7zM2121 2282l8-7 5 6zM2114 2289l7-7 5 6zM2106 2297l8-8 4 7zM2106 2297l4 7 8-8zM2098 2305l8-8 4 7zM2098 2305l4 7 8-8zM2090 2312l8-7 4 7zM2090 2312l4 8 8-8zM2094 2320l8-8 5 7zM2087 2328l7-8 5 8zM2087 2328l4 8 8-8zM2079 2337l8-9 4 8zM2079 2337l4 8 8-9zM2083 2345l8-9 5 9zM2083 2345l5 9 8-9zM2075 2354l8-9 5 9zM2075 2354l5 9 8-9zM2080 2363l8-9 5 9zM2080 2363l4 9 9-9zM2072 2372l8-9 4 9zM2072 2372l4 9 8-9zM2076 2381l8-9 5 9zM2076 2381l5 10 8-10zM2068 2390l8-9 5 10z"/><path class=ap d="M2389 2054l5 1 7-7zM2382 2061l5-1 7-5zM2367 2070l8-4 5-2zM2341 2083l5 0 7-5zM2334 2087l5 1 7-5zM2327 2093l5 2 7-7zM2320 2099l5 3 7-7zM2312 2106l5 3 8-7zM2303 2125l7-8 5 5zM2303 2125l5 5 7-8zM2296 2133l7-8 5 5zM2296 2133l4 5 8-8zM2288 2141l5 5 7-8zM2286 2153l7-7 5 4zM2278 2160l8-7 5 4zM2271 2167l7-7 5 4zM2271 2167l5 4 7-7zM2264 2173l7-6 5 4zM2264 2173l4 5 8-7zM2256 2180l8-7 4 5zM2256 2180l5 4 7-6zM2249 2186l7-6 5 4zM2249 2186l5 4 7-6zM2241 2192l8-6 5 4zM2234 2198l7-6 5 4zM2226 2203l8-5 5 4zM2219 2209l7-6 5 4zM2206 2211l5 4 8-6zM2199 2216l4 4 8-5zM2191 2222l5 4 7-6zM2183 2228l8-6 5 4zM2183 2228l5 4 8-6zM2176 2234l7-6 5 4zM2176 2234l4 5 8-7zM2168 2240l8-6 4 5zM2168 2240l5 5 7-6zM2160 2247l8-7 5 5zM2160 2247l5 5 8-7zM2153 2254l7-7 5 5zM2153 2254l4 5 8-7zM2145 2260l8-6 4 5zM2145 2260l4 6 8-7zM2137 2268l8-8 4 6zM2137 2268l5 5 7-7zM2129 2275l8-7 5 5zM2129 2275l5 6 8-8zM2121 2282l5 6 8-7zM2114 2289l4 7 8-8zM2118 2296l8-8 5 7zM2110 2304l8-8 5 7zM2110 2304l5 7 8-8zM2102 2312l8-8 5 7zM2102 2312l5 7 8-8zM2094 2320l5 8 8-9zM2099 2328l8-9 5 8zM2099 2328l5 8 8-9zM2091 2336l8-8 5 8zM2091 2336l5 9 8-9zM2096 2345l8-9 4 9zM2088 2354l8-9 4 9zM2088 2354l5 9 7-9zM2093 2363l4 9 8-9zM2084 2372l9-9 4 9zM2084 2372l5 9 8-9zM2089 2381l8-9 5 10zM2089 2381l5 10 8-9zM2081 2391l8-10 5 10z"/><path class=aq d="M2375 2066l5-2 7-4zM2367 2070l6-2 7-4zM2360 2074l7-4 6-2zM2353 2078l7-4 5-2zM2325 2102l7-7 5 2zM2317 2109l8-7 4 3zM2310 2117l7-8 5 4zM2310 2117l5 5 7-9zM2300 2138l8-8 5 5zM2300 2138l5 4 8-7zM2293 2146l7-8 5 4zM2293 2146l5 4 7-8zM2286 2153l5 4 7-7zM2278 2160l5 4 8-7zM2268 2178l8-7 5 4zM2261 2184l7-6 5 4zM2241 2192l5 4 8-6zM2234 2198l5 4 7-6zM2226 2203l5 4 8-5zM2219 2209l4 4 8-6zM2211 2215l8-6 4 4zM2211 2215l5 4 7-6zM2203 2220l8-5 5 4zM2196 2226l7-6 5 5zM2188 2232l8-6 4 5zM2180 2239l8-7 5 5zM2173 2245l7-6 5 5zM2165 2252l8-7 4 6zM2157 2259l8-7 5 6zM2149 2266l8-7 5 6zM2142 2273l7-7 5 6zM2142 2273l4 7 8-8zM2134 2281l8-8 4 7zM2134 2281l4 6 8-7zM2126 2288l8-7 4 6zM2126 2288l5 7 7-8zM2118 2296l5 7 8-8zM2123 2303l8-8 4 7zM2115 2311l8-8 4 8zM2115 2311l5 8 7-8zM2107 2319l8-8 5 8zM2107 2319l5 8 8-8zM2112 2327l8-8 4 8zM2104 2336l8-9 4 9zM2104 2336l4 9 8-9zM2096 2345l4 9 8-9zM2100 2354l8-9 5 9zM2100 2354l5 9 8-9zM2093 2363l7-9 5 9zM2097 2372l8-9 5 9zM2097 2372l5 10 8-10zM2102 2382l8-10 5 10zM2102 2382l5 9 8-9zM2094 2391l8-9 5 9z"/><path class=ar d="M2394 2055l7-7 5 0zM2387 2060l7-5 5-2zM2360 2074l5-2 8-4zM2353 2078l5-1 7-5zM2346 2083l7-5 5-1zM2339 2088l7-5 5 0zM2332 2095l7-7 5 2zM2332 2095l5 2 7-7zM2325 2102l4 3 8-8zM2317 2109l5 4 7-8zM2315 2122l7-9 5 5zM2308 2130l7-8 5 4zM2308 2130l5 5 7-9zM2298 2150l7-8 5 5zM2291 2157l7-7 5 5zM2291 2157l5 5 7-7zM2283 2164l8-7 5 5zM2283 2164l5 5 8-7zM2276 2171l7-7 5 5zM2276 2171l5 4 7-6zM2268 2178l5 4 8-7zM2261 2184l5 4 7-6zM2254 2190l7-6 5 4zM2254 2190l4 4 8-6zM2246 2196l8-6 4 4zM2246 2196l5 4 7-6zM2239 2202l7-6 5 4zM2239 2202l4 4 8-6zM2231 2207l8-5 4 4zM2223 2213l8-6 5 5zM2216 2219l7-6 5 4zM2203 2220l5 5 8-6zM2196 2226l4 5 8-6zM2188 2232l5 5 7-6zM2180 2239l5 5 8-7zM2173 2245l4 6 8-7zM2165 2252l5 6 7-7zM2157 2259l5 6 8-7zM2149 2266l5 6 8-7zM2146 2280l8-8 5 7zM2138 2287l8-7 5 6zM2138 2287l5 7 8-8zM2131 2295l7-8 5 7zM2131 2295l4 7 8-8zM2123 2303l4 8 8-9zM2127 2311l8-9 5 8zM2127 2311l5 8 8-9zM2120 2319l7-8 5 8zM2120 2319l4 8 8-8zM2112 2327l4 9 8-9zM2116 2336l8-9 5 9zM2116 2336l5 9 8-9zM2108 2345l8-9 5 9zM2108 2345l5 9 8-9zM2113 2354l8-9 5 9zM2113 2354l5 9 8-9zM2105 2363l8-9 5 9zM2105 2363l5 9 8-9zM2110 2372l8-9 5 10zM2110 2372l5 10 8-9zM2115 2382l8-9 5 9zM2115 2382l5 9 8-9zM2107 2391l8-9 5 9z"/><path class=as d="M2401 2048l5 0 7-7zM2394 2055l5-2 7-5zM2380 2064l7-4 5-3zM2373 2068l7-4 5-3zM2346 2083l5 0 7-6zM2339 2088l5 2 7-7zM2329 2105l8-8 5 4zM2322 2113l7-8 5 4zM2322 2113l5 5 7-9zM2315 2122l5 4 7-8zM2313 2135l7-9 5 5zM2313 2135l5 4 7-8zM2305 2142l8-7 5 4zM2305 2142l5 5 8-8zM2298 2150l5 5 7-8zM2296 2162l7-7 5 4zM2288 2169l8-7 5 4zM2281 2175l7-6 5 4zM2273 2182l8-7 5 5zM2266 2188l7-6 5 4zM2258 2194l8-6 5 4zM2251 2200l7-6 5 4zM2231 2207l5 5 7-6zM2223 2213l5 4 8-5zM2216 2219l5 4 7-6zM2208 2225l8-6 5 4zM2208 2225l5 5 8-7zM2200 2231l8-6 5 5zM2200 2231l5 5 8-6zM2193 2237l7-6 5 5zM2193 2237l5 6 7-7zM2185 2244l8-7 5 6zM2185 2244l5 5 8-6zM2177 2251l8-7 5 5zM2177 2251l5 5 8-7zM2170 2258l7-7 5 5zM2170 2258l4 6 8-8zM2162 2265l8-7 4 6zM2162 2265l5 6 7-7zM2154 2272l8-7 5 6zM2154 2272l5 7 8-8zM2146 2280l5 6 8-7zM2151 2286l8-7 5 7zM2143 2294l8-8 5 8zM2143 2294l5 8 8-8zM2135 2302l8-8 5 8zM2135 2302l5 8 8-8zM2132 2319l8-9 5 9zM2132 2319l5 8 8-8zM2124 2327l8-8 5 8zM2124 2327l5 9 8-9zM2129 2336l8-9 5 9zM2129 2336l5 9 8-9zM2121 2345l8-9 5 9zM2121 2345l5 9 8-9zM2126 2354l8-9 5 9zM2126 2354l5 9 8-9zM2118 2363l8-9 5 9zM2118 2363l5 10 8-10zM2123 2373l8-10 5 10zM2123 2373l5 9 8-9zM2128 2382l4 10 8-10zM2120 2391l8-9 4 10z"/><path class=at d="M2387 2060l5-3 7-4zM2380 2064l5-3 7-4zM2365 2072l8-4 5-2zM2358 2077l7-5 5-1zM2351 2083l7-6 5 0zM2344 2090l7-7 5 2zM2337 2097l7-7 5 2zM2337 2097l5 4 7-9zM2329 2105l5 4 8-8zM2327 2118l7-9 6 5zM2320 2126l7-8 5 4zM2320 2126l5 5 7-9zM2310 2147l8-8 5 5zM2303 2155l7-8 5 5zM2303 2155l5 4 7-7zM2296 2162l5 4 7-7zM2288 2169l5 4 8-7zM2281 2175l5 5 7-7zM2273 2182l5 4 8-6zM2266 2188l5 4 7-6zM2258 2194l5 4 8-6zM2251 2200l5 4 7-6zM2243 2206l8-6 5 4zM2243 2206l5 4 8-6zM2236 2212l7-6 5 4zM2236 2212l5 4 7-6zM2228 2217l8-5 5 4zM2221 2223l7-6 5 5zM2213 2230l8-7 4 5zM2205 2236l8-6 5 5zM2198 2243l7-7 5 5zM2190 2249l8-6 4 5zM2182 2256l8-7 5 6zM2174 2264l8-8 5 7zM2174 2264l5 6 8-7zM2167 2271l7-7 5 6zM2167 2271l4 7 8-8zM2159 2279l8-8 4 7zM2159 2279l5 7 7-8zM2151 2286l5 8 8-8zM2156 2294l8-8 4 7zM2156 2294l5 8 7-9zM2148 2302l8-8 5 8zM2148 2302l5 8 8-8zM2140 2310l8-8 5 8zM2140 2310l5 9 8-9zM2145 2319l8-9 5 9zM2145 2319l5 8 8-8zM2137 2327l8-8 5 8zM2137 2327l5 9 8-9zM2142 2336l8-9 5 9zM2142 2336l5 9 8-9zM2134 2345l8-9 5 9zM2134 2345l5 9 8-9zM2139 2354l8-9 4 10zM2139 2354l4 10 8-9zM2131 2363l8-9 4 10zM2131 2363l5 10 7-9zM2136 2373l7-9 5 9zM2136 2373l4 9 8-9zM2128 2382l8-9 4 9zM2132 2392l8-10 5 10z"/><path class=au d="M2406 2048l7-7 5-2zM2373 2068l5-2 7-5zM2365 2072l5-1 8-5zM2358 2077l5 0 7-6zM2351 2083l5 2 7-8zM2344 2090l5 2 7-7zM2334 2109l8-8 5 4zM2334 2109l6 5 7-9zM2327 2118l5 4 8-8zM2325 2131l7-9 5 5zM2318 2139l7-8 5 5zM2318 2139l5 5 7-8zM2310 2147l5 5 8-8zM2308 2159l7-7 5 4zM2301 2166l7-7 5 5zM2301 2166l5 5 7-7zM2293 2173l8-7 5 5zM2293 2173l5 4 8-6zM2286 2180l7-7 5 4zM2286 2180l5 4 7-7zM2278 2186l8-6 5 4zM2278 2186l5 4 8-6zM2271 2192l7-6 5 4zM2271 2192l5 4 7-6zM2263 2198l8-6 5 4zM2256 2204l7-6 5 4zM2248 2210l8-6 5 4zM2241 2216l7-6 5 4zM2228 2217l5 5 8-6zM2221 2223l4 5 8-6zM2213 2230l5 5 7-7zM2205 2236l5 5 8-6zM2198 2243l4 5 8-7zM2190 2249l5 6 7-7zM2182 2256l5 7 8-8zM2187 2263l8-8 5 7zM2179 2270l8-7 5 6zM2171 2278l8-8 5 7zM2171 2278l5 7 8-8zM2164 2286l7-8 5 7zM2164 2286l4 7 8-8zM2161 2302l7-9 5 8zM2161 2302l4 8 8-9zM2153 2310l8-8 4 8zM2153 2310l5 9 7-9zM2158 2319l7-9 5 9zM2158 2319l4 9 8-9zM2150 2327l8-8 4 9zM2150 2327l5 9 7-8zM2155 2336l7-8 5 9zM2155 2336l4 10 8-9zM2147 2345l8-9 4 10zM2147 2345l4 10 8-9zM2151 2355l8-9 5 9zM2151 2355l5 9 8-9zM2143 2364l8-9 5 9zM2143 2364l5 9 8-9zM2148 2373l8-9 5 10zM2148 2373l5 10 8-9zM2140 2382l8-9 5 10zM2140 2382l5 10 8-9zM2145 2392l8-9 5 9z"/><path class=av d="M2399 2053l7-5 5-4zM2392 2057l7-4 5-4zM2349 2092l7-7 5 2zM2342 2101l7-9 5 4zM2342 2101l5 4 7-9zM2332 2122l8-8 5 4zM2332 2122l5 5 8-9zM2325 2131l5 5 7-9zM2323 2144l7-8 5 5zM2323 2144l5 5 7-8zM2315 2152l8-8 5 5zM2315 2152l5 4 8-7zM2308 2159l5 5 7-8zM2298 2177l8-6 5 4zM2291 2184l7-7 5 5zM2263 2198l5 4 8-6zM2256 2204l5 4 7-6zM2248 2210l5 4 8-6zM2241 2216l5 4 7-6zM2233 2222l8-6 5 4zM2233 2222l5 5 8-7zM2225 2228l8-6 5 5zM2225 2228l5 5 8-6zM2218 2235l7-7 5 5zM2218 2235l5 5 7-7zM2210 2241l8-6 5 5zM2210 2241l5 6 8-7zM2202 2248l8-7 5 6zM2202 2248l5 6 8-7zM2195 2255l7-7 5 6zM2195 2255l5 7 7-8zM2187 2263l5 6 8-7zM2179 2270l5 7 8-8zM2184 2277l8-8 5 8zM2184 2277l5 8 8-8zM2176 2285l8-8 5 8zM2176 2285l5 8 8-8zM2168 2293l8-8 5 8zM2168 2293l5 8 8-8zM2173 2301l8-8 5 8zM2173 2301l5 9 8-9zM2165 2310l8-9 5 9zM2165 2310l5 9 8-9zM2170 2319l8-9 5 9zM2170 2319l5 9 8-9zM2162 2328l8-9 5 9zM2162 2328l5 9 8-9zM2167 2337l8-9 5 9zM2167 2337l5 9 8-9zM2159 2346l8-9 5 9zM2159 2346l5 9 8-9zM2164 2355l8-9 5 10zM2164 2355l5 10 8-9zM2156 2364l8-9 5 10zM2156 2364l5 10 8-9zM2161 2374l8-9 5 9zM2161 2374l5 9 8-9zM2153 2383l8-9 5 9zM2153 2383l5 9 8-9zM2158 2392l8-9 5 9z"/><path class=aw d="M2413 2041l5-2 7-7zM2406 2048l5-4 7-5zM2399 2053l5-4 7-5zM2392 2057l5-4 7-4zM2385 2061l7-4 5-4zM2378 2066l7-5 5-3zM2370 2071l8-5 5-2zM2363 2077l7-6 6 0zM2356 2085l7-8 5 2zM2356 2085l5 2 7-8zM2349 2092l5 4 7-9zM2340 2114l7-9 5 4zM2340 2114l5 4 7-9zM2337 2127l8-9 5 5zM2330 2136l7-9 5 5zM2330 2136l5 5 7-9zM2320 2156l8-7 5 5zM2313 2164l7-8 6 5zM2313 2164l5 4 8-7zM2306 2171l7-7 5 4zM2306 2171l5 4 7-7zM2298 2177l5 5 8-7zM2291 2184l5 4 7-6zM2283 2190l8-6 5 4zM2283 2190l5 4 8-6zM2276 2196l7-6 5 4zM2276 2196l5 4 7-6zM2268 2202l8-6 5 4zM2268 2202l5 5 8-7zM2261 2208l7-6 5 5zM2261 2208l5 5 7-6zM2253 2214l8-6 5 5zM2246 2220l7-6 5 5zM2238 2227l8-7 4 5zM2230 2233l8-6 5 5zM2223 2240l7-7 5 6zM2215 2247l8-7 5 6zM2207 2254l8-7 5 6zM2207 2254l5 7 8-8zM2200 2262l7-8 5 7zM2200 2262l4 7 8-8zM2192 2269l8-7 4 7zM2192 2269l5 8 7-8zM2189 2285l8-8 5 7zM2189 2285l5 8 8-9zM2181 2293l8-8 5 8zM2181 2293l5 8 8-8zM2186 2301l8-8 5 8zM2186 2301l5 9 8-9zM2178 2310l8-9 5 9zM2178 2310l5 9 8-9zM2183 2319l8-9 5 9zM2183 2319l5 9 8-9zM2175 2328l8-9 5 9zM2175 2328l5 9 8-9zM2180 2337l8-9 5 10zM2180 2337l5 10 8-9zM2172 2346l8-9 5 10zM2172 2346l5 10 8-9zM2177 2356l8-9 5 9zM2177 2356l5 9 8-9zM2169 2365l8-9 5 9zM2169 2365l5 9 8-9zM2174 2374l8-9 5 10zM2174 2374l5 9 8-8zM2166 2383l8-9 5 9zM2166 2383l5 9 8-9zM2171 2392l8-9 5 10z"/><path class=ax d="M2385 2061l5-3 7-5zM2378 2066l5-2 7-6zM2370 2071l6 0 7-7zM2363 2077l5 2 8-8zM2354 2096l7-9 5 4zM2347 2105l7-9 5 4zM2347 2105l5 4 7-9zM2345 2118l7-9 5 5zM2345 2118l5 5 7-9zM2337 2127l5 5 8-9zM2335 2141l7-9 6 6zM2335 2141l5 5 8-8zM2328 2149l7-8 5 5zM2328 2149l5 5 7-8zM2320 2156l6 5 7-7zM2318 2168l8-7 5 5zM2311 2175l7-7 5 5zM2303 2182l8-7 5 5zM2296 2188l7-6 5 4zM2288 2194l8-6 5 4zM2281 2200l7-6 5 5zM2273 2207l8-7 5 5zM2253 2214l5 5 8-6zM2246 2220l4 5 8-6zM2238 2227l5 5 7-7zM2230 2233l5 6 8-7zM2223 2240l5 6 7-7zM2215 2247l5 6 8-7zM2220 2253l8-7 4 6zM2212 2261l8-8 5 7zM2212 2261l5 7 8-8zM2204 2269l8-8 5 7zM2204 2269l5 7 8-8zM2197 2277l7-8 5 7zM2197 2277l5 7 7-8zM2202 2284l7-8 5 8zM2202 2284l4 9 8-9zM2194 2293l8-9 4 9zM2194 2293l5 8 7-8zM2191 2310l8-9 5 9zM2191 2310l5 9 8-9zM2196 2319l8-9 5 10zM2196 2319l5 10 8-9zM2188 2328l8-9 5 10zM2188 2328l5 10 8-9zM2193 2338l8-9 5 10zM2193 2338l5 9 8-8zM2185 2347l8-9 5 9zM2185 2347l5 9 8-9zM2190 2356l8-9 5 10zM2190 2356l5 10 8-9zM2182 2365l8-9 5 10zM2182 2365l5 10 8-9zM2187 2375l8-9 5 9zM2187 2375l5 9 8-9zM2179 2383l8-8 5 9zM2179 2383l5 10 8-9zM2184 2393l8-9 5 9z"/><path class=ay d="M2418 2039l7-7 5-3zM2411 2044l7-5 5-5zM2361 2087l7-8 6 2zM2361 2087l5 4 8-10zM2354 2096l5 4 7-9zM2352 2109l7-9 5 5zM2352 2109l5 5 7-9zM2342 2132l8-9 5 6zM2342 2132l6 6 7-9zM2340 2146l8-8 5 5zM2333 2154l7-8 5 5zM2333 2154l5 5 7-8zM2326 2161l7-7 5 5zM2326 2161l5 5 7-7zM2318 2168l5 5 8-7zM2311 2175l5 5 7-7zM2303 2182l5 4 8-6zM2296 2188l5 4 7-6zM2288 2194l5 5 8-7zM2281 2200l5 5 7-6zM2273 2207l5 4 8-6zM2266 2213l7-6 5 4zM2266 2213l5 4 7-6zM2258 2219l8-6 5 4zM2258 2219l5 5 8-7zM2250 2225l8-6 5 5zM2250 2225l5 5 8-6zM2243 2232l7-7 5 5zM2243 2232l5 5 7-7zM2235 2239l8-7 5 5zM2235 2239l5 6 8-8zM2228 2246l7-7 5 6zM2228 2246l4 6 8-7zM2220 2253l5 7 7-8zM2225 2260l7-8 5 7zM2217 2268l8-8 5 7zM2217 2268l5 8 8-9zM2209 2276l8-8 5 8zM2209 2276l5 8 8-8zM2206 2293l8-9 5 9zM2206 2293l5 8 8-8zM2199 2301l7-8 5 8zM2199 2301l5 9 7-9zM2204 2310l7-9 5 10zM2204 2310l5 10 7-9zM2209 2320l7-9 5 9zM2209 2320l5 10 7-10zM2201 2329l8-9 5 10zM2201 2329l5 10 8-9zM2206 2339l8-9 5 9zM2206 2339l5 9 8-9zM2198 2347l8-8 5 9zM2198 2347l5 10 8-9 5 10 8-9zM2203 2357l8-9 5 10zM2203 2357l5 9 8-8zM2195 2366l8-9 5 9 8-8 5 9-13-1zM2195 2366l5 9 8-9zM2200 2375l8-9 5 10zM2200 2375l5 9 8-8zM2192 2384l8-9 5 9zM2192 2384l5 9 8-9zM2197 2393l8-9 5 9z"/><path class=az d="M2418 2039l5-5 7-5zM2404 2049l7-5 5-5zM2397 2053l7-4 5-5zM2390 2058l7-5 5-4zM2383 2064l7-6 5-2zM2376 2071l7-7 5 0zM2368 2079l8-8 5 1zM2368 2079l6 2 7-9zM2359 2100l7-9 5 4zM2359 2100l5 5 7-10zM2357 2114l7-9 5 5zM2350 2123l7-9 5 6zM2350 2123l5 6 7-9zM2348 2138l7-9 5 5zM2348 2138l5 5 7-9zM2340 2146l5 5 8-8zM2338 2159l7-8 6 5zM2331 2166l7-7 5 5zM2323 2173l8-7 5 5zM2323 2173l5 4 8-6zM2316 2180l7-7 5 4zM2316 2180l5 4 7-7zM2308 2186l8-6 5 4zM2308 2186l5 4 8-6zM2301 2192l7-6 5 4zM2301 2192l5 5 7-7zM2293 2199l8-7 5 5zM2286 2205l7-6 5 4zM2278 2211l8-6 5 4zM2271 2217l7-6 5 4zM2263 2224l8-7 5 5zM2255 2230l8-6 5 5zM2248 2237l7-7 5 6zM2240 2245l8-8 5 7zM2240 2245l5 6 8-7zM2232 2252l8-7 5 6zM2232 2252l5 7 8-8zM2225 2260l5 7 7-8zM2230 2267l7-8 5 8zM2222 2276l8-9 5 8zM2222 2276l5 8 8-9zM2214 2284l8-8 5 8zM2214 2284l5 9 8-9zM2219 2293l8-9 5 9zM2219 2293l5 9 8-9zM2211 2301l8-8 5 9zM2211 2301l5 10 8-9zM2216 2311l8-9 5 9zM2216 2311l5 9 8-9zM2221 2320l8-9 5 10zM2221 2320l6 10 7-9zM2214 2330l7-10 6 10zM2214 2330l5 9 8-9zM2219 2339l8-9 5 10zM2219 2339l5 10 8-9zM2211 2348l8-9 5 10 8-9 5 10zM2224 2349l5 10 8-9zM2216 2358l8-9 5 10zM2216 2358l5 9 8-8zM2221 2367l8-8 5 9zM2208 2366l5 10 8-9 5 9 8-8zM2213 2376l8-9 5 9zM2213 2376l5 9 8-9zM2205 2384l8-8 5 9zM2205 2384l5 9 8-8zM2210 2393l8-8 5 8z"/><path class=aA d="M2425 2032l5-3 7-7zM2411 2044l5-5 7-5zM2404 2049l5-5 7-5zM2397 2053l5-4 7-5zM2383 2064l5 0 7-8zM2376 2071l5 1 7-8zM2366 2091l8-10 5 4zM2366 2091l5 4 8-10zM2364 2105l7-10 6 5zM2364 2105l5 5 8-10zM2357 2114l5 6 7-10zM2355 2129l7-9 5 5zM2355 2129l5 5 7-9zM2353 2143l7-9 5 6zM2345 2151l8-8 5 5zM2345 2151l6 5 7-8zM2338 2159l5 5 8-8zM2331 2166l5 5 7-7zM2321 2184l7-7 5 5zM2293 2199l5 4 8-6zM2286 2205l5 4 7-6zM2278 2211l5 4 8-6zM2271 2217l5 5 7-7zM2263 2224l5 5 8-7zM2255 2230l5 6 8-7zM2248 2237l5 7 7-8zM2253 2244l7-8 5 6zM2245 2251l8-7 5 6zM2245 2251l5 7 8-8zM2237 2259l8-8 5 7zM2237 2259l5 8 8-9zM2230 2267l5 8 7-8zM2235 2275l7-8 5 8zM2235 2275l5 9 7-9zM2227 2284l8-9 5 9zM2227 2284l5 9 8-9zM2232 2293l8-9 5 9zM2232 2293l5 9 8-9zM2224 2302l8-9 5 9zM2224 2302l5 9 8-9 5 10 8-9-13-1zM2229 2311l8-9 5 10zM2229 2311l5 10 8-9zM2234 2321l8-9 5 10zM2234 2321l5 10 8-9zM2227 2330l7-9 5 10 8-9 5 10zM2227 2330l5 10 7-9 6 10 7-9zM2232 2340l7-9 6 10zM2232 2340l5 10 8-9zM2237 2350l8-9 5 10zM2237 2350l5 9 8-8zM2229 2359l8-9 5 9zM2229 2359l5 9 8-9zM2234 2368l8-9 5 9zM2234 2368l5 9 8-9zM2226 2376l8-8 5 9zM2226 2376l5 9 8-8zM2218 2385l8-9 5 9zM2218 2385l5 8 8-8zM2223 2393l8-8 5 8z"/><path class=aB d="M2390 2058l5-2 7-7zM2374 2081l7-9 5 4zM2374 2081l5 4 7-9zM2371 2095l8-10 5 5zM2362 2120l7-10 6 6zM2362 2120l5 5 8-9zM2360 2134l7-9 6 6zM2360 2134l5 6 8-9zM2353 2143l5 5 7-8zM2351 2156l7-8 5 6zM2343 2164l8-8 5 5zM2343 2164l5 4 8-7zM2336 2171l7-7 5 4zM2336 2171l5 4 7-7zM2328 2177l8-6 5 4zM2328 2177l5 5 8-7zM2321 2184l5 4 7-6zM2313 2190l8-6 5 4zM2313 2190l6 4 7-6zM2306 2197l7-7 6 4zM2306 2197l5 4 8-7zM2298 2203l8-6 5 4zM2298 2203l5 4 8-6zM2291 2209l7-6 5 4zM2291 2209l5 5 7-7zM2283 2215l8-6 5 5zM2283 2215l5 5 8-6zM2276 2222l7-7 5 5zM2276 2222l5 5 7-7zM2268 2229l8-7 5 5zM2268 2229l5 6 8-8zM2260 2236l8-7 5 6zM2260 2236l5 6 8-7zM2253 2244l5 6 7-8zM2250 2258l8-8 5 8zM2250 2258l5 8 8-8zM2242 2267l8-9 5 8zM2242 2267l5 8 8-9zM2247 2275l8-9 5 9zM2247 2275l6 9 7-9zM2240 2284l7-9 6 9zM2240 2284l5 9 8-9zM2245 2293l8-9 5 9zM2245 2293l5 10 8-10zM2237 2302l8-9 5 10zM2250 2303l5 10 8-9zM2242 2312l8-9 5 10zM2242 2312l5 10 8-9zM2247 2322l8-9 5 10zM2247 2322l5 10 8-9zM2252 2332l8-9 5 10zM2252 2332l6 10 7-9zM2245 2341l7-9 6 10 7-9 6 11-13-2zM2245 2341l5 10 8-9 5 10 8-8-13-2zM2250 2351l8-9 5 10zM2250 2351l5 9 8-8zM2242 2359l8-8 5 9zM2242 2359l5 9 8-8zM2247 2368l8-8 5 9zM2247 2368l5 9 8-8zM2239 2377l8-9 5 9zM2239 2377l5 8 8-8zM2231 2385l8-8 5 8zM2231 2385l5 8 8-8zM2236 2393l8-8 5 9z"/><path class=aC d="M2430 2029l7-7 6-5zM2423 2034l7-5 6-5zM2416 2039l7-5 6-5zM2388 2064l7-8 5 1zM2381 2072l7-8 5 2zM2381 2072l5 4 7-10zM2379 2085l7-9 5 4zM2371 2095l6 5 7-10zM2369 2110l8-10 5 6zM2369 2110l6 6 7-10zM2367 2125l8-9 5 6zM2367 2125l6 6 7-9zM2365 2140l8-9 5 6zM2365 2140l5 5 8-8zM2358 2148l7-8 5 5zM2358 2148l5 6 7-9zM2351 2156l5 5 7-7zM2348 2168l8-7 5 5zM2341 2175l7-7 6 5zM2333 2182l8-7 5 4zM2326 2188l7-6 6 4zM2319 2194l7-6 5 4zM2311 2201l8-7 5 5zM2303 2207l8-6 5 4zM2296 2214l7-7 6 5zM2288 2220l8-6 5 5zM2281 2227l7-7 5 6zM2273 2235l8-8 5 6zM2273 2235l5 6 8-8zM2265 2242l8-7 5 6zM2265 2242l6 7 7-8zM2258 2250l7-8 6 7zM2258 2250l5 8 8-9zM2263 2258l8-9 5 8zM2263 2258l5 8 8-9zM2255 2266l8-8 5 8zM2255 2266l5 9 8-9zM2260 2275l8-9 5 9zM2260 2275l5 9 8-9zM2253 2284l7-9 5 9zM2253 2284l5 9 7-9zM2258 2293l7-9 6 10zM2258 2293l5 11 8-10zM2250 2303l8-10 5 11 8-10 5 10-13 0zM2263 2304l5 10 8-10zM2255 2313l8-9 5 10zM2255 2313l5 10 8-9 5 10 8-9zM2260 2323l8-9 5 10zM2260 2323l5 10 8-9 5 11 8-9-13-2zM2265 2333l8-9 5 11zM2265 2333l6 11 7-9zM2271 2344l7-9 6 10zM2271 2344l5 9 8-8zM2263 2352l8-8 5 9zM2263 2352l5 9 8-8zM2255 2360l8-8 5 9 8-8 5 9zM2255 2360l5 9 8-8zM2260 2369l8-8 5 9zM2260 2369l5 8 8-7zM2252 2377l8-8 5 8zM2252 2377l5 8 8-8zM2244 2385l8-8 5 8zM2244 2385l5 9 8-9z"/><path class=aD d="M2409 2044l7-5 6-4zM2402 2049l7-5 5-3zM2395 2056l7-7 5-1zM2388 2064l5 2 7-9zM2379 2085l5 5 7-10zM2377 2100l7-10 5 6zM2377 2100l5 6 7-10zM2375 2116l7-10 5 6zM2375 2116l5 6 7-10zM2373 2131l7-9 5 6zM2373 2131l5 6 7-9zM2370 2145l8-8 5 6zM2363 2154l7-9 6 6zM2363 2154l5 5 8-8zM2356 2161l7-7 5 5zM2356 2161l5 5 7-7zM2348 2168l6 5 7-7zM2341 2175l5 4 8-6zM2333 2182l6 4 7-7zM2326 2188l5 4 8-6zM2319 2194l5 5 7-7zM2311 2201l5 4 8-6zM2303 2207l6 5 7-7zM2296 2214l5 5 8-7zM2288 2220l5 6 8-7zM2281 2227l5 6 7-7zM2278 2241l8-8 5 7zM2278 2241l5 8 8-9zM2271 2249l7-8 5 8zM2271 2249l5 8 7-8zM2268 2266l8-9 5 9zM2268 2266l5 9 8-9zM2273 2275l5 10 8-10zM2265 2284l8-9 5 10zM2265 2284l6 10 7-9zM2271 2294l7-9 5 10zM2271 2294l5 10 7-9zM2276 2304l7-9 6 10zM2276 2304l5 11 8-10zM2268 2314l8-10 5 11 8-10 5 11zM2281 2315l5 11 8-10zM2273 2324l8-9 5 11 8-10 5 11-13-1zM2286 2326l5 10 8-9zM2278 2335l8-9 5 10zM2278 2335l6 10 7-9zM2284 2345l7-9 6 10zM2284 2345l5 9 8-8zM2276 2353l8-8 5 9zM2276 2353l5 9 8-8zM2281 2362l8-8 5 8zM2268 2361l5 9 8-8zM2273 2370l8-8 5 8zM2273 2370l6 8 7-8zM2265 2377l8-7 6 8zM2265 2377l6 8 8-7zM2257 2385l8-8 6 8zM2257 2385l6 9 8-9zM2249 2394l8-9 6 9z"/><path class=aE d="M2437 2022l6-5 7-8zM2430 2029l6-5 7-7zM2423 2034l6-5 7-5zM2416 2039l6-4 7-6zM2409 2044l5-3 8-6zM2402 2049l5-1 7-7zM2395 2056l5 1 7-9zM2393 2066l7-9 5 3zM2386 2076l7-10 5 4zM2386 2076l5 4 7-10zM2384 2090l7-10 5 5zM2384 2090l5 6 7-11zM2382 2106l7-10 5 6zM2382 2106l5 6 7-10zM2380 2122l7-10 5 6zM2380 2122l5 6 7-10zM2378 2137l7-9 5 6zM2378 2137l5 6 7-9zM2370 2145l6 6 7-8zM2368 2159l8-8 5 5zM2361 2166l7-7 6 4zM2354 2173l7-7 5 4zM2354 2173l5 4 7-7zM2346 2179l8-6 5 4zM2346 2179l5 4 8-6zM2339 2186l7-7 5 4zM2331 2192l8-6 5 4zM2324 2199l7-7 5 4zM2316 2205l8-6 5 4zM2309 2212l7-7 5 5zM2309 2212l5 5 7-7zM2301 2219l8-7 5 5zM2301 2219l5 5 8-7zM2293 2226l8-7 5 5zM2293 2226l6 6 7-8zM2286 2233l7-7 6 6zM2286 2233l5 7 8-8zM2283 2249l8-9 5 8zM2283 2249l5 8 8-9zM2276 2257l7-8 5 8zM2276 2257l5 9 7-9zM2281 2266l7-9 6 9zM2281 2266l5 9 8-9zM2273 2275l8-9 5 9zM2286 2275l5 10 8-10zM2278 2285l8-10 5 10zM2278 2285l5 10 8-10zM2283 2295l8-10 5 11zM2283 2295l6 10 7-9zM2289 2305l7-9 6 11zM2289 2305l5 11 8-9zM2294 2316l8-9 5 10zM2294 2316l5 11 8-10zM2299 2327l8-10 5 11zM2299 2327l6 10 7-9zM2291 2336l8-9 6 10 7-9 6 10zM2291 2336l6 10 8-9 5 9 8-8zM2297 2346l8-9 5 9zM2297 2346l5 9 8-9zM2289 2354l8-8 5 9zM2289 2354l5 8 8-7zM2294 2362l8-7 5 8zM2281 2362l5 8 8-8zM2286 2370l8-8 6 8zM2286 2370l6 8 8-8zM2279 2378l7-8 6 8zM2279 2378l5 8 8-8zM2271 2385l8-7 5 8zM2271 2385l5 9 8-8zM2263 2394l8-9 5 9z"/><path class=aF d="M2400 2057l7-9 6 2zM2393 2066l5 4 7-10zM2391 2080l7-10 5 5zM2391 2080l5 5 7-10zM2389 2096l7-11 6 6zM2389 2096l5 6 8-11zM2387 2112l7-10 6 6zM2387 2112l5 6 8-10zM2385 2128l7-10 6 7zM2385 2128l5 6 8-9zM2383 2143l7-9 6 6zM2376 2151l7-8 5 5zM2376 2151l5 5 7-8zM2368 2159l6 4 7-7zM2361 2166l5 4 8-7zM2339 2186l5 4 7-7zM2331 2192l5 4 8-6zM2324 2199l5 4 7-7zM2316 2205l5 5 8-7zM2306 2224l8-7 5 6zM2299 2232l7-8 5 7zM2299 2232l5 7 7-8zM2291 2240l8-8 5 7zM2291 2240l5 8 8-9zM2296 2248l8-9 5 8zM2296 2248l5 8 8-9zM2288 2257l8-9 5 8zM2288 2257l6 9 7-10zM2294 2266l7-10 6 10zM2294 2266l5 9 8-9zM2286 2275l8-9 5 9zM2299 2275l5 11 8-10zM2291 2285l8-10 5 11zM2291 2285l5 11 8-10 5 11 8-10zM2296 2296l8-10 5 11zM2296 2296l6 11 7-10 6 11 7-10zM2302 2307l7-10 6 11zM2302 2307l5 10 8-9 5 10 8-9zM2307 2317l8-9 5 10zM2307 2317l5 11 8-10zM2312 2328l8-10 5 10zM2312 2328l6 10 7-10zM2318 2338l7-10 6 10zM2318 2338l5 9 8-9zM2310 2346l8-8 5 9zM2310 2346l5 9 8-8zM2302 2355l8-9 5 9zM2302 2355l5 8 8-8zM2307 2363l8-8 6 8zM2294 2362l6 8 7-7zM2300 2370l7-7 6 7zM2300 2370l5 8 8-8zM2292 2378l8-8 5 8zM2292 2378l5 8 8-8zM2284 2386l8-8 5 8zM2284 2386l5 8 8-8zM2276 2394l8-8 5 8z"/><path class=aG d="M2436 2024l7-7 5-5zM2429 2029l7-5 5-5zM2422 2035l7-6 5-3zM2414 2041l8-6 5-2zM2407 2048l7-7 6 0zM2400 2057l5 3 8-10zM2398 2070l7-10 6 4zM2398 2070l5 5 8-11zM2396 2085l7-10 6 5zM2396 2085l6 6 7-11zM2394 2102l8-11 5 7zM2394 2102l6 6 7-10zM2392 2118l8-10 5 7zM2392 2118l6 7 7-10zM2390 2134l8-9 5 6zM2390 2134l6 6 7-9zM2383 2143l5 5 8-8zM2381 2156l7-8 6 5zM2374 2163l7-7 5 5zM2374 2163l5 5 7-7zM2366 2170l8-7 5 5zM2366 2170l5 4 8-6zM2359 2177l7-7 5 4zM2359 2177l5 4 7-7zM2351 2183l8-6 5 4zM2351 2183l6 4 7-6zM2344 2190l7-7 6 4zM2344 2190l5 4 8-7zM2336 2196l8-6 5 4zM2336 2196l6 4 7-6zM2329 2203l7-7 6 4zM2329 2203l5 5 8-8zM2321 2210l8-7 5 5zM2321 2210l6 5 7-7zM2314 2217l7-7 6 5zM2314 2217l5 6 8-8zM2306 2224l5 7 8-8zM2311 2231l8-8 5 6zM2304 2239l7-8 6 7zM2304 2239l5 8 8-9zM2301 2256l8-9 5 9zM2301 2256l6 10 7-10zM2307 2266l7-10 5 10zM2307 2266l5 10 7-10zM2299 2275l8-9 5 10zM2312 2276l5 11 8-10zM2304 2286l8-10 5 11zM2317 2287l5 11 8-10zM2309 2297l8-10 5 11zM2322 2298l6 11 7-10zM2315 2308l7-10 6 11zM2328 2309l5 10 8-10zM2320 2318l8-9 5 10zM2320 2318l5 10 8-9zM2325 2328l8-9 6 10zM2325 2328l6 10 8-9zM2331 2338l8-9 5 9zM2331 2338l5 9 8-9zM2323 2347l8-9 5 9zM2323 2347l5 8 8-8zM2315 2355l8-8 5 8zM2315 2355l6 8 7-8zM2307 2363l6 7 8-7zM2313 2370l8-7 5 7zM2305 2378l8-8 5 8zM2305 2378l5 8 8-8zM2297 2386l8-8 5 8zM2297 2386l5 9 8-9zM2289 2394l8-8 5 9z"/><path class=aH d="M2443 2017l7-8 5-4zM2422 2035l5-2 7-7zM2414 2041l6 0 7-8zM2407 2048l6 2 7-9zM2405 2060l8-10 5 3zM2402 2091l7-11 5 7zM2402 2091l5 7 7-11zM2400 2108l7-10 5 7zM2400 2108l5 7 7-10zM2398 2125l7-10 5 7zM2398 2125l5 6 7-9zM2396 2140l7-9 5 6zM2396 2140l5 6 7-9zM2388 2148l8-8 5 6zM2388 2148l6 5 7-7zM2381 2156l5 5 8-8zM2371 2174l8-6 5 3zM2364 2181l7-7 6 4zM2342 2200l7-6 5 4zM2334 2208l8-8 5 5zM2327 2215l7-7 5 5zM2327 2215l5 6 7-8zM2319 2223l8-8 5 6zM2319 2223l5 6 8-8zM2311 2231l6 7 7-9zM2317 2238l7-9 5 8zM2317 2238l5 9 7-10zM2309 2247l8-9 5 9zM2309 2247l5 9 8-9zM2314 2256l8-9 5 9zM2314 2256l5 10 8-10zM2319 2266l8-10 5 11zM2319 2266l6 11 7-10zM2312 2276l7-10 6 11 7-10 6 11zM2325 2277l5 11 8-10zM2317 2287l8-10 5 11 8-10 5 11zM2330 2288l5 11 8-10zM2322 2298l8-10 5 11 8-10 6 11zM2335 2299l6 10 8-9zM2328 2309l7-10 6 10 8-9 5 10-13-1zM2341 2309l5 11 8-10zM2333 2319l8-10 5 11zM2333 2319l6 10 7-9zM2339 2329l7-9 6 9zM2339 2329l5 9 8-9zM2336 2347l8-9 5 8zM2336 2347l6 8 7-9zM2328 2355l8-8 6 8zM2328 2355l6 8 8-8zM2321 2363l7-8 6 8zM2321 2363l5 7 8-7zM2326 2370l8-7 5 7zM2313 2370l5 8 8-8zM2318 2378l8-8 5 8zM2318 2378l6 9 7-9zM2310 2386l8-8 6 9zM2310 2386l6 9 8-8zM2302 2395l8-9 6 9z"/><path class=aI d="M2450 2009l5-4 7-8zM2443 2017l5-5 7-7zM2436 2024l5-5 7-7zM2429 2029l5-3 7-7zM2413 2050l7-9 5 2zM2405 2060l6 4 7-11zM2403 2075l8-11 5 5zM2403 2075l6 5 7-11zM2407 2098l7-11 5 7zM2407 2098l5 7 7-11zM2405 2115l7-10 5 7zM2405 2115l5 7 7-10zM2403 2131l7-9 6 6zM2403 2131l5 6 8-9zM2401 2146l7-9 6 6zM2394 2153l7-7 5 5zM2394 2153l5 5 7-7zM2386 2161l8-8 5 5zM2386 2161l6 4 7-7zM2379 2168l7-7 6 4zM2379 2168l5 3 8-6zM2371 2174l6 4 7-7zM2364 2181l5 3 8-6zM2357 2187l7-6 5 3zM2357 2187l5 4 7-7zM2349 2194l8-7 5 4zM2349 2194l5 4 8-7zM2342 2200l5 5 7-7zM2334 2208l5 5 8-8zM2332 2221l7-8 6 6zM2324 2229l8-8 5 7zM2324 2229l5 8 8-9zM2322 2247l7-10 6 9zM2322 2247l5 9 8-10zM2327 2256l8-10 5 11zM2327 2256l5 11 8-10zM2332 2267l8-10 5 10zM2332 2267l6 11 7-11zM2338 2278l7-11 6 11zM2338 2278l5 11 8-11zM2343 2289l8-11 5 12zM2343 2289l6 11 7-10zM2349 2300l7-10 6 10zM2349 2300l5 10 8-10zM2354 2310l8-10 5 11zM2354 2310l5 10 8-9zM2346 2320l8-10 5 10zM2346 2320l6 9 7-9zM2352 2329l7-9 6 9zM2352 2329l5 9 8-9zM2344 2338l8-9 5 9zM2344 2338l5 8 8-8zM2349 2346l8-8 6 8zM2349 2346l6 8 8-8zM2342 2355l7-9 6 8zM2342 2355l5 7 8-8zM2334 2363l8-8 5 7zM2334 2363l5 7 8-8zM2326 2370l5 8 8-8zM2331 2378l8-8 6 8zM2324 2387l7-9 6 9zM2324 2387l5 8 8-8zM2316 2395l8-8 5 8z"/><path class=aJ d="M2420 2041l7-8 5 1zM2413 2050l5 3 7-10zM2411 2064l7-11 5 5zM2411 2064l5 5 7-11zM2409 2080l7-11 5 6zM2409 2080l5 7 7-12zM2412 2105l7-11 6 7zM2412 2105l5 7 8-11zM2410 2122l7-10 6 7zM2410 2122l6 6 7-9zM2408 2137l8-9 5 6zM2408 2137l6 6 7-9zM2401 2146l5 5 8-8zM2392 2165l7-7 5 4zM2384 2171l8-6 5 3zM2377 2178l7-7 6 4zM2369 2184l8-6 5 3zM2362 2191l7-7 6 4zM2354 2198l8-7 5 4zM2347 2205l7-7 6 5zM2339 2213l8-8 5 6zM2339 2213l6 6 7-8zM2332 2221l5 7 8-9zM2337 2228l8-9 5 8zM2337 2228l5 9 8-10zM2329 2237l8-9 5 9zM2329 2237l6 9 7-9zM2335 2246l7-9 6 9zM2335 2246l5 11 8-11zM2340 2257l8-11 5 11zM2340 2257l5 10 8-10zM2345 2267l8-10 5 11zM2345 2267l6 11 7-10zM2351 2278l7-10 6 11zM2351 2278l5 12 8-11zM2356 2290l8-11 5 11zM2356 2290l6 10 7-10zM2362 2300l7-10 6 11zM2362 2300l5 11 8-10zM2367 2311l8-10 5 10zM2367 2311l6 9 7-9zM2359 2320l8-9 6 9zM2359 2320l6 9 8-9zM2365 2329l8-9 5 9zM2365 2329l5 9 8-9zM2357 2338l8-9 5 9zM2357 2338l6 8 7-8zM2355 2354l8-8 5 8zM2355 2354l5 8 8-8zM2347 2362l8-8 5 8zM2347 2362l6 8 7-8zM2339 2370l8-8 6 8zM2339 2370l6 8 8-8zM2331 2378l6 9 8-9zM2337 2387l8-9 5 9zM2337 2387l5 9 8-9zM2329 2395l8-8 5 9z"/><path class=aK d="M2441 2019l7-7 5-4zM2434 2026l7-7 5-3zM2427 2033l7-7 5-1zM2427 2033l5 1 7-9zM2420 2041l5 2 7-9zM2418 2053l7-10 5 4zM2418 2053l5 5 7-11zM2416 2069l7-11 5 5zM2416 2069l5 6 7-12zM2414 2087l7-12 6 7zM2414 2087l5 7 8-12zM2419 2094l6 7 7-11zM2417 2112l8-11 5 7zM2417 2112l6 7 7-11zM2416 2128l7-9 5 6zM2416 2128l5 6 7-9zM2414 2143l7-9 5 6zM2406 2151l8-8 5 4zM2406 2151l6 4 7-8zM2399 2158l7-7 6 4zM2399 2158l5 4 8-7zM2392 2165l5 3 7-6zM2384 2171l6 4 7-7zM2377 2178l5 3 8-6zM2369 2184l6 4 7-7zM2362 2191l5 4 8-7zM2354 2198l6 5 7-8zM2347 2205l5 6 8-8zM2345 2219l7-8 5 7zM2345 2219l5 8 7-9zM2342 2237l8-10 5 9zM2342 2237l6 9 7-10zM2348 2246l7-10 6 10zM2348 2246l5 11 8-11zM2353 2257l8-11 5 11zM2353 2257l5 11 8-11zM2358 2268l8-11 5 12zM2358 2268l6 11 7-10zM2364 2279l7-10 6 11zM2364 2279l5 11 8-10zM2369 2290l8-10 5 11zM2369 2290l6 11 7-10zM2375 2301l7-10 6 10zM2375 2301l5 10 8-10zM2380 2311l8-10 6 9zM2380 2311l6 9 8-10zM2373 2320l7-9 6 9zM2373 2320l5 9 8-9zM2378 2329l8-9 5 8zM2370 2338l8-9 6 8zM2370 2338l6 7 8-8zM2363 2346l7-8 6 7zM2363 2346l5 8 8-9zM2368 2354l8-9 6 8zM2360 2362l8-8 6 8zM2360 2362l6 8 8-8zM2353 2370l7-8 6 8zM2353 2370l5 8 8-8zM2345 2378l8-8 5 8zM2345 2378l5 9 8-9zM2350 2387l8-9 6 8zM2342 2396l8-9 6 8z"/><path class=aL d="M2455 2005l7-8 5-5zM2448 2012l7-7 5-5zM2441 2019l5-3 7-8zM2434 2026l5-1 7-9zM2425 2043l7-9 5 2zM2421 2075l7-12 6 7zM2421 2075l6 7 7-12zM2419 2094l8-12 5 8zM2425 2101l7-11 5 7zM2425 2101l5 7 7-11zM2423 2119l7-11 6 7zM2423 2119l5 6 8-10zM2421 2134l7-9 6 6zM2421 2134l5 6 8-9zM2414 2143l5 4 7-7zM2404 2162l8-7 5 3zM2397 2168l7-6 6 3zM2390 2175l7-7 5 3zM2382 2181l8-6 5 3zM2375 2188l7-7 5 3zM2367 2195l8-7 5 4zM2360 2203l7-8 6 5zM2360 2203l5 6 8-9zM2352 2211l8-8 5 6zM2352 2211l5 7 8-9zM2350 2227l7-9 6 8zM2350 2227l5 9 8-10zM2355 2236l8-10 5 10zM2355 2236l6 10 7-10zM2361 2246l7-10 6 10zM2361 2246l5 11 8-11zM2366 2257l8-11 5 12zM2366 2257l5 12 8-11zM2371 2269l8-11 6 11zM2371 2269l6 11 8-11zM2377 2280l8-11 5 12zM2377 2280l5 11 8-10zM2382 2291l8-10 6 10zM2382 2291l6 10 8-10zM2388 2301l8-10 5 10zM2388 2301l6 9 7-9zM2386 2320l8-10 5 9zM2386 2320l5 8 8-9zM2378 2329l6 8 7-9zM2384 2337l7-9 6 8zM2384 2337l5 8 8-9zM2376 2345l8-8 5 8zM2376 2345l6 8 7-8zM2368 2354l6 8 8-9zM2374 2362l8-9 5 8zM2366 2370l8-8 5 7zM2366 2370l6 8 7-9zM2358 2378l8-8 6 8zM2358 2378l6 8 8-8zM2350 2387l6 8 8-9zM2356 2395l8-9 5 9z"/><path class=aM d="M2455 2005l5-5 7-8zM2448 2012l5-4 7-8zM2432 2034l7-9 6 1zM2425 2043l5 4 7-11zM2423 2058l7-11 6 5zM2423 2058l5 5 8-11zM2427 2082l7-12 5 8zM2427 2082l5 8 7-12zM2430 2108l7-11 6 8zM2430 2108l6 7 7-10zM2428 2125l8-10 5 7zM2428 2125l6 6 7-9zM2426 2140l8-9 5 5zM2419 2147l7-7 6 4zM2419 2147l6 4 7-7zM2412 2155l7-8 6 4zM2412 2155l5 3 8-7zM2404 2162l6 3 7-7zM2397 2168l5 3 8-6zM2390 2175l5 3 7-7zM2382 2181l5 3 8-6zM2375 2188l5 4 7-8zM2367 2195l6 5 7-8zM2365 2209l8-9 5 6zM2365 2209l5 7 8-10zM2357 2218l8-9 5 7zM2357 2218l6 8 7-10zM2363 2226l7-10 6 9zM2363 2226l5 10 8-11zM2368 2236l8-11 5 10zM2368 2236l6 10 7-11zM2374 2246l7-11 6 12zM2374 2246l5 12 8-11zM2379 2258l8-11 5 12zM2379 2258l6 11 7-10zM2385 2269l7-10 6 11zM2385 2269l5 12 8-11zM2390 2281l8-11 5 11zM2390 2281l6 10 7-10zM2396 2291l7-10 6 10zM2396 2291l5 10 8-10zM2401 2301l8-10 5 9zM2401 2301l6 9 7-10zM2394 2310l7-9 6 9zM2394 2310l5 9 8-9zM2399 2319l8-9 5 8zM2399 2319l6 8 7-9zM2391 2328l8-9 6 8zM2391 2328l6 8 8-9zM2389 2345l8-9 6 8zM2389 2345l6 7 8-8zM2382 2353l7-8 6 7zM2382 2353l5 8 8-9zM2374 2362l5 7 8-8zM2379 2369l8-8 6 8zM2372 2378l7-9 6 8zM2372 2378l5 8 8-9zM2364 2386l8-8 5 8zM2364 2386l5 9 8-9zM2369 2395l8-9 6 9z"/><path class=aN d="M2462 1997l5-5 7-9zM2439 2025l7-9 6 0zM2432 2034l5 2 8-10zM2430 2047l7-11 6 4zM2430 2047l6 5 7-12zM2428 2063l8-11 5 6zM2428 2063l6 7 7-12zM2432 2090l7-12 6 8zM2432 2090l5 7 8-11zM2437 2097l8-11 5 8zM2437 2097l6 8 7-11zM2436 2115l7-10 5 7zM2436 2115l5 7 7-10zM2434 2131l7-9 5 5zM2434 2131l5 5 7-9zM2426 2140l6 4 7-8zM2417 2158l8-7 5 3zM2410 2165l7-7 6 3zM2402 2171l8-6 5 2zM2395 2178l7-7 6 3zM2387 2184l8-6 5 3zM2380 2192l7-8 6 5zM2373 2200l7-8 5 5zM2373 2200l5 6 7-9zM2370 2216l8-10 5 8zM2370 2216l6 9 7-11zM2376 2225l5 10 8-11zM2381 2235l6 12 7-12zM2387 2247l7-12 6 12zM2387 2247l5 12 8-12zM2392 2259l8-12 5 12zM2392 2259l6 11 7-11zM2398 2270l7-11 6 12zM2398 2270l5 11 8-10zM2403 2281l8-10 5 10zM2403 2281l6 10 7-10zM2409 2291l7-10 6 10zM2409 2291l5 9 8-9zM2407 2310l7-10 6 9zM2407 2310l5 8 8-9zM2405 2327l7-9 6 8zM2405 2327l5 8 8-9zM2397 2336l8-9 5 8zM2397 2336l6 8 7-9zM2395 2352l8-8 5 8zM2395 2352l6 8 7-8zM2387 2361l8-9 6 8zM2387 2361l6 8 8-9zM2379 2369l6 8 8-8zM2385 2377l8-8 5 8zM2385 2377l6 9 7-9zM2377 2386l8-9 6 9zM2377 2386l6 9 8-9z"/><path class=aO d="M2446 2016l7-8 6-2zM2439 2025l6 1 7-10zM2437 2036l8-10 5 3zM2436 2052l5 6 7-12zM2434 2070l7-12 5 7zM2434 2070l5 8 7-13zM2439 2078l7-13 6 8zM2439 2078l6 8 7-13zM2443 2105l7-11 6 7zM2443 2105l5 7 8-11zM2441 2122l7-10 6 6zM2441 2122l5 5 8-9zM2439 2136l7-9 6 5zM2432 2144l7-8 6 4zM2432 2144l5 3 8-7zM2425 2151l7-7 5 3zM2425 2151l5 3 7-7zM2417 2158l6 3 7-7zM2410 2165l5 2 8-6zM2402 2171l6 3 7-7zM2395 2178l5 3 8-7zM2387 2184l6 5 7-8zM2380 2192l5 5 8-8zM2378 2206l7-9 6 7zM2378 2206l5 8 8-10zM2383 2214l6 10 7-11zM2376 2225l7-11 6 10zM2389 2224l5 11 8-11zM2381 2235l8-11 5 11zM2394 2235l6 12 7-11zM2400 2247l7-11 6 12zM2400 2247l5 12 8-11zM2405 2259l8-11 5 12zM2405 2259l6 12 7-11zM2411 2271l7-11 6 11zM2411 2271l5 10 8-10zM2416 2281l8-10 6 10zM2416 2281l6 10 8-10zM2422 2291l8-10 5 9zM2422 2291l6 8 7-9zM2414 2300l8-9 6 8zM2414 2300l6 9 8-10zM2420 2309l8-10 5 8zM2420 2309l6 8 7-10zM2412 2318l8-9 6 8zM2412 2318l6 8 8-9zM2410 2335l8-9 6 8zM2410 2335l6 8 8-9zM2403 2344l7-9 6 8zM2403 2344l5 8 8-9zM2408 2352l8-9 6 7zM2401 2360l7-8 6 7zM2401 2360l5 8 8-9zM2393 2369l8-9 5 8zM2393 2369l5 8 8-9zM2391 2386l7-9 6 8zM2391 2386l5 9 8-10zM2383 2395l8-9 5 9z"/><path class=aP d="M2460 2000l7-8 6-5zM2453 2008l7-8 6-3zM2446 2016l6 0 7-10zM2437 2036l6 4 7-11zM2436 2052l7-12 5 6zM2441 2058l5 7 8-12zM2445 2086l7-13 5 8zM2445 2086l5 8 7-13zM2450 2094l6 7 7-12zM2448 2112l8-11 5 7zM2448 2112l6 6 7-10zM2446 2127l8-9 5 5zM2446 2127l6 5 7-9zM2439 2136l6 4 7-8zM2393 2189l7-8 6 4zM2385 2197l8-8 5 5zM2385 2197l6 7 7-10zM2383 2214l8-10 5 9zM2389 2224l7-11 6 11zM2394 2235l8-11 5 12zM2407 2236l6 12 7-12zM2413 2248l7-12 6 12zM2413 2248l5 12 8-12zM2418 2260l8-12 6 12zM2418 2260l6 11 8-11zM2424 2271l8-11 5 10zM2424 2271l6 10 7-11zM2430 2281l7-11 6 10zM2430 2281l5 9 8-10zM2428 2299l7-9 6 8zM2428 2299l5 8 8-9zM2426 2317l7-10 6 8zM2426 2317l5 8 8-10zM2418 2326l8-9 5 8zM2418 2326l6 8 7-9zM2416 2343l8-9 5 7zM2416 2343l6 7 7-9zM2408 2352l6 7 8-9zM2414 2359l8-9 6 8zM2406 2368l8-9 6 8zM2406 2368l6 8 8-9zM2398 2377l8-9 6 8zM2398 2377l6 8 8-9zM2404 2385l8-9 6 9zM2404 2385l6 10 8-10zM2396 2395l8-10 6 10z"/><path class=aQ d="M2467 1992l7-9 6-5zM2460 2000l6-3 7-10zM2453 2008l6-2 7-9zM2445 2026l7-10 5 2zM2445 2026l5 3 7-11zM2443 2040l7-11 5 5zM2443 2040l5 6 7-12zM2441 2058l7-12 6 7zM2446 2065l8-12 5 7zM2446 2065l6 8 7-13zM2452 2073l5 8 8-12zM2450 2094l7-13 6 8zM2456 2101l7-12 5 8zM2456 2101l5 7 7-11zM2454 2118l7-10 6 6zM2454 2118l5 5 8-9zM2445 2140l7-8 6 3zM2437 2147l8-7 5 3zM2437 2147l6 3 7-7zM2430 2154l7-7 6 3zM2430 2154l6 3 7-7zM2423 2161l7-7 6 3zM2423 2161l5 2 8-6zM2415 2167l8-6 5 2zM2415 2167l6 2 7-6zM2408 2174l7-7 6 2zM2408 2174l5 3 8-8zM2400 2181l8-7 5 3zM2400 2181l6 4 7-8zM2393 2189l5 5 8-9zM2391 2204l7-10 6 8zM2391 2204l5 9 8-11zM2396 2213l8-11 5 10zM2396 2213l6 11 7-12zM2402 2224l7-12 6 12zM2402 2224l5 12 8-12zM2407 2236l8-12 5 12zM2420 2236l6 12 8-11zM2426 2248l8-11 5 12zM2426 2248l6 12 7-11zM2432 2260l7-11 6 11zM2432 2260l5 10 8-10zM2437 2270l8-10 5 9zM2437 2270l6 10 7-11zM2435 2290l8-10 6 8zM2435 2290l6 8 8-10zM2433 2307l8-9 6 8zM2433 2307l6 8 8-9zM2431 2325l8-10 6 8zM2431 2325l6 7 8-9zM2424 2334l7-9 6 7zM2424 2334l5 7 8-9zM2422 2350l7-9 6 8zM2422 2350l6 8 7-9zM2414 2359l6 8 8-9zM2420 2367l8-9 5 8zM2412 2376l8-9 6 8zM2412 2376l6 9 8-10zM2410 2395l8-10 5 9z"/><path class=aR d="M2467 1992l6-5 7-9zM2452 2016l7-10 5 1zM2452 2016l5 2 7-11zM2448 2046l7-12 6 6zM2448 2046l6 7 7-13zM2452 2073l7-13 6 9zM2457 2081l8-12 5 8zM2457 2081l6 8 7-12zM2463 2089l5 8 8-12zM2461 2108l7-11 6 6zM2461 2108l6 6 7-11zM2459 2123l8-9 5 4zM2452 2132l7-9 6 4zM2452 2132l6 3 7-8zM2445 2140l5 3 8-8zM2406 2185l7-8 6 4zM2398 2194l8-9 5 6zM2398 2194l6 8 7-11zM2404 2202l7-11 6 9zM2404 2202l5 10 8-12zM2409 2212l6 12 7-13zM2415 2224l7-13 6 13zM2415 2224l5 12 8-12zM2420 2236l8-12 6 13zM2434 2237l5 12 8-12zM2439 2249l8-12 5 11zM2439 2249l6 11 7-12zM2445 2260l7-12 6 10zM2445 2260l5 9 8-11zM2443 2280l7-11 6 9zM2443 2280l6 8 7-10zM2449 2288l7-10 6 8zM2449 2288l5 8 8-10zM2441 2298l8-10 5 8zM2441 2298l6 8 7-10zM2439 2315l8-9 6 7zM2439 2315l6 8 8-10zM2437 2332l8-9 6 7zM2437 2332l6 8 8-10zM2429 2341l8-9 6 8zM2429 2341l6 8 8-9zM2435 2349l8-9 6 8zM2428 2358l7-9 6 8zM2428 2358l5 8 8-9zM2420 2367l6 8 7-9zM2426 2375l7-9 6 8zM2426 2375l5 9 8-10zM2418 2385l8-10 5 9zM2418 2385l5 9 8-10zM2423 2394l8-10 6 9z"/><path class=aS d="M2474 1983l6-5 7-10zM2459 2006l7-9 5-1zM2459 2006l5 1 7-11zM2450 2029l7-11 6 4zM2450 2029l5 5 8-12zM2454 2053l7-13 5 7zM2454 2053l5 7 7-13zM2459 2060l6 9 7-13zM2463 2089l7-12 6 8zM2468 2097l6 6 7-11zM2467 2114l7-11 5 5zM2459 2123l6 4 7-9zM2450 2143l8-8 5 3zM2443 2150l7-7 6 2zM2436 2157l7-7 5 2zM2428 2163l8-6 5 1zM2421 2169l7-6 6 2zM2413 2177l8-8 5 3zM2413 2177l6 4 7-9zM2406 2185l5 6 8-10zM2411 2191l6 9 7-11zM2409 2212l8-12 5 11zM2422 2211l6 13 7-13zM2428 2224l7-13 6 13zM2428 2224l6 13 7-13zM2434 2237l7-13 6 13zM2447 2237l5 11 8-11zM2452 2248l6 10 8-11zM2450 2269l8-11 6 9zM2450 2269l6 9 8-11zM2456 2278l8-11 6 8zM2456 2278l6 8 8-11zM2454 2296l8-10 6 7zM2454 2296l6 7 8-10zM2447 2306l7-10 6 7zM2447 2306l6 7 7-10zM2445 2323l8-10 5 7zM2445 2323l6 7 7-10zM2443 2340l8-10 5 8zM2443 2340l6 8 7-10zM2435 2349l6 8 8-9zM2441 2357l8-9 6 7zM2433 2366l8-9 6 8zM2433 2366l6 8 8-9zM2431 2384l8-10 6 9zM2431 2384l6 9 8-10z"/><path class=aT d="M2466 1997l7-10 5-2zM2457 2018l7-11 6 3zM2457 2018l6 4 7-12zM2455 2034l8-12 5 5zM2455 2034l6 6 7-13zM2459 2060l7-13 6 9zM2465 2069l7-13 5 8zM2465 2069l5 8 7-13zM2470 2077l6 8 7-13zM2468 2097l8-12 5 7zM2467 2114l5 4 7-10zM2465 2127l7-9 6 2zM2458 2135l7-8 5 2zM2458 2135l5 3 7-9zM2450 2143l6 2 7-7zM2443 2150l5 2 8-7zM2436 2157l5 1 7-6zM2428 2163l6 2 7-7zM2421 2169l5 3 8-7zM2419 2181l7-9 6 6zM2411 2191l8-10 5 8zM2417 2200l7-11 6 10zM2417 2200l5 11 8-12zM2422 2211l8-12 5 12zM2435 2211l6 13 8-13zM2441 2224l8-13 5 14zM2441 2224l6 13 7-12zM2447 2237l7-12 6 12zM2460 2237l6 10 7-11zM2452 2248l8-11 6 10zM2458 2258l8-11 5 10zM2458 2258l6 9 7-10zM2464 2267l7-10 6 8zM2464 2267l6 8 7-10zM2462 2286l8-11 5 8zM2462 2286l6 7 7-10zM2460 2303l8-10 6 7zM2460 2303l6 7 8-10zM2453 2313l7-10 6 7zM2453 2313l5 7 8-10zM2451 2330l7-10 6 8zM2451 2330l5 8 8-10zM2449 2348l7-10 6 8zM2449 2348l6 7 7-9zM2441 2357l6 8 8-10zM2447 2365l8-10 5 8zM2447 2365l6 8 7-10zM2439 2374l8-9 6 8zM2439 2374l6 9 8-10zM2445 2383l6 10 8-11zM2437 2393l8-10 6 10z"/><path class=aU d="M2473 1987l7-9 5-4zM2466 1997l5-1 7-11zM2464 2007l7-11 6 2zM2461 2040l7-13 5 7zM2461 2040l5 7 7-13zM2466 2047l6 9 7-14zM2470 2077l7-13 6 8zM2476 2085l7-13 5 8zM2476 2085l5 7 7-12zM2474 2103l7-11 6 6zM2474 2103l5 5 8-10zM2472 2118l7-10 6 3zM2472 2118l6 2 7-9zM2465 2127l5 2 8-9zM2456 2145l7-7 6 2zM2448 2152l8-7 5 2zM2441 2158l7-6 6 1zM2434 2165l7-7 6 2zM2426 2172l8-7 5 3zM2426 2172l6 6 7-10zM2419 2181l5 8 8-11zM2424 2189l8-11 5 9zM2424 2189l6 10 7-12zM2430 2199l7-12 6 11zM2430 2199l5 12 8-13zM2435 2211l8-13 6 13zM2449 2211l5 14 8-14zM2454 2225l8-14 5 14zM2454 2225l6 12 7-12zM2460 2237l7-12 6 11zM2466 2247l7-11 6 9zM2466 2247l5 10 8-12zM2471 2257l8-12 6 9zM2471 2257l6 8 8-11zM2470 2275l7-10 6 7zM2470 2275l5 8 8-11zM2468 2293l7-10 6 7zM2468 2293l6 7 7-10zM2466 2310l8-10 5 7zM2458 2320l8-10 6 8zM2458 2320l6 8 8-10zM2456 2338l8-10 6 7zM2456 2338l6 8 8-11zM2455 2355l7-9 6 7zM2455 2355l5 8 8-10zM2453 2373l7-10 6 8zM2453 2373l6 9 7-11zM2445 2383l8-10 6 9zM2451 2393l8-11 6 11z"/><path class=aV d="M2473 1987l5-2 7-11zM2464 2007l6 3 7-12zM2463 2022l7-12 5 4zM2463 2022l5 5 7-13zM2466 2047l7-13 6 8zM2472 2056l7-14 5 9zM2472 2056l5 8 7-13zM2477 2064l7-13 6 8zM2477 2064l6 8 7-13zM2481 2092l7-12 6 6zM2481 2092l6 6 7-12zM2479 2108l8-10 5 3zM2479 2108l6 3 7-10zM2470 2129l8-9 5 3zM2463 2138l7-9 6 3zM2463 2138l6 2 7-8zM2456 2145l5 2 8-7zM2448 2152l6 1 7-6zM2441 2158l6 2 7-7zM2434 2165l5 3 8-8zM2432 2178l7-10 6 7zM2432 2178l5 9 8-12zM2437 2187l6 11 7-13zM2443 2198l6 13 7-13zM2449 2211l7-13 6 13zM2462 2211l5 14 8-14zM2467 2225l6 11 8-13zM2473 2236l8-13 5 10zM2473 2236l6 9 7-12zM2479 2245l6 9 7-12zM2477 2265l8-11 5 8zM2477 2265l6 7 7-10zM2475 2283l8-11 6 7zM2475 2283l6 7 8-11zM2474 2300l7-10 6 7zM2474 2300l5 7 8-10zM2466 2310l6 8 7-11zM2464 2328l8-10 6 7zM2464 2328l6 7 8-10zM2462 2346l8-11 6 8zM2462 2346l6 7 8-10zM2460 2363l8-10 6 8zM2460 2363l6 8 8-10zM2459 2382l7-11 6 10zM2459 2382l6 11 7-12zM2465 2393l7-12 6 12z"/><path class=aW d="M2480 1978l7-10 6-6zM2480 1978l5-4 8-12zM2471 1996l7-11 6 1zM2471 1996l6 2 7-12zM2470 2010l7-12 5 4zM2470 2010l5 4 7-12zM2468 2027l7-13 6 7zM2468 2027l5 7 8-13zM2473 2034l6 8 7-14zM2483 2072l7-13 6 8zM2483 2072l5 8 8-13zM2488 2080l6 6 7-13zM2487 2098l7-12 6 5zM2487 2098l5 3 8-10zM2478 2120l7-9 6 2zM2470 2129l6 3 7-9zM2439 2168l8-8 5 5zM2439 2168l6 7 7-10zM2437 2187l8-12 5 10zM2443 2198l7-13 6 13zM2456 2198l6 13 7-13zM2462 2211l7-13 6 13zM2467 2225l8-14 6 12zM2479 2245l7-12 6 9zM2485 2254l7-12 6 8zM2485 2254l5 8 8-12zM2483 2272l7-10 6 6zM2483 2272l6 7 7-11zM2481 2290l8-11 6 7zM2481 2290l6 7 8-11zM2479 2307l8-10 6 7zM2472 2318l7-11 6 7zM2472 2318l6 7 7-11zM2470 2335l8-10 6 8zM2470 2335l6 8 8-10zM2468 2353l8-10 6 7zM2468 2353l6 8 8-11zM2466 2371l8-10 6 8zM2466 2371l6 10 8-12zM2472 2381l8-12 6 11zM2472 2381l6 12 8-13zM2478 2393l8-13 6 13z"/><path class=aX d="M2473 2034l8-13 5 7zM2479 2042l7-14 6 9zM2479 2042l5 9 8-14zM2484 2051l6 8 7-14zM2488 2080l8-13 5 6zM2485 2111l7-10 6 3zM2485 2111l6 2 7-9zM2478 2120l5 3 8-10zM2469 2140l7-8 6 1zM2461 2147l8-7 5 1zM2454 2153l7-6 6 1zM2454 2153l6 3 7-8zM2447 2160l7-7 6 3zM2447 2160l5 5 8-9zM2445 2175l7-10 6 8zM2445 2175l5 10 8-12zM2450 2185l8-12 6 12zM2450 2185l6 13 8-13zM2456 2198l8-13 5 13zM2469 2198l6 13 7-14zM2475 2211l7-14 6 13zM2475 2211l6 12 7-13zM2481 2223l7-13 6 10zM2481 2223l5 10 8-13zM2486 2233l8-13 6 10zM2486 2233l6 9 8-12zM2490 2262l8-12 6 7zM2490 2262l6 6 8-11zM2489 2279l7-11 6 7zM2489 2279l6 7 7-11zM2487 2297l8-11 6 7zM2487 2297l6 7 8-11zM2479 2307l6 7 8-10zM2478 2325l7-11 6 8zM2478 2325l6 8 7-11zM2476 2343l8-10 6 7zM2476 2343l6 7 8-10zM2474 2361l8-11 6 8zM2474 2361l6 8 8-11zM2480 2369l6 11 8-13zM2486 2380l6 13 8-14zM2492 2393l8-14 6 14z"/><path class=aY d="M2487 1968l6-6 7-12zM2478 1985l7-11 6-1zM2478 1985l6 1 7-13zM2477 1998l7-12 5 3zM2477 1998l5 4 7-13zM2475 2014l7-12 6 6zM2475 2014l6 7 7-13zM2481 2021l5 7 7-13zM2484 2051l8-14 5 8zM2490 2059l7-14 6 8zM2490 2059l6 8 7-14zM2496 2067l5 6 7-13zM2494 2086l7-13 6 6zM2494 2086l6 5 7-12zM2492 2101l8-10 5 2zM2492 2101l6 3 7-11zM2483 2123l8-10 5 2zM2476 2132l7-9 6 1zM2476 2132l6 1 7-9zM2469 2140l5 1 8-8zM2461 2147l6 1 7-7zM2452 2165l8-9 5 6zM2452 2165l6 8 7-11zM2458 2173l6 12 7-13zM2464 2185l5 13 8-14zM2469 2198l8-14 5 13zM2488 2210l6 10 7-13zM2494 2220l6 10 7-13zM2492 2242l8-12 6 9zM2492 2242l6 8 8-11zM2498 2250l6 7 7-11zM2496 2268l8-11 6 7zM2496 2268l6 7 8-11zM2495 2286l7-11 6 7zM2485 2314l8-10 6 7zM2485 2314l6 8 8-11zM2484 2333l7-11 6 7zM2484 2333l6 7 7-11zM2482 2350l8-10 6 7zM2482 2350l6 8 8-11zM2480 2369l8-11 6 9zM2486 2380l8-13 6 12z"/><path class=aZ d="M2485 1974l8-12 5-2zM2482 2002l6 6 7-14zM2481 2021l7-13 5 7zM2486 2028l7-13 6 8zM2486 2028l6 9 7-14zM2492 2037l5 8 7-14zM2496 2067l7-14 5 7zM2501 2073l6 6 7-13zM2500 2091l7-12 6 4zM2491 2113l7-9 6 1zM2483 2123l6 1 7-9zM2467 2148l7-7 6 2zM2460 2156l7-8 6 4zM2460 2156l5 6 8-10zM2458 2173l7-11 6 10zM2464 2185l7-13 6 12zM2477 2184l5 13 8-14zM2482 2197l8-14 6 12zM2482 2197l6 13 8-15zM2488 2210l8-15 5 12zM2494 2220l7-13 6 10zM2500 2230l7-13 6 9zM2500 2230l6 9 7-13zM2498 2250l8-11 5 7zM2495 2286l6 7 7-11zM2493 2304l8-11 6 7zM2493 2304l6 7 8-11zM2491 2322l8-11 6 7zM2491 2322l6 7 8-11zM2490 2340l7-11 6 7zM2490 2340l6 7 7-11zM2488 2358l8-11 6 8zM2488 2358l6 9 8-12zM2494 2367l8-12 6 10zM2494 2367l6 12 8-14zM2500 2379l8-14 6 13zM2500 2379l6 14 8-15zM2506 2393l8-15 6 16z"/><path class=ba d="M2485 1974l6-1 7-13zM2484 1986l7-13 5 3zM2484 1986l5 3 7-13zM2482 2002l7-13 6 5zM2488 2008l5 7 7-14zM2492 2037l7-14 5 8zM2497 2045l7-14 6 9zM2497 2045l6 8 7-13zM2503 2053l5 7 8-13zM2501 2073l7-13 6 6zM2500 2091l5 2 8-10zM2498 2104l7-11 6 2zM2491 2113l5 2 8-10zM2482 2133l7-9 6 1zM2474 2141l8-8 6 1zM2474 2141l6 2 8-9zM2467 2148l6 4 7-9zM2465 2162l8-10 5 8zM2465 2162l6 10 7-12zM2471 2172l7-12 6 10zM2471 2172l6 12 7-14zM2477 2184l7-14 6 13zM2496 2195l5 12 8-14zM2501 2207l6 10 8-13zM2506 2239l7-13 6 8zM2506 2239l5 7 8-12zM2504 2257l7-11 6 7zM2504 2257l6 7 7-11zM2502 2275l8-11 6 7zM2502 2275l6 7 8-11zM2501 2293l7-11 6 7zM2501 2293l6 7 7-11zM2499 2311l8-11 6 7zM2499 2311l6 7 8-11zM2497 2329l8-11 6 6zM2497 2329l6 7 8-12zM2496 2347l7-11 6 7zM2496 2347l6 8 7-12zM2514 2378l6 16 8-17zM2520 2394l8-17 6 17z"/><path class=bb d="M2493 1962l7-12 5-3zM2489 1989l6 5 7-13zM2488 2008l7-14 5 7zM2493 2015l7-14 6 8zM2493 2015l6 8 7-14zM2499 2023l5 8 8-13zM2503 2053l7-13 6 7zM2508 2060l6 6 7-13zM2507 2079l7-13 6 5zM2507 2079l6 4 7-12zM2505 2093l8-10 5 2zM2498 2104l6 1 7-10zM2489 2124l7-9 6 1zM2489 2124l6 1 7-9zM2482 2133l6 1 7-9zM2473 2152l7-9 6 6zM2473 2152l5 8 8-11zM2478 2160l6 10 8-13zM2484 2170l6 13 7-15zM2490 2183l6 12 7-14zM2496 2195l7-14 6 12zM2501 2207l8-14 6 11zM2507 2217l8-13 6 9zM2507 2217l6 9 8-13zM2513 2226l8-13 5 9zM2513 2226l6 8 7-12zM2511 2246l8-12 6 7zM2511 2246l6 7 8-12zM2510 2264l7-11 6 6zM2510 2264l6 7 7-12zM2508 2282l8-11 6 6zM2508 2282l6 7 8-12zM2507 2300l7-11 6 6zM2507 2300l6 7 7-12zM2505 2318l8-11 6 6zM2505 2318l6 6 8-11zM2503 2336l8-12 6 7zM2503 2336l6 7 8-12zM2502 2355l7-12 6 9zM2502 2355l6 10 7-13zM2508 2365l7-13 6 11zM2508 2365l6 13 7-15zM2514 2378l7-15 7 14zM2528 2377l6 17 7-18zM2534 2394l7-18 7 17z"/><path class=bc d="M2493 1962l5-2 7-13zM2491 1973l7-13 6 2zM2491 1973l5 3 8-14zM2489 1989l7-13 6 5zM2495 1994l5 7 8-13zM2499 2023l7-14 6 9zM2504 2031l8-13 5 8zM2504 2031l6 9 7-14zM2510 2040l6 7 7-14zM2508 2060l8-13 5 6zM2505 2093l6 2 7-10zM2496 2115l8-10 6 2zM2496 2115l6 1 8-9zM2488 2134l7-9 6 3zM2480 2143l8-9 5 4zM2480 2143l6 6 7-11zM2478 2160l8-11 6 8zM2484 2170l8-13 5 11zM2490 2183l7-15 6 13zM2503 2181l6 12 7-15zM2509 2193l6 11 7-14zM2515 2204l6 9 7-13zM2519 2234l7-12 6 7zM2519 2234l6 7 7-12zM2517 2253l8-12 6 7zM2517 2253l6 6 8-11zM2516 2271l7-12 6 7zM2516 2271l6 6 7-11zM2514 2289l8-12 6 7zM2514 2289l6 6 8-11zM2513 2307l7-12 6 7zM2513 2307l6 6 7-11zM2511 2324l8-11 6 6zM2511 2324l6 7 8-12zM2509 2343l8-12 6 7zM2509 2343l6 9 8-14zM2515 2352l6 11 8-15zM2521 2363l7 14 7-17z"/><path class=bd d="M2495 1994l7-13 6 7zM2500 2001l8-13 5 7zM2500 2001l6 8 7-14zM2506 2009l6 9 7-14zM2510 2040l7-14 6 7zM2516 2047l5 6 8-13zM2514 2066l7-13 6 6zM2514 2066l6 5 7-12zM2513 2083l7-12 6 3zM2513 2083l5 2 8-11zM2504 2105l7-10 6 2zM2504 2105l6 2 7-10zM2495 2125l7-9 6 2zM2488 2134l5 4 8-10zM2486 2149l7-11 6 7zM2486 2149l6 8 7-12zM2492 2157l5 11 8-13zM2497 2168l6 13 8-15zM2503 2181l8-15 5 12zM2509 2193l7-15 6 12zM2515 2204l7-14 6 10zM2521 2213l7-13 6 9zM2521 2213l5 9 8-13zM2526 2222l6 7 8-12zM2525 2241l7-12 6 7zM2525 2241l6 7 7-12zM2523 2259l8-11 6 6zM2523 2259l6 7 8-12zM2522 2277l7-11 6 7zM2522 2277l6 7 7-11zM2520 2295l8-11 6 7zM2520 2295l6 7 8-11zM2519 2313l7-11 6 6zM2519 2313l6 6 7-11zM2517 2331l8-12 6 7zM2517 2331l6 7 8-12zM2515 2352l8-14 6 10zM2521 2363l8-15 6 12zM2528 2377l7-17 6 16zM2541 2376l7 17 7-19z"/><path class=be d="M2500 1950l5-3 7-13zM2498 1960l7-13 6 0zM2498 1960l6 2 7-15zM2496 1976l8-14 5 4zM2496 1976l6 5 7-15zM2506 2009l7-14 6 9zM2512 2018l7-14 5 8zM2512 2018l5 8 7-14zM2517 2026l6 7 7-13zM2516 2047l7-14 6 7zM2521 2053l6 6 7-13zM2520 2071l7-12 6 4zM2520 2071l6 3 7-11zM2511 2095l7-10 6 2zM2511 2095l6 2 7-10zM2502 2116l8-9 5 1zM2495 2125l6 3 7-10zM2493 2138l8-10 5 6zM2493 2138l6 7 7-11zM2492 2157l7-12 6 10zM2497 2168l8-13 6 11zM2511 2166l5 12 8-14zM2516 2178l6 12 8-15zM2522 2190l6 10 8-14zM2528 2200l6 9 7-13zM2526 2222l8-13 6 8zM2532 2229l6 7 8-11zM2531 2248l7-12 6 7zM2531 2248l6 6 7-11zM2529 2266l8-12 6 7zM2529 2266l6 7 8-12zM2528 2284l7-11 6 6zM2528 2284l6 7 7-12zM2526 2302l8-11 6 6zM2526 2302l6 6 8-11zM2523 2338l6 10 8-14zM2535 2360l6 16 8-19zM2541 2376l8-19 6 17z"/><path class=bf d="M2502 1981l7-15 6 7zM2502 1981l6 7 7-15zM2508 1988l5 7 7-14zM2517 2026l7-14 6 8zM2523 2033l6 7 7-13zM2521 2053l8-13 5 6zM2518 2085l8-11 5 2zM2518 2085l6 2 7-11zM2510 2107l7-10 6 1zM2510 2107l5 1 8-10zM2502 2116l6 2 7-10zM2501 2128l7-10 6 4zM2501 2128l5 6 8-12zM2499 2145l7-11 6 8zM2499 2145l6 10 7-13zM2505 2155l7-13 6 11zM2505 2155l6 11 7-13zM2511 2166l7-13 6 11zM2516 2178l8-14 6 11zM2522 2190l8-15 6 11zM2528 2200l8-14 5 10zM2534 2209l7-13 6 9zM2534 2209l6 8 7-12zM2532 2229l8-12 6 8zM2537 2254l7-11 7 7zM2537 2254l6 7 8-11zM2535 2273l8-12 6 7zM2535 2273l6 6 8-11zM2525 2319l7-11 6 6zM2525 2319l6 7 7-12zM2523 2338l8-12 6 8zM2529 2348l8-14 6 10zM2529 2348l6 12 8-16zM2535 2360l8-16 6 13z"/><path class=bg d="M2505 1947l7-13 6-1zM2505 1947l6 0 7-14zM2504 1962l7-15 5 4zM2504 1962l5 4 7-15zM2508 1988l7-15 5 8zM2513 1995l7-14 6 9zM2513 1995l6 9 7-14zM2519 2004l5 8 8-14zM2524 2012l6 8 7-14zM2523 2033l7-13 6 7zM2529 2040l7-13 5 6zM2529 2040l5 6 7-13zM2527 2059l7-13 6 5zM2527 2059l6 4 7-12zM2526 2074l7-11 6 3zM2526 2074l5 2 8-10zM2517 2097l7-10 6 1zM2517 2097l6 1 7-10zM2508 2118l7-10 6 4zM2506 2134l6 8 8-12zM2518 2153l6 11 7-14zM2524 2164l6 11 7-14zM2530 2175l6 11 7-14zM2536 2186l5 10 8-13zM2540 2217l7-12 6 8zM2540 2217l6 8 7-12zM2538 2236l8-11 6 6zM2538 2236l6 7 8-12zM2534 2291l7-12 7 7zM2534 2291l6 6 8-11zM2532 2308l8-11 6 5zM2532 2308l6 6 8-12zM2531 2326l7-12 7 6zM2531 2326l6 8 8-14zM2549 2357l6 17 8-20z"/><path class=bh d="M2509 1966l6 7 7-15zM2515 1973l5 8 7-15zM2519 2004l7-14 6 8zM2524 2012l8-14 5 8zM2530 2020l6 7 7-14zM2534 2046l6 5 7-12zM2533 2063l7-12 6 4zM2533 2063l6 3 7-11zM2524 2087l7-11 6 3zM2524 2087l6 1 7-9zM2515 2108l8-10 5 3zM2508 2118l6 4 7-10zM2506 2134l8-12 6 8zM2512 2142l8-12 5 9zM2512 2142l6 11 7-14zM2518 2153l7-14 6 11zM2524 2164l7-14 6 11zM2530 2175l7-14 6 11zM2536 2186l7-14 6 11zM2541 2196l8-13 6 9zM2541 2196l6 9 8-13zM2547 2205l8-13 6 9zM2547 2205l6 8 8-12zM2546 2225l7-12 6 7zM2546 2225l6 6 7-11zM2544 2243l8-12 6 7zM2544 2243l7 7 7-12zM2543 2261l8-11 6 6zM2543 2261l6 7 8-12zM2541 2279l8-11 6 6zM2541 2279l7 7 7-12zM2540 2297l8-11 6 5zM2540 2297l6 5 8-11zM2538 2314l8-12 6 6zM2538 2314l7 6 7-12zM2537 2334l8-14 6 9zM2537 2334l6 10 8-15zM2543 2344l8-15 6 11zM2543 2344l6 13 8-17zM2549 2357l8-17 6 14z"/><path class=bi d="M2509 1966l7-15 6 7zM2515 1973l7-15 5 8zM2520 1981l6 9 7-15zM2526 1990l6 8 7-14zM2530 2020l7-14 6 7zM2536 2027l7-14 6 7zM2536 2027l5 6 8-13zM2534 2046l7-13 6 6zM2531 2076l8-10 5 3zM2531 2076l6 3 7-10zM2523 2098l7-10 6 3zM2515 2108l6 4 7-11zM2514 2122l7-10 6 6zM2514 2122l6 8 7-12zM2520 2130l5 9 8-13zM2525 2139l6 11 8-13zM2531 2150l6 11 8-13zM2537 2161l6 11 7-13zM2543 2172l6 11 7-14zM2549 2183l6 9 7-13zM2553 2213l8-12 6 7zM2553 2213l6 7 8-12zM2552 2231l7-11 7 7zM2552 2231l6 7 8-11zM2551 2250l7-12 6 7zM2551 2250l6 6 7-11zM2549 2268l8-12 6 7zM2549 2268l6 6 8-11zM2548 2286l7-12 6 6zM2548 2286l6 5 7-11zM2546 2302l8-11 6 5zM2545 2320l6 9 8-14z"/><path class=bj d="M2512 1934l6-1 7-13zM2511 1947l7-14 5 2zM2511 1947l5 4 7-16zM2520 1981l7-15 6 9zM2526 1990l7-15 6 9zM2532 1998l7-14 5 9zM2532 1998l5 8 7-13zM2537 2006l6 7 7-13zM2541 2033l8-13 5 6zM2541 2033l6 6 7-13zM2540 2051l7-12 6 5zM2540 2051l6 4 7-11zM2539 2066l7-11 6 3zM2539 2066l5 3 8-11zM2530 2088l7-9 6 2zM2523 2098l5 3 8-10zM2521 2112l7-11 6 5zM2521 2112l6 6 7-12zM2520 2130l7-12 6 8zM2525 2139l8-13 6 11zM2531 2150l8-13 6 11zM2537 2161l8-13 5 11zM2543 2172l7-13 6 10zM2549 2183l7-14 6 10zM2555 2192l7-13 6 10zM2555 2192l6 9 7-12zM2561 2201l6 7 7-11zM2559 2220l8-12 6 7zM2559 2220l7 7 7-12zM2558 2238l8-11 6 6zM2558 2238l6 7 8-12zM2557 2256l7-11 6 6zM2557 2256l6 7 7-12zM2555 2274l8-11 6 6zM2555 2274l6 6 8-11zM2554 2291l7-11 7 6zM2546 2302l6 6 8-12zM2545 2320l7-12 7 7zM2551 2329l8-14 6 9zM2551 2329l6 11 8-16zM2557 2340l6 14 8-17z"/><path class=bk d="M2516 1951l7-16 6 6zM2516 1951l6 7 7-17zM2522 1958l5 8 8-16zM2527 1966l6 9 7-15zM2533 1975l6 9 7-15zM2537 2006l7-13 6 7zM2543 2013l7-13 6 7zM2543 2013l6 7 7-13zM2547 2039l7-13 6 7zM2547 2039l6 5 7-11zM2546 2055l7-11 6 4zM2546 2055l6 3 7-10zM2537 2079l7-10 6 2zM2537 2079l6 2 7-10zM2530 2088l6 3 7-10zM2528 2101l8-10 6 4zM2528 2101l6 5 8-11zM2527 2118l7-12 6 8zM2527 2118l6 8 7-12zM2533 2126l6 11 7-13zM2539 2137l6 11 7-13zM2545 2148l7-13 6 11zM2545 2148l5 11 8-13zM2550 2159l8-13 6 10zM2550 2159l6 10 8-13zM2556 2169l8-13 6 11zM2556 2169l6 10 8-12zM2562 2179l6 10 8-12zM2561 2201l7-12 6 8zM2567 2208l7-11 7 7zM2567 2208l6 7 8-11zM2566 2227l7-12 6 7zM2566 2227l6 6 7-11zM2564 2245l8-12 6 7zM2564 2245l6 6 8-11zM2563 2263l7-12 7 7zM2563 2263l6 6 8-11zM2561 2280l8-11 6 6zM2554 2291l6 5 8-10zM2552 2308l8-12 6 6zM2552 2308l7 7 7-13zM2557 2340l8-16 6 13z"/><path class=bl d="M2518 1933l7-13 5 0zM2518 1933l5 2 7-15zM2522 1958l7-17 6 9zM2527 1966l8-16 5 10zM2533 1975l7-15 6 9zM2539 1984l7-15 6 10zM2539 1984l5 9 8-14zM2544 1993l6 7 7-13zM2549 2020l7-13 6 7zM2549 2020l5 6 8-12zM2544 2069l8-11 6 4zM2544 2069l6 2 8-9zM2536 2091l7-10 6 3zM2536 2091l6 4 7-11zM2534 2106l6 8 8-12zM2533 2126l7-12 6 10zM2539 2137l7-13 6 11zM2558 2146l6 10 7-12zM2564 2156l6 11 7-13zM2562 2179l8-12 6 10zM2568 2189l8-12 6 8zM2568 2189l6 8 8-12zM2574 2197l7 7 7-11zM2573 2215l8-11 6 8zM2573 2215l6 7 8-10zM2572 2233l7-11 6 7zM2572 2233l6 7 7-11zM2570 2251l8-11 6 7zM2570 2251l7 7 7-11zM2561 2280l7 6 7-11zM2560 2296l8-10 6 4zM2560 2296l6 6 8-12zM2559 2315l7-13 6 8zM2559 2315l6 9 7-14zM2565 2324l6 13 8-17z"/><path class=bm d="M2544 1993l8-14 5 8zM2550 2000l7-13 6 8zM2550 2000l6 7 7-12zM2554 2026l8-12 5 7zM2554 2026l6 7 7-12zM2553 2044l7-11 6 5zM2553 2044l6 4 7-10zM2552 2058l7-10 6 4zM2552 2058l6 4 7-10zM2543 2081l7-10 6 4zM2543 2081l6 3 7-9zM2534 2106l8-11 6 7zM2540 2114l8-12 5 9zM2540 2114l6 10 7-13zM2546 2124l7-13 6 11zM2546 2124l6 11 7-13zM2552 2135l7-13 6 11zM2552 2135l6 11 7-13zM2558 2146l7-13 6 11zM2564 2156l7-12 6 10zM2570 2167l7-13 6 11zM2570 2167l6 10 7-12zM2576 2177l7-12 6 9zM2576 2177l6 8 7-11zM2574 2197l8-12 6 8zM2581 2204l7-11 6 8zM2581 2204l6 8 7-11zM2579 2222l8-10 6 6zM2579 2222l6 7 8-11zM2578 2240l7-11 7 7zM2578 2240l6 7 8-11zM2569 2269l8-11 6 6zM2569 2269l6 6 8-11zM2568 2286l7-11 7 4zM2568 2286l6 4 8-11zM2565 2324l7-14 7 10z"/><path class=bn d="M2525 1920l5 0 8-13zM2523 1935l7-15 6 4zM2523 1935l6 6 7-17zM2529 1941l6 9 7-17zM2535 1950l5 10 7-16zM2540 1960l6 9 7-15zM2546 1969l6 10 7-15zM2552 1979l5 8 7-13zM2557 1987l6 8 7-12zM2556 2007l7-12 6 7zM2556 2007l6 7 7-12zM2562 2014l5 7 8-12zM2560 2033l7-12 6 6zM2560 2033l6 5 7-11zM2559 2048l7-10 6 5zM2559 2048l6 4 7-9zM2550 2071l8-9 6 4zM2550 2071l6 4 8-9zM2542 2095l7-11 6 6zM2542 2095l6 7 7-12zM2548 2102l5 9 8-12zM2553 2111l6 11 8-12zM2559 2122l6 11 8-12zM2565 2133l6 11 8-12zM2571 2144l6 10 8-12zM2577 2154l8-12 6 11zM2577 2154l6 11 8-12zM2583 2165l6 9 8-11zM2582 2185l7-11 6 9zM2582 2185l6 8 7-10zM2588 2193l7-10 7 8zM2588 2193l6 8 8-10zM2587 2212l7-11 6 7zM2587 2212l6 6 7-10zM2585 2229l8-11 6 7zM2577 2258l7-11 6 6zM2577 2258l6 6 7-11zM2575 2275l8-11 6 5zM2575 2275l7 4 7-10zM2566 2302l8-12 6 6zM2566 2302l6 8 8-14zM2572 2310l7 10 7-15z"/><path class=bo d="M2529 1941l7-17 6 9zM2535 1950l7-17 5 11zM2540 1960l7-16 6 10zM2546 1969l7-15 6 10zM2552 1979l7-15 5 10zM2557 1987l7-13 6 9zM2563 1995l7-12 6 8zM2563 1995l6 7 7-11zM2562 2014l7-12 6 7zM2567 2021l8-12 6 8zM2567 2021l6 6 8-10zM2566 2038l7-11 6 6zM2566 2038l6 5 7-10zM2558 2062l7-10 6 5zM2558 2062l6 4 7-9zM2549 2084l7-9 6 5zM2549 2084l6 6 7-10zM2548 2102l7-12 6 9zM2553 2111l8-12 6 11zM2559 2122l8-12 6 11zM2573 2121l6 11 7-12zM2565 2133l8-12 6 11zM2579 2132l6 10 7-11zM2571 2144l8-12 6 10zM2585 2142l6 11 7-11zM2591 2153l6 10 7-11zM2583 2165l8-12 6 10zM2589 2174l8-11 6 9zM2589 2174l6 9 8-11zM2595 2183l8-11 6 9zM2595 2183l7 8 7-10zM2594 2201l8-10 6 8zM2594 2201l6 7 8-9zM2593 2218l7-10 7 7zM2593 2218l6 7 8-10zM2585 2229l7 7 7-11zM2584 2247l8-11 6 6zM2584 2247l6 6 8-11zM2583 2264l7-11 7 5zM2583 2264l6 5 8-11zM2574 2290l8-11 6 4zM2574 2290l6 6 8-13zM2572 2310l8-14 6 9z"/><path class=bp d="M2530 1920l6 4 7-16zM2553 1954l6 10 7-15zM2559 1964l5 10 8-14zM2564 1974l6 9 7-13zM2569 2002l7-11 6 7zM2569 2002l6 7 7-11zM2575 2009l6 8 7-11zM2573 2027l8-10 5 7zM2573 2027l6 6 7-9zM2572 2043l7-10 6 6zM2565 2052l7-9 6 5zM2565 2052l6 5 7-9zM2564 2066l7-9 6 5zM2564 2066l5 5 8-9zM2556 2075l8-9 5 5zM2556 2075l6 5 7-9zM2555 2090l7-10 6 8zM2555 2090l6 9 7-11zM2561 2099l7-11 6 10zM2561 2099l6 11 7-12zM2567 2110l7-12 6 11zM2567 2110l6 11 7-12zM2573 2121l7-12 6 11zM2579 2132l7-12 6 11zM2585 2142l7-11 6 11zM2591 2153l7-11 6 10zM2597 2163l7-11 6 10zM2597 2163l6 9 7-10zM2603 2172l7-10 6 9zM2603 2172l6 9 7-10zM2602 2191l7-10 6 8zM2602 2191l6 8 7-10zM2600 2208l8-9 6 7zM2600 2208l7 7 7-9zM2599 2225l8-10 6 7zM2592 2236l7-11 6 7zM2592 2236l6 6 7-10zM2590 2253l8-11 6 6zM2590 2253l7 5 7-10zM2582 2279l7-10 6 3zM2582 2279l6 4 7-11zM2580 2296l8-13 6 8zM2580 2296l6 9 8-14z"/><path class=bq d="M2530 1920l8-13 5 1zM2536 1924l6 9 7-19zM2542 1933l5 11 8-18zM2547 1944l6 10 7-17zM2553 1954l7-17 6 12zM2559 1964l7-15 6 11zM2564 1974l8-14 5 10zM2570 1983l7-13 6 9zM2570 1983l6 8 7-12zM2576 1991l7-12 6 8zM2576 1991l6 7 7-11zM2575 2009l7-11 6 8zM2581 2017l7-11 6 8zM2581 2017l5 7 8-10zM2579 2033l7-9 6 6zM2579 2033l6 6 7-9zM2572 2043l6 5 7-9zM2571 2057l7-9 6 5zM2571 2057l6 5 7-9zM2569 2071l8-9 6 7zM2562 2080l7-9 6 7zM2562 2080l6 8 7-10zM2568 2088l7-10 6 9zM2568 2088l6 10 7-11zM2574 2098l7-11 6 11zM2574 2098l6 11 7-11zM2580 2109l7-11 6 11zM2580 2109l6 11 7-11zM2586 2120l7-11 6 11zM2586 2120l6 11 7-11zM2592 2131l7-11 6 11zM2592 2131l6 11 7-11zM2598 2142l7-11 6 11zM2598 2142l6 10 7-10zM2604 2152l7-10 7 10zM2604 2152l6 10 8-10zM2610 2162l8-10 6 10zM2610 2162l6 9 8-9zM2616 2171l8-9 6 9zM2616 2171l7 9 7-9zM2609 2181l7-10 7 9zM2609 2181l6 8 8-9zM2615 2189l8-9 6 8zM2615 2189l7 8 7-9zM2608 2199l7-10 7 8zM2608 2199l6 7 8-9zM2607 2215l7-9 6 7zM2607 2215l6 7 7-9zM2599 2225l6 7 8-10zM2598 2242l7-10 7 5zM2598 2242l6 6 8-11zM2589 2269l8-11 6 4zM2589 2269l6 3 8-10z"/><path class=br d="M2536 1924l7-16 6 6zM2542 1933l7-19 6 12zM2547 1944l8-18 5 11zM2572 1960l5 10 7-13zM2577 1970l6 9 7-12zM2583 1979l6 8 7-10zM2582 1998l7-11 6 8zM2582 1998l6 8 7-11zM2588 2006l7-11 6 9zM2588 2006l6 8 7-10zM2586 2024l8-10 6 7zM2586 2024l6 6 8-9zM2585 2039l7-9 6 6zM2585 2039l6 6 7-9zM2578 2048l7-9 6 6zM2578 2048l6 5 7-8zM2577 2062l7-9 6 7zM2577 2062l6 7 7-9zM2569 2071l6 7 8-9zM2575 2078l8-9 6 8zM2575 2078l6 9 8-10zM2581 2087l8-10 6 11zM2581 2087l6 11 8-10zM2587 2098l8-10 6 11zM2587 2098l6 11 8-10zM2593 2109l8-10 6 11zM2593 2109l6 11 8-10zM2599 2120l8-10 6 11zM2599 2120l6 11 8-10 6 11 7-10zM2605 2131l8-10 6 11zM2605 2131l6 11 8-10 6 10 7-9zM2611 2142l8-10 6 10zM2611 2142l7 10 7-10 6 10 7-9-13-1zM2618 2152l7-10 6 10zM2618 2152l6 10 7-10zM2624 2162l7-10 6 10zM2624 2162l6 9 7-9zM2623 2180l7-9 6 8zM2623 2180l6 8 7-9zM2622 2197l7-9 6 8zM2622 2197l6 7 7-8zM2614 2206l8-9 6 7zM2614 2206l6 7 8-9zM2613 2222l7-9 7 6zM2605 2232l8-10 6 6zM2605 2232l7 5 7-9zM2604 2248l8-11 6 5zM2597 2258l7-10 7 4zM2597 2258l6 4 8-10zM2588 2283l7-11 7 6zM2588 2283l6 8 8-13z"/><path class=bs d="M2538 1907l5 1 7-15zM2560 1937l6 12 7-16zM2566 1949l6 11 7-15zM2572 1960l7-15 5 12zM2577 1970l7-13 6 10zM2583 1979l7-12 6 10zM2589 1987l7-10 6 8zM2589 1987l6 8 7-10zM2595 1995l7-10 6 9zM2595 1995l6 9 7-10zM2594 2014l7-10 6 8zM2594 2014l6 7 7-9zM2592 2030l8-9 5 7zM2592 2030l6 6 7-8zM2591 2045l7-9 6 8zM2591 2045l6 7 7-8zM2584 2053l7-8 6 7zM2584 2053l6 7 7-8zM2590 2060l7-8 6 8zM2590 2060l6 8 7-8zM2583 2069l7-9 6 8zM2583 2069l6 8 7-9zM2589 2077l7-9 6 10zM2589 2077l6 11 7-10zM2595 2088l7-10 6 11zM2595 2088l6 11 7-10zM2601 2099l7-10 6 11zM2601 2099l6 11 7-10 6 11 7-9-13-2zM2607 2110l7-10 6 11zM2607 2110l6 11 7-10 6 11 7-9-13-2zM2613 2121l7-10 6 11 7-9 7 11-14-2zM2626 2122l6 11 8-9zM2619 2132l7-10 6 11 8-9 6 10zM2632 2133l6 10 8-9zM2625 2142l7-9 6 10 8-9 6 10zM2638 2143l7 10 7-9zM2631 2152l7-9 7 10zM2631 2152l6 10 8-9zM2637 2162l8-9 6 9zM2637 2162l7 9 7-9zM2630 2171l7-9 7 9zM2630 2171l6 8 8-8zM2636 2179l8-8 6 8zM2636 2179l7 8 7-8zM2629 2188l7-9 7 8zM2629 2188l6 8 8-9zM2628 2204l7-8 7 7zM2628 2204l6 7 8-8zM2620 2213l8-9 6 7zM2620 2213l7 6 7-8zM2613 2222l6 6 8-9zM2612 2237l7-9 7 5zM2604 2248l7 4 7-10zM2595 2272l8-10 6 4zM2595 2272l7 6 7-12z"/><path class=bt d="M2555 1926l5 11 7-17zM2560 1937l7-17 6 13zM2566 1949l7-16 6 12zM2579 1945l5 12 8-14zM2584 1957l6 10 7-12zM2590 1967l7-12 6 10zM2590 1967l6 10 7-12zM2596 1977l7-12 6 10zM2596 1977l6 8 7-10zM2602 1985l6 9 7-10zM2601 2004l7-10 6 9zM2601 2004l6 8 7-9zM2607 2012l7-9 6 8zM2607 2012l6 8 7-9zM2600 2021l7-9 6 8zM2600 2021l5 7 8-8zM2605 2028l8-8 6 7zM2605 2028l6 7 8-8zM2598 2036l7-8 6 7zM2598 2036l6 8 7-9zM2604 2044l7-9 7 9zM2604 2044l6 8 8-8zM2597 2052l7-8 6 8zM2597 2052l6 8 7-8zM2603 2060l7-8 6 9zM2603 2060l6 9 7-8zM2596 2068l7-8 6 9zM2596 2068l6 10 7-9 6 10 7-8-13-2zM2602 2078l7-9 6 10zM2602 2078l6 11 7-10 6 11 7-8-13-3zM2608 2089l7-10 6 11 7-8 7 11-14-3zM2608 2089l6 11 7-10 6 12 8-9-14-3zM2614 2100l7-10 6 12 8-9 6 11zM2627 2102l6 11 8-9 6 11 7-9zM2620 2111l7-9 6 11 8-9 6 11 7-9 6 11zM2633 2113l7 11 7-9 6 10 7-8zM2640 2124l7-9 6 10 7-8 6 10-13-2zM2640 2124l6 10 7-9 6 11 7-9-13-2zM2646 2134l7-9 6 11 7-9 7 10-14-1zM2646 2134l6 10 7-8 7 10 7-9-14-1zM2652 2144l7-8 7 10zM2652 2144l6 10 8-8zM2645 2153l7-9 6 10 8-8 6 9zM2645 2153l6 9 7-8 7 9 7-8zM2651 2162l7-8 7 9zM2651 2162l6 9 8-8zM2644 2171l7-9 6 9zM2644 2171l6 8 7-8zM2650 2179l7-8 7 8zM2650 2179l6 8 8-8zM2643 2187l7-8 6 8zM2643 2187l6 8 7-8zM2635 2196l8-9 6 8zM2635 2196l7 7 7-8zM2634 2211l8-8 6 6zM2627 2219l7-8 7 5zM2627 2219l6 5 8-8zM2619 2228l8-9 6 5zM2619 2228l7 5 7-9zM2612 2237l6 5 8-9zM2611 2252l7-10 7 4zM2603 2262l8-10 6 4zM2603 2262l6 4 8-10z"/><path class=bu d="M2543 1908l7-15 6 3zM2543 1908l6 6 7-18zM2549 1914l6 12 7-19zM2555 1926l7-19 5 13zM2573 1933l6 12 7-16zM2584 1957l8-14 5 12zM2597 1955l6 10 7-11zM2603 1965l6 10 7-10zM2609 1975l6 9 7-9zM2602 1985l7-10 6 9zM2615 1984l6 10 7-10zM2608 1994l7-10 6 10zM2608 1994l6 9 7-9zM2614 2003l7-9 6 8zM2614 2003l6 8 7-9zM2620 2011l7-9 6 9zM2620 2011l6 8 7-8zM2613 2020l7-9 6 8zM2613 2020l6 7 7-8zM2619 2027l7-8 6 9zM2619 2027l6 9 7-8zM2611 2035l8-8 6 9zM2611 2035l7 9 7-8zM2618 2044l7-8 6 9zM2618 2044l6 8 7-7zM2610 2052l8-8 6 8zM2610 2052l6 9 8-9 6 10 7-8-13-2zM2616 2061l8-9 6 10zM2616 2061l6 10 8-9 6 11 7-8-13-3zM2609 2069l7-8 6 10 8-9 6 11 7-8 6 11-13-3zM2622 2071l6 11 8-9 6 11 7-8 6 11 7-8-26-6zM2615 2079l7-8 6 11 8-9 6 11 7-8 6 11 7-8 6 11-26-6-14-2zM2628 2082l7 11 7-9 6 11 7-8 6 11 7-8 7 11 7-8-40-9zM2635 2093l7-9 6 11 7-8 6 11 7-8 7 11-27-6zM2635 2093l6 11 7-9 6 11 7-8 6 11 8-8 6 10 7-7-40-9zM2641 2104l7-9 6 11 7-8 6 11 8-8 6 10-14-2-13-3zM2654 2106l6 11 7-8 7 10 7-8 6 10 7-7-13-3-14-2zM2660 2117l7-8 7 10 7-8 6 10zM2660 2117l6 10 8-8 6 10 7-8zM2666 2127l8-8 6 10 7-8 7 10zM2666 2127l7 10 7-8 6 10 8-8zM2673 2137l7-8 6 10zM2673 2137l6 10 7-8zM2666 2146l7-9 6 10 7-8 7 9zM2666 2146l6 9 7-8 6 9 8-8zM2672 2155l7-8 6 9zM2672 2155l6 8 7-7zM2665 2163l7-8 6 8zM2665 2163l6 8 7-8zM2657 2171l8-8 6 8 7-8 7 8zM2657 2171l7 8 7-8zM2664 2179l7-8 6 8zM2664 2179l6 7 7-7zM2656 2187l8-8 6 7zM2656 2187l7 7 7-8zM2649 2195l7-8 7 7zM2649 2195l6 6 8-7zM2642 2203l7-8 6 6zM2642 2203l6 6 7-8zM2634 2211l7 5 7-7zM2626 2233l7-9 7 4zM2618 2242l8-9 6 4zM2618 2242l7 4 7-9zM2611 2252l6 4 8-10z"/><path class=bv d="M2549 1914l7-18 6 11zM2567 1920l6 13 7-18zM2579 1945l7-16 6 14zM2592 1943l5 12 7-14zM2597 1955l7-14 6 13zM2603 1965l7-11 6 11zM2616 1965l6 10 7-10zM2609 1975l7-10 6 10zM2622 1975l6 9 7-9zM2615 1984l7-9 6 9zM2628 1984l6 10 7-9zM2621 1994l7-10 6 10zM2621 1994l6 8 7-8 6 9 7-9zM2627 2002l7-8 6 9zM2627 2002l6 9 7-8zM2633 2011l7-8 6 9zM2633 2011l6 9 7-8zM2626 2019l7-8 6 9 7-8 6 9zM2626 2019l6 9 7-8 6 9 7-8zM2632 2028l7-8 6 9zM2632 2028l6 9 7-8zM2625 2036l7-8 6 9 7-8 6 10-13-2zM2625 2036l6 9 7-8 6 9 7-7-13-2zM2631 2045l7-8 6 9 7-7 6 10-13-3zM2631 2045l6 9 7-8 6 11 7-8 6 11 7-8-26-6zM2624 2052l7-7 6 9 7-8 6 11 7-8 6 11 7-8 7 11-40-9zM2637 2054l6 11 7-8 6 11 7-8 6 11 8-8 6 11 7-8zM2630 2062l7-8 6 11 7-8 6 11 7-8 6 11 8-8 6 11 7-8 6 12 7-8 6 11-13-3-13-4zM2643 2065l6 11 7-8 6 11 7-8 7 11 7-8 6 11 7-7 6 10 7-7-13-3-13-4zM2649 2076l7-8 6 11 7-8 7 11 7-8 6 11 7-7 6 10 7-7 7 10zM2662 2079l6 11 8-8 6 11 7-8 6 11 7-8 7 11 7-8zM2668 2090l8-8 6 11 7-8 6 11 7-8 7 11 7-8 6 10-13-2zM2682 2093l6 11 7-8 7 10 7-7 6 9 7-7-13-2zM2675 2101l7-8 6 11 7-8 7 10 7-7 6 9-27-4zM2688 2104l6 10 8-8 6 10 7-8zM2681 2111l7-7 6 10 8-8 6 10 7-8 6 9-13-1-14-2zM2694 2114l7 9 7-7zM2687 2121l7-7 7 9 7-7 6 9zM2687 2121l7 10 7-8 6 9 7-7zM2694 2131l7-8 6 9zM2694 2131l6 9 7-8zM2686 2139l8-8 6 9 7-8 7 9zM2686 2139l7 9 7-8zM2693 2148l7-8 6 9zM2693 2148l6 8 7-7zM2685 2156l8-8 6 8zM2685 2156l7 8 7-8zM2678 2163l7-7 7 8zM2678 2163l7 8 7-7zM2671 2171l6 8 8-8zM2677 2179l8-8 6 7zM2670 2186l7-7 7 6zM2663 2194l7-8 7 7zM2663 2194l6 6 8-7zM2655 2201l8-7 6 6zM2655 2201l7 6 7-7zM2648 2209l7-8 7 6zM2648 2209l6 5 8-7zM2641 2216l7-7 6 5zM2641 2216l6 5 7-7zM2633 2224l8-8 6 5zM2633 2224l7 4 7-7zM2626 2233l6 4 8-9z"/><path class=bw d="M2550 1893l6 3 7-16zM2562 1907l5 13 7-19zM2573 1933l7-18 6 14zM2586 1929l6 14 7-15zM2592 1943l7-15 5 13zM2604 1941l6 13 7-13zM2610 1954l7-13 6 13zM2610 1954l6 11 7-11 6 11 7-10-13-1zM2616 1965l7-11 6 11zM2629 1965l6 10 7-9zM2622 1975l7-10 6 10 7-9 6 10-13-1zM2635 1975l6 10 7-9zM2628 1984l7-9 6 10 7-9 6 10zM2641 1985l6 9 7-8zM2634 1994l7-9 6 9 7-8 6 10-13-2zM2647 1994l6 10 7-8zM2640 2003l7-9 6 10 7-8 6 9zM2640 2003l6 9 7-8 6 9 7-8zM2646 2012l7-8 6 9zM2646 2012l6 9 7-8 6 10 7-8-13-2zM2652 2021l7-8 6 10zM2652 2021l6 10 7-8 6 10 7-8zM2645 2029l7-8 6 10 7-8 6 10 7-8 7 11-14-3zM2645 2029l6 10 7-8 6 10 7-8 7 11 7-8-14-3zM2651 2039l7-8 6 10 7-8 7 11 7-8 6 11-27-6zM2651 2039l6 10 7-8 6 11 8-8 6 11 7-8 6 11 7-8 6 12 7-9-53-12zM2657 2049l7-8 6 11 8-8 6 11 7-8 6 11 7-8 6 12 7-9 7 12-14-3-13-4zM2670 2052l7 11 7-8 6 11 7-8 6 12 7-8 7 11 7-8 6 11 7-8-27-6-13-4zM2677 2063l7-8 6 11 7-8 6 12 7-8 7 11 7-8 6 11 7-8 6 10-13-2-27-6-13-4zM2690 2066l6 12 7-8 6 11 8-8 6 11 7-8 6 10 7-8-13-2-27-6zM2709 2081l8-8 6 11 7-8 6 10 7-8 7 10-27-4zM2709 2081l7 10 7-7 6 10 7-8 7 10 7-8-27-4zM2716 2091l7-7 6 10 7-8 7 10-14-2zM2716 2091l6 10 7-7 7 9 7-7-14-2zM2722 2101l7-7 7 9 7-7 6 8-13-1zM2722 2101l7 9 7-7zM2715 2108l7-7 7 9 7-7 6 8-13-1zM2715 2108l6 9 8-7 6 8 7-7-13-1zM2721 2117l8-7 6 8zM2708 2116l6 9 7-8 7 9 7-8zM2714 2125l7-8 7 9zM2714 2125l7 8 7-7zM2707 2132l7-7 7 8zM2707 2132l7 9 7-8zM2714 2141l7-8 6 8zM2700 2140l6 9 8-8 6 8 7-8-13 0zM2706 2149l8-8 6 8zM2706 2149l7 7 7-7zM2699 2156l7-7 7 7zM2699 2156l7 8 7-8zM2692 2164l7-8 7 8zM2692 2164l6 7 8-7zM2685 2171l7-7 6 7zM2685 2171l6 7 7-7zM2677 2179l7 6 7-7zM2670 2186l7 7 7-8z"/><path class=bx d="M2556 1896l6 11 7-19zM2567 1920l7-19 6 14zM2580 1915l6 14 7-16zM2586 1929l7-16 6 15zM2599 1928l5 13 8-13zM2604 1941l8-13 5 13zM2617 1941l6 13 7-11zM2623 1954l7-11 6 12zM2636 1955l6 11 7-10zM2629 1965l7-10 6 11 7-10 6 11zM2642 1966l6 10 7-9 6 10 7-9zM2648 1976l7-9 6 10zM2648 1976l6 10 7-9 6 10 7-9zM2654 1986l7-9 6 10zM2654 1986l6 10 7-9 6 10 7-9zM2660 1996l7-9 6 10zM2660 1996l6 9 7-8 6 10 7-9zM2666 2005l7-8 6 10zM2666 2005l6 10 7-8 7 10 7-8zM2659 2013l7-8 6 10 7-8 7 10zM2672 2015l6 10 8-8 6 11 7-9zM2665 2023l7-8 6 10 8-8 6 11 7-9 6 11-13-2-14-3zM2678 2025l7 11 7-8 6 11 7-9 6 12 7-9-13-3-13-2zM2685 2036l7-8 6 11 7-9 6 12 7-9 6 11-13-2zM2685 2036l6 11 7-8 6 11 7-8 6 11 7-9 7 12 7-9-14-3-13-2zM2691 2047l7-8 6 11 7-8 6 11 7-9 7 12 7-9 6 12zM2717 2053l7 12 7-9 6 12 7-9 6 11 8-9-14-2zM2724 2065l7-9 6 12 7-9 6 11 8-9 6 11-27-4zM2737 2068l6 10 7-8 7 10 7-8zM2743 2078l7-8 7 10 7-8 6 10zM2743 2078l7 10 7-8 6 10 7-8zM2750 2088l7-8 6 10zM2750 2088l6 9 7-7zM2743 2096l7-8 6 9 7-7 7 7-14 0zM2743 2096l6 8 7-7zM2749 2104l7-7 7 7zM2736 2103l6 8 7-7 7 8 7-8-14 0zM2742 2111l7-7 7 8zM2742 2111l7 8 7-7zM2735 2118l7-7 7 8zM2735 2118l7 8 7-7zM2728 2126l7-8 7 8zM2728 2126l6 8 8-8zM2721 2133l7-7 6 8zM2721 2133l6 8 7-7z"/><path class=by d="M2556 1896l7-16 6 8zM2562 1907l7-19 5 13zM2599 1928l7-16 6 16zM2612 1928l5 13 7-12zM2617 1941l7-12 6 14 7-12 6 13-13-1zM2630 1943l6 12 7-11 6 12 7-10-13-2zM2636 1955l7-11 6 12 7-10 6 12-13-2zM2649 1956l6 11 7-9 6 10 7-9-13-1zM2655 1967l7-9 6 10 7-9 6 10zM2668 1968l6 10 7-9zM2661 1977l7-9 6 10 7-9 6 10zM2674 1978l6 10 7-9zM2667 1987l7-9 6 10 7-9 6 10zM2680 1988l6 10 7-9zM2673 1997l7-9 6 10 7-9 7 11-14-2zM2686 1998l7 11 7-9zM2679 2007l7-9 7 11 7-9 6 10-13-1zM2693 2009l6 10 7-9 6 11 7-9-13-2zM2686 2017l7-8 6 10 7-9 6 11 7-9 6 11zM2699 2019l6 11 7-9 6 12 7-10zM2705 2030l7-9 6 12 7-10 7 12-14-2zM2718 2033l6 11 8-9 6 12 7-10 6 12 7-10zM2724 2044l8-9 6 12 7-10 6 12 7-10 7 12-27-4zM2738 2047l6 12 7-10 7 12 7-10zM2744 2059l7-10 7 12 7-10 6 12zM2758 2061l6 11 7-9 6 10 7-10-13 0zM2764 2072l7-9 6 10zM2764 2072l6 10 7-9zM2770 2082l7-9 7 9zM2770 2082l7 8 7-8zM2763 2090l7-8 7 8zM2763 2090l7 7 7-7zM2756 2097l7 7 7-7z"/><path class=bz d="M2574 1901l6 14 7-18zM2580 1915l7-18 6 16zM2593 1913l6 15 7-16zM2612 1928l7-15 5 16zM2624 1929l6 14 7-12 6 13 7-11 6 13 7-10-13-3zM2643 1944l7-11 6 13 7-10 6 13 7-10 6 11-13-1-13-3zM2656 1946l6 12 7-9 6 10 7-9-13-1zM2662 1958l7-9 6 10 7-9 6 10zM2675 1959l6 10 7-9zM2681 1969l7-9 6 10zM2681 1969l6 10 7-9zM2687 1979l7-9 6 10zM2687 1979l6 10 7-9zM2693 1989l7-9 7 11zM2693 1989l7 11 7-9 6 10 7-10-13 0zM2700 2000l7-9 6 10zM2700 2000l6 10 7-9 6 11 7-10zM2706 2010l7-9 6 11 7-10 6 11-13-1zM2719 2012l6 11 7-10zM2725 2023l7-10 7 12zM2725 2023l7 12 7-10 6 12 7-10zM2732 2035l7-10 6 12 7-10 6 12 7-11 7 13zM2758 2039l7 12 7-10zM2765 2051l7-10 6 12zM2765 2051l6 12 7-10 6 10 8-10-14 0zM2771 2063l7-10 6 10zM2784 2063l7 10 7-10zM2777 2073l7-10 7 10zM2777 2073l7 9 7-9z"/><path class=bA d="M2563 1880l6 8 7-16zM2569 1888l5 13 8-18zM2574 1901l8-18 5 14zM2587 1897l6 16 7-17zM2593 1913l7-17 6 16zM2606 1912l6 16 7-15 5 16 8-14 5 16 7-13-12-3-13-2zM2624 1929l8-14 5 16 7-13 6 15 7-11 6 14 7-10 6 13 7-10 6 12-13-2-26-6zM2663 1936l6 13 7-10 6 11 7-9-13-2zM2682 1950l7-9 6 10zM2682 1950l6 10 7-9zM2688 1960l7-9 6 10zM2688 1960l6 10 7-9zM2694 1970l7-9 6 10zM2694 1970l6 10 7-9zM2700 1980l7-9 7 10zM2700 1980l7 11 7-10 6 10 7-10-13 0zM2707 1991l7-10 6 10zM2720 1991l6 11 7-10zM2713 2001l7-10 6 11 7-10 6 11zM2726 2002l6 11 7-10zM2732 2013l7-10 7 11zM2732 2013l7 12 7-11 6 13 7-11-13-2zM2739 2025l7-11 6 13 7-11 6 12-13-1zM2752 2027l6 12 7-11 7 13 7-11-14-2zM2772 2041l7-11 6 12zM2772 2041l6 12 7-11 7 11 7-10zM2778 2053l7-11 7 11zM2792 2053l6 10 7-10zM2784 2063l8-10 6 10z"/><path class=bB d="M2569 1888l7-16 6 11zM2600 1896l6 16 7-15zM2606 1912l7-15 6 16 7-15 6 17-13-2zM2657 1922l7-12 6 16 7-11 6 14 7-10 6 13-26-6zM2644 1918l6 15 7-11 6 14 7-10 6 13 7-10 6 12 7-9 6 10 7-9-13-1-26-6zM2689 1941l7-9 6 10zM2689 1941l6 10 7-9zM2695 1951l7-9 6 9zM2695 1951l6 10 7-10zM2701 1961l7-10 6 10zM2701 1961l6 10 7-10zM2707 1971l7-10 7 10zM2707 1971l7 10 7-10zM2714 1981l7-10 6 10zM2727 1981l6 11 7-11zM2720 1991l7-10 6 11zM2733 1992l6 11 7-11zM2739 2003l7-11 7 11zM2739 2003l7 11 7-11zM2746 2014l7-11 6 13zM2759 2016l6 12 7-12zM2765 2028l7-12 7 14zM2779 2030l6 12 7-11zM2785 2042l7-11 7 12zM2799 2043l6 10 7-11zM2792 2053l7-10 6 10z"/><path class=bC d="M2582 1883l5 14 7-17zM2587 1897l7-17 6 16zM2690 1919l7-10 6 13zM2613 1897l6 16 7-15 6 17 7-13 5 16 7-12 6 16 7-12 6 16 7-11 6 14 7-10 6 13 7-10 6 11 7-10-13-1-13-3-13-4-13-5-38-12zM2632 1915l7-13 5 16 7-12 6 16zM2696 1932l7-10 6 11zM2709 1933l6 8 7-9zM2702 1942l7-9 6 8zM2702 1942l6 9 7-10zM2708 1951l7-10 6 9zM2708 1951l6 10 7-11zM2714 1961l7-11 7 10zM2714 1961l7 10 7-11zM2721 1971l7-11 6 10zM2721 1971l6 10 7-11zM2727 1981l7-11 6 11zM2740 1981l6 11 7-12zM2733 1992l7-11 6 11zM2746 1992l7 11 7-12zM2753 2003l7-12 6 12zM2753 2003l6 13 7-13 6 13 7-13zM2759 2016l7-13 6 13 7-13 7 14-14-1zM2772 2016l7 14 7-13 6 14 7-13zM2779 2030l7-13 6 14 7-13 7 13-14 0zM2792 2031l7 12 7-12zM2799 2043l7-12 6 11z"/><path class=bD d="M2576 1872l6 11 7-16zM2582 1883l7-16 5 13zM2594 1880l6 16 7-16zM2671 1898l6 17 7-11 6 15 7-10 6 13 7-10 6 11 7-9-13-2-13-3-13-5zM2600 1896l7-16 6 17 7-16 6 17zM2651 1906l8-13 5 17 7-12 6 17 7-11 6 15-13-4-13-5zM2703 1922l7-10 6 11zM2716 1923l6 9 7-10zM2709 1933l7-10 6 9zM2715 1941l7-9 6 8zM2715 1941l6 9 7-10zM2721 1950l7-10 7 9zM2721 1950l7 10 7-11zM2728 1960l7-11 6 10zM2728 1960l6 10 7-11zM2734 1970l7-11 6 10zM2734 1970l6 11 7-12zM2740 1981l7-12 6 11zM2746 1992l7-12 7 11zM2760 1991l6 12 7-13zM2766 2003l7-13 6 13zM2779 2003l7 14 7-13zM2786 2017l7-13 6 14zM2799 2018l7 13 7-12zM2806 2031l7-12 6 11zM2806 2031l6 11 7-12z"/><path class=bE d="M2704 1896l6 16 7-12zM2684 1904l7-13 6 18 7-13 6 16 7-12 6 14-13-2-13-3zM2607 1880l6 17 7-16 6 17 7-14 6 18 7-14 5 18 8-13 5 17 7-12-25-10-13-4-13-3zM2723 1914l6 8 7-9zM2626 1898l7-14 6 18 7-14 5 18zM2716 1923l7-9 6 8zM2722 1932l7-10 6 7zM2722 1932l6 8 7-11zM2728 1940l7 9 7-12zM2735 1949l6 10 7-13zM2741 1959l6 10 7-13zM2747 1969l6 11 8-13zM2753 1980l8-13 6 11zM2753 1980l7 11 7-13zM2760 1991l7-13 6 12zM2773 1990l6 13 8-14zM2779 2003l8-14 6 15zM2793 2004l6 14 7-14zM2799 2018l7-14 7 15zM2813 2019l6 11 7-12z"/><path class=bF d="M2589 1867l5 13 8-15zM2678 1885l6 19 7-13 6 18 7-13-13-5zM2717 1900l6 14 7-12zM2594 1880l8-15 5 15zM2659 1893l7-13 5 18 7-13 6 19zM2723 1914l7-12 6 11zM2729 1922l7-9 6 6zM2729 1922l6 7 7-10zM2728 1940l7-11 7 8zM2735 1949l7-12 6 9zM2741 1959l7-13 6 10zM2747 1969l7-13 7 11zM2767 1978l6 12 7-13zM2773 1990l7-13 7 12zM2787 1989l6 15 7-15zM2793 2004l7-15 6 15zM2806 2004l7 15 7-15zM2813 2019l7-15 6 14z"/><path class=bG d="M2602 1865l5 15 7-15 6 16 7-14-13-2zM2653 1875l6 18 7-13 5 18 7-13zM2730 1902l6 11 7-12zM2607 1880l7-15 6 16 7-14 6 17 7-13 6 17 7-13 6 18-13-5-13-4-13-3zM2736 1913l7-12 6 8zM2736 1913l6 6 7-10zM2735 1929l7-10 7 7zM2735 1929l7 8 7-11zM2742 1937l7-11 6 7zM2742 1937l6 9 7-13zM2748 1946l6 10 7-14zM2754 1956l7 11 7-14zM2761 1967l7-14 6 12zM2761 1967l6 11 7-13zM2767 1978l7-13 6 12zM2806 2004l8-16 6 16zM2820 2004l6 14 7-14z"/><path class=bH d="M2627 1867l6 17 7-13 6 17 7-13zM2743 1901l6 8 7-12zM2742 1919l7-10 7 6zM2742 1919l7 7 7-11zM2748 1946l7-13 6 9zM2754 1956l7-14 7 11zM2774 1965l6 12 7-15zM2780 1977l7 12 7-14zM2787 1989l7-14 6 14zM2800 1989l6 15 8-16z"/><path class=bI d="M2749 1909l7-12 7 7zM2749 1909l7 6 7-11zM2749 1926l7-11 6 6zM2749 1926l6 7 7-12zM2755 1933l6 9 7-14zM2761 1942l7 11 7-15zM2768 1953l6 12 7-16zM2774 1965l7-16 6 13zM2780 1977l7-15 7 13zM2794 1975l6 14 7-16zM2800 1989l7-16 7 15zM2814 1988l6 16 7-16zM2820 2004l7-16 6 16z"/><path class=bJ d="M2756 1915l7-11 6 5zM2756 1915l6 6 7-12zM2755 1933l7-12 6 7zM2761 1942l7-14 7 10zM2768 1953l7-15 6 11zM2787 1962l7 13 7-16zM2794 1975l7-16 6 14zM2807 1973l7 15 7-16zM2814 1988l7-16 6 16zM2827 1988l6 16 8-18z"/><path class=bK d="M2756 1897l7 7 7-13zM2762 1921l6 7 7-14zM2775 1938l6 11 7-17zM2781 1949l6 13 8-17zM2787 1962l8-17 6 14zM2827 1988l7-18 7 16z"/><path class=bL d="M2763 1904l7-13 6 6zM2763 1904l6 5 7-12zM2762 1921l7-12 6 5zM2768 1928l7-14 7 7zM2768 1928l7 10 7-17zM2781 1949l7-17 7 13zM2801 1959l6 14 7-17zM2807 1973l7-17 7 16zM2821 1972l6 16 7-18z"/><path class=bM d="M2769 1909l7-12 7 3zM2769 1909l6 5 8-14zM2775 1938l7-17 6 11zM2795 1945l6 14 7-18zM2801 1959l7-18 6 15zM2814 1956l7 16 7-18zM2821 1972l7-18 6 16zM2834 1970l7 16 7-19z"/><path class=bN d="M2770 1891l6 6 7-14zM2775 1914l7 7 7-16zM2782 1921l6 11 7-18zM2788 1932l7 13 7-18zM2795 1945l7-18 6 14z"/><path class=bO d="M2776 1897l7-14 7 3zM2776 1897l7 3 7-14zM2775 1914l8-14 6 5zM2782 1921l7-16 6 9zM2788 1932l7-18 7 13zM2808 1941l6 15 8-18zM2814 1956l8-18 6 16zM2828 1954l6 16 7-18zM2834 1970l7-18 7 15z"/><path class=bP d="M2802 1927l6 14 7-20zM2808 1941l7-20 7 17zM2822 1938l6 16 7-19zM2828 1954l7-19 6 17zM2841 1952l7 15 7-19z"/><path class=bQ d="M2783 1883l7 3 7-15zM2783 1900l7-14 6 3zM2783 1900l6 5 7-16zM2795 1914l7 13 7-20z"/><path class=bR d="M2789 1905l7-16 7 7zM2789 1905l6 9 8-18zM2802 1927l7-20 6 14zM2815 1921l7 17 7-21zM2822 1938l7-21 6 18zM2835 1935l6 17 8-20zM2841 1952l8-20 6 16z"/><path class=bS d="M2790 1886l7-15 6 3zM2790 1886l6 3 7-15zM2795 1914l8-18 6 11z"/><path class=bT d="M2809 1907l6 14 8-21zM2815 1921l8-21 6 17zM2829 1917l6 18 8-22zM2835 1935l8-22 6 19zM2849 1932l6 16 7-20z"/><path class=bU d="M2796 1889l7-15 7 3zM2796 1889l7 7 7-19zM2803 1896l6 11 7-21z"/><path class=bV d="M2797 1871l6 3 7-16zM2803 1896l7-19 6 9zM2809 1907l7-21 7 14zM2823 1900l6 17 7-23zM2829 1917l7-23 7 19zM2843 1913l6 19 7-23zM2849 1932l7-23 6 19z"/><path class=bX d="M2803 1874l7-16 7 2zM2803 1874l7 3 7-17zM2816 1886l7 14 7-22zM2823 1900l7-22 6 16zM2856 1909l6 19 8-23z"/><path class=bY d="M2810 1877l6 9 8-20zM2836 1894l7 19 7-24zM2843 1913l7-24 6 20z"/><path class=bZ d="M2810 1877l7-17 7 6zM2816 1886l8-20 6 12z"/><path class=ca d="M2810 1858l7 2 7-18zM2830 1878l6 16 8-24zM2836 1894l8-24 6 19zM2850 1889l6 20 8-26zM2856 1909l8-26 6 22z"/><path class=cb d="M2817 1860l7 6 7-20zM2824 1866l6 12 7-22z"/><path class=cc d="M2817 1860l7-18 7 4zM2830 1878l7-22 7 14zM2864 1883l6 22 7-28z"/><path class=cd d="M2824 1866l7-20 6 10zM2844 1870l6 19 7-27zM2850 1889l7-27 7 21z"/><path class=cf d="M2824 1842l7 4 7-20zM2831 1846l6 10 8-23zM2837 1856l7 14 7-24zM2844 1870l7-24 6 16z"/><path class=cg d="M2857 1862l7 21 7-29zM2864 1883l7-29 6 23z"/><path class=ch d="M2831 1846l7-20 7 7zM2837 1856l8-23 6 13z"/><path class=ci d="M2851 1846l6 16 8-26z"/><path class=cj d="M2845 1833l6 13 8-25zM2857 1862l8-26 6 18zM2871 1854l6 23 8-30z"/><path class=ck d="M2838 1826l7 7 7-23zM2851 1846l8-25 6 15z"/><path class=cl d="M2845 1833l7-23 7 11z"/><path class=cm d="M2865 1836l6 18 8-29zM2871 1854l8-29 6 22z"/><path class=co d="M2852 1810l7 11 7-26zM2859 1821l6 15 7-28zM2865 1836l7-28 7 17z"/><path class=cp d="M2879 1825l6 22 8-31z"/><path class=cq d="M2859 1821l7-26 6 13z"/><path class=cs d="M2872 1808l7 17 8-31zM2879 1825l8-31 6 22z"/><path class=ct d="M2866 1795l6 13 8-31z"/><path class=cv d="M2872 1808l8-31 7 17z"/><path class=cw d="M2887 1794l6 22 8-32z"/><path class=cx d="M2880 1777l7 17 7-34 7 24 7-37-14 13zM2887 1794l7-34 7 24z"/></g></g><g transform="translate(-123.5 -17) scale(1.63056)">
   <text style="font-size:12px;text-anchor:middle" x="807.83" y="446.76">Nusselt vs Reynolds and Heat Flux</text><path d="M1035.81 753.09L1075.85 753.09L1075.85 552.87L1035.81 552.87z" style="fill:#ffffff"/><rect x="1035.81" y="552.87" width="40.04" height="200.22" fill="url(#vg)" fill-opacity=".8"/><path d="M0 0L3.5 0" transform="translate(1075.85 733.91)" style="stroke:#000000;stroke-width:0.8"/><text style="font-size:10px;text-anchor:start" x="1082.85" y="737.71">100</text><path d="M0 0L3.5 0" transform="translate(1075.85 705.53)" style="stroke:#000000;stroke-width:0.8"/><text style="font-size:10px;text-anchor:start" x="1082.85" y="709.33">150</text><path d="M0 0L3.5 0" transform="translate(1075.85 677.16)" style="stroke:#000000;stroke-width:0.8"/><text style="font-size:10px;text-anchor:start" x="1082.85" y="680.96">200</text><path d="M0 0L3.5 0" transform="translate(1075.85 648.78)" style="stroke:#000000;stroke-width:0.8"/><text style="font-size:10px;text-anchor:start" x="1082.85" y="652.58">250</text><path d="M0 0L3.5 0" transform="translate(1075.85 620.4)" style="stroke:#000000;stroke-width:0.8"/><text style="font-size:10px;text-anchor:start" x="1082.85" y="624.2">300</text><path d="M0 0L3.5 0" transform="translate(1075.85 592.03)" style="stroke:#000000;stroke-width:0.8"/><text style="font-size:10px;text-anchor:start" x="1082.85" y="595.83">350</text><path d="M0 0L3.5 0" transform="translate(1075.85 563.65)" style="stroke:#000000;stroke-width:0.8"/><text style="font-size:10px;text-anchor:start" x="1082.85" y="567.45">400</text><text style="font-size:10px;text-anchor:middle" x="1113.54" y="652.98" transform="rotate(-90 1113.54 652.98)">Nusselt Number</text><path d="M1035.81 753.09L1055.83 753.09L1075.85 753.09L1075.85 552.87L1055.83 552.87L1035.81 552.87L1035.81 753.09z" style="fill:none;stroke:#000000;stroke-width:0.8;stroke-linejoin:miter;stroke-linecap:square"/>
 
</g></svg></body></html>
